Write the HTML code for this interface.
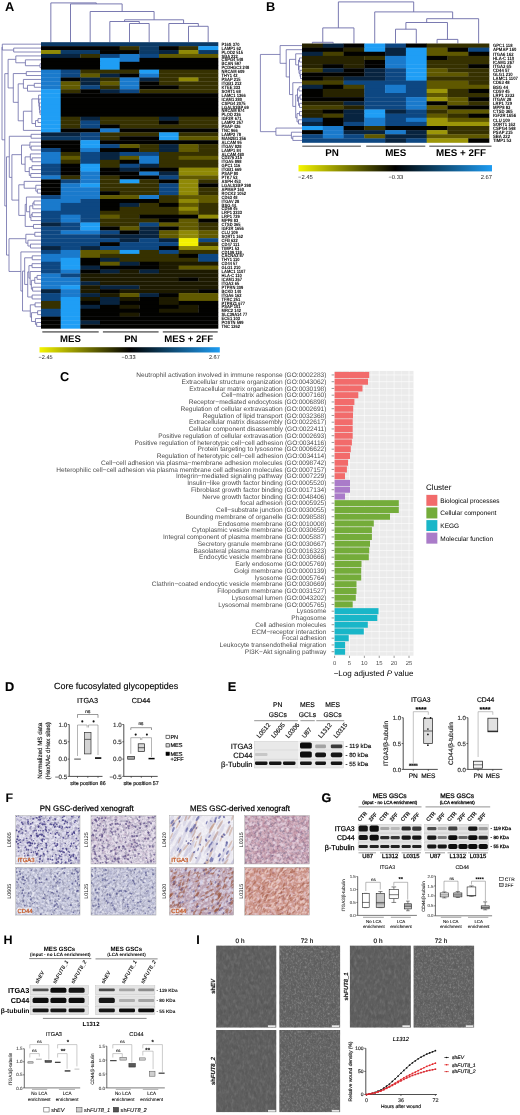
<!DOCTYPE html>
<html><head><meta charset="utf-8"><title>Figure</title>
<style>html,body{margin:0;padding:0;background:#fff;} svg{display:block;} text{font-family:"Liberation Sans",Arial,sans-serif;text-rendering:geometricPrecision;} .sb text{stroke:#1a1a1a;stroke-width:0.28px;paint-order:stroke;} .sb2 text{stroke:#1a1a1a;stroke-width:0.16px;paint-order:stroke;} .sb3 text{stroke:#333;stroke-width:0.08px;paint-order:stroke;}</style>
</head><body>
<svg width="520" height="1115" viewBox="0 0 520 1115">
<defs><linearGradient id="cbar" x1="0" x2="1" y1="0" y2="0">
<stop offset="0" stop-color="#f5f500"/><stop offset="0.5" stop-color="#000"/><stop offset="1" stop-color="#1e9cf2"/></linearGradient><filter id="nzL" x="0" y="0" width="100%" height="100%" color-interpolation-filters="sRGB"><feTurbulence type="fractalNoise" baseFrequency="0.4" numOctaves="2" seed="4"/><feColorMatrix type="matrix" values="0 0 0 0 1.000 0 0 0 0 1.000 0 0 0 0 1.000 1.4 0 0 0 -0.55"/><feComposite in2="SourceGraphic" operator="in"/></filter><filter id="nzD" x="0" y="0" width="100%" height="100%" color-interpolation-filters="sRGB"><feTurbulence type="fractalNoise" baseFrequency="0.4" numOctaves="2" seed="9"/><feColorMatrix type="matrix" values="0 0 0 0 0.235 0 0 0 0 0.235 0 0 0 0 0.392 1.0 0 0 0 -0.42"/><feComposite in2="SourceGraphic" operator="in"/></filter><filter id="nzB" x="0" y="0" width="100%" height="100%" color-interpolation-filters="sRGB"><feTurbulence type="fractalNoise" baseFrequency="0.3" numOctaves="2" seed="12"/><feColorMatrix type="matrix" values="0 0 0 0 0.588 0 0 0 0 0.275 0 0 0 0 0.235 1.6 0 0 0 -0.65"/><feComposite in2="SourceGraphic" operator="in"/></filter><filter id="nzP" x="0" y="0" width="100%" height="100%" color-interpolation-filters="sRGB"><feTurbulence type="fractalNoise" baseFrequency="0.3" numOctaves="2" seed="21"/><feColorMatrix type="matrix" values="0 0 0 0 0.941 0 0 0 0 0.882 0 0 0 0 0.941 1.6 0 0 0 -0.6"/><feComposite in2="SourceGraphic" operator="in"/></filter><filter id="gL" x="0" y="0" width="100%" height="100%" color-interpolation-filters="sRGB"><feTurbulence type="fractalNoise" baseFrequency="0.35 0.2" numOctaves="2" seed="5"/><feColorMatrix type="matrix" values="0 0 0 0 0.529 0 0 0 0 0.529 0 0 0 0 0.529 1.0 0 0 0 -0.42"/><feComposite in2="SourceGraphic" operator="in"/></filter><filter id="gD" x="0" y="0" width="100%" height="100%" color-interpolation-filters="sRGB"><feTurbulence type="fractalNoise" baseFrequency="0.35 0.2" numOctaves="2" seed="7"/><feColorMatrix type="matrix" values="0 0 0 0 0.294 0 0 0 0 0.294 0 0 0 0 0.294 1.0 0 0 0 -0.42"/><feComposite in2="SourceGraphic" operator="in"/></filter><filter id="gL2" x="0" y="0" width="100%" height="100%" color-interpolation-filters="sRGB"><feTurbulence type="fractalNoise" baseFrequency="0.6 0.45" numOctaves="2" seed="15"/><feColorMatrix type="matrix" values="0 0 0 0 0.588 0 0 0 0 0.588 0 0 0 0 0.588 1.6 0 0 0 -0.72"/><feComposite in2="SourceGraphic" operator="in"/></filter><filter id="b1" x="-20%" y="-60%" width="140%" height="220%"><feGaussianBlur stdDeviation="0.55"/></filter><filter id="b2" x="-20%" y="-20%" width="140%" height="140%"><feGaussianBlur stdDeviation="0.35"/></filter></defs>
<rect width="520" height="1115" fill="#fff"/>
<text x="5" y="10.8" font-size="12.8" font-weight="bold">A</text>
<path d="M129.50 42.20V23.50H149.17V42.20M109.83 42.20V21.50H139.34V23.50M188.50 42.20V26.30H208.17V42.20M168.84 42.20V23.50H198.34V26.30M124.58 21.50V19.80H183.59V23.50M90.17 42.20V11.50H154.09V19.80M70.50 42.20V3.90H122.13V11.50M50.83 42.20V2.90H96.31V3.90" fill="none" stroke="#6b6ba8" stroke-width="0.9"/>
<rect x="41.00" y="42.20" width="177.30" height="4.22" fill="#0b3a66"/>
<rect x="41.00" y="46.12" width="78.97" height="4.22" fill="#020200"/>
<rect x="119.67" y="46.12" width="19.97" height="4.22" fill="#363100"/>
<rect x="139.34" y="46.12" width="19.97" height="4.22" fill="#0b3a66"/>
<rect x="159.00" y="46.12" width="19.97" height="4.22" fill="#020200"/>
<rect x="178.67" y="46.12" width="19.97" height="4.22" fill="#363100"/>
<rect x="198.34" y="46.12" width="19.97" height="4.22" fill="#1f9ef5"/>
<rect x="41.00" y="50.04" width="19.97" height="4.22" fill="#8f8906"/>
<rect x="60.67" y="50.04" width="39.63" height="4.22" fill="#0b3a66"/>
<rect x="100.00" y="50.04" width="39.63" height="4.22" fill="#020200"/>
<rect x="139.34" y="50.04" width="19.97" height="4.22" fill="#0b3a66"/>
<rect x="159.00" y="50.04" width="19.97" height="4.22" fill="#082440"/>
<rect x="178.67" y="50.04" width="19.97" height="4.22" fill="#8f8906"/>
<rect x="198.34" y="50.04" width="19.97" height="4.22" fill="#0b3a66"/>
<rect x="41.00" y="53.96" width="39.63" height="4.22" fill="#082440"/>
<rect x="80.33" y="53.96" width="19.97" height="4.22" fill="#363100"/>
<rect x="100.00" y="53.96" width="19.97" height="4.22" fill="#0d4782"/>
<rect x="119.67" y="53.96" width="19.97" height="4.22" fill="#1a7acc"/>
<rect x="139.34" y="53.96" width="19.97" height="4.22" fill="#0d4782"/>
<rect x="159.00" y="53.96" width="59.30" height="4.22" fill="#615a00"/>
<rect x="41.00" y="57.88" width="59.30" height="4.22" fill="#020200"/>
<rect x="100.00" y="57.88" width="19.97" height="4.22" fill="#1f9ef5"/>
<rect x="119.67" y="57.88" width="19.97" height="4.22" fill="#1a7acc"/>
<rect x="139.34" y="57.88" width="78.97" height="4.22" fill="#020200"/>
<rect x="41.00" y="61.80" width="59.30" height="4.22" fill="#020200"/>
<rect x="100.00" y="61.80" width="19.97" height="4.22" fill="#1f9ef5"/>
<rect x="119.67" y="61.80" width="98.64" height="4.22" fill="#020200"/>
<rect x="41.00" y="65.72" width="59.30" height="4.22" fill="#020200"/>
<rect x="100.00" y="65.72" width="19.97" height="4.22" fill="#1f9ef5"/>
<rect x="119.67" y="65.72" width="98.64" height="4.22" fill="#020200"/>
<rect x="41.00" y="69.64" width="19.97" height="4.22" fill="#1a7acc"/>
<rect x="60.67" y="69.64" width="19.97" height="4.22" fill="#0d4782"/>
<rect x="80.33" y="69.64" width="59.30" height="4.22" fill="#363100"/>
<rect x="139.34" y="69.64" width="19.97" height="4.22" fill="#1f9ef5"/>
<rect x="159.00" y="69.64" width="59.30" height="4.22" fill="#363100"/>
<rect x="41.00" y="73.56" width="19.97" height="4.22" fill="#1a7acc"/>
<rect x="60.67" y="73.56" width="19.97" height="4.22" fill="#0d4782"/>
<rect x="80.33" y="73.56" width="19.97" height="4.22" fill="#615a00"/>
<rect x="100.00" y="73.56" width="19.97" height="4.22" fill="#082440"/>
<rect x="119.67" y="73.56" width="19.97" height="4.22" fill="#020200"/>
<rect x="139.34" y="73.56" width="19.97" height="4.22" fill="#1a7acc"/>
<rect x="159.00" y="73.56" width="59.30" height="4.22" fill="#363100"/>
<rect x="41.00" y="77.48" width="19.97" height="4.22" fill="#1a7acc"/>
<rect x="60.67" y="77.48" width="19.97" height="4.22" fill="#020200"/>
<rect x="80.33" y="77.48" width="19.97" height="4.22" fill="#082440"/>
<rect x="100.00" y="77.48" width="19.97" height="4.22" fill="#363100"/>
<rect x="119.67" y="77.48" width="19.97" height="4.22" fill="#1a7acc"/>
<rect x="139.34" y="77.48" width="19.97" height="4.22" fill="#082440"/>
<rect x="159.00" y="77.48" width="19.97" height="4.22" fill="#363100"/>
<rect x="178.67" y="77.48" width="19.97" height="4.22" fill="#8f8906"/>
<rect x="198.34" y="77.48" width="19.97" height="4.22" fill="#363100"/>
<rect x="41.00" y="81.40" width="19.97" height="4.22" fill="#1a7acc"/>
<rect x="60.67" y="81.40" width="19.97" height="4.22" fill="#615a00"/>
<rect x="80.33" y="81.40" width="19.97" height="4.22" fill="#082440"/>
<rect x="100.00" y="81.40" width="19.97" height="4.22" fill="#615a00"/>
<rect x="119.67" y="81.40" width="19.97" height="4.22" fill="#1a7acc"/>
<rect x="139.34" y="81.40" width="19.97" height="4.22" fill="#020200"/>
<rect x="159.00" y="81.40" width="59.30" height="4.22" fill="#363100"/>
<rect x="41.00" y="85.32" width="19.97" height="4.22" fill="#1a7acc"/>
<rect x="60.67" y="85.32" width="19.97" height="4.22" fill="#615a00"/>
<rect x="80.33" y="85.32" width="19.97" height="4.22" fill="#0d4782"/>
<rect x="100.00" y="85.32" width="19.97" height="4.22" fill="#363100"/>
<rect x="119.67" y="85.32" width="19.97" height="4.22" fill="#1a7acc"/>
<rect x="139.34" y="85.32" width="39.63" height="4.22" fill="#020200"/>
<rect x="178.67" y="85.32" width="39.63" height="4.22" fill="#363100"/>
<rect x="41.00" y="89.24" width="19.97" height="4.22" fill="#1f9ef5"/>
<rect x="60.67" y="89.24" width="19.97" height="4.22" fill="#363100"/>
<rect x="80.33" y="89.24" width="19.97" height="4.22" fill="#020200"/>
<rect x="100.00" y="89.24" width="19.97" height="4.22" fill="#082440"/>
<rect x="119.67" y="89.24" width="19.97" height="4.22" fill="#0d4782"/>
<rect x="139.34" y="89.24" width="78.97" height="4.22" fill="#363100"/>
<rect x="41.00" y="93.16" width="19.97" height="4.22" fill="#1f9ef5"/>
<rect x="60.67" y="93.16" width="157.64" height="4.22" fill="#020200"/>
<rect x="41.00" y="97.08" width="19.97" height="4.22" fill="#1f9ef5"/>
<rect x="60.67" y="97.08" width="157.64" height="4.22" fill="#020200"/>
<rect x="41.00" y="101.00" width="19.97" height="4.22" fill="#1f9ef5"/>
<rect x="60.67" y="101.00" width="157.64" height="4.22" fill="#020200"/>
<rect x="41.00" y="104.92" width="19.97" height="4.22" fill="#1f9ef5"/>
<rect x="60.67" y="104.92" width="157.64" height="4.22" fill="#020200"/>
<rect x="41.00" y="108.84" width="19.97" height="4.22" fill="#1f9ef5"/>
<rect x="60.67" y="108.84" width="157.64" height="4.22" fill="#020200"/>
<rect x="41.00" y="112.76" width="19.97" height="4.22" fill="#1f9ef5"/>
<rect x="60.67" y="112.76" width="157.64" height="4.22" fill="#020200"/>
<rect x="41.00" y="116.68" width="19.97" height="4.22" fill="#1f9ef5"/>
<rect x="60.67" y="116.68" width="19.97" height="4.22" fill="#363100"/>
<rect x="80.33" y="116.68" width="19.97" height="4.22" fill="#082440"/>
<rect x="100.00" y="116.68" width="59.30" height="4.22" fill="#363100"/>
<rect x="159.00" y="116.68" width="19.97" height="4.22" fill="#082440"/>
<rect x="178.67" y="116.68" width="39.63" height="4.22" fill="#363100"/>
<rect x="41.00" y="120.60" width="19.97" height="4.22" fill="#1f9ef5"/>
<rect x="60.67" y="120.60" width="19.97" height="4.22" fill="#363100"/>
<rect x="80.33" y="120.60" width="19.97" height="4.22" fill="#0d4782"/>
<rect x="100.00" y="120.60" width="59.30" height="4.22" fill="#363100"/>
<rect x="159.00" y="120.60" width="19.97" height="4.22" fill="#020200"/>
<rect x="178.67" y="120.60" width="39.63" height="4.22" fill="#363100"/>
<rect x="41.00" y="124.52" width="19.97" height="4.22" fill="#1f9ef5"/>
<rect x="60.67" y="124.52" width="19.97" height="4.22" fill="#363100"/>
<rect x="80.33" y="124.52" width="19.97" height="4.22" fill="#0d4782"/>
<rect x="100.00" y="124.52" width="19.97" height="4.22" fill="#020200"/>
<rect x="119.67" y="124.52" width="98.64" height="4.22" fill="#363100"/>
<rect x="41.00" y="128.44" width="19.97" height="4.22" fill="#1f9ef5"/>
<rect x="60.67" y="128.44" width="39.63" height="4.22" fill="#020200"/>
<rect x="100.00" y="128.44" width="19.97" height="4.22" fill="#1a7acc"/>
<rect x="119.67" y="128.44" width="98.64" height="4.22" fill="#020200"/>
<rect x="41.00" y="132.36" width="39.63" height="4.22" fill="#082440"/>
<rect x="80.33" y="132.36" width="19.97" height="4.22" fill="#0d4782"/>
<rect x="100.00" y="132.36" width="59.30" height="4.22" fill="#363100"/>
<rect x="159.00" y="132.36" width="19.97" height="4.22" fill="#1f9ef5"/>
<rect x="178.67" y="132.36" width="39.63" height="4.22" fill="#363100"/>
<rect x="41.00" y="136.28" width="39.63" height="4.22" fill="#0b3a66"/>
<rect x="80.33" y="136.28" width="19.97" height="4.22" fill="#0d4782"/>
<rect x="100.00" y="136.28" width="19.97" height="4.22" fill="#363100"/>
<rect x="119.67" y="136.28" width="39.63" height="4.22" fill="#020200"/>
<rect x="159.00" y="136.28" width="19.97" height="4.22" fill="#1f9ef5"/>
<rect x="178.67" y="136.28" width="39.63" height="4.22" fill="#615a00"/>
<rect x="41.00" y="140.20" width="39.63" height="4.22" fill="#020200"/>
<rect x="80.33" y="140.20" width="19.97" height="4.22" fill="#1f9ef5"/>
<rect x="100.00" y="140.20" width="118.30" height="4.22" fill="#020200"/>
<rect x="41.00" y="144.12" width="39.63" height="4.22" fill="#020200"/>
<rect x="80.33" y="144.12" width="19.97" height="4.22" fill="#1f9ef5"/>
<rect x="100.00" y="144.12" width="19.97" height="4.22" fill="#0d4782"/>
<rect x="119.67" y="144.12" width="19.97" height="4.22" fill="#615a00"/>
<rect x="139.34" y="144.12" width="19.97" height="4.22" fill="#363100"/>
<rect x="159.00" y="144.12" width="19.97" height="4.22" fill="#082440"/>
<rect x="178.67" y="144.12" width="19.97" height="4.22" fill="#615a00"/>
<rect x="198.34" y="144.12" width="19.97" height="4.22" fill="#363100"/>
<rect x="41.00" y="148.04" width="19.97" height="4.22" fill="#0d4782"/>
<rect x="60.67" y="148.04" width="19.97" height="4.22" fill="#020200"/>
<rect x="80.33" y="148.04" width="19.97" height="4.22" fill="#1a7acc"/>
<rect x="100.00" y="148.04" width="39.63" height="4.22" fill="#020200"/>
<rect x="139.34" y="148.04" width="19.97" height="4.22" fill="#363100"/>
<rect x="159.00" y="148.04" width="19.97" height="4.22" fill="#082440"/>
<rect x="178.67" y="148.04" width="19.97" height="4.22" fill="#615a00"/>
<rect x="198.34" y="148.04" width="19.97" height="4.22" fill="#363100"/>
<rect x="41.00" y="151.96" width="19.97" height="4.22" fill="#1a7acc"/>
<rect x="60.67" y="151.96" width="19.97" height="4.22" fill="#363100"/>
<rect x="80.33" y="151.96" width="19.97" height="4.22" fill="#0d4782"/>
<rect x="100.00" y="151.96" width="19.97" height="4.22" fill="#082440"/>
<rect x="119.67" y="151.96" width="39.63" height="4.22" fill="#0d4782"/>
<rect x="159.00" y="151.96" width="59.30" height="4.22" fill="#363100"/>
<rect x="41.00" y="155.88" width="19.97" height="4.22" fill="#1a7acc"/>
<rect x="60.67" y="155.88" width="19.97" height="4.22" fill="#615a00"/>
<rect x="80.33" y="155.88" width="19.97" height="4.22" fill="#0d4782"/>
<rect x="100.00" y="155.88" width="19.97" height="4.22" fill="#082440"/>
<rect x="119.67" y="155.88" width="19.97" height="4.22" fill="#615a00"/>
<rect x="139.34" y="155.88" width="19.97" height="4.22" fill="#1a7acc"/>
<rect x="159.00" y="155.88" width="19.97" height="4.22" fill="#363100"/>
<rect x="178.67" y="155.88" width="39.63" height="4.22" fill="#615a00"/>
<rect x="41.00" y="159.80" width="19.97" height="4.22" fill="#1a7acc"/>
<rect x="60.67" y="159.80" width="19.97" height="4.22" fill="#363100"/>
<rect x="80.33" y="159.80" width="19.97" height="4.22" fill="#0d4782"/>
<rect x="100.00" y="159.80" width="19.97" height="4.22" fill="#363100"/>
<rect x="119.67" y="159.80" width="19.97" height="4.22" fill="#020200"/>
<rect x="139.34" y="159.80" width="19.97" height="4.22" fill="#1a7acc"/>
<rect x="159.00" y="159.80" width="59.30" height="4.22" fill="#363100"/>
<rect x="41.00" y="163.72" width="19.97" height="4.22" fill="#0d4782"/>
<rect x="60.67" y="163.72" width="19.97" height="4.22" fill="#020200"/>
<rect x="80.33" y="163.72" width="19.97" height="4.22" fill="#1f9ef5"/>
<rect x="100.00" y="163.72" width="19.97" height="4.22" fill="#363100"/>
<rect x="119.67" y="163.72" width="19.97" height="4.22" fill="#0d4782"/>
<rect x="139.34" y="163.72" width="19.97" height="4.22" fill="#082440"/>
<rect x="159.00" y="163.72" width="59.30" height="4.22" fill="#363100"/>
<rect x="41.00" y="167.64" width="19.97" height="4.22" fill="#0d4782"/>
<rect x="60.67" y="167.64" width="19.97" height="4.22" fill="#020200"/>
<rect x="80.33" y="167.64" width="19.97" height="4.22" fill="#1f9ef5"/>
<rect x="100.00" y="167.64" width="19.97" height="4.22" fill="#020200"/>
<rect x="119.67" y="167.64" width="19.97" height="4.22" fill="#082440"/>
<rect x="139.34" y="167.64" width="39.63" height="4.22" fill="#020200"/>
<rect x="178.67" y="167.64" width="39.63" height="4.22" fill="#8f8906"/>
<rect x="41.00" y="171.56" width="19.97" height="4.22" fill="#0d4782"/>
<rect x="60.67" y="171.56" width="19.97" height="4.22" fill="#020200"/>
<rect x="80.33" y="171.56" width="19.97" height="4.22" fill="#1a7acc"/>
<rect x="100.00" y="171.56" width="39.63" height="4.22" fill="#020200"/>
<rect x="139.34" y="171.56" width="19.97" height="4.22" fill="#1a7acc"/>
<rect x="159.00" y="171.56" width="19.97" height="4.22" fill="#082440"/>
<rect x="178.67" y="171.56" width="39.63" height="4.22" fill="#8f8906"/>
<rect x="41.00" y="175.48" width="19.97" height="4.22" fill="#1a7acc"/>
<rect x="60.67" y="175.48" width="19.97" height="4.22" fill="#363100"/>
<rect x="80.33" y="175.48" width="19.97" height="4.22" fill="#1a7acc"/>
<rect x="100.00" y="175.48" width="19.97" height="4.22" fill="#363100"/>
<rect x="119.67" y="175.48" width="39.63" height="4.22" fill="#020200"/>
<rect x="159.00" y="175.48" width="19.97" height="4.22" fill="#0d4782"/>
<rect x="178.67" y="175.48" width="39.63" height="4.22" fill="#615a00"/>
<rect x="41.00" y="179.40" width="19.97" height="4.22" fill="#020200"/>
<rect x="60.67" y="179.40" width="19.97" height="4.22" fill="#0d4782"/>
<rect x="80.33" y="179.40" width="19.97" height="4.22" fill="#1a7acc"/>
<rect x="100.00" y="179.40" width="19.97" height="4.22" fill="#363100"/>
<rect x="119.67" y="179.40" width="19.97" height="4.22" fill="#1f9ef5"/>
<rect x="139.34" y="179.40" width="19.97" height="4.22" fill="#363100"/>
<rect x="159.00" y="179.40" width="19.97" height="4.22" fill="#020200"/>
<rect x="178.67" y="179.40" width="19.97" height="4.22" fill="#8f8906"/>
<rect x="198.34" y="179.40" width="19.97" height="4.22" fill="#363100"/>
<rect x="41.00" y="183.32" width="19.97" height="4.22" fill="#020200"/>
<rect x="60.67" y="183.32" width="19.97" height="4.22" fill="#1a7acc"/>
<rect x="80.33" y="183.32" width="19.97" height="4.22" fill="#1f9ef5"/>
<rect x="100.00" y="183.32" width="59.30" height="4.22" fill="#363100"/>
<rect x="159.00" y="183.32" width="19.97" height="4.22" fill="#0d4782"/>
<rect x="178.67" y="183.32" width="19.97" height="4.22" fill="#8f8906"/>
<rect x="198.34" y="183.32" width="19.97" height="4.22" fill="#020200"/>
<rect x="41.00" y="187.24" width="19.97" height="4.22" fill="#020200"/>
<rect x="60.67" y="187.24" width="39.63" height="4.22" fill="#1a7acc"/>
<rect x="100.00" y="187.24" width="59.30" height="4.22" fill="#363100"/>
<rect x="159.00" y="187.24" width="19.97" height="4.22" fill="#0d4782"/>
<rect x="178.67" y="187.24" width="19.97" height="4.22" fill="#8f8906"/>
<rect x="198.34" y="187.24" width="19.97" height="4.22" fill="#363100"/>
<rect x="41.00" y="191.16" width="19.97" height="4.22" fill="#020200"/>
<rect x="60.67" y="191.16" width="39.63" height="4.22" fill="#1a7acc"/>
<rect x="100.00" y="191.16" width="19.97" height="4.22" fill="#020200"/>
<rect x="119.67" y="191.16" width="39.63" height="4.22" fill="#363100"/>
<rect x="159.00" y="191.16" width="19.97" height="4.22" fill="#0d4782"/>
<rect x="178.67" y="191.16" width="19.97" height="4.22" fill="#8f8906"/>
<rect x="198.34" y="191.16" width="19.97" height="4.22" fill="#363100"/>
<rect x="41.00" y="195.08" width="19.97" height="4.22" fill="#0d4782"/>
<rect x="60.67" y="195.08" width="39.63" height="4.22" fill="#1a7acc"/>
<rect x="100.00" y="195.08" width="39.63" height="4.22" fill="#615a00"/>
<rect x="139.34" y="195.08" width="19.97" height="4.22" fill="#1a7acc"/>
<rect x="159.00" y="195.08" width="19.97" height="4.22" fill="#363100"/>
<rect x="178.67" y="195.08" width="39.63" height="4.22" fill="#615a00"/>
<rect x="41.00" y="199.00" width="39.63" height="4.22" fill="#1a7acc"/>
<rect x="80.33" y="199.00" width="19.97" height="4.22" fill="#0d4782"/>
<rect x="100.00" y="199.00" width="59.30" height="4.22" fill="#020200"/>
<rect x="159.00" y="199.00" width="19.97" height="4.22" fill="#363100"/>
<rect x="178.67" y="199.00" width="19.97" height="4.22" fill="#8f8906"/>
<rect x="198.34" y="199.00" width="19.97" height="4.22" fill="#615a00"/>
<rect x="41.00" y="202.92" width="19.97" height="4.22" fill="#1a7acc"/>
<rect x="60.67" y="202.92" width="39.63" height="4.22" fill="#0d4782"/>
<rect x="100.00" y="202.92" width="19.97" height="4.22" fill="#020200"/>
<rect x="119.67" y="202.92" width="19.97" height="4.22" fill="#082440"/>
<rect x="139.34" y="202.92" width="19.97" height="4.22" fill="#363100"/>
<rect x="159.00" y="202.92" width="19.97" height="4.22" fill="#020200"/>
<rect x="178.67" y="202.92" width="19.97" height="4.22" fill="#615a00"/>
<rect x="198.34" y="202.92" width="19.97" height="4.22" fill="#363100"/>
<rect x="41.00" y="206.84" width="19.97" height="4.22" fill="#1a7acc"/>
<rect x="60.67" y="206.84" width="39.63" height="4.22" fill="#0d4782"/>
<rect x="100.00" y="206.84" width="19.97" height="4.22" fill="#020200"/>
<rect x="119.67" y="206.84" width="59.30" height="4.22" fill="#363100"/>
<rect x="178.67" y="206.84" width="19.97" height="4.22" fill="#8f8906"/>
<rect x="198.34" y="206.84" width="19.97" height="4.22" fill="#363100"/>
<rect x="41.00" y="210.76" width="59.30" height="4.22" fill="#0d4782"/>
<rect x="100.00" y="210.76" width="78.97" height="4.22" fill="#363100"/>
<rect x="178.67" y="210.76" width="19.97" height="4.22" fill="#615a00"/>
<rect x="198.34" y="210.76" width="19.97" height="4.22" fill="#363100"/>
<rect x="41.00" y="214.68" width="19.97" height="4.22" fill="#0d4782"/>
<rect x="60.67" y="214.68" width="19.97" height="4.22" fill="#1a7acc"/>
<rect x="80.33" y="214.68" width="19.97" height="4.22" fill="#0d4782"/>
<rect x="100.00" y="214.68" width="19.97" height="4.22" fill="#615a00"/>
<rect x="119.67" y="214.68" width="19.97" height="4.22" fill="#363100"/>
<rect x="139.34" y="214.68" width="59.30" height="4.22" fill="#020200"/>
<rect x="198.34" y="214.68" width="19.97" height="4.22" fill="#8f8906"/>
<rect x="41.00" y="218.60" width="19.97" height="4.22" fill="#0d4782"/>
<rect x="60.67" y="218.60" width="19.97" height="4.22" fill="#1a7acc"/>
<rect x="80.33" y="218.60" width="19.97" height="4.22" fill="#0d4782"/>
<rect x="100.00" y="218.60" width="59.30" height="4.22" fill="#363100"/>
<rect x="159.00" y="218.60" width="19.97" height="4.22" fill="#020200"/>
<rect x="178.67" y="218.60" width="19.97" height="4.22" fill="#615a00"/>
<rect x="198.34" y="218.60" width="19.97" height="4.22" fill="#020200"/>
<rect x="41.00" y="222.52" width="19.97" height="4.22" fill="#082440"/>
<rect x="60.67" y="222.52" width="19.97" height="4.22" fill="#0d4782"/>
<rect x="80.33" y="222.52" width="19.97" height="4.22" fill="#1f9ef5"/>
<rect x="100.00" y="222.52" width="39.63" height="4.22" fill="#363100"/>
<rect x="139.34" y="222.52" width="19.97" height="4.22" fill="#0d4782"/>
<rect x="159.00" y="222.52" width="39.63" height="4.22" fill="#615a00"/>
<rect x="198.34" y="222.52" width="19.97" height="4.22" fill="#363100"/>
<rect x="41.00" y="226.44" width="39.63" height="4.22" fill="#0d4782"/>
<rect x="80.33" y="226.44" width="19.97" height="4.22" fill="#1f9ef5"/>
<rect x="100.00" y="226.44" width="19.97" height="4.22" fill="#020200"/>
<rect x="119.67" y="226.44" width="19.97" height="4.22" fill="#615a00"/>
<rect x="139.34" y="226.44" width="19.97" height="4.22" fill="#082440"/>
<rect x="159.00" y="226.44" width="19.97" height="4.22" fill="#020200"/>
<rect x="178.67" y="226.44" width="19.97" height="4.22" fill="#615a00"/>
<rect x="198.34" y="226.44" width="19.97" height="4.22" fill="#363100"/>
<rect x="41.00" y="230.36" width="19.97" height="4.22" fill="#0d4782"/>
<rect x="60.67" y="230.36" width="39.63" height="4.22" fill="#1a7acc"/>
<rect x="100.00" y="230.36" width="19.97" height="4.22" fill="#0d4782"/>
<rect x="119.67" y="230.36" width="19.97" height="4.22" fill="#020200"/>
<rect x="139.34" y="230.36" width="19.97" height="4.22" fill="#082440"/>
<rect x="159.00" y="230.36" width="19.97" height="4.22" fill="#615a00"/>
<rect x="178.67" y="230.36" width="19.97" height="4.22" fill="#8f8906"/>
<rect x="198.34" y="230.36" width="19.97" height="4.22" fill="#615a00"/>
<rect x="41.00" y="234.28" width="59.30" height="4.22" fill="#0d4782"/>
<rect x="100.00" y="234.28" width="59.30" height="4.22" fill="#082440"/>
<rect x="159.00" y="234.28" width="19.97" height="4.22" fill="#615a00"/>
<rect x="178.67" y="234.28" width="19.97" height="4.22" fill="#8f8906"/>
<rect x="198.34" y="234.28" width="19.97" height="4.22" fill="#615a00"/>
<rect x="41.00" y="238.20" width="78.97" height="4.22" fill="#0d4782"/>
<rect x="119.67" y="238.20" width="19.97" height="4.22" fill="#082440"/>
<rect x="139.34" y="238.20" width="19.97" height="4.22" fill="#0d4782"/>
<rect x="159.00" y="238.20" width="19.97" height="4.22" fill="#082440"/>
<rect x="178.67" y="238.20" width="19.97" height="4.22" fill="#f2f000"/>
<rect x="198.34" y="238.20" width="19.97" height="4.22" fill="#0d4782"/>
<rect x="41.00" y="242.12" width="59.30" height="4.22" fill="#0d4782"/>
<rect x="100.00" y="242.12" width="19.97" height="4.22" fill="#020200"/>
<rect x="119.67" y="242.12" width="59.30" height="4.22" fill="#0d4782"/>
<rect x="178.67" y="242.12" width="19.97" height="4.22" fill="#f2f000"/>
<rect x="198.34" y="242.12" width="19.97" height="4.22" fill="#363100"/>
<rect x="41.00" y="246.04" width="19.97" height="4.22" fill="#082440"/>
<rect x="60.67" y="246.04" width="19.97" height="4.22" fill="#0d4782"/>
<rect x="80.33" y="246.04" width="19.97" height="4.22" fill="#082440"/>
<rect x="100.00" y="246.04" width="59.30" height="4.22" fill="#0d4782"/>
<rect x="159.00" y="246.04" width="19.97" height="4.22" fill="#020200"/>
<rect x="178.67" y="246.04" width="39.63" height="4.22" fill="#8f8906"/>
<rect x="41.00" y="249.96" width="19.97" height="4.22" fill="#0d4782"/>
<rect x="60.67" y="249.96" width="19.97" height="4.22" fill="#1a7acc"/>
<rect x="80.33" y="249.96" width="39.63" height="4.22" fill="#615a00"/>
<rect x="119.67" y="249.96" width="19.97" height="4.22" fill="#1f9ef5"/>
<rect x="139.34" y="249.96" width="19.97" height="4.22" fill="#363100"/>
<rect x="159.00" y="249.96" width="19.97" height="4.22" fill="#0d4782"/>
<rect x="178.67" y="249.96" width="39.63" height="4.22" fill="#363100"/>
<rect x="41.00" y="253.88" width="39.63" height="4.22" fill="#1a7acc"/>
<rect x="80.33" y="253.88" width="19.97" height="4.22" fill="#615a00"/>
<rect x="100.00" y="253.88" width="78.97" height="4.22" fill="#363100"/>
<rect x="178.67" y="253.88" width="19.97" height="4.22" fill="#020200"/>
<rect x="198.34" y="253.88" width="19.97" height="4.22" fill="#0d4782"/>
<rect x="41.00" y="257.80" width="19.97" height="4.22" fill="#1a7acc"/>
<rect x="60.67" y="257.80" width="19.97" height="4.22" fill="#1f9ef5"/>
<rect x="80.33" y="257.80" width="19.97" height="4.22" fill="#020200"/>
<rect x="100.00" y="257.80" width="19.97" height="4.22" fill="#082440"/>
<rect x="119.67" y="257.80" width="78.97" height="4.22" fill="#363100"/>
<rect x="198.34" y="257.80" width="19.97" height="4.22" fill="#0d4782"/>
<rect x="41.00" y="261.72" width="19.97" height="4.22" fill="#0d4782"/>
<rect x="60.67" y="261.72" width="19.97" height="4.22" fill="#1f9ef5"/>
<rect x="80.33" y="261.72" width="19.97" height="4.22" fill="#020200"/>
<rect x="100.00" y="261.72" width="19.97" height="4.22" fill="#615a00"/>
<rect x="119.67" y="261.72" width="19.97" height="4.22" fill="#082440"/>
<rect x="139.34" y="261.72" width="19.97" height="4.22" fill="#020200"/>
<rect x="159.00" y="261.72" width="59.30" height="4.22" fill="#1d1a00"/>
<rect x="41.00" y="265.64" width="19.97" height="4.22" fill="#0d4782"/>
<rect x="60.67" y="265.64" width="19.97" height="4.22" fill="#1f9ef5"/>
<rect x="80.33" y="265.64" width="19.97" height="4.22" fill="#082440"/>
<rect x="100.00" y="265.64" width="59.30" height="4.22" fill="#020200"/>
<rect x="159.00" y="265.64" width="19.97" height="4.22" fill="#1d1a00"/>
<rect x="178.67" y="265.64" width="39.63" height="4.22" fill="#615a00"/>
<rect x="41.00" y="269.56" width="19.97" height="4.22" fill="#0d4782"/>
<rect x="60.67" y="269.56" width="19.97" height="4.22" fill="#1a7acc"/>
<rect x="80.33" y="269.56" width="19.97" height="4.22" fill="#020200"/>
<rect x="100.00" y="269.56" width="19.97" height="4.22" fill="#082440"/>
<rect x="119.67" y="269.56" width="19.97" height="4.22" fill="#1d1a00"/>
<rect x="139.34" y="269.56" width="19.97" height="4.22" fill="#082440"/>
<rect x="159.00" y="269.56" width="59.30" height="4.22" fill="#1d1a00"/>
<rect x="41.00" y="273.48" width="19.97" height="4.22" fill="#1a7acc"/>
<rect x="60.67" y="273.48" width="19.97" height="4.22" fill="#0d4782"/>
<rect x="80.33" y="273.48" width="137.97" height="4.22" fill="#1d1a00"/>
<rect x="41.00" y="277.40" width="39.63" height="4.22" fill="#1a7acc"/>
<rect x="80.33" y="277.40" width="98.64" height="4.22" fill="#1d1a00"/>
<rect x="178.67" y="277.40" width="19.97" height="4.22" fill="#020200"/>
<rect x="198.34" y="277.40" width="19.97" height="4.22" fill="#1d1a00"/>
<rect x="41.00" y="281.32" width="39.63" height="4.22" fill="#1a7acc"/>
<rect x="80.33" y="281.32" width="19.97" height="4.22" fill="#082440"/>
<rect x="100.00" y="281.32" width="118.30" height="4.22" fill="#1d1a00"/>
<rect x="41.00" y="285.24" width="19.97" height="4.22" fill="#1a7acc"/>
<rect x="60.67" y="285.24" width="19.97" height="4.22" fill="#1f9ef5"/>
<rect x="80.33" y="285.24" width="19.97" height="4.22" fill="#1d1a00"/>
<rect x="100.00" y="285.24" width="39.63" height="4.22" fill="#082440"/>
<rect x="139.34" y="285.24" width="78.97" height="4.22" fill="#1d1a00"/>
<rect x="41.00" y="289.16" width="19.97" height="4.22" fill="#082440"/>
<rect x="60.67" y="289.16" width="19.97" height="4.22" fill="#1a7acc"/>
<rect x="80.33" y="289.16" width="19.97" height="4.22" fill="#1d1a00"/>
<rect x="100.00" y="289.16" width="19.97" height="4.22" fill="#020200"/>
<rect x="119.67" y="289.16" width="78.97" height="4.22" fill="#1d1a00"/>
<rect x="198.34" y="289.16" width="19.97" height="4.22" fill="#020200"/>
<rect x="41.00" y="293.08" width="19.97" height="4.22" fill="#0d4782"/>
<rect x="60.67" y="293.08" width="19.97" height="4.22" fill="#1a7acc"/>
<rect x="80.33" y="293.08" width="19.97" height="4.22" fill="#082440"/>
<rect x="100.00" y="293.08" width="19.97" height="4.22" fill="#1d1a00"/>
<rect x="119.67" y="293.08" width="19.97" height="4.22" fill="#615a00"/>
<rect x="139.34" y="293.08" width="19.97" height="4.22" fill="#082440"/>
<rect x="159.00" y="293.08" width="19.97" height="4.22" fill="#020200"/>
<rect x="178.67" y="293.08" width="39.63" height="4.22" fill="#615a00"/>
<rect x="41.00" y="297.00" width="19.97" height="4.22" fill="#0d4782"/>
<rect x="60.67" y="297.00" width="19.97" height="4.22" fill="#1f9ef5"/>
<rect x="80.33" y="297.00" width="19.97" height="4.22" fill="#1d1a00"/>
<rect x="100.00" y="297.00" width="19.97" height="4.22" fill="#082440"/>
<rect x="119.67" y="297.00" width="19.97" height="4.22" fill="#1d1a00"/>
<rect x="139.34" y="297.00" width="19.97" height="4.22" fill="#020200"/>
<rect x="159.00" y="297.00" width="19.97" height="4.22" fill="#1d1a00"/>
<rect x="178.67" y="297.00" width="39.63" height="4.22" fill="#615a00"/>
<rect x="41.00" y="300.92" width="19.97" height="4.22" fill="#363100"/>
<rect x="60.67" y="300.92" width="19.97" height="4.22" fill="#1f9ef5"/>
<rect x="80.33" y="300.92" width="19.97" height="4.22" fill="#020200"/>
<rect x="100.00" y="300.92" width="19.97" height="4.22" fill="#082440"/>
<rect x="119.67" y="300.92" width="39.63" height="4.22" fill="#020200"/>
<rect x="159.00" y="300.92" width="19.97" height="4.22" fill="#1d1a00"/>
<rect x="178.67" y="300.92" width="39.63" height="4.22" fill="#020200"/>
<rect x="41.00" y="304.84" width="19.97" height="4.22" fill="#363100"/>
<rect x="60.67" y="304.84" width="19.97" height="4.22" fill="#1f9ef5"/>
<rect x="80.33" y="304.84" width="19.97" height="4.22" fill="#082440"/>
<rect x="100.00" y="304.84" width="19.97" height="4.22" fill="#020200"/>
<rect x="119.67" y="304.84" width="19.97" height="4.22" fill="#1d1a00"/>
<rect x="139.34" y="304.84" width="39.63" height="4.22" fill="#020200"/>
<rect x="178.67" y="304.84" width="19.97" height="4.22" fill="#1d1a00"/>
<rect x="198.34" y="304.84" width="19.97" height="4.22" fill="#020200"/>
<rect x="41.00" y="308.76" width="19.97" height="4.22" fill="#0d4782"/>
<rect x="60.67" y="308.76" width="19.97" height="4.22" fill="#1f9ef5"/>
<rect x="80.33" y="308.76" width="78.97" height="4.22" fill="#020200"/>
<rect x="159.00" y="308.76" width="39.63" height="4.22" fill="#1d1a00"/>
<rect x="198.34" y="308.76" width="19.97" height="4.22" fill="#020200"/>
<rect x="41.00" y="312.68" width="19.97" height="4.22" fill="#0d4782"/>
<rect x="60.67" y="312.68" width="19.97" height="4.22" fill="#1f9ef5"/>
<rect x="80.33" y="312.68" width="39.63" height="4.22" fill="#020200"/>
<rect x="119.67" y="312.68" width="19.97" height="4.22" fill="#1d1a00"/>
<rect x="139.34" y="312.68" width="78.97" height="4.22" fill="#020200"/>
<rect x="41.00" y="316.60" width="19.97" height="4.22" fill="#020200"/>
<rect x="60.67" y="316.60" width="19.97" height="4.22" fill="#1f9ef5"/>
<rect x="80.33" y="316.60" width="137.97" height="4.22" fill="#020200"/>
<rect x="41.00" y="320.52" width="19.97" height="4.22" fill="#020200"/>
<rect x="60.67" y="320.52" width="19.97" height="4.22" fill="#1f9ef5"/>
<rect x="80.33" y="320.52" width="19.97" height="4.22" fill="#082440"/>
<rect x="100.00" y="320.52" width="118.30" height="4.22" fill="#020200"/>
<rect x="41.00" y="324.44" width="19.97" height="4.22" fill="#020200"/>
<rect x="60.67" y="324.44" width="19.97" height="4.22" fill="#1f9ef5"/>
<rect x="80.33" y="324.44" width="137.97" height="4.22" fill="#020200"/>
<path d="M41.00 48.08H13.70V52.00H41.00M41.00 44.16H2.30V50.04H13.70M41.00 63.76H40.00V67.68H41.00M41.00 59.84H25.40V65.72H40.00M41.00 55.92H15.80V62.78H25.40M41.00 71.60H26.30V75.52H41.00M41.00 83.36H34.30V87.28H41.00M34.30 85.32H27.50V91.20H41.00M41.00 79.44H23.40V88.26H27.50M41.00 110.80H40.12V114.72H41.00M41.00 106.88H39.74V112.76H40.12M41.00 102.96H39.36V109.82H39.74M41.00 99.04H38.98V106.39H39.36M41.00 95.12H38.60V102.72H38.98M41.00 118.64H38.00V122.56H41.00M38.00 120.60H35.50V126.48H41.00M38.60 98.92H31.90V123.54H35.50M31.90 111.23H23.40V130.40H41.00M23.40 83.85H18.20V120.81H23.40M26.30 73.56H13.30V102.33H18.20M15.80 59.35H8.10V87.95H13.30M41.00 134.32H31.10V138.24H41.00M41.00 146.08H31.11V150.00H41.00M41.00 142.16H29.91V148.04H31.11M41.00 157.84H32.05V161.76H41.00M41.00 153.92H30.33V159.80H32.05M41.00 165.68H31.93V169.60H41.00M41.00 173.52H30.76V177.44H41.00M31.93 167.64H29.29V175.48H30.76M30.33 156.86H25.10V171.56H29.29M29.91 145.10H21.51V164.21H25.10M41.00 189.20H37.37V193.12H41.00M41.00 185.28H35.82V191.16H37.37M41.00 181.36H24.16V188.22H35.82M41.00 200.96H34.00V204.88H41.00M34.00 202.92H32.80V208.80H41.00M41.00 212.72H32.14V216.64H41.00M32.14 214.68H30.93V220.56H41.00M32.80 205.86H29.73V217.62H30.93M41.00 197.04H26.42V211.74H29.73M41.00 224.48H33.49V228.40H41.00M26.42 204.39H25.21V226.44H33.49M24.16 184.79H18.79V215.42H25.21M21.51 154.66H11.90V200.10H18.79M31.10 136.28H9.30V177.38H11.90M41.00 232.32H34.81V236.24H41.00M41.00 244.08H30.44V248.00H41.00M41.00 240.16H27.91V246.04H30.44M34.81 234.28H25.87V243.10H27.91M41.00 255.84H32.23V259.76H41.00M41.00 263.68H32.05V267.60H41.00M41.00 275.44H37.07V279.36H41.00M37.07 277.40H34.78V283.28H41.00M41.00 287.20H32.60V291.12H41.00M34.78 280.34H31.38V289.16H32.60M41.00 271.52H30.16V284.75H31.38M32.05 265.64H28.94V278.13H30.16M41.00 295.04H32.11V298.96H41.00M28.94 271.89H27.72V297.00H32.11M32.23 257.80H24.67V284.44H27.72M41.00 302.88H35.09V306.80H41.00M41.00 310.72H37.61V314.64H41.00M41.00 322.48H36.67V326.40H41.00M41.00 318.56H35.45V324.44H36.67M37.61 312.68H31.53V321.50H35.45M35.09 304.84H30.31V317.09H31.53M24.67 271.12H22.52V310.97H30.31M41.00 251.92H20.88V291.04H22.52M25.87 238.69H9.00V271.48H20.88M9.30 156.83H6.50V255.09H9.00M8.10 73.65H4.80V205.96H6.50M2.30 47.10H2.00V139.80H4.80" fill="none" stroke="#6b6ba8" stroke-width="0.8"/>
<text transform="translate(221.6 45.78) scale(0.088 0.1)" font-size="46" font-weight="bold">P16S 370</text>
<text transform="translate(221.6 49.70) scale(0.088 0.1)" font-size="46" font-weight="bold">LAMP1 62</text>
<text transform="translate(221.6 53.62) scale(0.088 0.1)" font-size="46" font-weight="bold">PLOD2 515</text>
<text transform="translate(221.6 57.54) scale(0.088 0.1)" font-size="46" font-weight="bold">SBA 222</text>
<text transform="translate(221.6 61.46) scale(0.088 0.1)" font-size="46" font-weight="bold">CSPG4 548</text>
<text transform="translate(221.6 65.38) scale(0.088 0.1)" font-size="46" font-weight="bold">BCAN 597</text>
<text transform="translate(221.6 69.30) scale(0.088 0.1)" font-size="46" font-weight="bold">PCDHGC3 248</text>
<text transform="translate(221.6 73.22) scale(0.088 0.1)" font-size="46" font-weight="bold">NRCAM 609</text>
<text transform="translate(221.6 77.14) scale(0.088 0.1)" font-size="46" font-weight="bold">THY1 42</text>
<text transform="translate(221.6 81.06) scale(0.088 0.1)" font-size="46" font-weight="bold">PSAP 215</text>
<text transform="translate(221.6 84.98) scale(0.088 0.1)" font-size="46" font-weight="bold">ITGB1 212</text>
<text transform="translate(221.6 88.90) scale(0.088 0.1)" font-size="46" font-weight="bold">KTEE 333</text>
<text transform="translate(221.6 92.82) scale(0.088 0.1)" font-size="46" font-weight="bold">SORT1 68</text>
<text transform="translate(221.6 96.74) scale(0.088 0.1)" font-size="46" font-weight="bold">LAMC1 1366</text>
<text transform="translate(221.6 100.66) scale(0.088 0.1)" font-size="46" font-weight="bold">ICAM1 280</text>
<text transform="translate(221.6 104.58) scale(0.088 0.1)" font-size="46" font-weight="bold">CSPG4 2075</text>
<text transform="translate(221.6 108.50) scale(0.088 0.1)" font-size="46" font-weight="bold">LGALS3BP 69</text>
<text transform="translate(221.6 112.42) scale(0.088 0.1)" font-size="46" font-weight="bold">NRCAM 974</text>
<text transform="translate(221.6 116.34) scale(0.088 0.1)" font-size="46" font-weight="bold">PLOD 236</text>
<text transform="translate(221.6 120.26) scale(0.088 0.1)" font-size="46" font-weight="bold">IGF2R 671</text>
<text transform="translate(221.6 124.18) scale(0.088 0.1)" font-size="46" font-weight="bold">LAMP2 257</text>
<text transform="translate(221.6 128.10) scale(0.088 0.1)" font-size="46" font-weight="bold">PSAP 426</text>
<text transform="translate(221.6 132.02) scale(0.088 0.1)" font-size="46" font-weight="bold">TNC 966</text>
<text transform="translate(221.6 135.94) scale(0.088 0.1)" font-size="46" font-weight="bold">LAMP2 78</text>
<text transform="translate(221.6 139.86) scale(0.088 0.1)" font-size="46" font-weight="bold">MAN2B1 356</text>
<text transform="translate(221.6 143.78) scale(0.088 0.1)" font-size="46" font-weight="bold">ALCAM 95</text>
<text transform="translate(221.6 147.70) scale(0.088 0.1)" font-size="46" font-weight="bold">ITGAV 828</text>
<text transform="translate(221.6 151.62) scale(0.088 0.1)" font-size="46" font-weight="bold">LAMP1 84</text>
<text transform="translate(221.6 155.54) scale(0.088 0.1)" font-size="46" font-weight="bold">ALCAM 480</text>
<text transform="translate(221.6 159.46) scale(0.088 0.1)" font-size="46" font-weight="bold">CD276 215</text>
<text transform="translate(221.6 163.38) scale(0.088 0.1)" font-size="46" font-weight="bold">ITGA5 898</text>
<text transform="translate(221.6 167.30) scale(0.088 0.1)" font-size="46" font-weight="bold">GPC1 116</text>
<text transform="translate(221.6 171.22) scale(0.088 0.1)" font-size="46" font-weight="bold">ITGB1 669</text>
<text transform="translate(221.6 175.14) scale(0.088 0.1)" font-size="46" font-weight="bold">PSAP 80</text>
<text transform="translate(221.6 179.06) scale(0.088 0.1)" font-size="46" font-weight="bold">PTK7 53</text>
<text transform="translate(221.6 182.98) scale(0.088 0.1)" font-size="46" font-weight="bold">ASPH 453</text>
<text transform="translate(221.6 186.90) scale(0.088 0.1)" font-size="46" font-weight="bold">LGALS3BP 398</text>
<text transform="translate(221.6 190.82) scale(0.088 0.1)" font-size="46" font-weight="bold">APMAP 160</text>
<text transform="translate(221.6 194.74) scale(0.088 0.1)" font-size="46" font-weight="bold">ROCK2 1052</text>
<text transform="translate(221.6 198.66) scale(0.088 0.1)" font-size="46" font-weight="bold">CD63 48</text>
<text transform="translate(221.6 202.58) scale(0.088 0.1)" font-size="46" font-weight="bold">ITGAV 28</text>
<text transform="translate(221.6 206.50) scale(0.088 0.1)" font-size="46" font-weight="bold">BSG 44</text>
<text transform="translate(221.6 210.42) scale(0.088 0.1)" font-size="46" font-weight="bold">CD59 45</text>
<text transform="translate(221.6 214.34) scale(0.088 0.1)" font-size="46" font-weight="bold">LRP1 3333</text>
<text transform="translate(221.6 218.26) scale(0.088 0.1)" font-size="46" font-weight="bold">LRP1 729</text>
<text transform="translate(221.6 222.18) scale(0.088 0.1)" font-size="46" font-weight="bold">MPP8 83</text>
<text transform="translate(221.6 226.10) scale(0.088 0.1)" font-size="46" font-weight="bold">CTSD 365</text>
<text transform="translate(221.6 230.02) scale(0.088 0.1)" font-size="46" font-weight="bold">IGF2R 1656</text>
<text transform="translate(221.6 233.94) scale(0.088 0.1)" font-size="46" font-weight="bold">CLU 109</text>
<text transform="translate(221.6 237.86) scale(0.088 0.1)" font-size="46" font-weight="bold">SORT1 162</text>
<text transform="translate(221.6 241.78) scale(0.088 0.1)" font-size="46" font-weight="bold">CFB 622</text>
<text transform="translate(221.6 245.70) scale(0.088 0.1)" font-size="46" font-weight="bold">CD47 111</text>
<text transform="translate(221.6 249.62) scale(0.088 0.1)" font-size="46" font-weight="bold">TIMP1 53</text>
<text transform="translate(221.6 253.54) scale(0.088 0.1)" font-size="46" font-weight="bold">CD109 118</text>
<text transform="translate(221.6 257.46) scale(0.088 0.1)" font-size="46" font-weight="bold">CACNA2 87</text>
<text transform="translate(221.6 261.38) scale(0.088 0.1)" font-size="46" font-weight="bold">THY1 110</text>
<text transform="translate(221.6 265.30) scale(0.088 0.1)" font-size="46" font-weight="bold">CD44 57</text>
<text transform="translate(221.6 269.22) scale(0.088 0.1)" font-size="46" font-weight="bold">GLG1 210</text>
<text transform="translate(221.6 273.14) scale(0.088 0.1)" font-size="46" font-weight="bold">LAMC1 1107</text>
<text transform="translate(221.6 277.06) scale(0.088 0.1)" font-size="46" font-weight="bold">HLA-C 110</text>
<text transform="translate(221.6 280.98) scale(0.088 0.1)" font-size="46" font-weight="bold">ICAM1 267</text>
<text transform="translate(221.6 284.90) scale(0.088 0.1)" font-size="46" font-weight="bold">ITGA3 65</text>
<text transform="translate(221.6 288.82) scale(0.088 0.1)" font-size="46" font-weight="bold">PTPRN 309</text>
<text transform="translate(221.6 292.74) scale(0.088 0.1)" font-size="46" font-weight="bold">BCKD 140</text>
<text transform="translate(221.6 296.66) scale(0.088 0.1)" font-size="46" font-weight="bold">ITGA6 162</text>
<text transform="translate(221.6 300.58) scale(0.088 0.1)" font-size="46" font-weight="bold">TFRC 251</text>
<text transform="translate(221.6 304.50) scale(0.088 0.1)" font-size="46" font-weight="bold">PTPRZ1 677</text>
<text transform="translate(221.6 308.42) scale(0.088 0.1)" font-size="46" font-weight="bold">PSAP 101</text>
<text transform="translate(221.6 312.34) scale(0.088 0.1)" font-size="46" font-weight="bold">MRC2 142</text>
<text transform="translate(221.6 316.26) scale(0.088 0.1)" font-size="46" font-weight="bold">SLC39A14 77</text>
<text transform="translate(221.6 320.18) scale(0.088 0.1)" font-size="46" font-weight="bold">ECE1 103</text>
<text transform="translate(221.6 324.10) scale(0.088 0.1)" font-size="46" font-weight="bold">POSTN 599</text>
<text transform="translate(221.6 328.02) scale(0.088 0.1)" font-size="46" font-weight="bold">TNC 1262</text>
<line x1="42.3" y1="331.9" x2="98.7" y2="331.9" stroke="#7d7d7d" stroke-width="1.6"/>
<line x1="102.9" y1="331.9" x2="158.6" y2="331.9" stroke="#7d7d7d" stroke-width="1.6"/>
<line x1="162.8" y1="331.9" x2="217.7" y2="331.9" stroke="#7d7d7d" stroke-width="1.6"/>
<text x="70.5" y="342" font-size="9.6" font-weight="bold" text-anchor="middle">MES</text>
<text x="130.8" y="342" font-size="9.6" font-weight="bold" text-anchor="middle">PN</text>
<text x="188.7" y="342" font-size="9.6" font-weight="bold" text-anchor="middle">MES + 2FF</text>
<rect x="39.5" y="347.2" width="180.3" height="5.3" fill="url(#cbar)"/>
<text x="38.5" y="359.2" font-size="5.6" fill="#222">−2.45</text>
<text x="128.5" y="359.2" font-size="5.6" fill="#222" text-anchor="middle">−0.33</text>
<text x="219.8" y="359.2" font-size="5.6" fill="#222" text-anchor="end">2.67</text>
<text x="266" y="10.8" font-size="12.8" font-weight="bold">B</text>
<path d="M312.39 43.50V42.30H333.17V43.50M322.78 42.30V27.90H353.95V43.50M395.51 43.50V29.20H416.29V43.50M437.07 43.50V39.40H457.85V43.50M405.90 29.20V22.50H447.46V39.40M426.68 22.50V18.70H478.63V43.50M374.73 43.50V11.90H452.65V18.70M338.37 27.90V1.90H413.69V11.90" fill="none" stroke="#6b6ba8" stroke-width="0.9"/>
<rect x="302.00" y="43.50" width="21.08" height="4.42" fill="#272300"/>
<rect x="322.78" y="43.50" width="21.08" height="4.42" fill="#082440"/>
<rect x="343.56" y="43.50" width="21.08" height="4.42" fill="#020200"/>
<rect x="364.34" y="43.50" width="21.08" height="4.42" fill="#1f9ef5"/>
<rect x="385.12" y="43.50" width="21.08" height="4.42" fill="#0d4782"/>
<rect x="405.90" y="43.50" width="21.08" height="4.42" fill="#020200"/>
<rect x="426.68" y="43.50" width="62.64" height="4.42" fill="#363100"/>
<rect x="302.00" y="47.62" width="41.86" height="4.42" fill="#020200"/>
<rect x="343.56" y="47.62" width="21.08" height="4.42" fill="#272300"/>
<rect x="364.34" y="47.62" width="21.08" height="4.42" fill="#1f9ef5"/>
<rect x="385.12" y="47.62" width="21.08" height="4.42" fill="#082440"/>
<rect x="405.90" y="47.62" width="21.08" height="4.42" fill="#1f9ef5"/>
<rect x="426.68" y="47.62" width="21.08" height="4.42" fill="#5f5800"/>
<rect x="447.46" y="47.62" width="21.08" height="4.42" fill="#020200"/>
<rect x="468.24" y="47.62" width="21.08" height="4.42" fill="#0d4782"/>
<rect x="302.00" y="51.75" width="21.08" height="4.42" fill="#082440"/>
<rect x="322.78" y="51.75" width="21.08" height="4.42" fill="#464000"/>
<rect x="343.56" y="51.75" width="41.86" height="4.42" fill="#020200"/>
<rect x="385.12" y="51.75" width="21.08" height="4.42" fill="#082440"/>
<rect x="405.90" y="51.75" width="21.08" height="4.42" fill="#1f9ef5"/>
<rect x="426.68" y="51.75" width="41.86" height="4.42" fill="#5f5800"/>
<rect x="468.24" y="51.75" width="21.08" height="4.42" fill="#020200"/>
<rect x="302.00" y="55.88" width="62.64" height="4.42" fill="#272300"/>
<rect x="364.34" y="55.88" width="21.08" height="4.42" fill="#363100"/>
<rect x="385.12" y="55.88" width="21.08" height="4.42" fill="#1a7acc"/>
<rect x="405.90" y="55.88" width="21.08" height="4.42" fill="#1f9ef5"/>
<rect x="426.68" y="55.88" width="21.08" height="4.42" fill="#020200"/>
<rect x="447.46" y="55.88" width="41.86" height="4.42" fill="#363100"/>
<rect x="302.00" y="60.00" width="62.64" height="4.42" fill="#272300"/>
<rect x="364.34" y="60.00" width="21.08" height="4.42" fill="#020200"/>
<rect x="385.12" y="60.00" width="21.08" height="4.42" fill="#1a7acc"/>
<rect x="405.90" y="60.00" width="21.08" height="4.42" fill="#1f9ef5"/>
<rect x="426.68" y="60.00" width="62.64" height="4.42" fill="#363100"/>
<rect x="302.00" y="64.12" width="21.08" height="4.42" fill="#272300"/>
<rect x="322.78" y="64.12" width="21.08" height="4.42" fill="#020200"/>
<rect x="343.56" y="64.12" width="21.08" height="4.42" fill="#272300"/>
<rect x="364.34" y="64.12" width="21.08" height="4.42" fill="#020200"/>
<rect x="385.12" y="64.12" width="21.08" height="4.42" fill="#1a7acc"/>
<rect x="405.90" y="64.12" width="21.08" height="4.42" fill="#1f9ef5"/>
<rect x="426.68" y="64.12" width="41.86" height="4.42" fill="#363100"/>
<rect x="468.24" y="64.12" width="21.08" height="4.42" fill="#020200"/>
<rect x="302.00" y="68.25" width="21.08" height="4.42" fill="#464000"/>
<rect x="322.78" y="68.25" width="21.08" height="4.42" fill="#082440"/>
<rect x="343.56" y="68.25" width="21.08" height="4.42" fill="#020200"/>
<rect x="364.34" y="68.25" width="21.08" height="4.42" fill="#082440"/>
<rect x="385.12" y="68.25" width="21.08" height="4.42" fill="#0d4782"/>
<rect x="405.90" y="68.25" width="21.08" height="4.42" fill="#1f9ef5"/>
<rect x="426.68" y="68.25" width="21.08" height="4.42" fill="#5f5800"/>
<rect x="447.46" y="68.25" width="41.86" height="4.42" fill="#363100"/>
<rect x="302.00" y="72.38" width="62.64" height="4.42" fill="#020200"/>
<rect x="364.34" y="72.38" width="21.08" height="4.42" fill="#082440"/>
<rect x="385.12" y="72.38" width="21.08" height="4.42" fill="#0d4782"/>
<rect x="405.90" y="72.38" width="21.08" height="4.42" fill="#1f9ef5"/>
<rect x="426.68" y="72.38" width="41.86" height="4.42" fill="#5f5800"/>
<rect x="468.24" y="72.38" width="21.08" height="4.42" fill="#363100"/>
<rect x="302.00" y="76.50" width="21.08" height="4.42" fill="#020200"/>
<rect x="322.78" y="76.50" width="21.08" height="4.42" fill="#272300"/>
<rect x="343.56" y="76.50" width="41.86" height="4.42" fill="#082440"/>
<rect x="385.12" y="76.50" width="21.08" height="4.42" fill="#0d4782"/>
<rect x="405.90" y="76.50" width="21.08" height="4.42" fill="#1f9ef5"/>
<rect x="426.68" y="76.50" width="62.64" height="4.42" fill="#363100"/>
<rect x="302.00" y="80.62" width="41.86" height="4.42" fill="#464000"/>
<rect x="343.56" y="80.62" width="83.42" height="4.42" fill="#0d4782"/>
<rect x="426.68" y="80.62" width="41.86" height="4.42" fill="#5f5800"/>
<rect x="468.24" y="80.62" width="21.08" height="4.42" fill="#363100"/>
<rect x="302.00" y="84.75" width="21.08" height="4.42" fill="#082440"/>
<rect x="322.78" y="84.75" width="21.08" height="4.42" fill="#020200"/>
<rect x="343.56" y="84.75" width="21.08" height="4.42" fill="#464000"/>
<rect x="364.34" y="84.75" width="21.08" height="4.42" fill="#0d4782"/>
<rect x="385.12" y="84.75" width="21.08" height="4.42" fill="#1a7acc"/>
<rect x="405.90" y="84.75" width="21.08" height="4.42" fill="#0d4782"/>
<rect x="426.68" y="84.75" width="62.64" height="4.42" fill="#5f5800"/>
<rect x="302.00" y="88.88" width="21.08" height="4.42" fill="#020200"/>
<rect x="322.78" y="88.88" width="41.86" height="4.42" fill="#272300"/>
<rect x="364.34" y="88.88" width="21.08" height="4.42" fill="#0d4782"/>
<rect x="385.12" y="88.88" width="21.08" height="4.42" fill="#1a7acc"/>
<rect x="405.90" y="88.88" width="21.08" height="4.42" fill="#0d4782"/>
<rect x="426.68" y="88.88" width="21.08" height="4.42" fill="#9c9608"/>
<rect x="447.46" y="88.88" width="21.08" height="4.42" fill="#363100"/>
<rect x="468.24" y="88.88" width="21.08" height="4.42" fill="#020200"/>
<rect x="302.00" y="93.00" width="21.08" height="4.42" fill="#020200"/>
<rect x="322.78" y="93.00" width="41.86" height="4.42" fill="#272300"/>
<rect x="364.34" y="93.00" width="62.64" height="4.42" fill="#0d4782"/>
<rect x="426.68" y="93.00" width="21.08" height="4.42" fill="#5f5800"/>
<rect x="447.46" y="93.00" width="41.86" height="4.42" fill="#363100"/>
<rect x="302.00" y="97.12" width="62.64" height="4.42" fill="#020200"/>
<rect x="364.34" y="97.12" width="41.86" height="4.42" fill="#0d4782"/>
<rect x="405.90" y="97.12" width="21.08" height="4.42" fill="#1a7acc"/>
<rect x="426.68" y="97.12" width="21.08" height="4.42" fill="#9c9608"/>
<rect x="447.46" y="97.12" width="21.08" height="4.42" fill="#5f5800"/>
<rect x="468.24" y="97.12" width="21.08" height="4.42" fill="#020200"/>
<rect x="302.00" y="101.25" width="41.86" height="4.42" fill="#272300"/>
<rect x="343.56" y="101.25" width="21.08" height="4.42" fill="#082440"/>
<rect x="364.34" y="101.25" width="41.86" height="4.42" fill="#0d4782"/>
<rect x="405.90" y="101.25" width="21.08" height="4.42" fill="#1a7acc"/>
<rect x="426.68" y="101.25" width="21.08" height="4.42" fill="#020200"/>
<rect x="447.46" y="101.25" width="21.08" height="4.42" fill="#5f5800"/>
<rect x="468.24" y="101.25" width="21.08" height="4.42" fill="#363100"/>
<rect x="302.00" y="105.38" width="41.86" height="4.42" fill="#464000"/>
<rect x="343.56" y="105.38" width="21.08" height="4.42" fill="#272300"/>
<rect x="364.34" y="105.38" width="41.86" height="4.42" fill="#0d4782"/>
<rect x="405.90" y="105.38" width="21.08" height="4.42" fill="#1a7acc"/>
<rect x="426.68" y="105.38" width="21.08" height="4.42" fill="#5f5800"/>
<rect x="447.46" y="105.38" width="41.86" height="4.42" fill="#020200"/>
<rect x="302.00" y="109.50" width="21.08" height="4.42" fill="#272300"/>
<rect x="322.78" y="109.50" width="21.08" height="4.42" fill="#020200"/>
<rect x="343.56" y="109.50" width="21.08" height="4.42" fill="#082440"/>
<rect x="364.34" y="109.50" width="21.08" height="4.42" fill="#1f9ef5"/>
<rect x="385.12" y="109.50" width="21.08" height="4.42" fill="#082440"/>
<rect x="405.90" y="109.50" width="21.08" height="4.42" fill="#0d4782"/>
<rect x="426.68" y="109.50" width="21.08" height="4.42" fill="#363100"/>
<rect x="447.46" y="109.50" width="41.86" height="4.42" fill="#5f5800"/>
<rect x="302.00" y="113.62" width="21.08" height="4.42" fill="#272300"/>
<rect x="322.78" y="113.62" width="21.08" height="4.42" fill="#464000"/>
<rect x="343.56" y="113.62" width="21.08" height="4.42" fill="#082440"/>
<rect x="364.34" y="113.62" width="21.08" height="4.42" fill="#1f9ef5"/>
<rect x="385.12" y="113.62" width="41.86" height="4.42" fill="#0d4782"/>
<rect x="426.68" y="113.62" width="21.08" height="4.42" fill="#5f5800"/>
<rect x="447.46" y="113.62" width="21.08" height="4.42" fill="#363100"/>
<rect x="468.24" y="113.62" width="21.08" height="4.42" fill="#020200"/>
<rect x="302.00" y="117.75" width="21.08" height="4.42" fill="#0d4782"/>
<rect x="322.78" y="117.75" width="21.08" height="4.42" fill="#020200"/>
<rect x="343.56" y="117.75" width="21.08" height="4.42" fill="#082440"/>
<rect x="364.34" y="117.75" width="21.08" height="4.42" fill="#1a7acc"/>
<rect x="385.12" y="117.75" width="21.08" height="4.42" fill="#0d4782"/>
<rect x="405.90" y="117.75" width="21.08" height="4.42" fill="#1a7acc"/>
<rect x="426.68" y="117.75" width="21.08" height="4.42" fill="#9c9608"/>
<rect x="447.46" y="117.75" width="41.86" height="4.42" fill="#5f5800"/>
<rect x="302.00" y="121.88" width="21.08" height="4.42" fill="#082440"/>
<rect x="322.78" y="121.88" width="21.08" height="4.42" fill="#020200"/>
<rect x="343.56" y="121.88" width="21.08" height="4.42" fill="#0d4782"/>
<rect x="364.34" y="121.88" width="21.08" height="4.42" fill="#1a7acc"/>
<rect x="385.12" y="121.88" width="41.86" height="4.42" fill="#0d4782"/>
<rect x="426.68" y="121.88" width="62.64" height="4.42" fill="#9c9608"/>
<rect x="302.00" y="126.00" width="21.08" height="4.42" fill="#1f9ef5"/>
<rect x="322.78" y="126.00" width="21.08" height="4.42" fill="#1a7acc"/>
<rect x="343.56" y="126.00" width="21.08" height="4.42" fill="#020200"/>
<rect x="364.34" y="126.00" width="21.08" height="4.42" fill="#363100"/>
<rect x="385.12" y="126.00" width="62.64" height="4.42" fill="#020200"/>
<rect x="447.46" y="126.00" width="41.86" height="4.42" fill="#363100"/>
<rect x="302.00" y="130.12" width="21.08" height="4.42" fill="#020200"/>
<rect x="322.78" y="130.12" width="21.08" height="4.42" fill="#1a7acc"/>
<rect x="343.56" y="130.12" width="41.86" height="4.42" fill="#082440"/>
<rect x="385.12" y="130.12" width="21.08" height="4.42" fill="#1a7acc"/>
<rect x="405.90" y="130.12" width="21.08" height="4.42" fill="#082440"/>
<rect x="426.68" y="130.12" width="21.08" height="4.42" fill="#9c9608"/>
<rect x="447.46" y="130.12" width="41.86" height="4.42" fill="#363100"/>
<rect x="302.00" y="134.25" width="21.08" height="4.42" fill="#0d4782"/>
<rect x="322.78" y="134.25" width="21.08" height="4.42" fill="#1a7acc"/>
<rect x="343.56" y="134.25" width="21.08" height="4.42" fill="#0d4782"/>
<rect x="364.34" y="134.25" width="21.08" height="4.42" fill="#5f5800"/>
<rect x="385.12" y="134.25" width="41.86" height="4.42" fill="#082440"/>
<rect x="426.68" y="134.25" width="62.64" height="4.42" fill="#5f5800"/>
<rect x="302.00" y="138.38" width="83.42" height="4.42" fill="#0d4782"/>
<rect x="385.12" y="138.38" width="21.08" height="4.42" fill="#082440"/>
<rect x="405.90" y="138.38" width="21.08" height="4.42" fill="#0d4782"/>
<rect x="426.68" y="138.38" width="41.86" height="4.42" fill="#9c9608"/>
<rect x="468.24" y="138.38" width="21.08" height="4.42" fill="#020200"/>
<path d="M302.00 57.94H299.50V62.06H302.00M302.00 74.44H300.50V78.56H302.00M302.00 70.31H300.00V76.50H300.50M302.00 66.19H299.00V73.41H300.00M299.50 60.00H298.50V69.80H299.00M302.00 53.81H295.70V64.90H298.50M302.00 86.81H299.00V90.94H302.00M302.00 95.06H300.00V99.19H302.00M302.00 103.31H299.50V107.44H302.00M300.00 97.12H298.50V105.38H299.50M299.00 88.88H297.50V101.25H298.50M302.00 111.56H299.50V115.69H302.00M302.00 119.81H298.50V123.94H302.00M299.50 113.62H297.00V121.88H298.50M297.50 95.06H295.70V117.75H297.00M302.00 82.69H292.80V106.41H295.70M295.70 59.36H289.50V94.55H292.80M302.00 49.69H286.20V76.95H289.50M302.00 45.56H280.10V63.32H286.20M302.00 136.31H292.80V140.44H302.00M302.00 132.19H291.40V138.38H292.80M302.00 128.06H275.90V135.28H291.40M280.10 54.44H260.40V131.67H275.90" fill="none" stroke="#6b6ba8" stroke-width="0.8"/>
<text transform="translate(493 47.26) scale(0.088 0.1)" font-size="48" font-weight="bold">GPC1 118</text>
<text transform="translate(493 51.39) scale(0.088 0.1)" font-size="48" font-weight="bold">APMAP 160</text>
<text transform="translate(493 55.51) scale(0.088 0.1)" font-size="48" font-weight="bold">ITGA6 162</text>
<text transform="translate(493 59.64) scale(0.088 0.1)" font-size="48" font-weight="bold">HLA-C 110</text>
<text transform="translate(493 63.76) scale(0.088 0.1)" font-size="48" font-weight="bold">ICAM1 267</text>
<text transform="translate(493 67.89) scale(0.088 0.1)" font-size="48" font-weight="bold">ITGA3 65</text>
<text transform="translate(493 72.01) scale(0.088 0.1)" font-size="48" font-weight="bold">CD44 57</text>
<text transform="translate(493 76.14) scale(0.088 0.1)" font-size="48" font-weight="bold">GLG1 210</text>
<text transform="translate(493 80.26) scale(0.088 0.1)" font-size="48" font-weight="bold">LAMC1 1107</text>
<text transform="translate(493 84.39) scale(0.088 0.1)" font-size="48" font-weight="bold">CD63 48</text>
<text transform="translate(493 88.51) scale(0.088 0.1)" font-size="48" font-weight="bold">BSG 44</text>
<text transform="translate(493 92.64) scale(0.088 0.1)" font-size="48" font-weight="bold">CD59 45</text>
<text transform="translate(493 96.76) scale(0.088 0.1)" font-size="48" font-weight="bold">LRP1 3333</text>
<text transform="translate(493 100.89) scale(0.088 0.1)" font-size="48" font-weight="bold">ITGAV 28</text>
<text transform="translate(493 105.01) scale(0.088 0.1)" font-size="48" font-weight="bold">LRP1 729</text>
<text transform="translate(493 109.14) scale(0.088 0.1)" font-size="48" font-weight="bold">MPP8 83</text>
<text transform="translate(493 113.26) scale(0.088 0.1)" font-size="48" font-weight="bold">CTSD 365</text>
<text transform="translate(493 117.39) scale(0.088 0.1)" font-size="48" font-weight="bold">IGF2R 1656</text>
<text transform="translate(493 121.51) scale(0.088 0.1)" font-size="48" font-weight="bold">CLU 109</text>
<text transform="translate(493 125.64) scale(0.088 0.1)" font-size="48" font-weight="bold">SORT1 162</text>
<text transform="translate(493 129.76) scale(0.088 0.1)" font-size="48" font-weight="bold">CSPG4 548</text>
<text transform="translate(493 133.89) scale(0.088 0.1)" font-size="48" font-weight="bold">PSAP 215</text>
<text transform="translate(493 138.01) scale(0.088 0.1)" font-size="48" font-weight="bold">SBA 222</text>
<text transform="translate(493 142.14) scale(0.088 0.1)" font-size="48" font-weight="bold">TIMP1 53</text>
<line x1="302.3" y1="146.3" x2="360.9" y2="146.3" stroke="#7d7d7d" stroke-width="1.6"/>
<line x1="366.2" y1="146.3" x2="425.3" y2="146.3" stroke="#7d7d7d" stroke-width="1.6"/>
<line x1="429.3" y1="146.3" x2="491.5" y2="146.3" stroke="#7d7d7d" stroke-width="1.6"/>
<text x="332" y="156.2" font-size="9.8" font-weight="bold" text-anchor="middle">PN</text>
<text x="395.8" y="156.2" font-size="9.8" font-weight="bold" text-anchor="middle">MES</text>
<text x="461" y="156.2" font-size="9.8" font-weight="bold" text-anchor="middle">MES + 2FF</text>
<rect x="298.5" y="165.1" width="193.5" height="6.3" fill="url(#cbar)"/>
<text x="298" y="178.6" font-size="5.8" fill="#222">−2.45</text>
<text x="395.8" y="178.6" font-size="5.8" fill="#222" text-anchor="middle">−0.33</text>
<text x="492" y="178.6" font-size="5.8" fill="#222" text-anchor="end">2.67</text>
<text x="60" y="380.9" font-size="12.8" font-weight="bold">C</text>
<rect x="334.2" y="370.90" width="79.30" height="284.85" fill="#EBEBEB"/>
<line x1="342.04" y1="370.90" x2="342.04" y2="655.75" stroke="#fff" stroke-width="0.3"/>
<line x1="356.92" y1="370.90" x2="356.92" y2="655.75" stroke="#fff" stroke-width="0.3"/>
<line x1="371.80" y1="370.90" x2="371.80" y2="655.75" stroke="#fff" stroke-width="0.3"/>
<line x1="386.68" y1="370.90" x2="386.68" y2="655.75" stroke="#fff" stroke-width="0.3"/>
<line x1="401.56" y1="370.90" x2="401.56" y2="655.75" stroke="#fff" stroke-width="0.3"/>
<line x1="334.60" y1="370.90" x2="334.60" y2="655.75" stroke="#fff" stroke-width="0.6"/>
<line x1="349.48" y1="370.90" x2="349.48" y2="655.75" stroke="#fff" stroke-width="0.6"/>
<line x1="364.36" y1="370.90" x2="364.36" y2="655.75" stroke="#fff" stroke-width="0.6"/>
<line x1="379.24" y1="370.90" x2="379.24" y2="655.75" stroke="#fff" stroke-width="0.6"/>
<line x1="394.12" y1="370.90" x2="394.12" y2="655.75" stroke="#fff" stroke-width="0.6"/>
<line x1="409.00" y1="370.90" x2="409.00" y2="655.75" stroke="#fff" stroke-width="0.6"/>
<line x1="334.2" y1="374.95" x2="413.5" y2="374.95" stroke="#fff" stroke-width="0.6"/>
<line x1="334.2" y1="381.70" x2="413.5" y2="381.70" stroke="#fff" stroke-width="0.6"/>
<line x1="334.2" y1="388.45" x2="413.5" y2="388.45" stroke="#fff" stroke-width="0.6"/>
<line x1="334.2" y1="395.20" x2="413.5" y2="395.20" stroke="#fff" stroke-width="0.6"/>
<line x1="334.2" y1="401.95" x2="413.5" y2="401.95" stroke="#fff" stroke-width="0.6"/>
<line x1="334.2" y1="408.70" x2="413.5" y2="408.70" stroke="#fff" stroke-width="0.6"/>
<line x1="334.2" y1="415.45" x2="413.5" y2="415.45" stroke="#fff" stroke-width="0.6"/>
<line x1="334.2" y1="422.20" x2="413.5" y2="422.20" stroke="#fff" stroke-width="0.6"/>
<line x1="334.2" y1="428.95" x2="413.5" y2="428.95" stroke="#fff" stroke-width="0.6"/>
<line x1="334.2" y1="435.70" x2="413.5" y2="435.70" stroke="#fff" stroke-width="0.6"/>
<line x1="334.2" y1="442.45" x2="413.5" y2="442.45" stroke="#fff" stroke-width="0.6"/>
<line x1="334.2" y1="449.20" x2="413.5" y2="449.20" stroke="#fff" stroke-width="0.6"/>
<line x1="334.2" y1="455.95" x2="413.5" y2="455.95" stroke="#fff" stroke-width="0.6"/>
<line x1="334.2" y1="462.70" x2="413.5" y2="462.70" stroke="#fff" stroke-width="0.6"/>
<line x1="334.2" y1="469.45" x2="413.5" y2="469.45" stroke="#fff" stroke-width="0.6"/>
<line x1="334.2" y1="476.20" x2="413.5" y2="476.20" stroke="#fff" stroke-width="0.6"/>
<line x1="334.2" y1="482.95" x2="413.5" y2="482.95" stroke="#fff" stroke-width="0.6"/>
<line x1="334.2" y1="489.70" x2="413.5" y2="489.70" stroke="#fff" stroke-width="0.6"/>
<line x1="334.2" y1="496.45" x2="413.5" y2="496.45" stroke="#fff" stroke-width="0.6"/>
<line x1="334.2" y1="503.20" x2="413.5" y2="503.20" stroke="#fff" stroke-width="0.6"/>
<line x1="334.2" y1="509.95" x2="413.5" y2="509.95" stroke="#fff" stroke-width="0.6"/>
<line x1="334.2" y1="516.70" x2="413.5" y2="516.70" stroke="#fff" stroke-width="0.6"/>
<line x1="334.2" y1="523.45" x2="413.5" y2="523.45" stroke="#fff" stroke-width="0.6"/>
<line x1="334.2" y1="530.20" x2="413.5" y2="530.20" stroke="#fff" stroke-width="0.6"/>
<line x1="334.2" y1="536.95" x2="413.5" y2="536.95" stroke="#fff" stroke-width="0.6"/>
<line x1="334.2" y1="543.70" x2="413.5" y2="543.70" stroke="#fff" stroke-width="0.6"/>
<line x1="334.2" y1="550.45" x2="413.5" y2="550.45" stroke="#fff" stroke-width="0.6"/>
<line x1="334.2" y1="557.20" x2="413.5" y2="557.20" stroke="#fff" stroke-width="0.6"/>
<line x1="334.2" y1="563.95" x2="413.5" y2="563.95" stroke="#fff" stroke-width="0.6"/>
<line x1="334.2" y1="570.70" x2="413.5" y2="570.70" stroke="#fff" stroke-width="0.6"/>
<line x1="334.2" y1="577.45" x2="413.5" y2="577.45" stroke="#fff" stroke-width="0.6"/>
<line x1="334.2" y1="584.20" x2="413.5" y2="584.20" stroke="#fff" stroke-width="0.6"/>
<line x1="334.2" y1="590.95" x2="413.5" y2="590.95" stroke="#fff" stroke-width="0.6"/>
<line x1="334.2" y1="597.70" x2="413.5" y2="597.70" stroke="#fff" stroke-width="0.6"/>
<line x1="334.2" y1="604.45" x2="413.5" y2="604.45" stroke="#fff" stroke-width="0.6"/>
<line x1="334.2" y1="611.20" x2="413.5" y2="611.20" stroke="#fff" stroke-width="0.6"/>
<line x1="334.2" y1="617.95" x2="413.5" y2="617.95" stroke="#fff" stroke-width="0.6"/>
<line x1="334.2" y1="624.70" x2="413.5" y2="624.70" stroke="#fff" stroke-width="0.6"/>
<line x1="334.2" y1="631.45" x2="413.5" y2="631.45" stroke="#fff" stroke-width="0.6"/>
<line x1="334.2" y1="638.20" x2="413.5" y2="638.20" stroke="#fff" stroke-width="0.6"/>
<line x1="334.2" y1="644.95" x2="413.5" y2="644.95" stroke="#fff" stroke-width="0.6"/>
<line x1="334.2" y1="651.70" x2="413.5" y2="651.70" stroke="#fff" stroke-width="0.6"/>
<rect x="334.60" y="371.91" width="34.60" height="6.08" fill="#F26B6B"/>
<text x="326.4" y="377.20" font-size="6.57" fill="#4d4d4d" text-anchor="end">Neutrophil activation involved in immune response (GO:0002283)</text>
<line x1="331.6" y1="374.95" x2="334.2" y2="374.95" stroke="#333" stroke-width="0.5"/>
<rect x="334.60" y="378.66" width="33.40" height="6.08" fill="#F26B6B"/>
<text x="326.4" y="383.95" font-size="6.57" fill="#4d4d4d" text-anchor="end">Extracellular structure organization (GO:0043062)</text>
<line x1="331.6" y1="381.70" x2="334.2" y2="381.70" stroke="#333" stroke-width="0.5"/>
<rect x="334.60" y="385.41" width="27.90" height="6.08" fill="#F26B6B"/>
<text x="326.4" y="390.70" font-size="6.57" fill="#4d4d4d" text-anchor="end">Extracellular matrix organization (GO:0030198)</text>
<line x1="331.6" y1="388.45" x2="334.2" y2="388.45" stroke="#333" stroke-width="0.5"/>
<rect x="334.60" y="392.16" width="23.70" height="6.08" fill="#F26B6B"/>
<text x="326.4" y="397.45" font-size="6.57" fill="#4d4d4d" text-anchor="end">Cell−matrix adhesion (GO:0007160)</text>
<line x1="331.6" y1="395.20" x2="334.2" y2="395.20" stroke="#333" stroke-width="0.5"/>
<rect x="334.60" y="398.91" width="19.80" height="6.08" fill="#F26B6B"/>
<text x="326.4" y="404.20" font-size="6.57" fill="#4d4d4d" text-anchor="end">Receptor−mediated endocytosis (GO:0006898)</text>
<line x1="331.6" y1="401.95" x2="334.2" y2="401.95" stroke="#333" stroke-width="0.5"/>
<rect x="334.60" y="405.66" width="18.60" height="6.08" fill="#F26B6B"/>
<text x="326.4" y="410.95" font-size="6.57" fill="#4d4d4d" text-anchor="end">Regulation of cellular extravasation (GO:0002691)</text>
<line x1="331.6" y1="408.70" x2="334.2" y2="408.70" stroke="#333" stroke-width="0.5"/>
<rect x="334.60" y="412.41" width="18.40" height="6.08" fill="#F26B6B"/>
<text x="326.4" y="417.70" font-size="6.57" fill="#4d4d4d" text-anchor="end">Regulation of lipid transport (GO:0032368)</text>
<line x1="331.6" y1="415.45" x2="334.2" y2="415.45" stroke="#333" stroke-width="0.5"/>
<rect x="334.60" y="419.16" width="18.10" height="6.08" fill="#F26B6B"/>
<text x="326.4" y="424.45" font-size="6.57" fill="#4d4d4d" text-anchor="end">Extracellular matrix disassembly (GO:0022617)</text>
<line x1="331.6" y1="422.20" x2="334.2" y2="422.20" stroke="#333" stroke-width="0.5"/>
<rect x="334.60" y="425.91" width="18.10" height="6.08" fill="#F26B6B"/>
<text x="326.4" y="431.20" font-size="6.57" fill="#4d4d4d" text-anchor="end">Cellular component disassembly (GO:0022411)</text>
<line x1="331.6" y1="428.95" x2="334.2" y2="428.95" stroke="#333" stroke-width="0.5"/>
<rect x="334.60" y="432.66" width="18.10" height="6.08" fill="#F26B6B"/>
<text x="326.4" y="437.95" font-size="6.57" fill="#4d4d4d" text-anchor="end">Positive regulation of cellular extravasation (GO:0002693)</text>
<line x1="331.6" y1="435.70" x2="334.2" y2="435.70" stroke="#333" stroke-width="0.5"/>
<rect x="334.60" y="439.41" width="17.30" height="6.08" fill="#F26B6B"/>
<text x="326.4" y="444.70" font-size="6.57" fill="#4d4d4d" text-anchor="end">Positive regulation of heterotypic cell−cell adhesion (GO:0034116)</text>
<line x1="331.6" y1="442.45" x2="334.2" y2="442.45" stroke="#333" stroke-width="0.5"/>
<rect x="334.60" y="446.16" width="16.20" height="6.08" fill="#F26B6B"/>
<text x="326.4" y="451.45" font-size="6.57" fill="#4d4d4d" text-anchor="end">Protein targeting to lysosome (GO:0006622)</text>
<line x1="331.6" y1="449.20" x2="334.2" y2="449.20" stroke="#333" stroke-width="0.5"/>
<rect x="334.60" y="452.91" width="15.40" height="6.08" fill="#F26B6B"/>
<text x="326.4" y="458.20" font-size="6.57" fill="#4d4d4d" text-anchor="end">Regulation of heterotypic cell−cell adhesion (GO:0034114)</text>
<line x1="331.6" y1="455.95" x2="334.2" y2="455.95" stroke="#333" stroke-width="0.5"/>
<rect x="334.60" y="459.66" width="13.40" height="6.08" fill="#F26B6B"/>
<text x="326.4" y="464.95" font-size="6.57" fill="#4d4d4d" text-anchor="end">Cell−cell adhesion via plasma−membrane adhesion molecules (GO:0098742)</text>
<line x1="331.6" y1="462.70" x2="334.2" y2="462.70" stroke="#333" stroke-width="0.5"/>
<rect x="334.60" y="466.41" width="12.30" height="6.08" fill="#F26B6B"/>
<text x="326.4" y="471.70" font-size="6.57" fill="#4d4d4d" text-anchor="end">Heterophilic cell−cell adhesion via plasma membrane cell adhesion molecules (GO:0007157)</text>
<line x1="331.6" y1="469.45" x2="334.2" y2="469.45" stroke="#333" stroke-width="0.5"/>
<rect x="334.60" y="473.16" width="10.40" height="6.08" fill="#F26B6B"/>
<text x="326.4" y="478.45" font-size="6.57" fill="#4d4d4d" text-anchor="end">Integrin−mediated signaling pathway (GO:0007229)</text>
<line x1="331.6" y1="476.20" x2="334.2" y2="476.20" stroke="#333" stroke-width="0.5"/>
<rect x="334.60" y="479.91" width="15.40" height="6.08" fill="#AA7BC9"/>
<text x="326.4" y="485.20" font-size="6.57" fill="#4d4d4d" text-anchor="end">Insulin−like growth factor binding (GO:0005520)</text>
<line x1="331.6" y1="482.95" x2="334.2" y2="482.95" stroke="#333" stroke-width="0.5"/>
<rect x="334.60" y="486.66" width="15.40" height="6.08" fill="#AA7BC9"/>
<text x="326.4" y="491.95" font-size="6.57" fill="#4d4d4d" text-anchor="end">Fibroblast growth factor binding (GO:0017134)</text>
<line x1="331.6" y1="489.70" x2="334.2" y2="489.70" stroke="#333" stroke-width="0.5"/>
<rect x="334.60" y="493.41" width="10.40" height="6.08" fill="#AA7BC9"/>
<text x="326.4" y="498.70" font-size="6.57" fill="#4d4d4d" text-anchor="end">Nerve growth factor binding (GO:0048406)</text>
<line x1="331.6" y1="496.45" x2="334.2" y2="496.45" stroke="#333" stroke-width="0.5"/>
<rect x="334.60" y="500.16" width="64.20" height="6.08" fill="#74AC3A"/>
<text x="326.4" y="505.45" font-size="6.57" fill="#4d4d4d" text-anchor="end">focal adhesion (GO:0005925)</text>
<line x1="331.6" y1="503.20" x2="334.2" y2="503.20" stroke="#333" stroke-width="0.5"/>
<rect x="334.60" y="506.91" width="64.20" height="6.08" fill="#74AC3A"/>
<text x="326.4" y="512.20" font-size="6.57" fill="#4d4d4d" text-anchor="end">Cell−substrate junction (GO:0030055)</text>
<line x1="331.6" y1="509.95" x2="334.2" y2="509.95" stroke="#333" stroke-width="0.5"/>
<rect x="334.60" y="513.66" width="55.40" height="6.08" fill="#74AC3A"/>
<text x="326.4" y="518.95" font-size="6.57" fill="#4d4d4d" text-anchor="end">Bounding membrane of organelle (GO:0098588)</text>
<line x1="331.6" y1="516.70" x2="334.2" y2="516.70" stroke="#333" stroke-width="0.5"/>
<rect x="334.60" y="520.41" width="39.20" height="6.08" fill="#74AC3A"/>
<text x="326.4" y="525.70" font-size="6.57" fill="#4d4d4d" text-anchor="end">Endosome membrane (GO:0010008)</text>
<line x1="331.6" y1="523.45" x2="334.2" y2="523.45" stroke="#333" stroke-width="0.5"/>
<rect x="334.60" y="527.16" width="37.30" height="6.08" fill="#74AC3A"/>
<text x="326.4" y="532.45" font-size="6.57" fill="#4d4d4d" text-anchor="end">Cytoplasmic vesicle membrane (GO:0030659)</text>
<line x1="331.6" y1="530.20" x2="334.2" y2="530.20" stroke="#333" stroke-width="0.5"/>
<rect x="334.60" y="533.91" width="37.30" height="6.08" fill="#74AC3A"/>
<text x="326.4" y="539.20" font-size="6.57" fill="#4d4d4d" text-anchor="end">Integral component of plasma membrane (GO:0005887)</text>
<line x1="331.6" y1="536.95" x2="334.2" y2="536.95" stroke="#333" stroke-width="0.5"/>
<rect x="334.60" y="540.66" width="35.40" height="6.08" fill="#74AC3A"/>
<text x="326.4" y="545.95" font-size="6.57" fill="#4d4d4d" text-anchor="end">Secretory granule membrane (GO:0030667)</text>
<line x1="331.6" y1="543.70" x2="334.2" y2="543.70" stroke="#333" stroke-width="0.5"/>
<rect x="334.60" y="547.41" width="34.60" height="6.08" fill="#74AC3A"/>
<text x="326.4" y="552.70" font-size="6.57" fill="#4d4d4d" text-anchor="end">Basolateral plasma membrane (GO:0016323)</text>
<line x1="331.6" y1="550.45" x2="334.2" y2="550.45" stroke="#333" stroke-width="0.5"/>
<rect x="334.60" y="554.16" width="34.20" height="6.08" fill="#74AC3A"/>
<text x="326.4" y="559.45" font-size="6.57" fill="#4d4d4d" text-anchor="end">Endocytic vesicle membrane (GO:0030666)</text>
<line x1="331.6" y1="557.20" x2="334.2" y2="557.20" stroke="#333" stroke-width="0.5"/>
<rect x="334.60" y="560.91" width="26.90" height="6.08" fill="#74AC3A"/>
<text x="326.4" y="566.20" font-size="6.57" fill="#4d4d4d" text-anchor="end">Early endosome (GO:0005769)</text>
<line x1="331.6" y1="563.95" x2="334.2" y2="563.95" stroke="#333" stroke-width="0.5"/>
<rect x="334.60" y="567.66" width="26.60" height="6.08" fill="#74AC3A"/>
<text x="326.4" y="572.95" font-size="6.57" fill="#4d4d4d" text-anchor="end">Golgi membrane (GO:0000139)</text>
<line x1="331.6" y1="570.70" x2="334.2" y2="570.70" stroke="#333" stroke-width="0.5"/>
<rect x="334.60" y="574.41" width="26.60" height="6.08" fill="#74AC3A"/>
<text x="326.4" y="579.70" font-size="6.57" fill="#4d4d4d" text-anchor="end">lysosome (GO:0005764)</text>
<line x1="331.6" y1="577.45" x2="334.2" y2="577.45" stroke="#333" stroke-width="0.5"/>
<rect x="334.60" y="581.16" width="21.90" height="6.08" fill="#74AC3A"/>
<text x="326.4" y="586.45" font-size="6.57" fill="#4d4d4d" text-anchor="end">Clathrin−coated endocytic vesicle membrane (GO:0030669)</text>
<line x1="331.6" y1="584.20" x2="334.2" y2="584.20" stroke="#333" stroke-width="0.5"/>
<rect x="334.60" y="587.91" width="21.90" height="6.08" fill="#74AC3A"/>
<text x="326.4" y="593.20" font-size="6.57" fill="#4d4d4d" text-anchor="end">Filopodium membrane (GO:0031527)</text>
<line x1="331.6" y1="590.95" x2="334.2" y2="590.95" stroke="#333" stroke-width="0.5"/>
<rect x="334.60" y="594.66" width="21.20" height="6.08" fill="#74AC3A"/>
<text x="326.4" y="599.95" font-size="6.57" fill="#4d4d4d" text-anchor="end">Lysosomal lumen (GO:0043202)</text>
<line x1="331.6" y1="597.70" x2="334.2" y2="597.70" stroke="#333" stroke-width="0.5"/>
<rect x="334.60" y="601.41" width="18.10" height="6.08" fill="#74AC3A"/>
<text x="326.4" y="606.70" font-size="6.57" fill="#4d4d4d" text-anchor="end">Lysosomal membrane (GO:0005765)</text>
<line x1="331.6" y1="604.45" x2="334.2" y2="604.45" stroke="#333" stroke-width="0.5"/>
<rect x="334.60" y="608.16" width="43.90" height="6.08" fill="#19B6C8"/>
<text x="326.4" y="613.45" font-size="6.57" fill="#4d4d4d" text-anchor="end">Lysosome</text>
<line x1="331.6" y1="611.20" x2="334.2" y2="611.20" stroke="#333" stroke-width="0.5"/>
<rect x="334.60" y="614.91" width="42.70" height="6.08" fill="#19B6C8"/>
<text x="326.4" y="620.20" font-size="6.57" fill="#4d4d4d" text-anchor="end">Phagosome</text>
<line x1="331.6" y1="617.95" x2="334.2" y2="617.95" stroke="#333" stroke-width="0.5"/>
<rect x="334.60" y="621.66" width="33.20" height="6.08" fill="#19B6C8"/>
<text x="326.4" y="626.95" font-size="6.57" fill="#4d4d4d" text-anchor="end">Cell adhesion molecules</text>
<line x1="331.6" y1="624.70" x2="334.2" y2="624.70" stroke="#333" stroke-width="0.5"/>
<rect x="334.60" y="628.41" width="29.20" height="6.08" fill="#19B6C8"/>
<text x="326.4" y="633.70" font-size="6.57" fill="#4d4d4d" text-anchor="end">ECM−receptor interaction</text>
<line x1="331.6" y1="631.45" x2="334.2" y2="631.45" stroke="#333" stroke-width="0.5"/>
<rect x="334.60" y="635.16" width="14.10" height="6.08" fill="#19B6C8"/>
<text x="326.4" y="640.45" font-size="6.57" fill="#4d4d4d" text-anchor="end">Focal adhesion</text>
<line x1="331.6" y1="638.20" x2="334.2" y2="638.20" stroke="#333" stroke-width="0.5"/>
<rect x="334.60" y="641.91" width="10.50" height="6.08" fill="#19B6C8"/>
<text x="326.4" y="647.20" font-size="6.57" fill="#4d4d4d" text-anchor="end">Leukocyte transendothelial migration</text>
<line x1="331.6" y1="644.95" x2="334.2" y2="644.95" stroke="#333" stroke-width="0.5"/>
<rect x="334.60" y="648.66" width="10.50" height="6.08" fill="#19B6C8"/>
<text x="326.4" y="653.95" font-size="6.57" fill="#4d4d4d" text-anchor="end">PI3K−Akt signaling pathway</text>
<line x1="331.6" y1="651.70" x2="334.2" y2="651.70" stroke="#333" stroke-width="0.5"/>
<line x1="334.60" y1="655.75" x2="334.60" y2="657.95" stroke="#333" stroke-width="0.5"/>
<text x="334.60" y="665.15" font-size="5.9" fill="#4d4d4d" text-anchor="middle">0</text>
<line x1="349.48" y1="655.75" x2="349.48" y2="657.95" stroke="#333" stroke-width="0.5"/>
<text x="349.48" y="665.15" font-size="5.9" fill="#4d4d4d" text-anchor="middle">5</text>
<line x1="364.36" y1="655.75" x2="364.36" y2="657.95" stroke="#333" stroke-width="0.5"/>
<text x="364.36" y="665.15" font-size="5.9" fill="#4d4d4d" text-anchor="middle">10</text>
<line x1="379.24" y1="655.75" x2="379.24" y2="657.95" stroke="#333" stroke-width="0.5"/>
<text x="379.24" y="665.15" font-size="5.9" fill="#4d4d4d" text-anchor="middle">15</text>
<line x1="394.12" y1="655.75" x2="394.12" y2="657.95" stroke="#333" stroke-width="0.5"/>
<text x="394.12" y="665.15" font-size="5.9" fill="#4d4d4d" text-anchor="middle">20</text>
<line x1="409.00" y1="655.75" x2="409.00" y2="657.95" stroke="#333" stroke-width="0.5"/>
<text x="409.00" y="665.15" font-size="5.9" fill="#4d4d4d" text-anchor="middle">25</text>
<text x="373.6" y="675.6" font-size="8.05" text-anchor="middle">−Log adjusted <tspan font-style="italic">P</tspan> value</text>
<text x="426.1" y="489.5" font-size="8" fill="#000">Cluster</text>
<rect x="426.1" y="494.60" width="11.5" height="11.5" fill="#F2F2F2"/>
<rect x="426.4" y="494.90" width="10.9" height="10.9" fill="#F26B6B"/>
<text x="440.3" y="502.70" font-size="6.5" fill="#000">Biological processes</text>
<rect x="426.1" y="507.20" width="11.5" height="11.5" fill="#F2F2F2"/>
<rect x="426.4" y="507.50" width="10.9" height="10.9" fill="#74AC3A"/>
<text x="440.3" y="515.30" font-size="6.5" fill="#000">Cellular component</text>
<rect x="426.1" y="519.80" width="11.5" height="11.5" fill="#F2F2F2"/>
<rect x="426.4" y="520.10" width="10.9" height="10.9" fill="#19B6C8"/>
<text x="440.3" y="527.90" font-size="6.5" fill="#000">KEGG</text>
<rect x="426.1" y="532.40" width="11.5" height="11.5" fill="#F2F2F2"/>
<rect x="426.4" y="532.70" width="10.9" height="10.9" fill="#AA7BC9"/>
<text x="440.3" y="540.50" font-size="6.5" fill="#000">Molecular function</text>
<g class="sb2">
<text x="5.00" y="690.70" font-size="12.8" font-weight="bold" fill="#000">D</text>
<text x="54.00" y="689.40" font-size="8.95">Core fucosylated glycopeptides</text>
<text x="87.50" y="703.20" font-size="7.3" text-anchor="middle">ITGA3</text>
<text x="141.00" y="703.20" font-size="7.3" text-anchor="middle">CD44</text>
<line x1="69.20" y1="724.50" x2="69.20" y2="776.40" stroke="#222" stroke-width="0.8"/>
<line x1="67.70" y1="724.50" x2="69.20" y2="724.50" stroke="#222" stroke-width="0.7"/>
<text x="67.10" y="726.73" font-size="6.2" text-anchor="end" fill="#333">1.0</text>
<line x1="67.70" y1="741.80" x2="69.20" y2="741.80" stroke="#222" stroke-width="0.7"/>
<text x="67.10" y="744.03" font-size="6.2" text-anchor="end" fill="#333">0.5</text>
<line x1="67.70" y1="759.10" x2="69.20" y2="759.10" stroke="#222" stroke-width="0.7"/>
<text x="67.10" y="761.33" font-size="6.2" text-anchor="end" fill="#333">0.0</text>
<line x1="67.70" y1="776.40" x2="69.20" y2="776.40" stroke="#222" stroke-width="0.7"/>
<text x="67.10" y="778.63" font-size="6.2" text-anchor="end" fill="#333">−0.5</text>
<line x1="123.80" y1="724.50" x2="123.80" y2="776.40" stroke="#222" stroke-width="0.8"/>
<line x1="122.30" y1="724.50" x2="123.80" y2="724.50" stroke="#222" stroke-width="0.7"/>
<text x="121.70" y="726.73" font-size="6.2" text-anchor="end" fill="#333">1.0</text>
<line x1="122.30" y1="741.80" x2="123.80" y2="741.80" stroke="#222" stroke-width="0.7"/>
<text x="121.70" y="744.03" font-size="6.2" text-anchor="end" fill="#333">0.5</text>
<line x1="122.30" y1="759.10" x2="123.80" y2="759.10" stroke="#222" stroke-width="0.7"/>
<text x="121.70" y="761.33" font-size="6.2" text-anchor="end" fill="#333">0.0</text>
<line x1="122.30" y1="776.40" x2="123.80" y2="776.40" stroke="#222" stroke-width="0.7"/>
<text x="121.70" y="778.63" font-size="6.2" text-anchor="end" fill="#333">−0.5</text>
<line x1="69.20" y1="776.40" x2="102.50" y2="776.40" stroke="#222" stroke-width="0.8"/>
<line x1="123.80" y1="776.40" x2="157.70" y2="776.40" stroke="#222" stroke-width="0.8"/>
<line x1="77.50" y1="776.40" x2="77.50" y2="777.90" stroke="#222" stroke-width="0.6"/>
<line x1="87.80" y1="776.40" x2="87.80" y2="777.90" stroke="#222" stroke-width="0.6"/>
<line x1="98.00" y1="776.40" x2="98.00" y2="777.90" stroke="#222" stroke-width="0.6"/>
<line x1="131.20" y1="776.40" x2="131.20" y2="777.90" stroke="#222" stroke-width="0.6"/>
<line x1="141.30" y1="776.40" x2="141.30" y2="777.90" stroke="#222" stroke-width="0.6"/>
<line x1="151.50" y1="776.40" x2="151.50" y2="777.90" stroke="#222" stroke-width="0.6"/>
<line x1="74.20" y1="759.10" x2="80.80" y2="759.10" stroke="#333" stroke-width="0.9"/>
<rect x="84.60" y="732.46" width="6.40" height="21.45" fill="#d4d4d4" stroke="#333" stroke-width="0.7"/>
<line x1="84.60" y1="739.38" x2="91.00" y2="739.38" stroke="#333" stroke-width="0.7"/>
<line x1="95.00" y1="758.06" x2="101.30" y2="758.06" stroke="#000" stroke-width="1.6"/>
<text x="87.80" y="712.60" font-size="4.8" text-anchor="middle">ns</text>
<path d="M77.5 717.8V714.5H98.0V717.8" stroke="#555" stroke-width="0.6" fill="none"/>
<circle cx="82.3" cy="721.4" r="1.05" fill="#111"/>
<circle cx="93.6" cy="721.4" r="1.05" fill="#111"/>
<path d="M77.5 756V725H87.1V727.5" stroke="#777" stroke-width="0.55" fill="none"/>
<path d="M88.5 727.5V725H98.0V755" stroke="#777" stroke-width="0.55" fill="none"/>
<text x="88.00" y="784.80" font-size="5.3" text-anchor="middle">site position 86</text>
<rect x="127.70" y="756.60" width="6.90" height="2.60" fill="#a8a8a8" stroke="#222" stroke-width="0.7"/>
<rect x="138.20" y="743.80" width="6.40" height="7.70" fill="#d8d8d8" stroke="#222" stroke-width="0.7"/>
<line x1="138.20" y1="747.70" x2="144.60" y2="747.70" stroke="#222" stroke-width="0.7"/>
<line x1="148.50" y1="758.60" x2="154.60" y2="758.60" stroke="#000" stroke-width="1.5"/>
<text x="141.00" y="725.20" font-size="4.8" text-anchor="middle">ns</text>
<path d="M130.8 730V727.7H151.5V730" stroke="#555" stroke-width="0.6" fill="none"/>
<circle cx="135.7" cy="734.6" r="1.05" fill="#111"/>
<circle cx="146.9" cy="734.6" r="1.05" fill="#111"/>
<path d="M130.8 753.8V737.7H140.6V740" stroke="#777" stroke-width="0.55" fill="none"/>
<path d="M141.8 740V737.7H151.5V757" stroke="#777" stroke-width="0.55" fill="none"/>
<text x="141.10" y="784.80" font-size="5.3" text-anchor="middle">site position 57</text>
<rect x="166.00" y="735.20" width="3.30" height="3.30" fill="#fff" stroke="#222" stroke-width="0.6"/>
<text x="170.40" y="738.80" font-size="5.6">PN</text>
<rect x="166.00" y="743.70" width="3.30" height="3.30" fill="#d4d4d4" stroke="#222" stroke-width="0.6"/>
<text x="170.40" y="747.30" font-size="5.6">MES</text>
<rect x="166.00" y="752.10" width="3.30" height="3.30" fill="#000" stroke="#000" stroke-width="0.6"/>
<text x="170.40" y="755.70" font-size="5.6">MES</text>
<text x="170.40" y="760.60" font-size="5.6">+2FF</text>
<text transform="translate(42.30,750.80) rotate(-90)" font-size="6.2" text-anchor="middle" fill="#1a1a1a">Normalized MS data</text>
<text transform="translate(49.60,750.80) rotate(-90)" font-size="6.2" text-anchor="middle" fill="#1a1a1a">(HexNAc dHex sites)</text>
<text x="227.80" y="690.90" font-size="12.8" font-weight="bold" fill="#000">E</text>
<text x="277.80" y="707.30" font-size="6.8" text-anchor="middle">PN</text>
<text x="277.80" y="717.00" font-size="6.8" text-anchor="middle">GSCs</text>
<text x="307.40" y="707.30" font-size="6.8" text-anchor="middle">MES</text>
<text x="307.40" y="717.00" font-size="6.8" text-anchor="middle">GCLs</text>
<text x="332.60" y="707.30" font-size="6.8" text-anchor="middle">MES</text>
<text x="332.60" y="717.00" font-size="6.8" text-anchor="middle">GSCs</text>
<line x1="254.20" y1="720.70" x2="298.00" y2="720.70" stroke="#8a8a8a" stroke-width="0.9"/>
<line x1="300.40" y1="720.70" x2="314.80" y2="720.70" stroke="#8a8a8a" stroke-width="0.9"/>
<line x1="316.30" y1="720.70" x2="344.20" y2="720.70" stroke="#8a8a8a" stroke-width="0.9"/>
<text transform="translate(259.60,738.6) rotate(-50)" font-size="6.3" fill="#1a1a1a">L0512</text>
<text transform="translate(274.00,738.6) rotate(-50)" font-size="6.3" fill="#1a1a1a">L0605</text>
<text transform="translate(288.40,738.6) rotate(-50)" font-size="6.3" fill="#1a1a1a">L0306</text>
<text transform="translate(304.70,738.6) rotate(-50)" font-size="6.3" fill="#1a1a1a">U87</text>
<text transform="translate(321.10,738.6) rotate(-50)" font-size="6.3" fill="#1a1a1a">L1312</text>
<text transform="translate(336.50,738.6) rotate(-50)" font-size="6.3" fill="#1a1a1a">L0315</text>
<rect x="254.30" y="741.20" width="89.20" height="8.30" fill="#e9e9e9" stroke="#c9c9c9" stroke-width="0.4"/>
<rect x="254.30" y="750.60" width="89.20" height="8.50" fill="#e9e9e9" stroke="#c9c9c9" stroke-width="0.4"/>
<rect x="254.30" y="759.80" width="89.20" height="8.20" fill="#e9e9e9" stroke="#c9c9c9" stroke-width="0.4"/>
<line x1="299.00" y1="741.00" x2="299.00" y2="768.00" stroke="#ffffff" stroke-width="0.9"/>
<rect x="255.00" y="753.00" width="12.50" height="3.00" rx="1.00" fill="#c7c7c7" filter="url(#b1)"/>
<rect x="255.00" y="761.60" width="12.50" height="3.40" rx="1.13" fill="#151515" filter="url(#b1)"/>
<rect x="269.00" y="761.60" width="12.50" height="3.40" rx="1.13" fill="#151515" filter="url(#b1)"/>
<rect x="283.00" y="761.60" width="12.50" height="3.40" rx="1.13" fill="#151515" filter="url(#b1)"/>
<rect x="300.00" y="742.40" width="11.80" height="6.20" rx="1.60" fill="#0a0a0a" filter="url(#b1)"/>
<rect x="300.00" y="751.40" width="11.80" height="6.20" rx="1.60" fill="#0a0a0a" filter="url(#b1)"/>
<rect x="300.00" y="761.60" width="11.80" height="3.40" rx="1.13" fill="#151515" filter="url(#b1)"/>
<rect x="315.20" y="744.60" width="10.80" height="3.60" rx="1.20" fill="#a3a3a3" filter="url(#b1)"/>
<rect x="315.20" y="752.40" width="10.80" height="4.80" rx="1.60" fill="#151515" filter="url(#b1)"/>
<rect x="315.20" y="761.60" width="10.80" height="3.40" rx="1.13" fill="#151515" filter="url(#b1)"/>
<rect x="330.80" y="744.60" width="11.50" height="3.60" rx="1.20" fill="#3b3b3b" filter="url(#b1)"/>
<rect x="330.80" y="752.40" width="11.50" height="4.80" rx="1.60" fill="#151515" filter="url(#b1)"/>
<rect x="330.80" y="761.60" width="11.50" height="3.40" rx="1.13" fill="#151515" filter="url(#b1)"/>
<text x="252.60" y="748.60" font-size="7.6" text-anchor="end">ITGA3</text>
<text x="252.60" y="757.70" font-size="7.6" text-anchor="end">CD44</text>
<text x="252.60" y="766.70" font-size="7.6" text-anchor="end">β-Tubulin</text>
<text x="345.50" y="747.80" font-size="6.0">- 119 kDa</text>
<text x="345.50" y="757.00" font-size="6.0">- 80 kDa</text>
<text x="345.50" y="765.80" font-size="6.0">- 55 kDa</text>
<text x="420.80" y="701.60" font-size="6.8" text-anchor="middle">ITGA3</text>
<text x="485.60" y="701.60" font-size="6.8" text-anchor="middle">CD44</text>
<line x1="403.20" y1="717.70" x2="403.20" y2="769.40" stroke="#222" stroke-width="0.8"/>
<line x1="401.70" y1="717.70" x2="403.20" y2="717.70" stroke="#222" stroke-width="0.7"/>
<text x="401.10" y="719.86" font-size="6.0" text-anchor="end" fill="#333">1.0</text>
<line x1="401.70" y1="743.55" x2="403.20" y2="743.55" stroke="#222" stroke-width="0.7"/>
<text x="401.10" y="745.71" font-size="6.0" text-anchor="end" fill="#333">0.5</text>
<line x1="401.70" y1="769.40" x2="403.20" y2="769.40" stroke="#222" stroke-width="0.7"/>
<text x="401.10" y="771.56" font-size="6.0" text-anchor="end" fill="#333">0.0</text>
<line x1="403.20" y1="769.40" x2="437.80" y2="769.40" stroke="#222" stroke-width="0.8"/>
<line x1="467.90" y1="717.70" x2="467.90" y2="769.40" stroke="#222" stroke-width="0.8"/>
<line x1="466.40" y1="717.70" x2="467.90" y2="717.70" stroke="#222" stroke-width="0.7"/>
<text x="465.80" y="719.86" font-size="6.0" text-anchor="end" fill="#333">1.0</text>
<line x1="466.40" y1="743.55" x2="467.90" y2="743.55" stroke="#222" stroke-width="0.7"/>
<text x="465.80" y="745.71" font-size="6.0" text-anchor="end" fill="#333">0.5</text>
<line x1="466.40" y1="769.40" x2="467.90" y2="769.40" stroke="#222" stroke-width="0.7"/>
<text x="465.80" y="771.56" font-size="6.0" text-anchor="end" fill="#333">0.0</text>
<line x1="467.90" y1="769.40" x2="502.30" y2="769.40" stroke="#222" stroke-width="0.8"/>
<line x1="413.30" y1="769.40" x2="413.30" y2="771.00" stroke="#222" stroke-width="0.6"/>
<line x1="428.30" y1="769.40" x2="428.30" y2="771.00" stroke="#222" stroke-width="0.6"/>
<line x1="478.10" y1="769.40" x2="478.10" y2="771.00" stroke="#222" stroke-width="0.6"/>
<line x1="492.80" y1="769.40" x2="492.80" y2="771.00" stroke="#222" stroke-width="0.6"/>
<text x="413.30" y="778.00" font-size="6.6" text-anchor="middle">PN</text>
<text x="428.30" y="778.00" font-size="6.6" text-anchor="middle">MES</text>
<text x="478.10" y="778.00" font-size="6.6" text-anchor="middle">PN</text>
<text x="492.80" y="778.00" font-size="6.6" text-anchor="middle">MES</text>
<path d="M413.3 763V711.7H428.3V714.8" stroke="#9a9a9a" stroke-width="0.6" fill="none"/>
<text x="421.00" y="711.60" font-size="7.2" text-anchor="middle" font-weight="bold">****</text>
<rect x="409.20" y="763.97" width="8.20" height="1.80" fill="#bbb" stroke="#333" stroke-width="0.5"/>
<circle cx="410.3" cy="764.75" r="0.75" fill="#111"/>
<circle cx="412.2" cy="764.75" r="0.75" fill="#111"/>
<circle cx="414.2" cy="764.75" r="0.75" fill="#111"/>
<circle cx="416.0" cy="764.75" r="0.75" fill="#111"/>
<rect x="423.70" y="718.22" width="8.80" height="25.33" fill="#dedede" stroke="#222" stroke-width="0.7"/>
<line x1="423.70" y1="731.00" x2="432.50" y2="731.00" stroke="#222" stroke-width="0.7"/>
<circle cx="424.8" cy="717.9" r="0.85" fill="#111"/>
<circle cx="430.6" cy="717.9" r="0.85" fill="#111"/>
<circle cx="427.9" cy="729" r="0.85" fill="#111"/>
<circle cx="427.9" cy="734.4" r="0.85" fill="#111"/>
<circle cx="427.9" cy="745.2" r="0.85" fill="#111"/>
<path d="M478.1 757V711.7H492.8V714.8" stroke="#9a9a9a" stroke-width="0.6" fill="none"/>
<text x="485.00" y="711.60" font-size="7.2" text-anchor="middle" font-weight="bold">****</text>
<rect x="473.60" y="761.20" width="9.00" height="7.00" fill="#f4f4f4" stroke="#222" stroke-width="0.75"/>
<line x1="473.60" y1="764.80" x2="482.60" y2="764.80" stroke="#222" stroke-width="0.6"/>
<rect x="487.90" y="718.20" width="9.80" height="13.60" fill="#e2e2e2" stroke="#222" stroke-width="0.75"/>
<line x1="487.90" y1="731.20" x2="497.70" y2="731.20" stroke="#111" stroke-width="1.0"/>
<text transform="translate(388.20,743.50) rotate(-90)" font-size="6.4" text-anchor="middle" fill="#1a1a1a">ITGA3/β-tubulin</text>
<text transform="translate(452.80,743.50) rotate(-90)" font-size="6.4" text-anchor="middle" fill="#1a1a1a">CD44/β-tubulin</text>
</g>
<text x="5.50" y="802.00" font-size="12.5" font-weight="bold" fill="#000">F</text>
<text x="86.80" y="811.30" font-size="7.9" text-anchor="middle" stroke="#1a1a1a" stroke-width="0.25" paint-order="stroke">PN GSC-derived xenograft</text>
<text x="240.00" y="811.30" font-size="7.9" text-anchor="middle" stroke="#1a1a1a" stroke-width="0.25" paint-order="stroke">MES GSC-derived xenograft</text>
<clipPath id="clipT1"><rect x="15.60" y="815.40" width="64.40" height="48.60"/></clipPath>
<g clip-path="url(#clipT1)">
<rect x="15.60" y="815.40" width="64.40" height="48.60" fill="#dbd8eb"/>
<rect x="15.60" y="815.40" width="64.40" height="48.60" fill="#fff" filter="url(#nzL)"/>
<rect x="15.60" y="815.40" width="64.40" height="48.60" fill="#fff" filter="url(#nzD)"/>
<g filter="url(#b2)"><ellipse cx="30.7" cy="838.0" rx="2.01" ry="1.26" transform="rotate(45 30.7 838.0)" fill="#8f86b8" fill-opacity="0.35"/><ellipse cx="77.5" cy="860.1" rx="1.86" ry="1.16" transform="rotate(21 77.5 860.1)" fill="#8f86b8" fill-opacity="0.35"/><ellipse cx="17.9" cy="827.7" rx="1.75" ry="1.10" transform="rotate(13 17.9 827.7)" fill="#8f86b8" fill-opacity="0.35"/><ellipse cx="71.2" cy="824.5" rx="1.99" ry="1.24" transform="rotate(37 71.2 824.5)" fill="#8f86b8" fill-opacity="0.35"/><ellipse cx="25.3" cy="824.9" rx="1.45" ry="0.91" transform="rotate(-22 25.3 824.9)" fill="#8f86b8" fill-opacity="0.35"/><ellipse cx="68.9" cy="834.8" rx="1.64" ry="1.03" transform="rotate(36 68.9 834.8)" fill="#8f86b8" fill-opacity="0.35"/><ellipse cx="33.1" cy="831.7" rx="1.42" ry="0.89" transform="rotate(31 33.1 831.7)" fill="#8f86b8" fill-opacity="0.35"/><ellipse cx="50.4" cy="818.0" rx="1.92" ry="1.20" transform="rotate(-60 50.4 818.0)" fill="#8f86b8" fill-opacity="0.35"/><ellipse cx="72.5" cy="832.2" rx="1.32" ry="0.83" transform="rotate(32 72.5 832.2)" fill="#8f86b8" fill-opacity="0.35"/><ellipse cx="57.5" cy="858.6" rx="2.04" ry="1.28" transform="rotate(-17 57.5 858.6)" fill="#8f86b8" fill-opacity="0.35"/><ellipse cx="19.9" cy="820.5" rx="1.22" ry="0.76" transform="rotate(-38 19.9 820.5)" fill="#8f86b8" fill-opacity="0.35"/><ellipse cx="73.4" cy="839.6" rx="1.47" ry="0.92" transform="rotate(86 73.4 839.6)" fill="#8f86b8" fill-opacity="0.35"/><ellipse cx="17.9" cy="845.4" rx="2.05" ry="1.28" transform="rotate(-41 17.9 845.4)" fill="#8f86b8" fill-opacity="0.35"/><ellipse cx="55.1" cy="845.1" rx="1.82" ry="1.14" transform="rotate(64 55.1 845.1)" fill="#8f86b8" fill-opacity="0.35"/><ellipse cx="47.7" cy="844.8" rx="1.15" ry="0.72" transform="rotate(75 47.7 844.8)" fill="#8f86b8" fill-opacity="0.35"/><ellipse cx="79.9" cy="850.1" rx="1.25" ry="0.78" transform="rotate(35 79.9 850.1)" fill="#8f86b8" fill-opacity="0.35"/><ellipse cx="79.0" cy="861.2" rx="1.99" ry="1.24" transform="rotate(-59 79.0 861.2)" fill="#8f86b8" fill-opacity="0.35"/><ellipse cx="17.5" cy="819.5" rx="1.83" ry="1.14" transform="rotate(41 17.5 819.5)" fill="#8f86b8" fill-opacity="0.35"/><ellipse cx="29.7" cy="827.6" rx="1.26" ry="0.79" transform="rotate(-47 29.7 827.6)" fill="#8f86b8" fill-opacity="0.35"/><ellipse cx="24.4" cy="821.8" rx="1.89" ry="1.18" transform="rotate(-19 24.4 821.8)" fill="#8f86b8" fill-opacity="0.35"/><ellipse cx="60.6" cy="845.9" rx="1.32" ry="0.83" transform="rotate(59 60.6 845.9)" fill="#8f86b8" fill-opacity="0.35"/><ellipse cx="39.1" cy="826.2" rx="2.06" ry="1.29" transform="rotate(-47 39.1 826.2)" fill="#8f86b8" fill-opacity="0.35"/><ellipse cx="79.4" cy="855.9" rx="1.54" ry="0.96" transform="rotate(117 79.4 855.9)" fill="#8f86b8" fill-opacity="0.35"/><ellipse cx="78.7" cy="853.8" rx="1.31" ry="0.82" transform="rotate(56 78.7 853.8)" fill="#8f86b8" fill-opacity="0.35"/><ellipse cx="40.5" cy="819.1" rx="1.98" ry="1.24" transform="rotate(72 40.5 819.1)" fill="#8f86b8" fill-opacity="0.35"/><ellipse cx="67.4" cy="863.6" rx="1.16" ry="0.73" transform="rotate(74 67.4 863.6)" fill="#8f86b8" fill-opacity="0.35"/><ellipse cx="75.3" cy="859.8" rx="1.85" ry="1.15" transform="rotate(106 75.3 859.8)" fill="#8f86b8" fill-opacity="0.35"/><ellipse cx="24.8" cy="848.2" rx="1.16" ry="0.73" transform="rotate(59 24.8 848.2)" fill="#8f86b8" fill-opacity="0.35"/><ellipse cx="75.9" cy="858.4" rx="1.21" ry="0.76" transform="rotate(83 75.9 858.4)" fill="#8f86b8" fill-opacity="0.35"/><ellipse cx="23.8" cy="838.5" rx="1.33" ry="0.83" transform="rotate(21 23.8 838.5)" fill="#8f86b8" fill-opacity="0.35"/><ellipse cx="56.4" cy="832.6" rx="1.18" ry="0.74" transform="rotate(-32 56.4 832.6)" fill="#8f86b8" fill-opacity="0.35"/><ellipse cx="62.1" cy="844.4" rx="1.54" ry="0.96" transform="rotate(90 62.1 844.4)" fill="#8f86b8" fill-opacity="0.35"/><ellipse cx="23.6" cy="818.5" rx="1.34" ry="0.84" transform="rotate(17 23.6 818.5)" fill="#8f86b8" fill-opacity="0.35"/><ellipse cx="22.1" cy="842.9" rx="1.82" ry="1.13" transform="rotate(28 22.1 842.9)" fill="#8f86b8" fill-opacity="0.35"/><ellipse cx="75.4" cy="817.7" rx="1.19" ry="0.75" transform="rotate(10 75.4 817.7)" fill="#8f86b8" fill-opacity="0.35"/><ellipse cx="66.5" cy="862.5" rx="2.03" ry="1.27" transform="rotate(68 66.5 862.5)" fill="#8f86b8" fill-opacity="0.35"/><ellipse cx="22.0" cy="832.2" rx="1.65" ry="1.03" transform="rotate(56 22.0 832.2)" fill="#8f86b8" fill-opacity="0.35"/><ellipse cx="17.2" cy="826.8" rx="1.51" ry="0.94" transform="rotate(53 17.2 826.8)" fill="#8f86b8" fill-opacity="0.35"/><ellipse cx="42.6" cy="815.7" rx="1.59" ry="0.99" transform="rotate(-49 42.6 815.7)" fill="#8f86b8" fill-opacity="0.35"/><ellipse cx="56.8" cy="861.0" rx="1.70" ry="1.06" transform="rotate(84 56.8 861.0)" fill="#8f86b8" fill-opacity="0.35"/><ellipse cx="70.4" cy="819.6" rx="2.01" ry="1.26" transform="rotate(-10 70.4 819.6)" fill="#8f86b8" fill-opacity="0.35"/><ellipse cx="33.8" cy="863.5" rx="1.67" ry="1.04" transform="rotate(11 33.8 863.5)" fill="#8f86b8" fill-opacity="0.35"/><ellipse cx="67.1" cy="838.2" rx="1.77" ry="1.10" transform="rotate(-36 67.1 838.2)" fill="#8f86b8" fill-opacity="0.35"/><ellipse cx="52.7" cy="832.2" rx="1.18" ry="0.74" transform="rotate(-38 52.7 832.2)" fill="#8f86b8" fill-opacity="0.35"/><ellipse cx="27.7" cy="832.7" rx="1.72" ry="1.07" transform="rotate(29 27.7 832.7)" fill="#8f86b8" fill-opacity="0.35"/><ellipse cx="31.1" cy="849.9" rx="1.84" ry="1.15" transform="rotate(106 31.1 849.9)" fill="#8f86b8" fill-opacity="0.35"/><ellipse cx="33.0" cy="817.7" rx="1.92" ry="1.20" transform="rotate(-50 33.0 817.7)" fill="#8f86b8" fill-opacity="0.35"/><ellipse cx="42.7" cy="823.3" rx="1.97" ry="1.23" transform="rotate(26 42.7 823.3)" fill="#8f86b8" fill-opacity="0.35"/><ellipse cx="20.7" cy="828.6" rx="1.40" ry="0.87" transform="rotate(5 20.7 828.6)" fill="#8f86b8" fill-opacity="0.35"/><ellipse cx="75.9" cy="829.1" rx="1.88" ry="1.17" transform="rotate(26 75.9 829.1)" fill="#8f86b8" fill-opacity="0.35"/><ellipse cx="65.6" cy="816.3" rx="1.27" ry="0.80" transform="rotate(16 65.6 816.3)" fill="#8f86b8" fill-opacity="0.35"/><ellipse cx="56.1" cy="829.8" rx="1.17" ry="0.73" transform="rotate(86 56.1 829.8)" fill="#8f86b8" fill-opacity="0.35"/><ellipse cx="78.8" cy="833.6" rx="1.38" ry="0.86" transform="rotate(-59 78.8 833.6)" fill="#8f86b8" fill-opacity="0.35"/><ellipse cx="71.9" cy="837.4" rx="1.76" ry="1.10" transform="rotate(80 71.9 837.4)" fill="#8f86b8" fill-opacity="0.35"/><ellipse cx="66.0" cy="854.4" rx="2.07" ry="1.30" transform="rotate(-18 66.0 854.4)" fill="#8f86b8" fill-opacity="0.35"/><ellipse cx="39.6" cy="859.4" rx="1.27" ry="0.79" transform="rotate(113 39.6 859.4)" fill="#8f86b8" fill-opacity="0.35"/><ellipse cx="27.0" cy="841.7" rx="1.75" ry="1.10" transform="rotate(35 27.0 841.7)" fill="#8f86b8" fill-opacity="0.35"/><ellipse cx="47.8" cy="821.4" rx="1.71" ry="1.07" transform="rotate(88 47.8 821.4)" fill="#8f86b8" fill-opacity="0.35"/><ellipse cx="36.2" cy="834.6" rx="1.47" ry="0.92" transform="rotate(70 36.2 834.6)" fill="#8f86b8" fill-opacity="0.35"/><ellipse cx="43.3" cy="819.7" rx="1.38" ry="0.86" transform="rotate(-56 43.3 819.7)" fill="#8f86b8" fill-opacity="0.35"/><ellipse cx="38.7" cy="830.7" rx="0.75" ry="0.59" transform="rotate(-60 38.7 830.7)" fill="#463f88" fill-opacity="0.85"/><ellipse cx="55.2" cy="819.1" rx="1.16" ry="0.92" transform="rotate(27 55.2 819.1)" fill="#463f88" fill-opacity="0.85"/><ellipse cx="40.0" cy="834.5" rx="1.04" ry="0.82" transform="rotate(-38 40.0 834.5)" fill="#463f88" fill-opacity="0.85"/><ellipse cx="76.8" cy="848.3" rx="0.88" ry="0.69" transform="rotate(19 76.8 848.3)" fill="#463f88" fill-opacity="0.85"/><ellipse cx="69.8" cy="827.2" rx="1.00" ry="0.79" transform="rotate(-59 69.8 827.2)" fill="#463f88" fill-opacity="0.85"/><ellipse cx="28.5" cy="849.7" rx="0.95" ry="0.75" transform="rotate(-82 28.5 849.7)" fill="#463f88" fill-opacity="0.85"/><ellipse cx="37.1" cy="847.6" rx="1.11" ry="0.88" transform="rotate(-84 37.1 847.6)" fill="#463f88" fill-opacity="0.85"/><ellipse cx="69.5" cy="852.2" rx="0.76" ry="0.60" transform="rotate(-33 69.5 852.2)" fill="#463f88" fill-opacity="0.85"/><ellipse cx="57.9" cy="826.2" rx="0.77" ry="0.61" transform="rotate(-83 57.9 826.2)" fill="#463f88" fill-opacity="0.85"/><ellipse cx="42.3" cy="841.0" rx="1.07" ry="0.85" transform="rotate(71 42.3 841.0)" fill="#463f88" fill-opacity="0.85"/><ellipse cx="52.4" cy="859.9" rx="1.05" ry="0.83" transform="rotate(4 52.4 859.9)" fill="#463f88" fill-opacity="0.85"/><ellipse cx="28.2" cy="823.9" rx="0.99" ry="0.78" transform="rotate(-28 28.2 823.9)" fill="#463f88" fill-opacity="0.85"/><ellipse cx="41.9" cy="848.9" rx="1.18" ry="0.93" transform="rotate(13 41.9 848.9)" fill="#463f88" fill-opacity="0.85"/><ellipse cx="38.8" cy="844.2" rx="0.80" ry="0.63" transform="rotate(4 38.8 844.2)" fill="#463f88" fill-opacity="0.85"/><ellipse cx="76.2" cy="858.2" rx="1.16" ry="0.91" transform="rotate(-78 76.2 858.2)" fill="#463f88" fill-opacity="0.85"/><ellipse cx="63.8" cy="852.0" rx="0.86" ry="0.68" transform="rotate(-17 63.8 852.0)" fill="#463f88" fill-opacity="0.85"/><ellipse cx="25.9" cy="831.0" rx="0.90" ry="0.71" transform="rotate(53 25.9 831.0)" fill="#463f88" fill-opacity="0.85"/><ellipse cx="73.4" cy="854.5" rx="1.09" ry="0.86" transform="rotate(-10 73.4 854.5)" fill="#463f88" fill-opacity="0.85"/><ellipse cx="68.4" cy="851.3" rx="0.76" ry="0.60" transform="rotate(-20 68.4 851.3)" fill="#463f88" fill-opacity="0.85"/><ellipse cx="78.6" cy="817.6" rx="0.77" ry="0.61" transform="rotate(-46 78.6 817.6)" fill="#463f88" fill-opacity="0.85"/><ellipse cx="30.5" cy="843.1" rx="1.13" ry="0.89" transform="rotate(35 30.5 843.1)" fill="#463f88" fill-opacity="0.85"/><ellipse cx="18.8" cy="847.7" rx="0.95" ry="0.75" transform="rotate(48 18.8 847.7)" fill="#463f88" fill-opacity="0.85"/><ellipse cx="59.7" cy="826.1" rx="0.87" ry="0.69" transform="rotate(36 59.7 826.1)" fill="#463f88" fill-opacity="0.85"/><ellipse cx="65.4" cy="821.2" rx="1.06" ry="0.84" transform="rotate(34 65.4 821.2)" fill="#463f88" fill-opacity="0.85"/><ellipse cx="48.4" cy="820.3" rx="1.03" ry="0.81" transform="rotate(6 48.4 820.3)" fill="#463f88" fill-opacity="0.85"/><ellipse cx="68.2" cy="832.5" rx="0.74" ry="0.59" transform="rotate(-42 68.2 832.5)" fill="#463f88" fill-opacity="0.85"/><ellipse cx="59.5" cy="850.9" rx="0.73" ry="0.58" transform="rotate(-24 59.5 850.9)" fill="#463f88" fill-opacity="0.85"/><ellipse cx="47.9" cy="832.4" rx="0.76" ry="0.60" transform="rotate(54 47.9 832.4)" fill="#463f88" fill-opacity="0.85"/><ellipse cx="63.4" cy="837.7" rx="1.18" ry="0.93" transform="rotate(52 63.4 837.7)" fill="#463f88" fill-opacity="0.85"/><ellipse cx="42.2" cy="834.7" rx="1.11" ry="0.88" transform="rotate(-50 42.2 834.7)" fill="#463f88" fill-opacity="0.85"/><ellipse cx="36.4" cy="833.6" rx="0.85" ry="0.67" transform="rotate(-58 36.4 833.6)" fill="#463f88" fill-opacity="0.85"/><ellipse cx="44.2" cy="821.7" rx="0.92" ry="0.72" transform="rotate(70 44.2 821.7)" fill="#463f88" fill-opacity="0.85"/><ellipse cx="30.6" cy="823.9" rx="1.15" ry="0.91" transform="rotate(-12 30.6 823.9)" fill="#463f88" fill-opacity="0.85"/><ellipse cx="37.0" cy="854.6" rx="0.80" ry="0.63" transform="rotate(-68 37.0 854.6)" fill="#463f88" fill-opacity="0.85"/><ellipse cx="40.2" cy="856.5" rx="1.10" ry="0.87" transform="rotate(-53 40.2 856.5)" fill="#463f88" fill-opacity="0.85"/><ellipse cx="36.0" cy="853.2" rx="0.72" ry="0.57" transform="rotate(-0 36.0 853.2)" fill="#463f88" fill-opacity="0.85"/><ellipse cx="48.9" cy="830.0" rx="0.87" ry="0.68" transform="rotate(10 48.9 830.0)" fill="#463f88" fill-opacity="0.85"/><ellipse cx="54.8" cy="826.8" rx="1.17" ry="0.92" transform="rotate(-41 54.8 826.8)" fill="#463f88" fill-opacity="0.85"/><ellipse cx="31.3" cy="852.5" rx="0.88" ry="0.70" transform="rotate(-12 31.3 852.5)" fill="#463f88" fill-opacity="0.85"/><ellipse cx="69.5" cy="855.1" rx="1.17" ry="0.92" transform="rotate(39 69.5 855.1)" fill="#463f88" fill-opacity="0.85"/><ellipse cx="61.9" cy="862.2" rx="0.86" ry="0.68" transform="rotate(-64 61.9 862.2)" fill="#463f88" fill-opacity="0.85"/><ellipse cx="67.2" cy="832.4" rx="1.01" ry="0.80" transform="rotate(15 67.2 832.4)" fill="#463f88" fill-opacity="0.85"/><ellipse cx="71.8" cy="855.9" rx="0.85" ry="0.67" transform="rotate(20 71.8 855.9)" fill="#463f88" fill-opacity="0.85"/><ellipse cx="29.7" cy="860.1" rx="1.14" ry="0.90" transform="rotate(75 29.7 860.1)" fill="#463f88" fill-opacity="0.85"/><ellipse cx="39.4" cy="861.9" rx="0.81" ry="0.64" transform="rotate(76 39.4 861.9)" fill="#463f88" fill-opacity="0.85"/><ellipse cx="43.6" cy="853.7" rx="0.90" ry="0.71" transform="rotate(56 43.6 853.7)" fill="#463f88" fill-opacity="0.85"/><ellipse cx="38.4" cy="850.4" rx="0.75" ry="0.60" transform="rotate(-17 38.4 850.4)" fill="#463f88" fill-opacity="0.85"/><ellipse cx="64.2" cy="852.6" rx="0.86" ry="0.68" transform="rotate(-27 64.2 852.6)" fill="#463f88" fill-opacity="0.85"/><ellipse cx="31.8" cy="839.9" rx="0.72" ry="0.57" transform="rotate(14 31.8 839.9)" fill="#463f88" fill-opacity="0.85"/><ellipse cx="50.2" cy="859.2" rx="0.89" ry="0.70" transform="rotate(57 50.2 859.2)" fill="#463f88" fill-opacity="0.85"/><ellipse cx="30.2" cy="845.4" rx="1.15" ry="0.90" transform="rotate(-25 30.2 845.4)" fill="#463f88" fill-opacity="0.85"/><ellipse cx="55.9" cy="854.7" rx="0.99" ry="0.78" transform="rotate(45 55.9 854.7)" fill="#463f88" fill-opacity="0.85"/><ellipse cx="72.2" cy="834.1" rx="1.13" ry="0.89" transform="rotate(-85 72.2 834.1)" fill="#463f88" fill-opacity="0.85"/><ellipse cx="62.9" cy="848.6" rx="1.03" ry="0.81" transform="rotate(-49 62.9 848.6)" fill="#463f88" fill-opacity="0.85"/><ellipse cx="40.2" cy="815.9" rx="1.04" ry="0.82" transform="rotate(-36 40.2 815.9)" fill="#463f88" fill-opacity="0.85"/><ellipse cx="16.5" cy="830.3" rx="1.07" ry="0.84" transform="rotate(-8 16.5 830.3)" fill="#463f88" fill-opacity="0.85"/><ellipse cx="79.2" cy="816.6" rx="0.95" ry="0.75" transform="rotate(-79 79.2 816.6)" fill="#463f88" fill-opacity="0.85"/><ellipse cx="36.6" cy="854.1" rx="1.05" ry="0.83" transform="rotate(24 36.6 854.1)" fill="#463f88" fill-opacity="0.85"/><ellipse cx="73.5" cy="856.1" rx="1.05" ry="0.83" transform="rotate(70 73.5 856.1)" fill="#463f88" fill-opacity="0.85"/><ellipse cx="41.2" cy="834.2" rx="0.76" ry="0.60" transform="rotate(-84 41.2 834.2)" fill="#463f88" fill-opacity="0.85"/><ellipse cx="27.9" cy="855.4" rx="1.17" ry="0.93" transform="rotate(54 27.9 855.4)" fill="#463f88" fill-opacity="0.85"/><ellipse cx="68.9" cy="859.4" rx="0.72" ry="0.57" transform="rotate(12 68.9 859.4)" fill="#463f88" fill-opacity="0.85"/><ellipse cx="56.8" cy="824.4" rx="1.00" ry="0.79" transform="rotate(-44 56.8 824.4)" fill="#463f88" fill-opacity="0.85"/><ellipse cx="33.6" cy="840.7" rx="0.71" ry="0.56" transform="rotate(52 33.6 840.7)" fill="#463f88" fill-opacity="0.85"/><ellipse cx="68.3" cy="835.9" rx="0.92" ry="0.73" transform="rotate(-77 68.3 835.9)" fill="#463f88" fill-opacity="0.85"/><ellipse cx="70.7" cy="860.5" rx="0.97" ry="0.77" transform="rotate(48 70.7 860.5)" fill="#463f88" fill-opacity="0.85"/><ellipse cx="37.4" cy="836.4" rx="1.19" ry="0.94" transform="rotate(-15 37.4 836.4)" fill="#463f88" fill-opacity="0.85"/><ellipse cx="70.6" cy="846.2" rx="1.14" ry="0.90" transform="rotate(-58 70.6 846.2)" fill="#463f88" fill-opacity="0.85"/><ellipse cx="42.4" cy="861.1" rx="0.85" ry="0.67" transform="rotate(79 42.4 861.1)" fill="#463f88" fill-opacity="0.85"/><ellipse cx="49.6" cy="818.2" rx="0.72" ry="0.57" transform="rotate(-36 49.6 818.2)" fill="#463f88" fill-opacity="0.85"/><ellipse cx="24.2" cy="853.3" rx="0.79" ry="0.62" transform="rotate(46 24.2 853.3)" fill="#463f88" fill-opacity="0.85"/><ellipse cx="20.3" cy="859.8" rx="0.96" ry="0.76" transform="rotate(31 20.3 859.8)" fill="#463f88" fill-opacity="0.85"/><ellipse cx="24.8" cy="856.0" rx="0.85" ry="0.67" transform="rotate(79 24.8 856.0)" fill="#463f88" fill-opacity="0.85"/><ellipse cx="50.3" cy="824.2" rx="0.93" ry="0.74" transform="rotate(-38 50.3 824.2)" fill="#463f88" fill-opacity="0.85"/><ellipse cx="66.4" cy="848.8" rx="1.14" ry="0.90" transform="rotate(51 66.4 848.8)" fill="#463f88" fill-opacity="0.85"/><ellipse cx="28.2" cy="858.5" rx="1.17" ry="0.92" transform="rotate(13 28.2 858.5)" fill="#463f88" fill-opacity="0.85"/><ellipse cx="71.4" cy="843.6" rx="1.04" ry="0.82" transform="rotate(82 71.4 843.6)" fill="#463f88" fill-opacity="0.85"/><ellipse cx="64.0" cy="816.0" rx="1.15" ry="0.91" transform="rotate(76 64.0 816.0)" fill="#463f88" fill-opacity="0.85"/><ellipse cx="23.6" cy="840.0" rx="1.00" ry="0.79" transform="rotate(-13 23.6 840.0)" fill="#463f88" fill-opacity="0.85"/><ellipse cx="44.3" cy="839.6" rx="0.78" ry="0.62" transform="rotate(42 44.3 839.6)" fill="#463f88" fill-opacity="0.85"/><ellipse cx="73.6" cy="815.9" rx="0.78" ry="0.62" transform="rotate(10 73.6 815.9)" fill="#463f88" fill-opacity="0.85"/><ellipse cx="30.9" cy="826.9" rx="0.74" ry="0.59" transform="rotate(-48 30.9 826.9)" fill="#463f88" fill-opacity="0.85"/><ellipse cx="28.0" cy="821.9" rx="1.17" ry="0.93" transform="rotate(-37 28.0 821.9)" fill="#463f88" fill-opacity="0.85"/><ellipse cx="50.7" cy="833.4" rx="0.80" ry="0.63" transform="rotate(26 50.7 833.4)" fill="#463f88" fill-opacity="0.85"/><ellipse cx="29.4" cy="842.2" rx="1.02" ry="0.81" transform="rotate(-56 29.4 842.2)" fill="#463f88" fill-opacity="0.85"/><ellipse cx="61.9" cy="828.8" rx="0.88" ry="0.69" transform="rotate(51 61.9 828.8)" fill="#463f88" fill-opacity="0.85"/><ellipse cx="61.8" cy="851.1" rx="0.97" ry="0.76" transform="rotate(-30 61.8 851.1)" fill="#463f88" fill-opacity="0.85"/><ellipse cx="61.1" cy="856.6" rx="0.77" ry="0.60" transform="rotate(74 61.1 856.6)" fill="#463f88" fill-opacity="0.85"/><ellipse cx="43.1" cy="824.3" rx="1.15" ry="0.91" transform="rotate(-89 43.1 824.3)" fill="#463f88" fill-opacity="0.85"/><ellipse cx="32.3" cy="843.5" rx="0.96" ry="0.76" transform="rotate(-56 32.3 843.5)" fill="#463f88" fill-opacity="0.85"/><ellipse cx="20.7" cy="861.9" rx="0.97" ry="0.77" transform="rotate(74 20.7 861.9)" fill="#463f88" fill-opacity="0.85"/><ellipse cx="18.7" cy="851.3" rx="0.77" ry="0.60" transform="rotate(-60 18.7 851.3)" fill="#463f88" fill-opacity="0.85"/><ellipse cx="71.0" cy="863.3" rx="1.08" ry="0.85" transform="rotate(-41 71.0 863.3)" fill="#463f88" fill-opacity="0.85"/><ellipse cx="36.0" cy="830.5" rx="1.05" ry="0.83" transform="rotate(70 36.0 830.5)" fill="#463f88" fill-opacity="0.85"/><ellipse cx="39.3" cy="817.1" rx="1.10" ry="0.87" transform="rotate(50 39.3 817.1)" fill="#463f88" fill-opacity="0.85"/><ellipse cx="56.3" cy="863.1" rx="1.16" ry="0.92" transform="rotate(20 56.3 863.1)" fill="#463f88" fill-opacity="0.85"/><ellipse cx="27.3" cy="843.0" rx="0.96" ry="0.76" transform="rotate(21 27.3 843.0)" fill="#463f88" fill-opacity="0.85"/><ellipse cx="40.0" cy="858.9" rx="1.15" ry="0.91" transform="rotate(-22 40.0 858.9)" fill="#463f88" fill-opacity="0.85"/><ellipse cx="58.1" cy="861.8" rx="1.00" ry="0.79" transform="rotate(31 58.1 861.8)" fill="#463f88" fill-opacity="0.85"/><ellipse cx="43.2" cy="830.8" rx="0.92" ry="0.73" transform="rotate(-17 43.2 830.8)" fill="#463f88" fill-opacity="0.85"/><ellipse cx="40.9" cy="855.3" rx="0.88" ry="0.69" transform="rotate(85 40.9 855.3)" fill="#463f88" fill-opacity="0.85"/><ellipse cx="21.3" cy="858.7" rx="0.88" ry="0.69" transform="rotate(81 21.3 858.7)" fill="#463f88" fill-opacity="0.85"/><ellipse cx="41.4" cy="835.1" rx="0.78" ry="0.61" transform="rotate(40 41.4 835.1)" fill="#463f88" fill-opacity="0.85"/><ellipse cx="42.6" cy="839.3" rx="1.07" ry="0.84" transform="rotate(-62 42.6 839.3)" fill="#463f88" fill-opacity="0.85"/><ellipse cx="40.9" cy="843.6" rx="0.72" ry="0.57" transform="rotate(5 40.9 843.6)" fill="#463f88" fill-opacity="0.85"/><ellipse cx="21.0" cy="833.8" rx="0.73" ry="0.57" transform="rotate(-63 21.0 833.8)" fill="#463f88" fill-opacity="0.85"/><ellipse cx="65.7" cy="862.5" rx="1.12" ry="0.88" transform="rotate(60 65.7 862.5)" fill="#463f88" fill-opacity="0.85"/><ellipse cx="67.3" cy="822.2" rx="1.02" ry="0.80" transform="rotate(55 67.3 822.2)" fill="#463f88" fill-opacity="0.85"/><ellipse cx="45.9" cy="827.1" rx="1.07" ry="0.84" transform="rotate(47 45.9 827.1)" fill="#463f88" fill-opacity="0.85"/><ellipse cx="20.2" cy="839.8" rx="0.77" ry="0.61" transform="rotate(-26 20.2 839.8)" fill="#463f88" fill-opacity="0.85"/><ellipse cx="56.5" cy="859.7" rx="0.97" ry="0.77" transform="rotate(-44 56.5 859.7)" fill="#463f88" fill-opacity="0.85"/><ellipse cx="55.3" cy="834.0" rx="1.05" ry="0.83" transform="rotate(-80 55.3 834.0)" fill="#463f88" fill-opacity="0.85"/><ellipse cx="76.4" cy="838.5" rx="1.01" ry="0.80" transform="rotate(-36 76.4 838.5)" fill="#463f88" fill-opacity="0.85"/><ellipse cx="46.5" cy="845.6" rx="1.15" ry="0.91" transform="rotate(75 46.5 845.6)" fill="#463f88" fill-opacity="0.85"/><ellipse cx="57.2" cy="843.7" rx="0.78" ry="0.61" transform="rotate(-7 57.2 843.7)" fill="#463f88" fill-opacity="0.85"/><ellipse cx="66.8" cy="834.0" rx="0.89" ry="0.71" transform="rotate(19 66.8 834.0)" fill="#463f88" fill-opacity="0.85"/><ellipse cx="16.5" cy="816.2" rx="0.72" ry="0.57" transform="rotate(-39 16.5 816.2)" fill="#463f88" fill-opacity="0.85"/><ellipse cx="41.5" cy="816.4" rx="0.76" ry="0.60" transform="rotate(-43 41.5 816.4)" fill="#463f88" fill-opacity="0.85"/><ellipse cx="61.1" cy="863.8" rx="0.96" ry="0.76" transform="rotate(-16 61.1 863.8)" fill="#463f88" fill-opacity="0.85"/><ellipse cx="46.1" cy="843.7" rx="1.15" ry="0.91" transform="rotate(68 46.1 843.7)" fill="#463f88" fill-opacity="0.85"/><ellipse cx="57.4" cy="844.9" rx="1.16" ry="0.91" transform="rotate(-79 57.4 844.9)" fill="#463f88" fill-opacity="0.85"/><ellipse cx="66.7" cy="849.8" rx="0.95" ry="0.75" transform="rotate(83 66.7 849.8)" fill="#463f88" fill-opacity="0.85"/><ellipse cx="57.0" cy="832.6" rx="0.99" ry="0.78" transform="rotate(-36 57.0 832.6)" fill="#463f88" fill-opacity="0.85"/><ellipse cx="74.2" cy="833.2" rx="0.94" ry="0.74" transform="rotate(41 74.2 833.2)" fill="#463f88" fill-opacity="0.85"/><ellipse cx="76.0" cy="846.5" rx="0.97" ry="0.76" transform="rotate(60 76.0 846.5)" fill="#463f88" fill-opacity="0.85"/><ellipse cx="59.7" cy="855.9" rx="1.10" ry="0.87" transform="rotate(65 59.7 855.9)" fill="#463f88" fill-opacity="0.85"/><ellipse cx="35.1" cy="847.9" rx="0.80" ry="0.63" transform="rotate(-12 35.1 847.9)" fill="#463f88" fill-opacity="0.85"/><ellipse cx="41.4" cy="840.0" rx="1.01" ry="0.80" transform="rotate(20 41.4 840.0)" fill="#463f88" fill-opacity="0.85"/><ellipse cx="32.2" cy="843.3" rx="0.73" ry="0.57" transform="rotate(38 32.2 843.3)" fill="#463f88" fill-opacity="0.85"/><ellipse cx="60.2" cy="851.5" rx="0.97" ry="0.77" transform="rotate(32 60.2 851.5)" fill="#463f88" fill-opacity="0.85"/><ellipse cx="15.8" cy="841.3" rx="1.01" ry="0.80" transform="rotate(33 15.8 841.3)" fill="#463f88" fill-opacity="0.85"/><ellipse cx="44.1" cy="854.9" rx="0.90" ry="0.71" transform="rotate(74 44.1 854.9)" fill="#463f88" fill-opacity="0.85"/><ellipse cx="78.6" cy="828.6" rx="0.84" ry="0.66" transform="rotate(7 78.6 828.6)" fill="#463f88" fill-opacity="0.85"/><ellipse cx="38.0" cy="836.0" rx="1.14" ry="0.90" transform="rotate(-83 38.0 836.0)" fill="#463f88" fill-opacity="0.85"/><ellipse cx="71.9" cy="816.5" rx="1.12" ry="0.89" transform="rotate(45 71.9 816.5)" fill="#463f88" fill-opacity="0.85"/><ellipse cx="63.3" cy="820.3" rx="0.74" ry="0.58" transform="rotate(71 63.3 820.3)" fill="#463f88" fill-opacity="0.85"/><ellipse cx="21.1" cy="817.4" rx="0.72" ry="0.57" transform="rotate(73 21.1 817.4)" fill="#463f88" fill-opacity="0.85"/><ellipse cx="18.5" cy="815.6" rx="0.95" ry="0.75" transform="rotate(-89 18.5 815.6)" fill="#463f88" fill-opacity="0.85"/><ellipse cx="17.2" cy="839.3" rx="1.12" ry="0.88" transform="rotate(37 17.2 839.3)" fill="#463f88" fill-opacity="0.85"/><ellipse cx="73.7" cy="832.0" rx="0.85" ry="0.67" transform="rotate(-69 73.7 832.0)" fill="#463f88" fill-opacity="0.85"/><ellipse cx="29.0" cy="857.6" rx="0.83" ry="0.65" transform="rotate(39 29.0 857.6)" fill="#463f88" fill-opacity="0.85"/><ellipse cx="55.6" cy="837.5" rx="0.85" ry="0.67" transform="rotate(47 55.6 837.5)" fill="#463f88" fill-opacity="0.85"/><ellipse cx="40.0" cy="823.3" rx="0.98" ry="0.77" transform="rotate(-35 40.0 823.3)" fill="#463f88" fill-opacity="0.85"/><ellipse cx="62.9" cy="851.9" rx="0.80" ry="0.63" transform="rotate(-74 62.9 851.9)" fill="#463f88" fill-opacity="0.85"/><ellipse cx="62.3" cy="827.0" rx="1.06" ry="0.83" transform="rotate(86 62.3 827.0)" fill="#463f88" fill-opacity="0.85"/><ellipse cx="19.0" cy="840.3" rx="0.93" ry="0.74" transform="rotate(-31 19.0 840.3)" fill="#463f88" fill-opacity="0.85"/><ellipse cx="62.6" cy="817.3" rx="0.86" ry="0.68" transform="rotate(-45 62.6 817.3)" fill="#463f88" fill-opacity="0.85"/><ellipse cx="20.4" cy="842.2" rx="1.01" ry="0.80" transform="rotate(4 20.4 842.2)" fill="#463f88" fill-opacity="0.85"/><ellipse cx="31.0" cy="835.6" rx="0.94" ry="0.74" transform="rotate(25 31.0 835.6)" fill="#463f88" fill-opacity="0.85"/><ellipse cx="40.4" cy="819.7" rx="0.78" ry="0.61" transform="rotate(55 40.4 819.7)" fill="#463f88" fill-opacity="0.85"/><ellipse cx="79.2" cy="830.8" rx="1.11" ry="0.87" transform="rotate(-36 79.2 830.8)" fill="#463f88" fill-opacity="0.85"/><ellipse cx="36.6" cy="817.8" rx="1.03" ry="0.82" transform="rotate(20 36.6 817.8)" fill="#463f88" fill-opacity="0.85"/><ellipse cx="21.9" cy="829.5" rx="0.85" ry="0.67" transform="rotate(4 21.9 829.5)" fill="#463f88" fill-opacity="0.85"/><ellipse cx="34.3" cy="830.6" rx="1.13" ry="0.89" transform="rotate(-30 34.3 830.6)" fill="#463f88" fill-opacity="0.85"/><ellipse cx="55.0" cy="823.1" rx="1.09" ry="0.86" transform="rotate(-89 55.0 823.1)" fill="#463f88" fill-opacity="0.85"/><ellipse cx="66.3" cy="827.2" rx="1.00" ry="0.79" transform="rotate(35 66.3 827.2)" fill="#463f88" fill-opacity="0.85"/><ellipse cx="17.9" cy="836.5" rx="1.11" ry="0.88" transform="rotate(-48 17.9 836.5)" fill="#463f88" fill-opacity="0.85"/><ellipse cx="74.1" cy="832.1" rx="1.02" ry="0.80" transform="rotate(-26 74.1 832.1)" fill="#463f88" fill-opacity="0.85"/><ellipse cx="29.0" cy="845.7" rx="0.80" ry="0.63" transform="rotate(-25 29.0 845.7)" fill="#463f88" fill-opacity="0.85"/><ellipse cx="38.6" cy="826.6" rx="1.11" ry="0.88" transform="rotate(83 38.6 826.6)" fill="#463f88" fill-opacity="0.85"/><ellipse cx="36.8" cy="835.3" rx="1.06" ry="0.83" transform="rotate(-17 36.8 835.3)" fill="#463f88" fill-opacity="0.85"/><ellipse cx="38.4" cy="826.7" rx="1.09" ry="0.86" transform="rotate(-75 38.4 826.7)" fill="#463f88" fill-opacity="0.85"/><ellipse cx="28.4" cy="842.4" rx="1.03" ry="0.81" transform="rotate(26 28.4 842.4)" fill="#463f88" fill-opacity="0.85"/><ellipse cx="19.1" cy="831.4" rx="0.90" ry="0.71" transform="rotate(-65 19.1 831.4)" fill="#463f88" fill-opacity="0.85"/><ellipse cx="18.7" cy="831.9" rx="0.94" ry="0.74" transform="rotate(45 18.7 831.9)" fill="#463f88" fill-opacity="0.85"/><ellipse cx="61.4" cy="859.5" rx="1.00" ry="0.79" transform="rotate(-23 61.4 859.5)" fill="#463f88" fill-opacity="0.85"/><ellipse cx="25.4" cy="847.1" rx="0.87" ry="0.69" transform="rotate(-43 25.4 847.1)" fill="#463f88" fill-opacity="0.85"/><ellipse cx="45.6" cy="829.3" rx="1.15" ry="0.91" transform="rotate(86 45.6 829.3)" fill="#463f88" fill-opacity="0.85"/><ellipse cx="33.3" cy="818.8" rx="1.08" ry="0.86" transform="rotate(-10 33.3 818.8)" fill="#463f88" fill-opacity="0.85"/><ellipse cx="65.3" cy="843.4" rx="0.79" ry="0.62" transform="rotate(34 65.3 843.4)" fill="#463f88" fill-opacity="0.85"/><ellipse cx="18.9" cy="860.0" rx="0.90" ry="0.71" transform="rotate(-84 18.9 860.0)" fill="#463f88" fill-opacity="0.85"/><ellipse cx="42.1" cy="824.2" rx="1.03" ry="0.81" transform="rotate(75 42.1 824.2)" fill="#463f88" fill-opacity="0.85"/><ellipse cx="70.7" cy="857.1" rx="1.05" ry="0.83" transform="rotate(-79 70.7 857.1)" fill="#463f88" fill-opacity="0.85"/><ellipse cx="68.9" cy="861.0" rx="1.02" ry="0.80" transform="rotate(74 68.9 861.0)" fill="#463f88" fill-opacity="0.85"/><ellipse cx="21.1" cy="828.4" rx="0.80" ry="0.63" transform="rotate(-50 21.1 828.4)" fill="#463f88" fill-opacity="0.85"/><ellipse cx="44.0" cy="836.4" rx="1.01" ry="0.80" transform="rotate(46 44.0 836.4)" fill="#463f88" fill-opacity="0.85"/><ellipse cx="56.1" cy="845.9" rx="1.11" ry="0.88" transform="rotate(53 56.1 845.9)" fill="#463f88" fill-opacity="0.85"/><ellipse cx="22.8" cy="824.1" rx="1.01" ry="0.80" transform="rotate(67 22.8 824.1)" fill="#463f88" fill-opacity="0.85"/><ellipse cx="46.2" cy="847.7" rx="0.90" ry="0.71" transform="rotate(45 46.2 847.7)" fill="#463f88" fill-opacity="0.85"/><ellipse cx="52.6" cy="856.3" rx="0.82" ry="0.65" transform="rotate(15 52.6 856.3)" fill="#463f88" fill-opacity="0.85"/><ellipse cx="32.3" cy="822.8" rx="0.87" ry="0.69" transform="rotate(-57 32.3 822.8)" fill="#463f88" fill-opacity="0.85"/><ellipse cx="33.5" cy="852.0" rx="0.72" ry="0.56" transform="rotate(-68 33.5 852.0)" fill="#463f88" fill-opacity="0.85"/><ellipse cx="44.8" cy="824.4" rx="0.96" ry="0.76" transform="rotate(9 44.8 824.4)" fill="#463f88" fill-opacity="0.85"/><ellipse cx="43.8" cy="854.0" rx="0.77" ry="0.61" transform="rotate(5 43.8 854.0)" fill="#463f88" fill-opacity="0.85"/><ellipse cx="59.0" cy="835.0" rx="1.00" ry="0.79" transform="rotate(50 59.0 835.0)" fill="#463f88" fill-opacity="0.85"/><ellipse cx="47.3" cy="851.5" rx="0.88" ry="0.69" transform="rotate(89 47.3 851.5)" fill="#463f88" fill-opacity="0.85"/><ellipse cx="73.8" cy="843.2" rx="1.04" ry="0.82" transform="rotate(-57 73.8 843.2)" fill="#463f88" fill-opacity="0.85"/><ellipse cx="18.1" cy="843.6" rx="1.10" ry="0.87" transform="rotate(-20 18.1 843.6)" fill="#463f88" fill-opacity="0.85"/><ellipse cx="46.3" cy="830.8" rx="0.98" ry="0.78" transform="rotate(-82 46.3 830.8)" fill="#463f88" fill-opacity="0.85"/><ellipse cx="52.5" cy="849.4" rx="0.97" ry="0.77" transform="rotate(65 52.5 849.4)" fill="#463f88" fill-opacity="0.85"/><ellipse cx="21.8" cy="822.5" rx="1.04" ry="0.82" transform="rotate(37 21.8 822.5)" fill="#463f88" fill-opacity="0.85"/><ellipse cx="67.7" cy="827.7" rx="0.83" ry="0.66" transform="rotate(71 67.7 827.7)" fill="#463f88" fill-opacity="0.85"/><ellipse cx="35.3" cy="851.9" rx="0.87" ry="0.69" transform="rotate(-32 35.3 851.9)" fill="#463f88" fill-opacity="0.85"/><ellipse cx="74.4" cy="833.1" rx="0.92" ry="0.73" transform="rotate(-23 74.4 833.1)" fill="#463f88" fill-opacity="0.85"/><ellipse cx="75.7" cy="820.8" rx="0.96" ry="0.76" transform="rotate(47 75.7 820.8)" fill="#463f88" fill-opacity="0.85"/><ellipse cx="16.4" cy="841.9" rx="1.06" ry="0.84" transform="rotate(-13 16.4 841.9)" fill="#463f88" fill-opacity="0.85"/><ellipse cx="39.0" cy="819.8" rx="1.04" ry="0.82" transform="rotate(40 39.0 819.8)" fill="#463f88" fill-opacity="0.85"/><ellipse cx="62.7" cy="820.1" rx="1.03" ry="0.81" transform="rotate(-44 62.7 820.1)" fill="#463f88" fill-opacity="0.85"/><ellipse cx="26.6" cy="849.5" rx="1.15" ry="0.91" transform="rotate(-87 26.6 849.5)" fill="#463f88" fill-opacity="0.85"/><ellipse cx="30.7" cy="843.1" rx="0.74" ry="0.59" transform="rotate(-2 30.7 843.1)" fill="#463f88" fill-opacity="0.85"/><ellipse cx="40.7" cy="830.6" rx="0.74" ry="0.58" transform="rotate(56 40.7 830.6)" fill="#463f88" fill-opacity="0.85"/><ellipse cx="31.3" cy="835.7" rx="0.87" ry="0.68" transform="rotate(72 31.3 835.7)" fill="#463f88" fill-opacity="0.85"/><ellipse cx="36.9" cy="853.5" rx="1.04" ry="0.82" transform="rotate(-20 36.9 853.5)" fill="#463f88" fill-opacity="0.85"/><ellipse cx="53.8" cy="824.8" rx="1.15" ry="0.91" transform="rotate(-86 53.8 824.8)" fill="#463f88" fill-opacity="0.85"/><ellipse cx="36.6" cy="855.1" rx="0.86" ry="0.68" transform="rotate(15 36.6 855.1)" fill="#463f88" fill-opacity="0.85"/><ellipse cx="58.8" cy="858.0" rx="0.89" ry="0.70" transform="rotate(14 58.8 858.0)" fill="#463f88" fill-opacity="0.85"/><ellipse cx="54.5" cy="843.2" rx="0.97" ry="0.76" transform="rotate(-6 54.5 843.2)" fill="#463f88" fill-opacity="0.85"/><ellipse cx="78.2" cy="840.6" rx="0.78" ry="0.61" transform="rotate(83 78.2 840.6)" fill="#463f88" fill-opacity="0.85"/><ellipse cx="27.9" cy="819.9" rx="0.95" ry="0.75" transform="rotate(9 27.9 819.9)" fill="#463f88" fill-opacity="0.85"/><ellipse cx="22.3" cy="833.0" rx="0.83" ry="0.65" transform="rotate(-70 22.3 833.0)" fill="#463f88" fill-opacity="0.85"/><ellipse cx="74.7" cy="822.3" rx="0.89" ry="0.70" transform="rotate(53 74.7 822.3)" fill="#463f88" fill-opacity="0.85"/><ellipse cx="59.5" cy="827.1" rx="1.13" ry="0.89" transform="rotate(-18 59.5 827.1)" fill="#463f88" fill-opacity="0.85"/><ellipse cx="48.1" cy="859.1" rx="1.04" ry="0.82" transform="rotate(-25 48.1 859.1)" fill="#463f88" fill-opacity="0.85"/><ellipse cx="43.4" cy="836.0" rx="0.84" ry="0.67" transform="rotate(85 43.4 836.0)" fill="#463f88" fill-opacity="0.85"/><ellipse cx="37.5" cy="845.5" rx="0.74" ry="0.58" transform="rotate(-25 37.5 845.5)" fill="#463f88" fill-opacity="0.85"/><ellipse cx="26.6" cy="838.4" rx="1.00" ry="0.79" transform="rotate(-22 26.6 838.4)" fill="#463f88" fill-opacity="0.85"/><ellipse cx="34.9" cy="843.6" rx="1.00" ry="0.79" transform="rotate(-75 34.9 843.6)" fill="#463f88" fill-opacity="0.85"/><ellipse cx="61.8" cy="854.4" rx="0.76" ry="0.60" transform="rotate(-69 61.8 854.4)" fill="#463f88" fill-opacity="0.85"/><ellipse cx="64.4" cy="823.6" rx="0.92" ry="0.73" transform="rotate(-80 64.4 823.6)" fill="#463f88" fill-opacity="0.85"/><ellipse cx="51.5" cy="824.5" rx="0.96" ry="0.76" transform="rotate(15 51.5 824.5)" fill="#463f88" fill-opacity="0.85"/></g>
</g>
<rect x="15.60" y="815.40" width="64.40" height="48.60" fill="none" stroke="#9a9a9a" stroke-width="0.4"/>
<rect x="16.40" y="856.60" width="18.74" height="6.40" fill="#ffffff" fill-opacity="0.55"/>
<text x="17.40" y="861.60" font-size="5.9" fill="#c4531d" stroke="#c4531d" stroke-width="0.2" paint-order="stroke">ITGA3</text>
<clipPath id="clipT2"><rect x="91.00" y="815.40" width="65.00" height="48.60"/></clipPath>
<g clip-path="url(#clipT2)">
<rect x="91.00" y="815.40" width="65.00" height="48.60" fill="#ddd3e3"/>
<rect x="91.00" y="815.40" width="65.00" height="48.60" fill="#fff" filter="url(#nzL)"/>
<rect x="91.00" y="815.40" width="65.00" height="48.60" fill="#fff" filter="url(#nzD)"/>
<g filter="url(#b2)"><ellipse cx="117.1" cy="818.2" rx="1.49" ry="0.83" transform="rotate(126 117.1 818.2)" fill="#b59ab8" fill-opacity="0.35"/><ellipse cx="101.1" cy="840.2" rx="1.67" ry="0.93" transform="rotate(82 101.1 840.2)" fill="#b59ab8" fill-opacity="0.35"/><ellipse cx="145.7" cy="838.9" rx="1.28" ry="0.71" transform="rotate(99 145.7 838.9)" fill="#b59ab8" fill-opacity="0.35"/><ellipse cx="126.5" cy="856.0" rx="1.42" ry="0.79" transform="rotate(-3 126.5 856.0)" fill="#b59ab8" fill-opacity="0.35"/><ellipse cx="128.9" cy="854.6" rx="1.40" ry="0.78" transform="rotate(-38 128.9 854.6)" fill="#b59ab8" fill-opacity="0.35"/><ellipse cx="91.5" cy="821.2" rx="2.26" ry="1.26" transform="rotate(-41 91.5 821.2)" fill="#b59ab8" fill-opacity="0.35"/><ellipse cx="91.5" cy="842.3" rx="1.90" ry="1.06" transform="rotate(21 91.5 842.3)" fill="#b59ab8" fill-opacity="0.35"/><ellipse cx="106.9" cy="840.3" rx="2.21" ry="1.23" transform="rotate(38 106.9 840.3)" fill="#b59ab8" fill-opacity="0.35"/><ellipse cx="148.1" cy="821.4" rx="1.70" ry="0.94" transform="rotate(63 148.1 821.4)" fill="#b59ab8" fill-opacity="0.35"/><ellipse cx="102.3" cy="821.7" rx="2.10" ry="1.16" transform="rotate(-33 102.3 821.7)" fill="#b59ab8" fill-opacity="0.35"/><ellipse cx="146.5" cy="860.5" rx="1.45" ry="0.81" transform="rotate(0 146.5 860.5)" fill="#b59ab8" fill-opacity="0.35"/><ellipse cx="139.0" cy="823.1" rx="1.77" ry="0.98" transform="rotate(-0 139.0 823.1)" fill="#b59ab8" fill-opacity="0.35"/><ellipse cx="143.4" cy="858.0" rx="1.51" ry="0.84" transform="rotate(53 143.4 858.0)" fill="#b59ab8" fill-opacity="0.35"/><ellipse cx="134.3" cy="843.7" rx="1.74" ry="0.96" transform="rotate(52 134.3 843.7)" fill="#b59ab8" fill-opacity="0.35"/><ellipse cx="116.3" cy="828.1" rx="1.30" ry="0.72" transform="rotate(64 116.3 828.1)" fill="#b59ab8" fill-opacity="0.35"/><ellipse cx="148.9" cy="817.5" rx="1.54" ry="0.86" transform="rotate(-19 148.9 817.5)" fill="#b59ab8" fill-opacity="0.35"/><ellipse cx="112.0" cy="816.3" rx="1.74" ry="0.97" transform="rotate(128 112.0 816.3)" fill="#b59ab8" fill-opacity="0.35"/><ellipse cx="119.3" cy="837.7" rx="1.28" ry="0.71" transform="rotate(127 119.3 837.7)" fill="#b59ab8" fill-opacity="0.35"/><ellipse cx="102.3" cy="849.7" rx="1.41" ry="0.78" transform="rotate(59 102.3 849.7)" fill="#b59ab8" fill-opacity="0.35"/><ellipse cx="135.0" cy="849.0" rx="1.62" ry="0.90" transform="rotate(49 135.0 849.0)" fill="#b59ab8" fill-opacity="0.35"/><ellipse cx="114.7" cy="855.5" rx="2.03" ry="1.13" transform="rotate(91 114.7 855.5)" fill="#b59ab8" fill-opacity="0.35"/><ellipse cx="93.0" cy="854.0" rx="1.96" ry="1.09" transform="rotate(25 93.0 854.0)" fill="#b59ab8" fill-opacity="0.35"/><ellipse cx="121.6" cy="861.4" rx="1.93" ry="1.07" transform="rotate(61 121.6 861.4)" fill="#b59ab8" fill-opacity="0.35"/><ellipse cx="129.0" cy="824.6" rx="2.17" ry="1.21" transform="rotate(68 129.0 824.6)" fill="#b59ab8" fill-opacity="0.35"/><ellipse cx="93.3" cy="862.0" rx="1.36" ry="0.76" transform="rotate(0 93.3 862.0)" fill="#b59ab8" fill-opacity="0.35"/><ellipse cx="130.9" cy="845.9" rx="1.79" ry="1.00" transform="rotate(-3 130.9 845.9)" fill="#b59ab8" fill-opacity="0.35"/><ellipse cx="133.8" cy="840.2" rx="2.14" ry="1.19" transform="rotate(58 133.8 840.2)" fill="#b59ab8" fill-opacity="0.35"/><ellipse cx="95.8" cy="839.5" rx="1.98" ry="1.10" transform="rotate(26 95.8 839.5)" fill="#b59ab8" fill-opacity="0.35"/><ellipse cx="134.1" cy="849.3" rx="1.97" ry="1.10" transform="rotate(-22 134.1 849.3)" fill="#b59ab8" fill-opacity="0.35"/><ellipse cx="131.1" cy="850.7" rx="1.52" ry="0.84" transform="rotate(-7 131.1 850.7)" fill="#b59ab8" fill-opacity="0.35"/><ellipse cx="109.5" cy="838.2" rx="1.40" ry="0.78" transform="rotate(52 109.5 838.2)" fill="#b59ab8" fill-opacity="0.35"/><ellipse cx="155.1" cy="838.4" rx="1.40" ry="0.78" transform="rotate(14 155.1 838.4)" fill="#b59ab8" fill-opacity="0.35"/><ellipse cx="116.1" cy="818.0" rx="2.17" ry="1.21" transform="rotate(119 116.1 818.0)" fill="#b59ab8" fill-opacity="0.35"/><ellipse cx="109.6" cy="818.4" rx="1.69" ry="0.94" transform="rotate(39 109.6 818.4)" fill="#b59ab8" fill-opacity="0.35"/><ellipse cx="144.7" cy="839.3" rx="1.87" ry="1.04" transform="rotate(-34 144.7 839.3)" fill="#b59ab8" fill-opacity="0.35"/><ellipse cx="100.4" cy="815.8" rx="2.23" ry="1.24" transform="rotate(52 100.4 815.8)" fill="#b59ab8" fill-opacity="0.35"/><ellipse cx="148.0" cy="837.3" rx="1.45" ry="0.80" transform="rotate(103 148.0 837.3)" fill="#b59ab8" fill-opacity="0.35"/><ellipse cx="99.5" cy="844.2" rx="1.69" ry="0.94" transform="rotate(42 99.5 844.2)" fill="#b59ab8" fill-opacity="0.35"/><ellipse cx="95.4" cy="827.1" rx="1.68" ry="0.93" transform="rotate(-5 95.4 827.1)" fill="#b59ab8" fill-opacity="0.35"/><ellipse cx="107.2" cy="835.8" rx="1.91" ry="1.06" transform="rotate(6 107.2 835.8)" fill="#b59ab8" fill-opacity="0.35"/><ellipse cx="133.1" cy="845.4" rx="1.44" ry="0.80" transform="rotate(20 133.1 845.4)" fill="#b59ab8" fill-opacity="0.35"/><ellipse cx="112.4" cy="843.9" rx="1.35" ry="0.75" transform="rotate(126 112.4 843.9)" fill="#b59ab8" fill-opacity="0.35"/><ellipse cx="103.4" cy="852.4" rx="1.36" ry="0.76" transform="rotate(74 103.4 852.4)" fill="#b59ab8" fill-opacity="0.35"/><ellipse cx="114.2" cy="847.6" rx="1.77" ry="0.99" transform="rotate(100 114.2 847.6)" fill="#b59ab8" fill-opacity="0.35"/><ellipse cx="151.7" cy="859.9" rx="2.27" ry="1.26" transform="rotate(10 151.7 859.9)" fill="#b59ab8" fill-opacity="0.35"/><ellipse cx="145.7" cy="835.7" rx="1.27" ry="0.70" transform="rotate(1 145.7 835.7)" fill="#b59ab8" fill-opacity="0.35"/><ellipse cx="104.8" cy="829.2" rx="1.65" ry="0.92" transform="rotate(49 104.8 829.2)" fill="#b59ab8" fill-opacity="0.35"/><ellipse cx="99.6" cy="818.5" rx="1.42" ry="0.79" transform="rotate(-9 99.6 818.5)" fill="#b59ab8" fill-opacity="0.35"/><ellipse cx="103.4" cy="847.1" rx="1.53" ry="0.85" transform="rotate(68 103.4 847.1)" fill="#b59ab8" fill-opacity="0.35"/><ellipse cx="121.3" cy="817.5" rx="1.88" ry="1.05" transform="rotate(1 121.3 817.5)" fill="#b59ab8" fill-opacity="0.35"/><ellipse cx="104.6" cy="852.4" rx="1.43" ry="0.80" transform="rotate(67 104.6 852.4)" fill="#b59ab8" fill-opacity="0.35"/><ellipse cx="124.8" cy="834.0" rx="2.16" ry="1.20" transform="rotate(-27 124.8 834.0)" fill="#b59ab8" fill-opacity="0.35"/><ellipse cx="151.4" cy="816.9" rx="1.37" ry="0.76" transform="rotate(-25 151.4 816.9)" fill="#b59ab8" fill-opacity="0.35"/><ellipse cx="140.9" cy="823.2" rx="1.37" ry="0.76" transform="rotate(80 140.9 823.2)" fill="#b59ab8" fill-opacity="0.35"/><ellipse cx="96.4" cy="845.7" rx="2.21" ry="1.23" transform="rotate(114 96.4 845.7)" fill="#b59ab8" fill-opacity="0.35"/><ellipse cx="131.8" cy="827.0" rx="1.95" ry="1.08" transform="rotate(4 131.8 827.0)" fill="#b59ab8" fill-opacity="0.35"/><ellipse cx="129.3" cy="845.2" rx="2.29" ry="1.27" transform="rotate(-39 129.3 845.2)" fill="#b59ab8" fill-opacity="0.35"/><ellipse cx="132.2" cy="820.2" rx="2.08" ry="1.16" transform="rotate(37 132.2 820.2)" fill="#b59ab8" fill-opacity="0.35"/><ellipse cx="105.7" cy="817.6" rx="2.19" ry="1.22" transform="rotate(-49 105.7 817.6)" fill="#b59ab8" fill-opacity="0.35"/><ellipse cx="105.6" cy="817.7" rx="2.16" ry="1.20" transform="rotate(-14 105.6 817.7)" fill="#b59ab8" fill-opacity="0.35"/><ellipse cx="153.2" cy="848.1" rx="1.29" ry="0.72" transform="rotate(60 153.2 848.1)" fill="#b59ab8" fill-opacity="0.35"/><ellipse cx="99.6" cy="829.4" rx="1.79" ry="0.99" transform="rotate(80 99.6 829.4)" fill="#b59ab8" fill-opacity="0.35"/><ellipse cx="143.8" cy="853.4" rx="1.68" ry="0.93" transform="rotate(38 143.8 853.4)" fill="#b59ab8" fill-opacity="0.35"/><ellipse cx="120.7" cy="841.2" rx="2.29" ry="1.27" transform="rotate(39 120.7 841.2)" fill="#b59ab8" fill-opacity="0.35"/><ellipse cx="109.6" cy="843.3" rx="1.57" ry="0.87" transform="rotate(-26 109.6 843.3)" fill="#b59ab8" fill-opacity="0.35"/><ellipse cx="110.8" cy="838.7" rx="1.71" ry="0.95" transform="rotate(103 110.8 838.7)" fill="#b59ab8" fill-opacity="0.35"/><ellipse cx="108.0" cy="836.4" rx="1.67" ry="0.93" transform="rotate(104 108.0 836.4)" fill="#b59ab8" fill-opacity="0.35"/><ellipse cx="130.1" cy="823.4" rx="1.69" ry="0.94" transform="rotate(9 130.1 823.4)" fill="#b59ab8" fill-opacity="0.35"/><ellipse cx="111.1" cy="858.7" rx="2.10" ry="1.16" transform="rotate(44 111.1 858.7)" fill="#b59ab8" fill-opacity="0.35"/><ellipse cx="125.6" cy="856.4" rx="1.96" ry="1.09" transform="rotate(118 125.6 856.4)" fill="#b59ab8" fill-opacity="0.35"/><ellipse cx="146.4" cy="851.8" rx="1.70" ry="0.95" transform="rotate(34 146.4 851.8)" fill="#b59ab8" fill-opacity="0.35"/><ellipse cx="127.4" cy="835.5" rx="1.33" ry="0.74" transform="rotate(98 127.4 835.5)" fill="#b59ab8" fill-opacity="0.35"/><ellipse cx="124.5" cy="826.4" rx="1.99" ry="1.11" transform="rotate(62 124.5 826.4)" fill="#b59ab8" fill-opacity="0.35"/><ellipse cx="135.3" cy="838.4" rx="1.38" ry="0.77" transform="rotate(116 135.3 838.4)" fill="#b59ab8" fill-opacity="0.35"/><ellipse cx="93.4" cy="839.0" rx="2.23" ry="1.24" transform="rotate(129 93.4 839.0)" fill="#b59ab8" fill-opacity="0.35"/><ellipse cx="95.3" cy="840.1" rx="1.74" ry="0.97" transform="rotate(2 95.3 840.1)" fill="#b59ab8" fill-opacity="0.35"/><ellipse cx="114.8" cy="849.7" rx="2.16" ry="1.20" transform="rotate(-14 114.8 849.7)" fill="#b59ab8" fill-opacity="0.35"/><ellipse cx="128.0" cy="846.5" rx="1.45" ry="0.81" transform="rotate(29 128.0 846.5)" fill="#b59ab8" fill-opacity="0.35"/><ellipse cx="92.2" cy="836.8" rx="1.77" ry="0.98" transform="rotate(32 92.2 836.8)" fill="#b59ab8" fill-opacity="0.35"/><ellipse cx="115.9" cy="850.7" rx="2.21" ry="1.23" transform="rotate(77 115.9 850.7)" fill="#b59ab8" fill-opacity="0.35"/><ellipse cx="106.6" cy="840.1" rx="0.90" ry="0.72" transform="rotate(31 106.6 840.1)" fill="#5e4f86" fill-opacity="0.7"/><ellipse cx="92.9" cy="834.5" rx="1.14" ry="0.91" transform="rotate(-55 92.9 834.5)" fill="#5e4f86" fill-opacity="0.7"/><ellipse cx="126.9" cy="821.5" rx="1.13" ry="0.90" transform="rotate(42 126.9 821.5)" fill="#5e4f86" fill-opacity="0.7"/><ellipse cx="123.4" cy="856.6" rx="1.16" ry="0.93" transform="rotate(-49 123.4 856.6)" fill="#5e4f86" fill-opacity="0.7"/><ellipse cx="153.1" cy="839.2" rx="0.81" ry="0.65" transform="rotate(-16 153.1 839.2)" fill="#5e4f86" fill-opacity="0.7"/><ellipse cx="123.8" cy="846.8" rx="1.24" ry="0.99" transform="rotate(37 123.8 846.8)" fill="#5e4f86" fill-opacity="0.7"/><ellipse cx="117.6" cy="859.1" rx="1.14" ry="0.91" transform="rotate(19 117.6 859.1)" fill="#5e4f86" fill-opacity="0.7"/><ellipse cx="131.8" cy="844.2" rx="1.21" ry="0.97" transform="rotate(32 131.8 844.2)" fill="#5e4f86" fill-opacity="0.7"/><ellipse cx="140.0" cy="827.9" rx="1.14" ry="0.91" transform="rotate(-19 140.0 827.9)" fill="#5e4f86" fill-opacity="0.7"/><ellipse cx="118.7" cy="862.0" rx="1.08" ry="0.86" transform="rotate(67 118.7 862.0)" fill="#5e4f86" fill-opacity="0.7"/><ellipse cx="106.9" cy="863.0" rx="0.84" ry="0.67" transform="rotate(-26 106.9 863.0)" fill="#5e4f86" fill-opacity="0.7"/><ellipse cx="138.7" cy="853.7" rx="1.21" ry="0.97" transform="rotate(8 138.7 853.7)" fill="#5e4f86" fill-opacity="0.7"/><ellipse cx="123.8" cy="830.1" rx="0.87" ry="0.70" transform="rotate(-62 123.8 830.1)" fill="#5e4f86" fill-opacity="0.7"/><ellipse cx="116.9" cy="842.4" rx="0.99" ry="0.79" transform="rotate(-63 116.9 842.4)" fill="#5e4f86" fill-opacity="0.7"/><ellipse cx="125.6" cy="815.7" rx="0.86" ry="0.69" transform="rotate(89 125.6 815.7)" fill="#5e4f86" fill-opacity="0.7"/><ellipse cx="135.8" cy="826.9" rx="1.09" ry="0.87" transform="rotate(-65 135.8 826.9)" fill="#5e4f86" fill-opacity="0.7"/><ellipse cx="154.4" cy="828.1" rx="1.11" ry="0.88" transform="rotate(-52 154.4 828.1)" fill="#5e4f86" fill-opacity="0.7"/><ellipse cx="148.8" cy="833.0" rx="0.79" ry="0.63" transform="rotate(-60 148.8 833.0)" fill="#5e4f86" fill-opacity="0.7"/><ellipse cx="96.5" cy="838.0" rx="1.05" ry="0.84" transform="rotate(-17 96.5 838.0)" fill="#5e4f86" fill-opacity="0.7"/><ellipse cx="126.3" cy="827.8" rx="0.94" ry="0.76" transform="rotate(-41 126.3 827.8)" fill="#5e4f86" fill-opacity="0.7"/><ellipse cx="125.0" cy="856.2" rx="0.88" ry="0.70" transform="rotate(50 125.0 856.2)" fill="#5e4f86" fill-opacity="0.7"/><ellipse cx="154.3" cy="854.5" rx="1.13" ry="0.90" transform="rotate(33 154.3 854.5)" fill="#5e4f86" fill-opacity="0.7"/><ellipse cx="154.9" cy="815.9" rx="0.79" ry="0.63" transform="rotate(-87 154.9 815.9)" fill="#5e4f86" fill-opacity="0.7"/><ellipse cx="112.3" cy="861.2" rx="1.00" ry="0.80" transform="rotate(47 112.3 861.2)" fill="#5e4f86" fill-opacity="0.7"/><ellipse cx="135.0" cy="856.3" rx="0.86" ry="0.69" transform="rotate(6 135.0 856.3)" fill="#5e4f86" fill-opacity="0.7"/><ellipse cx="126.0" cy="823.8" rx="1.20" ry="0.96" transform="rotate(29 126.0 823.8)" fill="#5e4f86" fill-opacity="0.7"/><ellipse cx="112.2" cy="823.9" rx="1.14" ry="0.91" transform="rotate(10 112.2 823.9)" fill="#5e4f86" fill-opacity="0.7"/><ellipse cx="111.2" cy="856.7" rx="0.79" ry="0.63" transform="rotate(35 111.2 856.7)" fill="#5e4f86" fill-opacity="0.7"/><ellipse cx="136.9" cy="843.3" rx="1.09" ry="0.88" transform="rotate(-4 136.9 843.3)" fill="#5e4f86" fill-opacity="0.7"/><ellipse cx="121.3" cy="850.6" rx="0.82" ry="0.65" transform="rotate(53 121.3 850.6)" fill="#5e4f86" fill-opacity="0.7"/><ellipse cx="134.3" cy="832.5" rx="0.90" ry="0.72" transform="rotate(-88 134.3 832.5)" fill="#5e4f86" fill-opacity="0.7"/><ellipse cx="148.3" cy="832.7" rx="1.18" ry="0.94" transform="rotate(82 148.3 832.7)" fill="#5e4f86" fill-opacity="0.7"/><ellipse cx="119.3" cy="836.1" rx="0.77" ry="0.61" transform="rotate(-57 119.3 836.1)" fill="#5e4f86" fill-opacity="0.7"/><ellipse cx="139.4" cy="817.1" rx="1.18" ry="0.95" transform="rotate(88 139.4 817.1)" fill="#5e4f86" fill-opacity="0.7"/><ellipse cx="96.6" cy="820.6" rx="0.86" ry="0.69" transform="rotate(76 96.6 820.6)" fill="#5e4f86" fill-opacity="0.7"/><ellipse cx="116.1" cy="847.8" rx="1.12" ry="0.90" transform="rotate(-44 116.1 847.8)" fill="#5e4f86" fill-opacity="0.7"/><ellipse cx="96.7" cy="821.8" rx="0.79" ry="0.64" transform="rotate(-21 96.7 821.8)" fill="#5e4f86" fill-opacity="0.7"/><ellipse cx="137.7" cy="829.2" rx="0.88" ry="0.71" transform="rotate(-25 137.7 829.2)" fill="#5e4f86" fill-opacity="0.7"/><ellipse cx="133.8" cy="825.9" rx="0.75" ry="0.60" transform="rotate(-46 133.8 825.9)" fill="#5e4f86" fill-opacity="0.7"/><ellipse cx="147.8" cy="862.1" rx="0.94" ry="0.75" transform="rotate(38 147.8 862.1)" fill="#5e4f86" fill-opacity="0.7"/><ellipse cx="125.7" cy="842.2" rx="0.88" ry="0.70" transform="rotate(44 125.7 842.2)" fill="#5e4f86" fill-opacity="0.7"/><ellipse cx="149.8" cy="846.5" rx="1.18" ry="0.95" transform="rotate(-75 149.8 846.5)" fill="#5e4f86" fill-opacity="0.7"/><ellipse cx="127.3" cy="859.0" rx="1.02" ry="0.81" transform="rotate(23 127.3 859.0)" fill="#5e4f86" fill-opacity="0.7"/><ellipse cx="134.3" cy="836.3" rx="1.18" ry="0.94" transform="rotate(-24 134.3 836.3)" fill="#5e4f86" fill-opacity="0.7"/><ellipse cx="115.5" cy="859.7" rx="1.18" ry="0.95" transform="rotate(-59 115.5 859.7)" fill="#5e4f86" fill-opacity="0.7"/><ellipse cx="117.2" cy="823.6" rx="0.93" ry="0.74" transform="rotate(-12 117.2 823.6)" fill="#5e4f86" fill-opacity="0.7"/><ellipse cx="94.3" cy="830.4" rx="1.04" ry="0.83" transform="rotate(76 94.3 830.4)" fill="#5e4f86" fill-opacity="0.7"/><ellipse cx="151.8" cy="830.1" rx="0.77" ry="0.62" transform="rotate(71 151.8 830.1)" fill="#5e4f86" fill-opacity="0.7"/><ellipse cx="99.6" cy="848.7" rx="0.80" ry="0.64" transform="rotate(19 99.6 848.7)" fill="#5e4f86" fill-opacity="0.7"/><ellipse cx="146.9" cy="826.1" rx="1.21" ry="0.97" transform="rotate(-90 146.9 826.1)" fill="#5e4f86" fill-opacity="0.7"/><ellipse cx="91.4" cy="835.6" rx="1.19" ry="0.95" transform="rotate(-1 91.4 835.6)" fill="#5e4f86" fill-opacity="0.7"/><ellipse cx="133.6" cy="847.1" rx="1.21" ry="0.97" transform="rotate(21 133.6 847.1)" fill="#5e4f86" fill-opacity="0.7"/><ellipse cx="112.8" cy="834.3" rx="0.81" ry="0.65" transform="rotate(26 112.8 834.3)" fill="#5e4f86" fill-opacity="0.7"/><ellipse cx="148.1" cy="822.0" rx="0.85" ry="0.68" transform="rotate(-78 148.1 822.0)" fill="#5e4f86" fill-opacity="0.7"/><ellipse cx="129.5" cy="822.1" rx="1.05" ry="0.84" transform="rotate(32 129.5 822.1)" fill="#5e4f86" fill-opacity="0.7"/><ellipse cx="98.3" cy="840.0" rx="0.77" ry="0.62" transform="rotate(-71 98.3 840.0)" fill="#5e4f86" fill-opacity="0.7"/><ellipse cx="95.4" cy="820.6" rx="1.14" ry="0.92" transform="rotate(39 95.4 820.6)" fill="#5e4f86" fill-opacity="0.7"/><ellipse cx="94.2" cy="847.3" rx="0.93" ry="0.74" transform="rotate(-72 94.2 847.3)" fill="#5e4f86" fill-opacity="0.7"/><ellipse cx="108.2" cy="859.2" rx="0.94" ry="0.75" transform="rotate(-37 108.2 859.2)" fill="#5e4f86" fill-opacity="0.7"/><ellipse cx="115.4" cy="831.5" rx="1.23" ry="0.98" transform="rotate(-56 115.4 831.5)" fill="#5e4f86" fill-opacity="0.7"/><ellipse cx="104.2" cy="820.5" rx="1.11" ry="0.89" transform="rotate(17 104.2 820.5)" fill="#5e4f86" fill-opacity="0.7"/><ellipse cx="128.6" cy="828.2" rx="0.96" ry="0.77" transform="rotate(81 128.6 828.2)" fill="#5e4f86" fill-opacity="0.7"/><ellipse cx="91.5" cy="840.5" rx="0.97" ry="0.78" transform="rotate(-60 91.5 840.5)" fill="#5e4f86" fill-opacity="0.7"/><ellipse cx="124.5" cy="858.5" rx="1.00" ry="0.80" transform="rotate(-45 124.5 858.5)" fill="#5e4f86" fill-opacity="0.7"/><ellipse cx="115.6" cy="819.7" rx="1.22" ry="0.97" transform="rotate(-8 115.6 819.7)" fill="#5e4f86" fill-opacity="0.7"/><ellipse cx="115.7" cy="824.0" rx="1.20" ry="0.96" transform="rotate(9 115.7 824.0)" fill="#5e4f86" fill-opacity="0.7"/><ellipse cx="95.1" cy="853.6" rx="1.19" ry="0.96" transform="rotate(-64 95.1 853.6)" fill="#5e4f86" fill-opacity="0.7"/><ellipse cx="114.0" cy="861.6" rx="0.85" ry="0.68" transform="rotate(-48 114.0 861.6)" fill="#5e4f86" fill-opacity="0.7"/><ellipse cx="106.6" cy="858.5" rx="0.90" ry="0.72" transform="rotate(83 106.6 858.5)" fill="#5e4f86" fill-opacity="0.7"/><ellipse cx="100.3" cy="863.0" rx="0.81" ry="0.65" transform="rotate(-48 100.3 863.0)" fill="#5e4f86" fill-opacity="0.7"/><ellipse cx="101.4" cy="818.4" rx="0.76" ry="0.61" transform="rotate(49 101.4 818.4)" fill="#5e4f86" fill-opacity="0.7"/><ellipse cx="129.5" cy="850.9" rx="1.22" ry="0.98" transform="rotate(-70 129.5 850.9)" fill="#5e4f86" fill-opacity="0.7"/><ellipse cx="125.2" cy="837.7" rx="0.83" ry="0.67" transform="rotate(-87 125.2 837.7)" fill="#5e4f86" fill-opacity="0.7"/><ellipse cx="93.2" cy="835.9" rx="0.83" ry="0.66" transform="rotate(54 93.2 835.9)" fill="#5e4f86" fill-opacity="0.7"/><ellipse cx="131.2" cy="846.3" rx="0.93" ry="0.74" transform="rotate(67 131.2 846.3)" fill="#5e4f86" fill-opacity="0.7"/><ellipse cx="120.1" cy="824.4" rx="0.96" ry="0.77" transform="rotate(-49 120.1 824.4)" fill="#5e4f86" fill-opacity="0.7"/><ellipse cx="109.0" cy="844.7" rx="0.86" ry="0.69" transform="rotate(22 109.0 844.7)" fill="#5e4f86" fill-opacity="0.7"/><ellipse cx="140.5" cy="824.1" rx="1.20" ry="0.96" transform="rotate(74 140.5 824.1)" fill="#5e4f86" fill-opacity="0.7"/><ellipse cx="99.0" cy="818.5" rx="1.06" ry="0.85" transform="rotate(-47 99.0 818.5)" fill="#5e4f86" fill-opacity="0.7"/><ellipse cx="148.2" cy="838.7" rx="1.19" ry="0.95" transform="rotate(-43 148.2 838.7)" fill="#5e4f86" fill-opacity="0.7"/><ellipse cx="105.4" cy="817.9" rx="1.04" ry="0.83" transform="rotate(79 105.4 817.9)" fill="#5e4f86" fill-opacity="0.7"/><ellipse cx="155.0" cy="816.6" rx="0.83" ry="0.67" transform="rotate(17 155.0 816.6)" fill="#5e4f86" fill-opacity="0.7"/><ellipse cx="106.2" cy="862.4" rx="1.23" ry="0.98" transform="rotate(59 106.2 862.4)" fill="#5e4f86" fill-opacity="0.7"/><ellipse cx="139.2" cy="820.9" rx="1.15" ry="0.92" transform="rotate(-17 139.2 820.9)" fill="#5e4f86" fill-opacity="0.7"/><ellipse cx="139.9" cy="844.6" rx="0.89" ry="0.71" transform="rotate(76 139.9 844.6)" fill="#5e4f86" fill-opacity="0.7"/><ellipse cx="111.1" cy="850.9" rx="1.18" ry="0.94" transform="rotate(-50 111.1 850.9)" fill="#5e4f86" fill-opacity="0.7"/><ellipse cx="134.4" cy="839.9" rx="1.05" ry="0.84" transform="rotate(-10 134.4 839.9)" fill="#5e4f86" fill-opacity="0.7"/><ellipse cx="151.0" cy="860.9" rx="1.24" ry="0.99" transform="rotate(67 151.0 860.9)" fill="#5e4f86" fill-opacity="0.7"/><ellipse cx="102.0" cy="836.6" rx="1.25" ry="1.00" transform="rotate(-70 102.0 836.6)" fill="#5e4f86" fill-opacity="0.7"/><ellipse cx="93.6" cy="849.4" rx="1.16" ry="0.93" transform="rotate(41 93.6 849.4)" fill="#5e4f86" fill-opacity="0.7"/><ellipse cx="119.3" cy="858.5" rx="1.19" ry="0.95" transform="rotate(30 119.3 858.5)" fill="#5e4f86" fill-opacity="0.7"/><ellipse cx="103.4" cy="841.4" rx="0.77" ry="0.62" transform="rotate(-80 103.4 841.4)" fill="#5e4f86" fill-opacity="0.7"/><ellipse cx="107.8" cy="846.4" rx="1.20" ry="0.96" transform="rotate(-59 107.8 846.4)" fill="#5e4f86" fill-opacity="0.7"/><ellipse cx="153.0" cy="817.4" rx="1.22" ry="0.98" transform="rotate(26 153.0 817.4)" fill="#5e4f86" fill-opacity="0.7"/><ellipse cx="117.5" cy="829.3" rx="1.07" ry="0.86" transform="rotate(-40 117.5 829.3)" fill="#5e4f86" fill-opacity="0.7"/><ellipse cx="115.6" cy="853.2" rx="0.90" ry="0.72" transform="rotate(32 115.6 853.2)" fill="#5e4f86" fill-opacity="0.7"/><ellipse cx="106.2" cy="860.0" rx="0.89" ry="0.71" transform="rotate(27 106.2 860.0)" fill="#5e4f86" fill-opacity="0.7"/><ellipse cx="149.6" cy="835.2" rx="1.11" ry="0.89" transform="rotate(20 149.6 835.2)" fill="#5e4f86" fill-opacity="0.7"/><ellipse cx="132.2" cy="835.8" rx="1.13" ry="0.90" transform="rotate(64 132.2 835.8)" fill="#5e4f86" fill-opacity="0.7"/><ellipse cx="154.9" cy="837.5" rx="0.85" ry="0.68" transform="rotate(-19 154.9 837.5)" fill="#5e4f86" fill-opacity="0.7"/><ellipse cx="104.5" cy="832.1" rx="0.95" ry="0.76" transform="rotate(64 104.5 832.1)" fill="#5e4f86" fill-opacity="0.7"/><ellipse cx="99.3" cy="825.4" rx="0.95" ry="0.76" transform="rotate(2 99.3 825.4)" fill="#5e4f86" fill-opacity="0.7"/><ellipse cx="115.0" cy="858.3" rx="1.23" ry="0.98" transform="rotate(-10 115.0 858.3)" fill="#5e4f86" fill-opacity="0.7"/><ellipse cx="152.8" cy="846.4" rx="1.14" ry="0.91" transform="rotate(72 152.8 846.4)" fill="#5e4f86" fill-opacity="0.7"/><ellipse cx="100.6" cy="840.0" rx="1.07" ry="0.85" transform="rotate(29 100.6 840.0)" fill="#5e4f86" fill-opacity="0.7"/><ellipse cx="139.1" cy="840.9" rx="0.79" ry="0.63" transform="rotate(-16 139.1 840.9)" fill="#5e4f86" fill-opacity="0.7"/><ellipse cx="146.3" cy="858.1" rx="1.04" ry="0.83" transform="rotate(35 146.3 858.1)" fill="#5e4f86" fill-opacity="0.7"/><ellipse cx="137.2" cy="836.1" rx="0.84" ry="0.67" transform="rotate(43 137.2 836.1)" fill="#5e4f86" fill-opacity="0.7"/><ellipse cx="140.3" cy="832.0" rx="0.80" ry="0.64" transform="rotate(13 140.3 832.0)" fill="#5e4f86" fill-opacity="0.7"/><ellipse cx="128.5" cy="859.2" rx="0.78" ry="0.62" transform="rotate(75 128.5 859.2)" fill="#5e4f86" fill-opacity="0.7"/><ellipse cx="130.2" cy="840.6" rx="0.83" ry="0.67" transform="rotate(62 130.2 840.6)" fill="#5e4f86" fill-opacity="0.7"/><ellipse cx="105.0" cy="855.9" rx="1.13" ry="0.90" transform="rotate(-80 105.0 855.9)" fill="#5e4f86" fill-opacity="0.7"/><ellipse cx="149.5" cy="822.1" rx="0.95" ry="0.76" transform="rotate(3 149.5 822.1)" fill="#5e4f86" fill-opacity="0.7"/><ellipse cx="153.6" cy="859.1" rx="0.85" ry="0.68" transform="rotate(83 153.6 859.1)" fill="#5e4f86" fill-opacity="0.7"/><ellipse cx="99.8" cy="835.2" rx="1.02" ry="0.82" transform="rotate(-13 99.8 835.2)" fill="#5e4f86" fill-opacity="0.7"/><ellipse cx="128.1" cy="854.8" rx="1.20" ry="0.96" transform="rotate(-64 128.1 854.8)" fill="#5e4f86" fill-opacity="0.7"/><ellipse cx="129.3" cy="825.9" rx="0.84" ry="0.67" transform="rotate(63 129.3 825.9)" fill="#5e4f86" fill-opacity="0.7"/><ellipse cx="118.1" cy="824.0" rx="0.98" ry="0.78" transform="rotate(30 118.1 824.0)" fill="#5e4f86" fill-opacity="0.7"/><ellipse cx="135.0" cy="842.3" rx="1.21" ry="0.97" transform="rotate(38 135.0 842.3)" fill="#5e4f86" fill-opacity="0.7"/><ellipse cx="132.3" cy="825.1" rx="0.94" ry="0.75" transform="rotate(-4 132.3 825.1)" fill="#5e4f86" fill-opacity="0.7"/><ellipse cx="144.6" cy="823.3" rx="0.98" ry="0.79" transform="rotate(45 144.6 823.3)" fill="#5e4f86" fill-opacity="0.7"/><ellipse cx="97.7" cy="825.0" rx="1.10" ry="0.88" transform="rotate(49 97.7 825.0)" fill="#5e4f86" fill-opacity="0.7"/><ellipse cx="125.3" cy="855.8" rx="0.93" ry="0.75" transform="rotate(-48 125.3 855.8)" fill="#5e4f86" fill-opacity="0.7"/><ellipse cx="140.0" cy="828.6" rx="0.76" ry="0.61" transform="rotate(-82 140.0 828.6)" fill="#5e4f86" fill-opacity="0.7"/><ellipse cx="102.2" cy="818.1" rx="1.18" ry="0.94" transform="rotate(36 102.2 818.1)" fill="#5e4f86" fill-opacity="0.7"/><ellipse cx="95.2" cy="819.9" rx="1.10" ry="0.88" transform="rotate(79 95.2 819.9)" fill="#5e4f86" fill-opacity="0.7"/><ellipse cx="143.6" cy="823.5" rx="1.07" ry="0.85" transform="rotate(-19 143.6 823.5)" fill="#5e4f86" fill-opacity="0.7"/><ellipse cx="117.8" cy="858.2" rx="0.77" ry="0.61" transform="rotate(-3 117.8 858.2)" fill="#5e4f86" fill-opacity="0.7"/><ellipse cx="103.3" cy="825.8" rx="0.86" ry="0.69" transform="rotate(27 103.3 825.8)" fill="#5e4f86" fill-opacity="0.7"/><ellipse cx="138.0" cy="845.5" rx="1.15" ry="0.92" transform="rotate(-75 138.0 845.5)" fill="#5e4f86" fill-opacity="0.7"/><ellipse cx="102.8" cy="862.4" rx="0.89" ry="0.71" transform="rotate(14 102.8 862.4)" fill="#5e4f86" fill-opacity="0.7"/><ellipse cx="114.6" cy="858.8" rx="1.05" ry="0.84" transform="rotate(-16 114.6 858.8)" fill="#5e4f86" fill-opacity="0.7"/><ellipse cx="95.9" cy="830.8" rx="0.81" ry="0.65" transform="rotate(11 95.9 830.8)" fill="#5e4f86" fill-opacity="0.7"/><ellipse cx="134.9" cy="826.7" rx="0.90" ry="0.72" transform="rotate(22 134.9 826.7)" fill="#5e4f86" fill-opacity="0.7"/><ellipse cx="94.7" cy="846.2" rx="1.22" ry="0.97" transform="rotate(41 94.7 846.2)" fill="#5e4f86" fill-opacity="0.7"/><ellipse cx="146.1" cy="825.9" rx="1.00" ry="0.80" transform="rotate(-21 146.1 825.9)" fill="#5e4f86" fill-opacity="0.7"/><ellipse cx="110.6" cy="825.0" rx="0.99" ry="0.80" transform="rotate(48 110.6 825.0)" fill="#5e4f86" fill-opacity="0.7"/><ellipse cx="122.9" cy="846.3" rx="1.20" ry="0.96" transform="rotate(-3 122.9 846.3)" fill="#5e4f86" fill-opacity="0.7"/><ellipse cx="136.3" cy="846.7" rx="0.85" ry="0.68" transform="rotate(24 136.3 846.7)" fill="#5e4f86" fill-opacity="0.7"/><ellipse cx="103.8" cy="829.6" rx="1.24" ry="0.99" transform="rotate(-86 103.8 829.6)" fill="#5e4f86" fill-opacity="0.7"/><ellipse cx="94.6" cy="858.3" rx="1.08" ry="0.86" transform="rotate(18 94.6 858.3)" fill="#5e4f86" fill-opacity="0.7"/><ellipse cx="97.4" cy="860.8" rx="1.13" ry="0.91" transform="rotate(7 97.4 860.8)" fill="#5e4f86" fill-opacity="0.7"/><ellipse cx="112.0" cy="832.6" rx="1.20" ry="0.96" transform="rotate(65 112.0 832.6)" fill="#5e4f86" fill-opacity="0.7"/><ellipse cx="137.7" cy="819.4" rx="0.84" ry="0.67" transform="rotate(46 137.7 819.4)" fill="#5e4f86" fill-opacity="0.7"/><ellipse cx="119.5" cy="846.8" rx="1.08" ry="0.86" transform="rotate(-56 119.5 846.8)" fill="#5e4f86" fill-opacity="0.7"/><ellipse cx="104.0" cy="847.5" rx="0.82" ry="0.65" transform="rotate(4 104.0 847.5)" fill="#5e4f86" fill-opacity="0.7"/><ellipse cx="98.8" cy="819.9" rx="0.85" ry="0.68" transform="rotate(-41 98.8 819.9)" fill="#5e4f86" fill-opacity="0.7"/><ellipse cx="130.4" cy="857.8" rx="0.78" ry="0.63" transform="rotate(-74 130.4 857.8)" fill="#5e4f86" fill-opacity="0.7"/><ellipse cx="102.3" cy="835.6" rx="1.12" ry="0.89" transform="rotate(59 102.3 835.6)" fill="#5e4f86" fill-opacity="0.7"/><ellipse cx="148.3" cy="832.4" rx="0.96" ry="0.77" transform="rotate(-19 148.3 832.4)" fill="#5e4f86" fill-opacity="0.7"/><ellipse cx="114.9" cy="849.5" rx="0.99" ry="0.79" transform="rotate(19 114.9 849.5)" fill="#5e4f86" fill-opacity="0.7"/><ellipse cx="96.4" cy="859.0" rx="1.22" ry="0.97" transform="rotate(-34 96.4 859.0)" fill="#5e4f86" fill-opacity="0.7"/><ellipse cx="110.6" cy="831.1" rx="1.14" ry="0.91" transform="rotate(1 110.6 831.1)" fill="#5e4f86" fill-opacity="0.7"/><ellipse cx="151.0" cy="823.3" rx="1.09" ry="0.87" transform="rotate(-42 151.0 823.3)" fill="#5e4f86" fill-opacity="0.7"/><ellipse cx="113.1" cy="831.5" rx="0.76" ry="0.61" transform="rotate(66 113.1 831.5)" fill="#5e4f86" fill-opacity="0.7"/><ellipse cx="95.2" cy="863.7" rx="0.86" ry="0.69" transform="rotate(-51 95.2 863.7)" fill="#5e4f86" fill-opacity="0.7"/><ellipse cx="105.7" cy="829.3" rx="1.08" ry="0.86" transform="rotate(36 105.7 829.3)" fill="#5e4f86" fill-opacity="0.7"/><ellipse cx="119.0" cy="847.5" rx="1.23" ry="0.98" transform="rotate(-81 119.0 847.5)" fill="#5e4f86" fill-opacity="0.7"/><ellipse cx="132.1" cy="836.8" rx="0.95" ry="0.76" transform="rotate(-86 132.1 836.8)" fill="#5e4f86" fill-opacity="0.7"/><ellipse cx="93.3" cy="835.3" rx="1.07" ry="0.86" transform="rotate(68 93.3 835.3)" fill="#5e4f86" fill-opacity="0.7"/><ellipse cx="91.9" cy="859.1" rx="0.89" ry="0.71" transform="rotate(74 91.9 859.1)" fill="#5e4f86" fill-opacity="0.7"/><ellipse cx="111.4" cy="829.0" rx="1.08" ry="0.86" transform="rotate(71 111.4 829.0)" fill="#5e4f86" fill-opacity="0.7"/><ellipse cx="135.1" cy="854.9" rx="0.87" ry="0.70" transform="rotate(8 135.1 854.9)" fill="#5e4f86" fill-opacity="0.7"/><ellipse cx="102.2" cy="845.8" rx="1.00" ry="0.80" transform="rotate(57 102.2 845.8)" fill="#5e4f86" fill-opacity="0.7"/><ellipse cx="99.7" cy="856.4" rx="0.91" ry="0.73" transform="rotate(-36 99.7 856.4)" fill="#5e4f86" fill-opacity="0.7"/><ellipse cx="94.7" cy="851.8" rx="1.13" ry="0.90" transform="rotate(73 94.7 851.8)" fill="#5e4f86" fill-opacity="0.7"/><ellipse cx="96.3" cy="830.8" rx="1.02" ry="0.82" transform="rotate(-87 96.3 830.8)" fill="#5e4f86" fill-opacity="0.7"/><ellipse cx="148.7" cy="817.5" rx="0.89" ry="0.71" transform="rotate(-26 148.7 817.5)" fill="#5e4f86" fill-opacity="0.7"/><ellipse cx="153.8" cy="861.8" rx="0.75" ry="0.60" transform="rotate(76 153.8 861.8)" fill="#5e4f86" fill-opacity="0.7"/><ellipse cx="95.0" cy="845.6" rx="0.96" ry="0.77" transform="rotate(66 95.0 845.6)" fill="#5e4f86" fill-opacity="0.7"/><ellipse cx="141.2" cy="848.2" rx="0.80" ry="0.64" transform="rotate(47 141.2 848.2)" fill="#5e4f86" fill-opacity="0.7"/><ellipse cx="135.0" cy="850.2" rx="1.24" ry="0.99" transform="rotate(29 135.0 850.2)" fill="#5e4f86" fill-opacity="0.7"/><ellipse cx="128.2" cy="826.1" rx="1.13" ry="0.90" transform="rotate(42 128.2 826.1)" fill="#5e4f86" fill-opacity="0.7"/><ellipse cx="102.6" cy="850.6" rx="1.04" ry="0.83" transform="rotate(-16 102.6 850.6)" fill="#5e4f86" fill-opacity="0.7"/><ellipse cx="92.5" cy="822.7" rx="0.79" ry="0.63" transform="rotate(50 92.5 822.7)" fill="#5e4f86" fill-opacity="0.7"/><ellipse cx="92.5" cy="823.5" rx="0.98" ry="0.78" transform="rotate(-19 92.5 823.5)" fill="#5e4f86" fill-opacity="0.7"/><ellipse cx="145.2" cy="838.7" rx="1.13" ry="0.91" transform="rotate(-3 145.2 838.7)" fill="#5e4f86" fill-opacity="0.7"/><ellipse cx="95.6" cy="819.7" rx="1.08" ry="0.86" transform="rotate(51 95.6 819.7)" fill="#5e4f86" fill-opacity="0.7"/><ellipse cx="136.6" cy="835.8" rx="1.09" ry="0.87" transform="rotate(75 136.6 835.8)" fill="#5e4f86" fill-opacity="0.7"/><ellipse cx="118.5" cy="834.3" rx="0.86" ry="0.69" transform="rotate(-44 118.5 834.3)" fill="#5e4f86" fill-opacity="0.7"/><ellipse cx="100.1" cy="823.6" rx="0.78" ry="0.62" transform="rotate(-15 100.1 823.6)" fill="#5e4f86" fill-opacity="0.7"/><ellipse cx="110.0" cy="824.3" rx="0.84" ry="0.68" transform="rotate(86 110.0 824.3)" fill="#5e4f86" fill-opacity="0.7"/><ellipse cx="115.9" cy="854.4" rx="0.89" ry="0.71" transform="rotate(6 115.9 854.4)" fill="#5e4f86" fill-opacity="0.7"/><ellipse cx="105.9" cy="856.9" rx="0.91" ry="0.72" transform="rotate(-46 105.9 856.9)" fill="#5e4f86" fill-opacity="0.7"/><ellipse cx="131.5" cy="862.5" rx="0.95" ry="0.76" transform="rotate(25 131.5 862.5)" fill="#5e4f86" fill-opacity="0.7"/><ellipse cx="97.4" cy="817.3" rx="0.86" ry="0.69" transform="rotate(39 97.4 817.3)" fill="#5e4f86" fill-opacity="0.7"/><ellipse cx="99.0" cy="856.3" rx="0.98" ry="0.79" transform="rotate(-3 99.0 856.3)" fill="#5e4f86" fill-opacity="0.7"/><ellipse cx="102.1" cy="834.7" rx="1.16" ry="0.93" transform="rotate(53 102.1 834.7)" fill="#5e4f86" fill-opacity="0.7"/><ellipse cx="125.1" cy="849.2" rx="0.94" ry="0.75" transform="rotate(89 125.1 849.2)" fill="#5e4f86" fill-opacity="0.7"/><ellipse cx="95.6" cy="854.4" rx="0.80" ry="0.64" transform="rotate(-25 95.6 854.4)" fill="#5e4f86" fill-opacity="0.7"/></g>
</g>
<rect x="91.00" y="815.40" width="65.00" height="48.60" fill="none" stroke="#9a9a9a" stroke-width="0.4"/>
<clipPath id="clipT3"><rect x="15.60" y="867.30" width="64.40" height="47.80"/></clipPath>
<g clip-path="url(#clipT3)">
<rect x="15.60" y="867.30" width="64.40" height="47.80" fill="#c9cbe0"/>
<rect x="15.60" y="867.30" width="64.40" height="47.80" fill="#fff" filter="url(#nzL)"/>
<rect x="15.60" y="867.30" width="64.40" height="47.80" fill="#fff" filter="url(#nzD)"/>
<g filter="url(#b2)"><ellipse cx="45.0" cy="908.4" rx="2.14" ry="1.28" transform="rotate(67 45.0 908.4)" fill="#a9abcf" fill-opacity="0.35"/><ellipse cx="52.7" cy="887.4" rx="1.93" ry="1.16" transform="rotate(-58 52.7 887.4)" fill="#a9abcf" fill-opacity="0.35"/><ellipse cx="65.1" cy="904.6" rx="1.45" ry="0.87" transform="rotate(102 65.1 904.6)" fill="#a9abcf" fill-opacity="0.35"/><ellipse cx="41.0" cy="870.8" rx="1.48" ry="0.89" transform="rotate(-27 41.0 870.8)" fill="#a9abcf" fill-opacity="0.35"/><ellipse cx="49.3" cy="899.1" rx="1.48" ry="0.89" transform="rotate(-48 49.3 899.1)" fill="#a9abcf" fill-opacity="0.35"/><ellipse cx="16.0" cy="870.5" rx="1.52" ry="0.91" transform="rotate(61 16.0 870.5)" fill="#a9abcf" fill-opacity="0.35"/><ellipse cx="78.5" cy="906.8" rx="1.83" ry="1.10" transform="rotate(-59 78.5 906.8)" fill="#a9abcf" fill-opacity="0.35"/><ellipse cx="58.2" cy="906.0" rx="1.87" ry="1.12" transform="rotate(61 58.2 906.0)" fill="#a9abcf" fill-opacity="0.35"/><ellipse cx="69.3" cy="913.3" rx="2.04" ry="1.22" transform="rotate(76 69.3 913.3)" fill="#a9abcf" fill-opacity="0.35"/><ellipse cx="59.3" cy="884.3" rx="2.42" ry="1.45" transform="rotate(40 59.3 884.3)" fill="#a9abcf" fill-opacity="0.35"/><ellipse cx="70.7" cy="900.6" rx="1.57" ry="0.94" transform="rotate(-20 70.7 900.6)" fill="#a9abcf" fill-opacity="0.35"/><ellipse cx="72.8" cy="888.0" rx="1.41" ry="0.85" transform="rotate(43 72.8 888.0)" fill="#a9abcf" fill-opacity="0.35"/><ellipse cx="39.1" cy="903.1" rx="1.49" ry="0.90" transform="rotate(78 39.1 903.1)" fill="#a9abcf" fill-opacity="0.35"/><ellipse cx="15.7" cy="892.9" rx="1.41" ry="0.85" transform="rotate(54 15.7 892.9)" fill="#a9abcf" fill-opacity="0.35"/><ellipse cx="42.5" cy="873.8" rx="1.82" ry="1.09" transform="rotate(-11 42.5 873.8)" fill="#a9abcf" fill-opacity="0.35"/><ellipse cx="21.8" cy="897.8" rx="1.63" ry="0.98" transform="rotate(85 21.8 897.8)" fill="#a9abcf" fill-opacity="0.35"/><ellipse cx="19.4" cy="904.8" rx="1.74" ry="1.04" transform="rotate(-25 19.4 904.8)" fill="#a9abcf" fill-opacity="0.35"/><ellipse cx="17.9" cy="905.9" rx="1.78" ry="1.07" transform="rotate(10 17.9 905.9)" fill="#a9abcf" fill-opacity="0.35"/><ellipse cx="73.4" cy="912.6" rx="1.79" ry="1.07" transform="rotate(19 73.4 912.6)" fill="#a9abcf" fill-opacity="0.35"/><ellipse cx="75.3" cy="912.6" rx="2.09" ry="1.26" transform="rotate(-4 75.3 912.6)" fill="#a9abcf" fill-opacity="0.35"/><ellipse cx="66.6" cy="895.5" rx="1.40" ry="0.84" transform="rotate(105 66.6 895.5)" fill="#a9abcf" fill-opacity="0.35"/><ellipse cx="67.8" cy="883.7" rx="1.92" ry="1.15" transform="rotate(115 67.8 883.7)" fill="#a9abcf" fill-opacity="0.35"/><ellipse cx="55.8" cy="903.5" rx="2.44" ry="1.46" transform="rotate(57 55.8 903.5)" fill="#a9abcf" fill-opacity="0.35"/><ellipse cx="52.9" cy="910.4" rx="2.21" ry="1.33" transform="rotate(66 52.9 910.4)" fill="#a9abcf" fill-opacity="0.35"/><ellipse cx="41.6" cy="889.4" rx="2.51" ry="1.51" transform="rotate(-56 41.6 889.4)" fill="#a9abcf" fill-opacity="0.35"/><ellipse cx="66.4" cy="899.1" rx="2.36" ry="1.42" transform="rotate(60 66.4 899.1)" fill="#a9abcf" fill-opacity="0.35"/><ellipse cx="27.7" cy="895.1" rx="2.57" ry="1.54" transform="rotate(106 27.7 895.1)" fill="#a9abcf" fill-opacity="0.35"/><ellipse cx="42.7" cy="901.9" rx="1.95" ry="1.17" transform="rotate(-42 42.7 901.9)" fill="#a9abcf" fill-opacity="0.35"/><ellipse cx="44.4" cy="875.6" rx="2.56" ry="1.54" transform="rotate(101 44.4 875.6)" fill="#a9abcf" fill-opacity="0.35"/><ellipse cx="24.8" cy="901.3" rx="1.68" ry="1.01" transform="rotate(-39 24.8 901.3)" fill="#a9abcf" fill-opacity="0.35"/><ellipse cx="19.1" cy="867.8" rx="1.88" ry="1.13" transform="rotate(4 19.1 867.8)" fill="#a9abcf" fill-opacity="0.35"/><ellipse cx="52.5" cy="904.8" rx="1.89" ry="1.13" transform="rotate(-53 52.5 904.8)" fill="#a9abcf" fill-opacity="0.35"/><ellipse cx="70.7" cy="873.6" rx="2.30" ry="1.38" transform="rotate(109 70.7 873.6)" fill="#a9abcf" fill-opacity="0.35"/><ellipse cx="19.3" cy="868.1" rx="2.35" ry="1.41" transform="rotate(54 19.3 868.1)" fill="#a9abcf" fill-opacity="0.35"/><ellipse cx="35.4" cy="871.5" rx="1.52" ry="0.91" transform="rotate(62 35.4 871.5)" fill="#a9abcf" fill-opacity="0.35"/><ellipse cx="72.3" cy="882.1" rx="2.57" ry="1.54" transform="rotate(32 72.3 882.1)" fill="#a9abcf" fill-opacity="0.35"/><ellipse cx="29.7" cy="882.3" rx="1.65" ry="0.99" transform="rotate(33 29.7 882.3)" fill="#a9abcf" fill-opacity="0.35"/><ellipse cx="24.6" cy="910.2" rx="2.37" ry="1.42" transform="rotate(92 24.6 910.2)" fill="#a9abcf" fill-opacity="0.35"/><ellipse cx="32.8" cy="910.5" rx="1.44" ry="0.86" transform="rotate(-54 32.8 910.5)" fill="#a9abcf" fill-opacity="0.35"/><ellipse cx="48.6" cy="893.5" rx="2.37" ry="1.42" transform="rotate(68 48.6 893.5)" fill="#a9abcf" fill-opacity="0.35"/><ellipse cx="78.9" cy="869.1" rx="1.85" ry="1.11" transform="rotate(65 78.9 869.1)" fill="#a9abcf" fill-opacity="0.35"/><ellipse cx="36.5" cy="893.9" rx="2.05" ry="1.23" transform="rotate(89 36.5 893.9)" fill="#a9abcf" fill-opacity="0.35"/><ellipse cx="77.5" cy="897.4" rx="2.01" ry="1.21" transform="rotate(104 77.5 897.4)" fill="#a9abcf" fill-opacity="0.35"/><ellipse cx="16.7" cy="884.8" rx="2.27" ry="1.36" transform="rotate(11 16.7 884.8)" fill="#a9abcf" fill-opacity="0.35"/><ellipse cx="71.5" cy="889.5" rx="2.14" ry="1.28" transform="rotate(22 71.5 889.5)" fill="#a9abcf" fill-opacity="0.35"/><ellipse cx="63.2" cy="901.0" rx="1.58" ry="0.95" transform="rotate(-34 63.2 901.0)" fill="#a9abcf" fill-opacity="0.35"/><ellipse cx="59.8" cy="879.6" rx="2.59" ry="1.56" transform="rotate(12 59.8 879.6)" fill="#a9abcf" fill-opacity="0.35"/><ellipse cx="19.1" cy="873.4" rx="1.58" ry="0.95" transform="rotate(-15 19.1 873.4)" fill="#a9abcf" fill-opacity="0.35"/><ellipse cx="66.6" cy="910.1" rx="2.20" ry="1.32" transform="rotate(85 66.6 910.1)" fill="#a9abcf" fill-opacity="0.35"/><ellipse cx="21.7" cy="867.4" rx="2.21" ry="1.32" transform="rotate(44 21.7 867.4)" fill="#a9abcf" fill-opacity="0.35"/><ellipse cx="55.1" cy="905.0" rx="0.97" ry="0.77" transform="rotate(-1 55.1 905.0)" fill="#55568f" fill-opacity="0.75"/><ellipse cx="74.4" cy="873.7" rx="0.80" ry="0.63" transform="rotate(-80 74.4 873.7)" fill="#55568f" fill-opacity="0.75"/><ellipse cx="55.8" cy="908.7" rx="0.82" ry="0.65" transform="rotate(-66 55.8 908.7)" fill="#55568f" fill-opacity="0.75"/><ellipse cx="24.8" cy="905.5" rx="1.03" ry="0.81" transform="rotate(-30 24.8 905.5)" fill="#55568f" fill-opacity="0.75"/><ellipse cx="36.0" cy="882.1" rx="0.85" ry="0.67" transform="rotate(-25 36.0 882.1)" fill="#55568f" fill-opacity="0.75"/><ellipse cx="24.0" cy="883.8" rx="0.99" ry="0.78" transform="rotate(33 24.0 883.8)" fill="#55568f" fill-opacity="0.75"/><ellipse cx="77.9" cy="901.1" rx="0.88" ry="0.69" transform="rotate(34 77.9 901.1)" fill="#55568f" fill-opacity="0.75"/><ellipse cx="56.3" cy="882.7" rx="1.07" ry="0.84" transform="rotate(-20 56.3 882.7)" fill="#55568f" fill-opacity="0.75"/><ellipse cx="78.4" cy="879.4" rx="0.97" ry="0.76" transform="rotate(-18 78.4 879.4)" fill="#55568f" fill-opacity="0.75"/><ellipse cx="44.2" cy="898.4" rx="1.15" ry="0.91" transform="rotate(10 44.2 898.4)" fill="#55568f" fill-opacity="0.75"/><ellipse cx="76.8" cy="871.1" rx="1.13" ry="0.89" transform="rotate(8 76.8 871.1)" fill="#55568f" fill-opacity="0.75"/><ellipse cx="77.9" cy="872.5" rx="1.17" ry="0.92" transform="rotate(-44 77.9 872.5)" fill="#55568f" fill-opacity="0.75"/><ellipse cx="20.3" cy="874.1" rx="1.10" ry="0.87" transform="rotate(87 20.3 874.1)" fill="#55568f" fill-opacity="0.75"/><ellipse cx="28.7" cy="893.3" rx="1.02" ry="0.80" transform="rotate(-87 28.7 893.3)" fill="#55568f" fill-opacity="0.75"/><ellipse cx="62.0" cy="909.3" rx="0.80" ry="0.63" transform="rotate(-59 62.0 909.3)" fill="#55568f" fill-opacity="0.75"/><ellipse cx="69.0" cy="897.6" rx="0.85" ry="0.67" transform="rotate(-48 69.0 897.6)" fill="#55568f" fill-opacity="0.75"/><ellipse cx="58.9" cy="899.1" rx="0.77" ry="0.61" transform="rotate(80 58.9 899.1)" fill="#55568f" fill-opacity="0.75"/><ellipse cx="20.6" cy="887.5" rx="0.87" ry="0.69" transform="rotate(67 20.6 887.5)" fill="#55568f" fill-opacity="0.75"/><ellipse cx="26.5" cy="878.3" rx="0.81" ry="0.64" transform="rotate(46 26.5 878.3)" fill="#55568f" fill-opacity="0.75"/><ellipse cx="59.9" cy="879.5" rx="0.86" ry="0.68" transform="rotate(-21 59.9 879.5)" fill="#55568f" fill-opacity="0.75"/><ellipse cx="30.4" cy="896.4" rx="0.76" ry="0.60" transform="rotate(-66 30.4 896.4)" fill="#55568f" fill-opacity="0.75"/><ellipse cx="22.7" cy="890.3" rx="1.10" ry="0.87" transform="rotate(-4 22.7 890.3)" fill="#55568f" fill-opacity="0.75"/><ellipse cx="23.3" cy="901.2" rx="0.84" ry="0.66" transform="rotate(81 23.3 901.2)" fill="#55568f" fill-opacity="0.75"/><ellipse cx="44.6" cy="894.6" rx="0.72" ry="0.57" transform="rotate(50 44.6 894.6)" fill="#55568f" fill-opacity="0.75"/><ellipse cx="72.0" cy="873.8" rx="0.87" ry="0.69" transform="rotate(-89 72.0 873.8)" fill="#55568f" fill-opacity="0.75"/><ellipse cx="64.2" cy="898.3" rx="0.87" ry="0.69" transform="rotate(20 64.2 898.3)" fill="#55568f" fill-opacity="0.75"/><ellipse cx="54.4" cy="906.2" rx="0.89" ry="0.71" transform="rotate(44 54.4 906.2)" fill="#55568f" fill-opacity="0.75"/><ellipse cx="53.6" cy="893.7" rx="0.87" ry="0.69" transform="rotate(-39 53.6 893.7)" fill="#55568f" fill-opacity="0.75"/><ellipse cx="31.0" cy="899.4" rx="1.16" ry="0.92" transform="rotate(-76 31.0 899.4)" fill="#55568f" fill-opacity="0.75"/><ellipse cx="27.7" cy="911.3" rx="0.74" ry="0.59" transform="rotate(38 27.7 911.3)" fill="#55568f" fill-opacity="0.75"/><ellipse cx="16.6" cy="872.1" rx="1.03" ry="0.81" transform="rotate(-9 16.6 872.1)" fill="#55568f" fill-opacity="0.75"/><ellipse cx="57.8" cy="867.6" rx="0.81" ry="0.64" transform="rotate(-13 57.8 867.6)" fill="#55568f" fill-opacity="0.75"/><ellipse cx="35.4" cy="880.6" rx="0.91" ry="0.72" transform="rotate(65 35.4 880.6)" fill="#55568f" fill-opacity="0.75"/><ellipse cx="75.4" cy="869.5" rx="1.11" ry="0.88" transform="rotate(81 75.4 869.5)" fill="#55568f" fill-opacity="0.75"/><ellipse cx="41.5" cy="868.9" rx="0.87" ry="0.68" transform="rotate(50 41.5 868.9)" fill="#55568f" fill-opacity="0.75"/><ellipse cx="77.5" cy="890.6" rx="1.08" ry="0.85" transform="rotate(-42 77.5 890.6)" fill="#55568f" fill-opacity="0.75"/><ellipse cx="57.5" cy="881.2" rx="0.88" ry="0.70" transform="rotate(-36 57.5 881.2)" fill="#55568f" fill-opacity="0.75"/><ellipse cx="78.3" cy="906.0" rx="0.71" ry="0.56" transform="rotate(77 78.3 906.0)" fill="#55568f" fill-opacity="0.75"/><ellipse cx="53.1" cy="887.0" rx="0.86" ry="0.68" transform="rotate(-35 53.1 887.0)" fill="#55568f" fill-opacity="0.75"/><ellipse cx="55.1" cy="901.5" rx="0.84" ry="0.66" transform="rotate(75 55.1 901.5)" fill="#55568f" fill-opacity="0.75"/><ellipse cx="40.8" cy="914.3" rx="1.07" ry="0.84" transform="rotate(-77 40.8 914.3)" fill="#55568f" fill-opacity="0.75"/><ellipse cx="75.0" cy="867.4" rx="0.77" ry="0.61" transform="rotate(27 75.0 867.4)" fill="#55568f" fill-opacity="0.75"/><ellipse cx="64.8" cy="867.4" rx="1.11" ry="0.87" transform="rotate(29 64.8 867.4)" fill="#55568f" fill-opacity="0.75"/><ellipse cx="64.5" cy="873.0" rx="0.82" ry="0.65" transform="rotate(21 64.5 873.0)" fill="#55568f" fill-opacity="0.75"/><ellipse cx="56.8" cy="903.9" rx="1.12" ry="0.88" transform="rotate(41 56.8 903.9)" fill="#55568f" fill-opacity="0.75"/><ellipse cx="22.2" cy="893.2" rx="1.14" ry="0.90" transform="rotate(-88 22.2 893.2)" fill="#55568f" fill-opacity="0.75"/><ellipse cx="78.1" cy="890.9" rx="0.81" ry="0.64" transform="rotate(-56 78.1 890.9)" fill="#55568f" fill-opacity="0.75"/><ellipse cx="62.3" cy="868.8" rx="0.84" ry="0.66" transform="rotate(42 62.3 868.8)" fill="#55568f" fill-opacity="0.75"/><ellipse cx="68.0" cy="898.6" rx="1.06" ry="0.84" transform="rotate(-46 68.0 898.6)" fill="#55568f" fill-opacity="0.75"/><ellipse cx="57.4" cy="873.7" rx="0.86" ry="0.68" transform="rotate(32 57.4 873.7)" fill="#55568f" fill-opacity="0.75"/><ellipse cx="72.0" cy="873.2" rx="0.79" ry="0.62" transform="rotate(36 72.0 873.2)" fill="#55568f" fill-opacity="0.75"/><ellipse cx="23.0" cy="876.9" rx="1.12" ry="0.89" transform="rotate(5 23.0 876.9)" fill="#55568f" fill-opacity="0.75"/><ellipse cx="69.2" cy="889.4" rx="0.77" ry="0.61" transform="rotate(41 69.2 889.4)" fill="#55568f" fill-opacity="0.75"/><ellipse cx="64.3" cy="872.8" rx="0.85" ry="0.67" transform="rotate(-89 64.3 872.8)" fill="#55568f" fill-opacity="0.75"/><ellipse cx="58.6" cy="895.8" rx="1.15" ry="0.90" transform="rotate(-85 58.6 895.8)" fill="#55568f" fill-opacity="0.75"/><ellipse cx="54.5" cy="910.3" rx="0.80" ry="0.63" transform="rotate(42 54.5 910.3)" fill="#55568f" fill-opacity="0.75"/><ellipse cx="39.3" cy="878.0" rx="0.99" ry="0.78" transform="rotate(30 39.3 878.0)" fill="#55568f" fill-opacity="0.75"/><ellipse cx="77.0" cy="891.1" rx="1.18" ry="0.93" transform="rotate(-40 77.0 891.1)" fill="#55568f" fill-opacity="0.75"/><ellipse cx="39.9" cy="882.4" rx="0.94" ry="0.74" transform="rotate(-1 39.9 882.4)" fill="#55568f" fill-opacity="0.75"/><ellipse cx="50.1" cy="900.6" rx="0.81" ry="0.64" transform="rotate(-29 50.1 900.6)" fill="#55568f" fill-opacity="0.75"/><ellipse cx="41.6" cy="882.3" rx="0.87" ry="0.68" transform="rotate(29 41.6 882.3)" fill="#55568f" fill-opacity="0.75"/><ellipse cx="46.8" cy="879.4" rx="1.14" ry="0.90" transform="rotate(82 46.8 879.4)" fill="#55568f" fill-opacity="0.75"/><ellipse cx="30.0" cy="906.2" rx="0.84" ry="0.67" transform="rotate(-66 30.0 906.2)" fill="#55568f" fill-opacity="0.75"/><ellipse cx="51.6" cy="914.5" rx="0.72" ry="0.57" transform="rotate(-54 51.6 914.5)" fill="#55568f" fill-opacity="0.75"/><ellipse cx="34.4" cy="902.6" rx="0.72" ry="0.57" transform="rotate(7 34.4 902.6)" fill="#55568f" fill-opacity="0.75"/><ellipse cx="78.0" cy="876.9" rx="0.98" ry="0.77" transform="rotate(-67 78.0 876.9)" fill="#55568f" fill-opacity="0.75"/><ellipse cx="23.5" cy="877.1" rx="0.94" ry="0.74" transform="rotate(-29 23.5 877.1)" fill="#55568f" fill-opacity="0.75"/><ellipse cx="79.7" cy="912.9" rx="0.85" ry="0.67" transform="rotate(-85 79.7 912.9)" fill="#55568f" fill-opacity="0.75"/><ellipse cx="18.3" cy="879.6" rx="0.81" ry="0.64" transform="rotate(-86 18.3 879.6)" fill="#55568f" fill-opacity="0.75"/><ellipse cx="54.1" cy="879.7" rx="0.83" ry="0.65" transform="rotate(-72 54.1 879.7)" fill="#55568f" fill-opacity="0.75"/><ellipse cx="57.0" cy="891.6" rx="1.09" ry="0.86" transform="rotate(34 57.0 891.6)" fill="#55568f" fill-opacity="0.75"/><ellipse cx="46.6" cy="879.3" rx="0.84" ry="0.66" transform="rotate(-45 46.6 879.3)" fill="#55568f" fill-opacity="0.75"/><ellipse cx="79.8" cy="884.7" rx="1.11" ry="0.88" transform="rotate(-22 79.8 884.7)" fill="#55568f" fill-opacity="0.75"/><ellipse cx="36.0" cy="879.4" rx="0.87" ry="0.69" transform="rotate(-39 36.0 879.4)" fill="#55568f" fill-opacity="0.75"/><ellipse cx="59.9" cy="882.6" rx="0.86" ry="0.68" transform="rotate(-60 59.9 882.6)" fill="#55568f" fill-opacity="0.75"/><ellipse cx="24.9" cy="880.4" rx="1.13" ry="0.89" transform="rotate(5 24.9 880.4)" fill="#55568f" fill-opacity="0.75"/><ellipse cx="37.2" cy="907.7" rx="0.72" ry="0.57" transform="rotate(61 37.2 907.7)" fill="#55568f" fill-opacity="0.75"/><ellipse cx="75.6" cy="881.0" rx="1.18" ry="0.93" transform="rotate(71 75.6 881.0)" fill="#55568f" fill-opacity="0.75"/><ellipse cx="77.3" cy="883.4" rx="1.04" ry="0.82" transform="rotate(-88 77.3 883.4)" fill="#55568f" fill-opacity="0.75"/><ellipse cx="72.3" cy="883.7" rx="0.97" ry="0.77" transform="rotate(83 72.3 883.7)" fill="#55568f" fill-opacity="0.75"/><ellipse cx="58.1" cy="907.1" rx="0.93" ry="0.73" transform="rotate(-44 58.1 907.1)" fill="#55568f" fill-opacity="0.75"/><ellipse cx="48.4" cy="891.1" rx="0.90" ry="0.71" transform="rotate(2 48.4 891.1)" fill="#55568f" fill-opacity="0.75"/><ellipse cx="19.5" cy="871.7" rx="0.79" ry="0.62" transform="rotate(55 19.5 871.7)" fill="#55568f" fill-opacity="0.75"/><ellipse cx="73.3" cy="912.3" rx="0.89" ry="0.70" transform="rotate(44 73.3 912.3)" fill="#55568f" fill-opacity="0.75"/><ellipse cx="32.8" cy="903.7" rx="0.89" ry="0.70" transform="rotate(-83 32.8 903.7)" fill="#55568f" fill-opacity="0.75"/><ellipse cx="16.2" cy="888.1" rx="0.72" ry="0.56" transform="rotate(29 16.2 888.1)" fill="#55568f" fill-opacity="0.75"/><ellipse cx="39.3" cy="879.0" rx="0.81" ry="0.64" transform="rotate(88 39.3 879.0)" fill="#55568f" fill-opacity="0.75"/><ellipse cx="49.9" cy="896.9" rx="0.73" ry="0.58" transform="rotate(79 49.9 896.9)" fill="#55568f" fill-opacity="0.75"/><ellipse cx="18.3" cy="913.0" rx="1.07" ry="0.85" transform="rotate(-66 18.3 913.0)" fill="#55568f" fill-opacity="0.75"/><ellipse cx="55.3" cy="876.5" rx="1.18" ry="0.93" transform="rotate(19 55.3 876.5)" fill="#55568f" fill-opacity="0.75"/><ellipse cx="22.6" cy="879.5" rx="1.17" ry="0.92" transform="rotate(3 22.6 879.5)" fill="#55568f" fill-opacity="0.75"/><ellipse cx="79.9" cy="905.4" rx="0.97" ry="0.77" transform="rotate(-35 79.9 905.4)" fill="#55568f" fill-opacity="0.75"/><ellipse cx="52.0" cy="892.5" rx="1.05" ry="0.83" transform="rotate(-6 52.0 892.5)" fill="#55568f" fill-opacity="0.75"/><ellipse cx="79.4" cy="885.2" rx="1.07" ry="0.85" transform="rotate(-69 79.4 885.2)" fill="#55568f" fill-opacity="0.75"/><ellipse cx="23.7" cy="895.6" rx="1.12" ry="0.88" transform="rotate(68 23.7 895.6)" fill="#55568f" fill-opacity="0.75"/><ellipse cx="31.3" cy="870.2" rx="0.95" ry="0.75" transform="rotate(-68 31.3 870.2)" fill="#55568f" fill-opacity="0.75"/><ellipse cx="43.3" cy="898.0" rx="0.81" ry="0.64" transform="rotate(-10 43.3 898.0)" fill="#55568f" fill-opacity="0.75"/><ellipse cx="17.0" cy="882.0" rx="1.03" ry="0.81" transform="rotate(44 17.0 882.0)" fill="#55568f" fill-opacity="0.75"/><ellipse cx="70.9" cy="905.2" rx="1.08" ry="0.86" transform="rotate(-89 70.9 905.2)" fill="#55568f" fill-opacity="0.75"/><ellipse cx="35.9" cy="883.2" rx="0.84" ry="0.67" transform="rotate(34 35.9 883.2)" fill="#55568f" fill-opacity="0.75"/></g>
</g>
<rect x="15.60" y="867.30" width="64.40" height="47.80" fill="none" stroke="#9a9a9a" stroke-width="0.4"/>
<rect x="16.40" y="907.70" width="15.39" height="6.40" fill="#ffffff" fill-opacity="0.55"/>
<text x="17.40" y="912.70" font-size="5.9" fill="#c4531d" stroke="#c4531d" stroke-width="0.2" paint-order="stroke">CD44</text>
<clipPath id="clipT4"><rect x="91.00" y="867.30" width="65.00" height="47.80"/></clipPath>
<g clip-path="url(#clipT4)">
<rect x="91.00" y="867.30" width="65.00" height="47.80" fill="#c8c9de"/>
<rect x="91.00" y="867.30" width="65.00" height="47.80" fill="#fff" filter="url(#nzL)"/>
<rect x="91.00" y="867.30" width="65.00" height="47.80" fill="#fff" filter="url(#nzD)"/>
<g filter="url(#b2)"><ellipse cx="124.2" cy="891.8" rx="2.36" ry="1.42" transform="rotate(64 124.2 891.8)" fill="#a9abcf" fill-opacity="0.3"/><ellipse cx="150.6" cy="914.8" rx="2.15" ry="1.29" transform="rotate(62 150.6 914.8)" fill="#a9abcf" fill-opacity="0.3"/><ellipse cx="146.1" cy="879.3" rx="2.25" ry="1.35" transform="rotate(21 146.1 879.3)" fill="#a9abcf" fill-opacity="0.3"/><ellipse cx="108.4" cy="882.8" rx="2.43" ry="1.46" transform="rotate(-50 108.4 882.8)" fill="#a9abcf" fill-opacity="0.3"/><ellipse cx="129.8" cy="881.8" rx="2.52" ry="1.51" transform="rotate(50 129.8 881.8)" fill="#a9abcf" fill-opacity="0.3"/><ellipse cx="92.8" cy="899.2" rx="1.94" ry="1.16" transform="rotate(-55 92.8 899.2)" fill="#a9abcf" fill-opacity="0.3"/><ellipse cx="109.3" cy="897.9" rx="1.56" ry="0.93" transform="rotate(34 109.3 897.9)" fill="#a9abcf" fill-opacity="0.3"/><ellipse cx="149.4" cy="893.8" rx="1.75" ry="1.05" transform="rotate(57 149.4 893.8)" fill="#a9abcf" fill-opacity="0.3"/><ellipse cx="139.5" cy="907.7" rx="1.45" ry="0.87" transform="rotate(35 139.5 907.7)" fill="#a9abcf" fill-opacity="0.3"/><ellipse cx="99.5" cy="912.1" rx="1.71" ry="1.03" transform="rotate(109 99.5 912.1)" fill="#a9abcf" fill-opacity="0.3"/><ellipse cx="115.4" cy="897.8" rx="1.68" ry="1.01" transform="rotate(-3 115.4 897.8)" fill="#a9abcf" fill-opacity="0.3"/><ellipse cx="110.8" cy="910.2" rx="1.76" ry="1.06" transform="rotate(29 110.8 910.2)" fill="#a9abcf" fill-opacity="0.3"/><ellipse cx="108.8" cy="900.7" rx="2.10" ry="1.26" transform="rotate(20 108.8 900.7)" fill="#a9abcf" fill-opacity="0.3"/><ellipse cx="133.3" cy="901.6" rx="1.46" ry="0.87" transform="rotate(-59 133.3 901.6)" fill="#a9abcf" fill-opacity="0.3"/><ellipse cx="125.9" cy="904.3" rx="2.46" ry="1.48" transform="rotate(103 125.9 904.3)" fill="#a9abcf" fill-opacity="0.3"/><ellipse cx="133.0" cy="905.0" rx="1.65" ry="0.99" transform="rotate(47 133.0 905.0)" fill="#a9abcf" fill-opacity="0.3"/><ellipse cx="149.2" cy="892.2" rx="1.79" ry="1.07" transform="rotate(21 149.2 892.2)" fill="#a9abcf" fill-opacity="0.3"/><ellipse cx="96.8" cy="892.7" rx="2.43" ry="1.46" transform="rotate(12 96.8 892.7)" fill="#a9abcf" fill-opacity="0.3"/><ellipse cx="144.1" cy="871.8" rx="1.87" ry="1.12" transform="rotate(69 144.1 871.8)" fill="#a9abcf" fill-opacity="0.3"/><ellipse cx="153.1" cy="910.9" rx="2.02" ry="1.21" transform="rotate(44 153.1 910.9)" fill="#a9abcf" fill-opacity="0.3"/><ellipse cx="109.9" cy="887.8" rx="1.47" ry="0.88" transform="rotate(43 109.9 887.8)" fill="#a9abcf" fill-opacity="0.3"/><ellipse cx="138.9" cy="875.5" rx="1.47" ry="0.88" transform="rotate(-8 138.9 875.5)" fill="#a9abcf" fill-opacity="0.3"/><ellipse cx="147.8" cy="881.2" rx="1.78" ry="1.07" transform="rotate(-47 147.8 881.2)" fill="#a9abcf" fill-opacity="0.3"/><ellipse cx="147.1" cy="894.9" rx="2.45" ry="1.47" transform="rotate(27 147.1 894.9)" fill="#a9abcf" fill-opacity="0.3"/><ellipse cx="119.8" cy="900.6" rx="1.46" ry="0.88" transform="rotate(86 119.8 900.6)" fill="#a9abcf" fill-opacity="0.3"/><ellipse cx="110.8" cy="872.2" rx="2.12" ry="1.27" transform="rotate(14 110.8 872.2)" fill="#a9abcf" fill-opacity="0.3"/><ellipse cx="95.8" cy="898.7" rx="2.37" ry="1.42" transform="rotate(-58 95.8 898.7)" fill="#a9abcf" fill-opacity="0.3"/><ellipse cx="111.5" cy="882.3" rx="2.46" ry="1.47" transform="rotate(29 111.5 882.3)" fill="#a9abcf" fill-opacity="0.3"/><ellipse cx="116.0" cy="877.1" rx="2.37" ry="1.42" transform="rotate(95 116.0 877.1)" fill="#a9abcf" fill-opacity="0.3"/><ellipse cx="94.4" cy="881.3" rx="2.26" ry="1.36" transform="rotate(-54 94.4 881.3)" fill="#a9abcf" fill-opacity="0.3"/><ellipse cx="129.3" cy="879.6" rx="1.97" ry="1.18" transform="rotate(22 129.3 879.6)" fill="#a9abcf" fill-opacity="0.3"/><ellipse cx="133.7" cy="906.5" rx="1.68" ry="1.01" transform="rotate(-15 133.7 906.5)" fill="#a9abcf" fill-opacity="0.3"/><ellipse cx="95.8" cy="914.1" rx="2.03" ry="1.22" transform="rotate(67 95.8 914.1)" fill="#a9abcf" fill-opacity="0.3"/><ellipse cx="113.5" cy="891.5" rx="2.21" ry="1.33" transform="rotate(6 113.5 891.5)" fill="#a9abcf" fill-opacity="0.3"/><ellipse cx="106.5" cy="910.5" rx="2.21" ry="1.32" transform="rotate(52 106.5 910.5)" fill="#a9abcf" fill-opacity="0.3"/><ellipse cx="91.8" cy="892.2" rx="1.42" ry="0.85" transform="rotate(-14 91.8 892.2)" fill="#a9abcf" fill-opacity="0.3"/><ellipse cx="153.1" cy="902.9" rx="1.56" ry="0.94" transform="rotate(56 153.1 902.9)" fill="#a9abcf" fill-opacity="0.3"/><ellipse cx="125.3" cy="883.8" rx="1.60" ry="0.96" transform="rotate(45 125.3 883.8)" fill="#a9abcf" fill-opacity="0.3"/><ellipse cx="139.9" cy="909.9" rx="1.63" ry="0.98" transform="rotate(-3 139.9 909.9)" fill="#a9abcf" fill-opacity="0.3"/><ellipse cx="131.4" cy="869.7" rx="2.03" ry="1.22" transform="rotate(-4 131.4 869.7)" fill="#a9abcf" fill-opacity="0.3"/><ellipse cx="113.1" cy="901.0" rx="2.53" ry="1.52" transform="rotate(-22 113.1 901.0)" fill="#a9abcf" fill-opacity="0.3"/><ellipse cx="110.7" cy="876.2" rx="2.56" ry="1.53" transform="rotate(3 110.7 876.2)" fill="#a9abcf" fill-opacity="0.3"/><ellipse cx="140.5" cy="900.9" rx="2.11" ry="1.27" transform="rotate(-18 140.5 900.9)" fill="#a9abcf" fill-opacity="0.3"/><ellipse cx="133.9" cy="889.7" rx="2.23" ry="1.34" transform="rotate(-10 133.9 889.7)" fill="#a9abcf" fill-opacity="0.3"/><ellipse cx="134.1" cy="885.7" rx="2.35" ry="1.41" transform="rotate(-23 134.1 885.7)" fill="#a9abcf" fill-opacity="0.3"/><ellipse cx="99.3" cy="887.8" rx="1.40" ry="0.84" transform="rotate(-5 99.3 887.8)" fill="#a9abcf" fill-opacity="0.3"/><ellipse cx="113.3" cy="910.6" rx="1.87" ry="1.12" transform="rotate(-58 113.3 910.6)" fill="#a9abcf" fill-opacity="0.3"/><ellipse cx="138.0" cy="905.7" rx="1.72" ry="1.03" transform="rotate(83 138.0 905.7)" fill="#a9abcf" fill-opacity="0.3"/><ellipse cx="146.0" cy="871.1" rx="2.35" ry="1.41" transform="rotate(-58 146.0 871.1)" fill="#a9abcf" fill-opacity="0.3"/><ellipse cx="150.6" cy="909.4" rx="1.52" ry="0.91" transform="rotate(-56 150.6 909.4)" fill="#a9abcf" fill-opacity="0.3"/><ellipse cx="152.2" cy="887.3" rx="1.07" ry="0.85" transform="rotate(70 152.2 887.3)" fill="#56578f" fill-opacity="0.7"/><ellipse cx="130.2" cy="893.1" rx="0.84" ry="0.66" transform="rotate(49 130.2 893.1)" fill="#56578f" fill-opacity="0.7"/><ellipse cx="107.0" cy="880.6" rx="0.74" ry="0.59" transform="rotate(64 107.0 880.6)" fill="#56578f" fill-opacity="0.7"/><ellipse cx="125.2" cy="906.2" rx="0.87" ry="0.68" transform="rotate(-21 125.2 906.2)" fill="#56578f" fill-opacity="0.7"/><ellipse cx="102.5" cy="875.2" rx="0.90" ry="0.71" transform="rotate(15 102.5 875.2)" fill="#56578f" fill-opacity="0.7"/><ellipse cx="132.0" cy="910.0" rx="0.77" ry="0.61" transform="rotate(83 132.0 910.0)" fill="#56578f" fill-opacity="0.7"/><ellipse cx="130.4" cy="910.8" rx="0.79" ry="0.62" transform="rotate(-87 130.4 910.8)" fill="#56578f" fill-opacity="0.7"/><ellipse cx="119.8" cy="890.9" rx="1.18" ry="0.94" transform="rotate(-49 119.8 890.9)" fill="#56578f" fill-opacity="0.7"/><ellipse cx="136.9" cy="876.7" rx="0.82" ry="0.65" transform="rotate(-89 136.9 876.7)" fill="#56578f" fill-opacity="0.7"/><ellipse cx="133.7" cy="881.7" rx="0.94" ry="0.74" transform="rotate(-35 133.7 881.7)" fill="#56578f" fill-opacity="0.7"/><ellipse cx="111.5" cy="902.9" rx="0.97" ry="0.77" transform="rotate(-14 111.5 902.9)" fill="#56578f" fill-opacity="0.7"/><ellipse cx="139.1" cy="872.0" rx="0.91" ry="0.72" transform="rotate(-45 139.1 872.0)" fill="#56578f" fill-opacity="0.7"/><ellipse cx="134.9" cy="905.1" rx="0.75" ry="0.59" transform="rotate(-25 134.9 905.1)" fill="#56578f" fill-opacity="0.7"/><ellipse cx="127.8" cy="906.5" rx="0.93" ry="0.74" transform="rotate(52 127.8 906.5)" fill="#56578f" fill-opacity="0.7"/><ellipse cx="127.6" cy="911.0" rx="0.72" ry="0.57" transform="rotate(-40 127.6 911.0)" fill="#56578f" fill-opacity="0.7"/><ellipse cx="97.1" cy="892.6" rx="1.03" ry="0.81" transform="rotate(-28 97.1 892.6)" fill="#56578f" fill-opacity="0.7"/><ellipse cx="123.8" cy="899.7" rx="0.84" ry="0.67" transform="rotate(55 123.8 899.7)" fill="#56578f" fill-opacity="0.7"/><ellipse cx="133.1" cy="900.5" rx="0.83" ry="0.65" transform="rotate(2 133.1 900.5)" fill="#56578f" fill-opacity="0.7"/><ellipse cx="128.1" cy="869.9" rx="0.86" ry="0.68" transform="rotate(43 128.1 869.9)" fill="#56578f" fill-opacity="0.7"/><ellipse cx="91.3" cy="874.7" rx="1.14" ry="0.90" transform="rotate(52 91.3 874.7)" fill="#56578f" fill-opacity="0.7"/><ellipse cx="126.6" cy="891.1" rx="0.72" ry="0.57" transform="rotate(11 126.6 891.1)" fill="#56578f" fill-opacity="0.7"/><ellipse cx="113.8" cy="889.6" rx="0.99" ry="0.78" transform="rotate(-30 113.8 889.6)" fill="#56578f" fill-opacity="0.7"/><ellipse cx="134.5" cy="883.7" rx="1.09" ry="0.86" transform="rotate(-88 134.5 883.7)" fill="#56578f" fill-opacity="0.7"/><ellipse cx="105.9" cy="870.1" rx="1.17" ry="0.92" transform="rotate(60 105.9 870.1)" fill="#56578f" fill-opacity="0.7"/><ellipse cx="140.5" cy="901.7" rx="1.17" ry="0.92" transform="rotate(-17 140.5 901.7)" fill="#56578f" fill-opacity="0.7"/><ellipse cx="127.3" cy="886.0" rx="0.73" ry="0.58" transform="rotate(-27 127.3 886.0)" fill="#56578f" fill-opacity="0.7"/><ellipse cx="91.6" cy="882.9" rx="1.15" ry="0.91" transform="rotate(-27 91.6 882.9)" fill="#56578f" fill-opacity="0.7"/><ellipse cx="103.1" cy="879.1" rx="1.10" ry="0.87" transform="rotate(74 103.1 879.1)" fill="#56578f" fill-opacity="0.7"/><ellipse cx="105.1" cy="879.6" rx="1.07" ry="0.85" transform="rotate(54 105.1 879.6)" fill="#56578f" fill-opacity="0.7"/><ellipse cx="130.0" cy="870.1" rx="0.75" ry="0.59" transform="rotate(64 130.0 870.1)" fill="#56578f" fill-opacity="0.7"/><ellipse cx="95.5" cy="890.1" rx="1.14" ry="0.90" transform="rotate(-66 95.5 890.1)" fill="#56578f" fill-opacity="0.7"/><ellipse cx="127.8" cy="867.9" rx="1.06" ry="0.84" transform="rotate(-19 127.8 867.9)" fill="#56578f" fill-opacity="0.7"/><ellipse cx="105.4" cy="887.1" rx="1.13" ry="0.89" transform="rotate(61 105.4 887.1)" fill="#56578f" fill-opacity="0.7"/><ellipse cx="121.3" cy="891.0" rx="0.99" ry="0.78" transform="rotate(35 121.3 891.0)" fill="#56578f" fill-opacity="0.7"/><ellipse cx="114.9" cy="868.5" rx="0.74" ry="0.59" transform="rotate(-35 114.9 868.5)" fill="#56578f" fill-opacity="0.7"/><ellipse cx="95.4" cy="871.2" rx="0.78" ry="0.61" transform="rotate(20 95.4 871.2)" fill="#56578f" fill-opacity="0.7"/><ellipse cx="98.6" cy="904.1" rx="1.16" ry="0.92" transform="rotate(75 98.6 904.1)" fill="#56578f" fill-opacity="0.7"/><ellipse cx="143.4" cy="882.3" rx="0.88" ry="0.69" transform="rotate(-14 143.4 882.3)" fill="#56578f" fill-opacity="0.7"/><ellipse cx="98.6" cy="899.8" rx="1.15" ry="0.91" transform="rotate(51 98.6 899.8)" fill="#56578f" fill-opacity="0.7"/><ellipse cx="149.0" cy="907.9" rx="0.77" ry="0.61" transform="rotate(-12 149.0 907.9)" fill="#56578f" fill-opacity="0.7"/><ellipse cx="125.2" cy="891.0" rx="1.02" ry="0.81" transform="rotate(73 125.2 891.0)" fill="#56578f" fill-opacity="0.7"/><ellipse cx="95.1" cy="867.8" rx="0.97" ry="0.76" transform="rotate(-27 95.1 867.8)" fill="#56578f" fill-opacity="0.7"/><ellipse cx="92.3" cy="875.9" rx="1.17" ry="0.93" transform="rotate(56 92.3 875.9)" fill="#56578f" fill-opacity="0.7"/><ellipse cx="127.7" cy="904.3" rx="1.02" ry="0.81" transform="rotate(-31 127.7 904.3)" fill="#56578f" fill-opacity="0.7"/><ellipse cx="108.9" cy="883.3" rx="0.80" ry="0.63" transform="rotate(13 108.9 883.3)" fill="#56578f" fill-opacity="0.7"/><ellipse cx="116.9" cy="893.3" rx="1.06" ry="0.84" transform="rotate(-15 116.9 893.3)" fill="#56578f" fill-opacity="0.7"/><ellipse cx="118.9" cy="875.0" rx="0.85" ry="0.67" transform="rotate(42 118.9 875.0)" fill="#56578f" fill-opacity="0.7"/><ellipse cx="133.1" cy="880.3" rx="1.07" ry="0.84" transform="rotate(-19 133.1 880.3)" fill="#56578f" fill-opacity="0.7"/><ellipse cx="112.8" cy="905.3" rx="1.10" ry="0.87" transform="rotate(-37 112.8 905.3)" fill="#56578f" fill-opacity="0.7"/><ellipse cx="105.3" cy="874.0" rx="0.84" ry="0.66" transform="rotate(75 105.3 874.0)" fill="#56578f" fill-opacity="0.7"/><ellipse cx="116.8" cy="894.3" rx="1.12" ry="0.89" transform="rotate(-70 116.8 894.3)" fill="#56578f" fill-opacity="0.7"/><ellipse cx="93.1" cy="905.9" rx="1.08" ry="0.85" transform="rotate(40 93.1 905.9)" fill="#56578f" fill-opacity="0.7"/><ellipse cx="152.9" cy="870.0" rx="1.02" ry="0.80" transform="rotate(13 152.9 870.0)" fill="#56578f" fill-opacity="0.7"/><ellipse cx="148.9" cy="907.4" rx="0.88" ry="0.69" transform="rotate(3 148.9 907.4)" fill="#56578f" fill-opacity="0.7"/><ellipse cx="107.7" cy="902.6" rx="1.10" ry="0.87" transform="rotate(-42 107.7 902.6)" fill="#56578f" fill-opacity="0.7"/><ellipse cx="149.0" cy="901.4" rx="1.17" ry="0.93" transform="rotate(49 149.0 901.4)" fill="#56578f" fill-opacity="0.7"/><ellipse cx="114.5" cy="909.1" rx="1.19" ry="0.94" transform="rotate(27 114.5 909.1)" fill="#56578f" fill-opacity="0.7"/><ellipse cx="109.9" cy="895.2" rx="1.18" ry="0.93" transform="rotate(68 109.9 895.2)" fill="#56578f" fill-opacity="0.7"/><ellipse cx="125.9" cy="891.7" rx="0.82" ry="0.64" transform="rotate(73 125.9 891.7)" fill="#56578f" fill-opacity="0.7"/><ellipse cx="110.7" cy="897.1" rx="0.80" ry="0.64" transform="rotate(23 110.7 897.1)" fill="#56578f" fill-opacity="0.7"/><ellipse cx="134.3" cy="872.8" rx="0.76" ry="0.60" transform="rotate(87 134.3 872.8)" fill="#56578f" fill-opacity="0.7"/><ellipse cx="138.0" cy="902.6" rx="1.09" ry="0.86" transform="rotate(-13 138.0 902.6)" fill="#56578f" fill-opacity="0.7"/><ellipse cx="134.9" cy="869.2" rx="1.09" ry="0.86" transform="rotate(-51 134.9 869.2)" fill="#56578f" fill-opacity="0.7"/><ellipse cx="145.4" cy="913.2" rx="0.98" ry="0.77" transform="rotate(-7 145.4 913.2)" fill="#56578f" fill-opacity="0.7"/><ellipse cx="104.0" cy="870.2" rx="0.94" ry="0.74" transform="rotate(81 104.0 870.2)" fill="#56578f" fill-opacity="0.7"/><ellipse cx="107.2" cy="894.4" rx="1.17" ry="0.92" transform="rotate(-74 107.2 894.4)" fill="#56578f" fill-opacity="0.7"/><ellipse cx="146.5" cy="891.2" rx="0.75" ry="0.59" transform="rotate(32 146.5 891.2)" fill="#56578f" fill-opacity="0.7"/><ellipse cx="125.7" cy="897.8" rx="0.72" ry="0.57" transform="rotate(12 125.7 897.8)" fill="#56578f" fill-opacity="0.7"/><ellipse cx="131.7" cy="893.7" rx="0.88" ry="0.69" transform="rotate(55 131.7 893.7)" fill="#56578f" fill-opacity="0.7"/><ellipse cx="95.1" cy="898.7" rx="1.09" ry="0.86" transform="rotate(-17 95.1 898.7)" fill="#56578f" fill-opacity="0.7"/><ellipse cx="114.0" cy="880.3" rx="1.06" ry="0.84" transform="rotate(12 114.0 880.3)" fill="#56578f" fill-opacity="0.7"/><ellipse cx="130.9" cy="896.9" rx="0.73" ry="0.58" transform="rotate(-23 130.9 896.9)" fill="#56578f" fill-opacity="0.7"/><ellipse cx="145.8" cy="872.7" rx="1.18" ry="0.93" transform="rotate(-87 145.8 872.7)" fill="#56578f" fill-opacity="0.7"/><ellipse cx="114.0" cy="907.0" rx="0.85" ry="0.67" transform="rotate(-84 114.0 907.0)" fill="#56578f" fill-opacity="0.7"/><ellipse cx="137.2" cy="908.8" rx="0.85" ry="0.67" transform="rotate(-6 137.2 908.8)" fill="#56578f" fill-opacity="0.7"/><ellipse cx="153.3" cy="874.3" rx="1.16" ry="0.91" transform="rotate(-17 153.3 874.3)" fill="#56578f" fill-opacity="0.7"/><ellipse cx="141.0" cy="879.8" rx="0.90" ry="0.71" transform="rotate(-5 141.0 879.8)" fill="#56578f" fill-opacity="0.7"/><ellipse cx="98.8" cy="906.5" rx="1.14" ry="0.90" transform="rotate(-18 98.8 906.5)" fill="#56578f" fill-opacity="0.7"/><ellipse cx="146.2" cy="875.3" rx="1.01" ry="0.80" transform="rotate(-43 146.2 875.3)" fill="#56578f" fill-opacity="0.7"/><ellipse cx="117.5" cy="876.9" rx="0.75" ry="0.59" transform="rotate(-1 117.5 876.9)" fill="#56578f" fill-opacity="0.7"/><ellipse cx="98.5" cy="876.3" rx="1.10" ry="0.87" transform="rotate(-50 98.5 876.3)" fill="#56578f" fill-opacity="0.7"/><ellipse cx="126.8" cy="875.2" rx="0.85" ry="0.67" transform="rotate(-9 126.8 875.2)" fill="#56578f" fill-opacity="0.7"/><ellipse cx="96.1" cy="905.3" rx="0.79" ry="0.62" transform="rotate(-56 96.1 905.3)" fill="#56578f" fill-opacity="0.7"/><ellipse cx="92.2" cy="869.6" rx="0.75" ry="0.59" transform="rotate(-37 92.2 869.6)" fill="#56578f" fill-opacity="0.7"/><ellipse cx="106.6" cy="900.9" rx="0.98" ry="0.77" transform="rotate(-81 106.6 900.9)" fill="#56578f" fill-opacity="0.7"/><ellipse cx="102.6" cy="880.4" rx="1.00" ry="0.79" transform="rotate(19 102.6 880.4)" fill="#56578f" fill-opacity="0.7"/><ellipse cx="104.4" cy="898.6" rx="0.99" ry="0.78" transform="rotate(62 104.4 898.6)" fill="#56578f" fill-opacity="0.7"/><ellipse cx="155.3" cy="907.2" rx="0.74" ry="0.59" transform="rotate(88 155.3 907.2)" fill="#56578f" fill-opacity="0.7"/><ellipse cx="98.8" cy="889.3" rx="1.06" ry="0.83" transform="rotate(49 98.8 889.3)" fill="#56578f" fill-opacity="0.7"/><ellipse cx="148.0" cy="890.9" rx="0.87" ry="0.68" transform="rotate(87 148.0 890.9)" fill="#56578f" fill-opacity="0.7"/></g>
</g>
<rect x="91.00" y="867.30" width="65.00" height="47.80" fill="none" stroke="#9a9a9a" stroke-width="0.4"/>
<clipPath id="clipT5"><rect x="169.40" y="815.40" width="64.40" height="48.60"/></clipPath>
<g clip-path="url(#clipT5)">
<rect x="169.40" y="815.40" width="64.40" height="48.60" fill="#ebe9f1"/>
<rect x="169.40" y="815.40" width="64.40" height="48.60" fill="#fff" filter="url(#nzL)"/>
<g filter="url(#b2)"><ellipse cx="170.9" cy="819.6" rx="6.39" ry="1.51" transform="rotate(-59 170.9 819.6)" fill="#c3c1da" fill-opacity="0.45"/><ellipse cx="228.5" cy="855.1" rx="5.55" ry="1.31" transform="rotate(-69 228.5 855.1)" fill="#c3c1da" fill-opacity="0.45"/><ellipse cx="228.3" cy="829.2" rx="5.53" ry="1.31" transform="rotate(-71 228.3 829.2)" fill="#c3c1da" fill-opacity="0.45"/><ellipse cx="198.7" cy="858.6" rx="4.65" ry="1.10" transform="rotate(-62 198.7 858.6)" fill="#c3c1da" fill-opacity="0.45"/><ellipse cx="220.6" cy="860.3" rx="6.76" ry="1.60" transform="rotate(-62 220.6 860.3)" fill="#c3c1da" fill-opacity="0.45"/><ellipse cx="193.9" cy="853.5" rx="4.37" ry="1.03" transform="rotate(-60 193.9 853.5)" fill="#c3c1da" fill-opacity="0.45"/><ellipse cx="190.7" cy="832.4" rx="6.57" ry="1.55" transform="rotate(-68 190.7 832.4)" fill="#c3c1da" fill-opacity="0.45"/><ellipse cx="208.2" cy="834.5" rx="5.90" ry="1.39" transform="rotate(-59 208.2 834.5)" fill="#c3c1da" fill-opacity="0.45"/><ellipse cx="174.9" cy="833.2" rx="4.70" ry="1.11" transform="rotate(-58 174.9 833.2)" fill="#c3c1da" fill-opacity="0.45"/><ellipse cx="176.1" cy="858.1" rx="5.19" ry="1.23" transform="rotate(-62 176.1 858.1)" fill="#c3c1da" fill-opacity="0.45"/><ellipse cx="233.2" cy="844.8" rx="3.89" ry="0.92" transform="rotate(-71 233.2 844.8)" fill="#c3c1da" fill-opacity="0.45"/><ellipse cx="173.4" cy="849.4" rx="5.98" ry="1.41" transform="rotate(-59 173.4 849.4)" fill="#c3c1da" fill-opacity="0.45"/><ellipse cx="198.9" cy="836.2" rx="4.40" ry="1.04" transform="rotate(-63 198.9 836.2)" fill="#c3c1da" fill-opacity="0.45"/><ellipse cx="198.0" cy="859.0" rx="6.76" ry="1.60" transform="rotate(-66 198.0 859.0)" fill="#c3c1da" fill-opacity="0.45"/><ellipse cx="191.8" cy="828.7" rx="5.71" ry="1.35" transform="rotate(-69 191.8 828.7)" fill="#c3c1da" fill-opacity="0.45"/><ellipse cx="189.2" cy="857.8" rx="6.77" ry="1.60" transform="rotate(-61 189.2 857.8)" fill="#c3c1da" fill-opacity="0.45"/><ellipse cx="188.3" cy="826.9" rx="6.94" ry="1.64" transform="rotate(-70 188.3 826.9)" fill="#c3c1da" fill-opacity="0.45"/><ellipse cx="200.3" cy="842.1" rx="4.46" ry="1.05" transform="rotate(-65 200.3 842.1)" fill="#c3c1da" fill-opacity="0.45"/><ellipse cx="200.4" cy="815.9" rx="6.32" ry="1.49" transform="rotate(-52 200.4 815.9)" fill="#c3c1da" fill-opacity="0.45"/><ellipse cx="182.6" cy="818.1" rx="5.51" ry="1.30" transform="rotate(-56 182.6 818.1)" fill="#c3c1da" fill-opacity="0.45"/><ellipse cx="224.5" cy="851.8" rx="6.94" ry="1.64" transform="rotate(-62 224.5 851.8)" fill="#c3c1da" fill-opacity="0.45"/><ellipse cx="220.0" cy="825.3" rx="4.15" ry="0.98" transform="rotate(-54 220.0 825.3)" fill="#c3c1da" fill-opacity="0.45"/><ellipse cx="215.6" cy="818.2" rx="6.47" ry="1.53" transform="rotate(-58 215.6 818.2)" fill="#c3c1da" fill-opacity="0.45"/><ellipse cx="188.1" cy="826.2" rx="6.13" ry="1.45" transform="rotate(-54 188.1 826.2)" fill="#c3c1da" fill-opacity="0.45"/><ellipse cx="208.0" cy="856.8" rx="5.92" ry="1.40" transform="rotate(-67 208.0 856.8)" fill="#c3c1da" fill-opacity="0.45"/><ellipse cx="210.2" cy="844.9" rx="6.41" ry="1.51" transform="rotate(-60 210.2 844.9)" fill="#c3c1da" fill-opacity="0.45"/><ellipse cx="193.2" cy="827.9" rx="5.38" ry="1.27" transform="rotate(-55 193.2 827.9)" fill="#c3c1da" fill-opacity="0.45"/><ellipse cx="215.2" cy="848.0" rx="4.39" ry="1.04" transform="rotate(-71 215.2 848.0)" fill="#c3c1da" fill-opacity="0.45"/><ellipse cx="184.9" cy="833.3" rx="6.39" ry="1.51" transform="rotate(-71 184.9 833.3)" fill="#c3c1da" fill-opacity="0.45"/><ellipse cx="171.7" cy="841.6" rx="4.40" ry="1.04" transform="rotate(-56 171.7 841.6)" fill="#c3c1da" fill-opacity="0.45"/><ellipse cx="215.8" cy="835.8" rx="5.08" ry="1.20" transform="rotate(-59 215.8 835.8)" fill="#c3c1da" fill-opacity="0.45"/><ellipse cx="217.0" cy="841.6" rx="4.71" ry="1.11" transform="rotate(-72 217.0 841.6)" fill="#c3c1da" fill-opacity="0.45"/><ellipse cx="176.3" cy="862.1" rx="4.26" ry="1.01" transform="rotate(-66 176.3 862.1)" fill="#c3c1da" fill-opacity="0.45"/><ellipse cx="195.1" cy="815.6" rx="5.66" ry="1.34" transform="rotate(-63 195.1 815.6)" fill="#c3c1da" fill-opacity="0.45"/><ellipse cx="212.2" cy="836.5" rx="6.39" ry="1.51" transform="rotate(-66 212.2 836.5)" fill="#c3c1da" fill-opacity="0.45"/><ellipse cx="221.3" cy="830.1" rx="6.97" ry="1.65" transform="rotate(-64 221.3 830.1)" fill="#c3c1da" fill-opacity="0.45"/><ellipse cx="189.7" cy="816.1" rx="4.79" ry="1.13" transform="rotate(-55 189.7 816.1)" fill="#c3c1da" fill-opacity="0.45"/><ellipse cx="209.8" cy="822.8" rx="6.68" ry="1.58" transform="rotate(-64 209.8 822.8)" fill="#c3c1da" fill-opacity="0.45"/><ellipse cx="233.5" cy="861.0" rx="4.16" ry="0.98" transform="rotate(-54 233.5 861.0)" fill="#c3c1da" fill-opacity="0.45"/><ellipse cx="187.4" cy="852.5" rx="6.57" ry="1.55" transform="rotate(-53 187.4 852.5)" fill="#c3c1da" fill-opacity="0.45"/><ellipse cx="182.3" cy="849.2" rx="6.01" ry="1.42" transform="rotate(-57 182.3 849.2)" fill="#c3c1da" fill-opacity="0.45"/><ellipse cx="176.2" cy="850.1" rx="4.18" ry="0.99" transform="rotate(-70 176.2 850.1)" fill="#c3c1da" fill-opacity="0.45"/><ellipse cx="173.2" cy="825.6" rx="5.69" ry="1.34" transform="rotate(-55 173.2 825.6)" fill="#c3c1da" fill-opacity="0.45"/><ellipse cx="212.7" cy="858.1" rx="6.49" ry="1.54" transform="rotate(-66 212.7 858.1)" fill="#c3c1da" fill-opacity="0.45"/><ellipse cx="212.7" cy="846.8" rx="4.52" ry="1.07" transform="rotate(-69 212.7 846.8)" fill="#c3c1da" fill-opacity="0.45"/><ellipse cx="211.4" cy="845.3" rx="6.41" ry="1.51" transform="rotate(-64 211.4 845.3)" fill="#c3c1da" fill-opacity="0.45"/><ellipse cx="207.4" cy="849.8" rx="5.67" ry="1.34" transform="rotate(-52 207.4 849.8)" fill="#c3c1da" fill-opacity="0.45"/><ellipse cx="190.3" cy="846.2" rx="7.01" ry="1.66" transform="rotate(-52 190.3 846.2)" fill="#c3c1da" fill-opacity="0.45"/><ellipse cx="170.5" cy="858.5" rx="5.86" ry="1.38" transform="rotate(-71 170.5 858.5)" fill="#c3c1da" fill-opacity="0.45"/><ellipse cx="233.6" cy="861.4" rx="5.62" ry="1.33" transform="rotate(-53 233.6 861.4)" fill="#c3c1da" fill-opacity="0.45"/><ellipse cx="185.5" cy="820.5" rx="6.46" ry="1.53" transform="rotate(-70 185.5 820.5)" fill="#c3c1da" fill-opacity="0.45"/><ellipse cx="185.7" cy="853.8" rx="6.35" ry="1.50" transform="rotate(-71 185.7 853.8)" fill="#c3c1da" fill-opacity="0.45"/><ellipse cx="201.5" cy="851.4" rx="3.88" ry="0.92" transform="rotate(-54 201.5 851.4)" fill="#c3c1da" fill-opacity="0.45"/><ellipse cx="213.9" cy="840.2" rx="5.79" ry="1.37" transform="rotate(-69 213.9 840.2)" fill="#c3c1da" fill-opacity="0.45"/><ellipse cx="192.9" cy="834.1" rx="5.48" ry="1.29" transform="rotate(-69 192.9 834.1)" fill="#c3c1da" fill-opacity="0.45"/><ellipse cx="224.9" cy="861.4" rx="6.79" ry="1.60" transform="rotate(-59 224.9 861.4)" fill="#c3c1da" fill-opacity="0.45"/><ellipse cx="207.0" cy="842.1" rx="4.03" ry="0.95" transform="rotate(-62 207.0 842.1)" fill="#c3c1da" fill-opacity="0.45"/><ellipse cx="193.8" cy="830.8" rx="5.40" ry="1.28" transform="rotate(-60 193.8 830.8)" fill="#c3c1da" fill-opacity="0.45"/><ellipse cx="233.3" cy="861.4" rx="4.91" ry="1.16" transform="rotate(-63 233.3 861.4)" fill="#c3c1da" fill-opacity="0.45"/><ellipse cx="180.4" cy="843.3" rx="6.36" ry="1.50" transform="rotate(-55 180.4 843.3)" fill="#c3c1da" fill-opacity="0.45"/><ellipse cx="191.6" cy="847.3" rx="6.43" ry="1.52" transform="rotate(-66 191.6 847.3)" fill="#c3c1da" fill-opacity="0.45"/><ellipse cx="179.1" cy="827.6" rx="4.29" ry="1.01" transform="rotate(-65 179.1 827.6)" fill="#c3c1da" fill-opacity="0.45"/><ellipse cx="181.2" cy="863.4" rx="7.03" ry="1.66" transform="rotate(-56 181.2 863.4)" fill="#c3c1da" fill-opacity="0.45"/><ellipse cx="174.3" cy="836.3" rx="6.23" ry="1.47" transform="rotate(-54 174.3 836.3)" fill="#c3c1da" fill-opacity="0.45"/><ellipse cx="218.4" cy="822.3" rx="4.12" ry="0.97" transform="rotate(-56 218.4 822.3)" fill="#c3c1da" fill-opacity="0.45"/><ellipse cx="210.9" cy="825.2" rx="5.00" ry="1.18" transform="rotate(-67 210.9 825.2)" fill="#c3c1da" fill-opacity="0.45"/><ellipse cx="214.8" cy="846.0" rx="4.57" ry="1.08" transform="rotate(-67 214.8 846.0)" fill="#c3c1da" fill-opacity="0.45"/><ellipse cx="178.9" cy="840.0" rx="5.83" ry="1.38" transform="rotate(-56 178.9 840.0)" fill="#c3c1da" fill-opacity="0.45"/><ellipse cx="180.7" cy="845.2" rx="4.89" ry="1.16" transform="rotate(-64 180.7 845.2)" fill="#c3c1da" fill-opacity="0.45"/><ellipse cx="178.6" cy="839.9" rx="3.90" ry="0.92" transform="rotate(-65 178.6 839.9)" fill="#c3c1da" fill-opacity="0.45"/><ellipse cx="177.9" cy="824.9" rx="4.37" ry="0.87" transform="rotate(-62 177.9 824.9)" fill="#b88a70" fill-opacity="0.45"/><ellipse cx="193.6" cy="839.3" rx="3.29" ry="0.66" transform="rotate(-65 193.6 839.3)" fill="#b88a70" fill-opacity="0.45"/><ellipse cx="227.9" cy="856.2" rx="3.31" ry="0.66" transform="rotate(-57 227.9 856.2)" fill="#b88a70" fill-opacity="0.45"/><ellipse cx="198.5" cy="836.1" rx="4.59" ry="0.92" transform="rotate(-54 198.5 836.1)" fill="#b88a70" fill-opacity="0.45"/><ellipse cx="172.0" cy="823.7" rx="4.51" ry="0.90" transform="rotate(-59 172.0 823.7)" fill="#b88a70" fill-opacity="0.45"/><ellipse cx="232.9" cy="816.2" rx="4.65" ry="0.93" transform="rotate(-73 232.9 816.2)" fill="#b88a70" fill-opacity="0.45"/><ellipse cx="228.5" cy="829.4" rx="4.93" ry="0.99" transform="rotate(-62 228.5 829.4)" fill="#b88a70" fill-opacity="0.45"/><ellipse cx="211.5" cy="828.3" rx="5.72" ry="1.14" transform="rotate(-64 211.5 828.3)" fill="#b88a70" fill-opacity="0.45"/><ellipse cx="171.3" cy="836.1" rx="3.68" ry="0.74" transform="rotate(-65 171.3 836.1)" fill="#b88a70" fill-opacity="0.45"/><ellipse cx="221.5" cy="837.8" rx="4.24" ry="0.85" transform="rotate(-66 221.5 837.8)" fill="#b88a70" fill-opacity="0.45"/><ellipse cx="207.3" cy="861.6" rx="3.55" ry="0.71" transform="rotate(-65 207.3 861.6)" fill="#b88a70" fill-opacity="0.45"/><ellipse cx="215.5" cy="836.1" rx="5.65" ry="1.13" transform="rotate(-61 215.5 836.1)" fill="#b88a70" fill-opacity="0.45"/><ellipse cx="220.0" cy="824.9" rx="5.35" ry="1.07" transform="rotate(-58 220.0 824.9)" fill="#b88a70" fill-opacity="0.45"/><ellipse cx="185.8" cy="847.1" rx="4.45" ry="0.89" transform="rotate(-52 185.8 847.1)" fill="#b88a70" fill-opacity="0.45"/><ellipse cx="178.5" cy="817.4" rx="4.50" ry="0.90" transform="rotate(-51 178.5 817.4)" fill="#b88a70" fill-opacity="0.45"/><ellipse cx="193.8" cy="834.3" rx="3.85" ry="0.77" transform="rotate(-61 193.8 834.3)" fill="#b88a70" fill-opacity="0.45"/><ellipse cx="204.9" cy="863.8" rx="3.51" ry="0.70" transform="rotate(-64 204.9 863.8)" fill="#b88a70" fill-opacity="0.45"/><ellipse cx="172.8" cy="860.3" rx="4.98" ry="1.00" transform="rotate(-65 172.8 860.3)" fill="#b88a70" fill-opacity="0.45"/><ellipse cx="179.0" cy="859.2" rx="3.20" ry="0.64" transform="rotate(-65 179.0 859.2)" fill="#b88a70" fill-opacity="0.45"/><ellipse cx="232.8" cy="848.2" rx="3.38" ry="0.68" transform="rotate(-60 232.8 848.2)" fill="#b88a70" fill-opacity="0.45"/><ellipse cx="196.0" cy="829.2" rx="3.51" ry="0.70" transform="rotate(-53 196.0 829.2)" fill="#b88a70" fill-opacity="0.45"/><ellipse cx="179.5" cy="853.8" rx="4.71" ry="0.94" transform="rotate(-61 179.5 853.8)" fill="#b88a70" fill-opacity="0.45"/><ellipse cx="211.1" cy="852.3" rx="5.42" ry="1.08" transform="rotate(-72 211.1 852.3)" fill="#b88a70" fill-opacity="0.45"/><ellipse cx="191.7" cy="856.9" rx="5.28" ry="1.06" transform="rotate(-71 191.7 856.9)" fill="#b88a70" fill-opacity="0.45"/><ellipse cx="200.4" cy="840.2" rx="4.64" ry="0.93" transform="rotate(-74 200.4 840.2)" fill="#b88a70" fill-opacity="0.45"/><ellipse cx="230.3" cy="844.1" rx="4.37" ry="0.87" transform="rotate(-63 230.3 844.1)" fill="#b88a70" fill-opacity="0.45"/><ellipse cx="192.4" cy="830.5" rx="3.59" ry="0.72" transform="rotate(-66 192.4 830.5)" fill="#b88a70" fill-opacity="0.45"/><ellipse cx="189.8" cy="816.1" rx="3.78" ry="0.76" transform="rotate(-64 189.8 816.1)" fill="#b88a70" fill-opacity="0.45"/><ellipse cx="195.8" cy="824.1" rx="4.88" ry="0.98" transform="rotate(-72 195.8 824.1)" fill="#b88a70" fill-opacity="0.45"/><ellipse cx="186.0" cy="817.2" rx="4.32" ry="0.86" transform="rotate(-73 186.0 817.2)" fill="#b88a70" fill-opacity="0.45"/><ellipse cx="230.8" cy="831.3" rx="4.86" ry="0.97" transform="rotate(-69 230.8 831.3)" fill="#b88a70" fill-opacity="0.45"/><ellipse cx="174.3" cy="822.6" rx="3.17" ry="0.63" transform="rotate(-61 174.3 822.6)" fill="#b88a70" fill-opacity="0.45"/><ellipse cx="206.9" cy="863.9" rx="4.92" ry="0.98" transform="rotate(-54 206.9 863.9)" fill="#b88a70" fill-opacity="0.45"/><ellipse cx="195.5" cy="844.4" rx="3.58" ry="0.72" transform="rotate(-72 195.5 844.4)" fill="#b88a70" fill-opacity="0.45"/><ellipse cx="225.2" cy="863.2" rx="5.13" ry="1.03" transform="rotate(-53 225.2 863.2)" fill="#b88a70" fill-opacity="0.45"/><ellipse cx="179.5" cy="840.3" rx="3.44" ry="0.69" transform="rotate(-69 179.5 840.3)" fill="#b88a70" fill-opacity="0.45"/><ellipse cx="202.3" cy="849.1" rx="3.60" ry="0.72" transform="rotate(-66 202.3 849.1)" fill="#b88a70" fill-opacity="0.45"/><ellipse cx="212.5" cy="826.3" rx="5.04" ry="1.01" transform="rotate(-53 212.5 826.3)" fill="#b88a70" fill-opacity="0.45"/><ellipse cx="171.4" cy="861.4" rx="4.58" ry="0.92" transform="rotate(-68 171.4 861.4)" fill="#b88a70" fill-opacity="0.45"/><ellipse cx="207.4" cy="843.5" rx="4.37" ry="0.87" transform="rotate(-56 207.4 843.5)" fill="#b88a70" fill-opacity="0.45"/><ellipse cx="196.0" cy="857.8" rx="0.97" ry="0.73" transform="rotate(37 196.0 857.8)" fill="#4d4a90" fill-opacity="0.7"/><ellipse cx="226.6" cy="842.5" rx="1.18" ry="0.89" transform="rotate(-78 226.6 842.5)" fill="#4d4a90" fill-opacity="0.7"/><ellipse cx="197.5" cy="837.1" rx="1.26" ry="0.94" transform="rotate(-50 197.5 837.1)" fill="#4d4a90" fill-opacity="0.7"/><ellipse cx="188.4" cy="843.3" rx="1.39" ry="1.04" transform="rotate(-35 188.4 843.3)" fill="#4d4a90" fill-opacity="0.7"/><ellipse cx="223.9" cy="816.9" rx="1.35" ry="1.01" transform="rotate(65 223.9 816.9)" fill="#4d4a90" fill-opacity="0.7"/><ellipse cx="179.5" cy="821.3" rx="1.14" ry="0.86" transform="rotate(-78 179.5 821.3)" fill="#4d4a90" fill-opacity="0.7"/><ellipse cx="200.2" cy="844.8" rx="1.01" ry="0.76" transform="rotate(88 200.2 844.8)" fill="#4d4a90" fill-opacity="0.7"/><ellipse cx="190.6" cy="843.9" rx="0.92" ry="0.69" transform="rotate(68 190.6 843.9)" fill="#4d4a90" fill-opacity="0.7"/><ellipse cx="229.0" cy="822.3" rx="1.42" ry="1.07" transform="rotate(-55 229.0 822.3)" fill="#4d4a90" fill-opacity="0.7"/><ellipse cx="187.5" cy="862.4" rx="1.12" ry="0.84" transform="rotate(-35 187.5 862.4)" fill="#4d4a90" fill-opacity="0.7"/><ellipse cx="204.8" cy="863.3" rx="1.22" ry="0.91" transform="rotate(1 204.8 863.3)" fill="#4d4a90" fill-opacity="0.7"/><ellipse cx="196.3" cy="828.0" rx="0.97" ry="0.72" transform="rotate(-56 196.3 828.0)" fill="#4d4a90" fill-opacity="0.7"/><ellipse cx="215.1" cy="821.4" rx="1.38" ry="1.04" transform="rotate(-74 215.1 821.4)" fill="#4d4a90" fill-opacity="0.7"/><ellipse cx="210.9" cy="821.1" rx="0.98" ry="0.73" transform="rotate(23 210.9 821.1)" fill="#4d4a90" fill-opacity="0.7"/><ellipse cx="217.0" cy="843.9" rx="1.07" ry="0.81" transform="rotate(-52 217.0 843.9)" fill="#4d4a90" fill-opacity="0.7"/><ellipse cx="222.2" cy="836.7" rx="1.42" ry="1.07" transform="rotate(9 222.2 836.7)" fill="#4d4a90" fill-opacity="0.7"/><ellipse cx="185.9" cy="859.1" rx="1.07" ry="0.81" transform="rotate(33 185.9 859.1)" fill="#4d4a90" fill-opacity="0.7"/><ellipse cx="206.1" cy="840.2" rx="1.47" ry="1.10" transform="rotate(59 206.1 840.2)" fill="#4d4a90" fill-opacity="0.7"/><ellipse cx="186.3" cy="841.1" rx="0.89" ry="0.67" transform="rotate(-89 186.3 841.1)" fill="#4d4a90" fill-opacity="0.7"/><ellipse cx="194.0" cy="852.2" rx="1.24" ry="0.93" transform="rotate(-30 194.0 852.2)" fill="#4d4a90" fill-opacity="0.7"/><ellipse cx="207.1" cy="860.2" rx="1.03" ry="0.77" transform="rotate(31 207.1 860.2)" fill="#4d4a90" fill-opacity="0.7"/><ellipse cx="183.9" cy="859.9" rx="1.07" ry="0.80" transform="rotate(-67 183.9 859.9)" fill="#4d4a90" fill-opacity="0.7"/><ellipse cx="207.5" cy="854.0" rx="0.91" ry="0.68" transform="rotate(-44 207.5 854.0)" fill="#4d4a90" fill-opacity="0.7"/><ellipse cx="190.9" cy="840.6" rx="0.99" ry="0.74" transform="rotate(-31 190.9 840.6)" fill="#4d4a90" fill-opacity="0.7"/><ellipse cx="224.2" cy="834.6" rx="1.53" ry="1.15" transform="rotate(38 224.2 834.6)" fill="#4d4a90" fill-opacity="0.7"/><ellipse cx="178.0" cy="849.3" rx="1.88" ry="0.71" transform="rotate(-62 178.0 849.3)" fill="#6365a6" fill-opacity="0.75"/><ellipse cx="173.3" cy="829.5" rx="2.80" ry="1.05" transform="rotate(-67 173.3 829.5)" fill="#6365a6" fill-opacity="0.75"/><ellipse cx="227.4" cy="852.5" rx="2.57" ry="0.96" transform="rotate(-61 227.4 852.5)" fill="#6365a6" fill-opacity="0.75"/><ellipse cx="219.7" cy="859.5" rx="2.00" ry="0.75" transform="rotate(-68 219.7 859.5)" fill="#6365a6" fill-opacity="0.75"/><ellipse cx="209.4" cy="846.0" rx="1.94" ry="0.73" transform="rotate(-73 209.4 846.0)" fill="#6365a6" fill-opacity="0.75"/><ellipse cx="179.3" cy="817.7" rx="2.24" ry="0.84" transform="rotate(-51 179.3 817.7)" fill="#6365a6" fill-opacity="0.75"/><ellipse cx="215.7" cy="818.9" rx="2.23" ry="0.84" transform="rotate(-69 215.7 818.9)" fill="#6365a6" fill-opacity="0.75"/><ellipse cx="223.7" cy="849.9" rx="2.01" ry="0.75" transform="rotate(-71 223.7 849.9)" fill="#6365a6" fill-opacity="0.75"/><ellipse cx="219.8" cy="816.9" rx="2.52" ry="0.94" transform="rotate(-56 219.8 816.9)" fill="#6365a6" fill-opacity="0.75"/><ellipse cx="190.8" cy="829.9" rx="2.48" ry="0.93" transform="rotate(-58 190.8 829.9)" fill="#6365a6" fill-opacity="0.75"/><ellipse cx="210.9" cy="859.5" rx="2.95" ry="1.10" transform="rotate(-72 210.9 859.5)" fill="#6365a6" fill-opacity="0.75"/><ellipse cx="173.3" cy="824.5" rx="2.31" ry="0.87" transform="rotate(-54 173.3 824.5)" fill="#6365a6" fill-opacity="0.75"/><ellipse cx="197.6" cy="818.4" rx="2.99" ry="1.12" transform="rotate(-57 197.6 818.4)" fill="#6365a6" fill-opacity="0.75"/><ellipse cx="219.1" cy="855.1" rx="2.44" ry="0.91" transform="rotate(-61 219.1 855.1)" fill="#6365a6" fill-opacity="0.75"/><ellipse cx="219.6" cy="855.5" rx="1.89" ry="0.71" transform="rotate(-51 219.6 855.5)" fill="#6365a6" fill-opacity="0.75"/><ellipse cx="211.5" cy="850.1" rx="2.32" ry="0.87" transform="rotate(-58 211.5 850.1)" fill="#6365a6" fill-opacity="0.75"/><ellipse cx="191.7" cy="830.6" rx="2.22" ry="0.83" transform="rotate(-52 191.7 830.6)" fill="#6365a6" fill-opacity="0.75"/><ellipse cx="186.8" cy="829.7" rx="2.64" ry="0.99" transform="rotate(-67 186.8 829.7)" fill="#6365a6" fill-opacity="0.75"/><ellipse cx="212.4" cy="860.0" rx="2.39" ry="0.90" transform="rotate(-73 212.4 860.0)" fill="#6365a6" fill-opacity="0.75"/><ellipse cx="206.7" cy="822.6" rx="1.89" ry="0.71" transform="rotate(-70 206.7 822.6)" fill="#6365a6" fill-opacity="0.75"/><ellipse cx="223.1" cy="859.8" rx="1.94" ry="0.73" transform="rotate(-70 223.1 859.8)" fill="#6365a6" fill-opacity="0.75"/><ellipse cx="211.3" cy="843.4" rx="2.30" ry="0.86" transform="rotate(-58 211.3 843.4)" fill="#6365a6" fill-opacity="0.75"/><ellipse cx="198.1" cy="849.3" rx="1.93" ry="0.72" transform="rotate(-72 198.1 849.3)" fill="#6365a6" fill-opacity="0.75"/><ellipse cx="172.2" cy="821.8" rx="2.76" ry="1.04" transform="rotate(-55 172.2 821.8)" fill="#6365a6" fill-opacity="0.75"/><ellipse cx="226.6" cy="844.1" rx="2.73" ry="1.02" transform="rotate(-69 226.6 844.1)" fill="#6365a6" fill-opacity="0.75"/><ellipse cx="209.6" cy="836.3" rx="1.99" ry="0.75" transform="rotate(-54 209.6 836.3)" fill="#6365a6" fill-opacity="0.75"/><ellipse cx="179.9" cy="850.8" rx="2.26" ry="0.85" transform="rotate(-62 179.9 850.8)" fill="#6365a6" fill-opacity="0.75"/><ellipse cx="194.2" cy="826.5" rx="2.95" ry="1.11" transform="rotate(-59 194.2 826.5)" fill="#6365a6" fill-opacity="0.75"/></g>
</g>
<rect x="169.40" y="815.40" width="64.40" height="48.60" fill="none" stroke="#9a9a9a" stroke-width="0.4"/>
<rect x="170.20" y="856.60" width="18.74" height="6.40" fill="#ffffff" fill-opacity="0.55"/>
<text x="171.20" y="861.60" font-size="5.9" fill="#c4531d" stroke="#c4531d" stroke-width="0.2" paint-order="stroke">ITGA3</text>
<clipPath id="clipT6"><rect x="244.60" y="815.40" width="64.90" height="48.60"/></clipPath>
<g clip-path="url(#clipT6)">
<rect x="244.60" y="815.40" width="64.90" height="48.60" fill="#c9a2b0"/>
<rect x="244.60" y="815.40" width="64.90" height="48.60" fill="#fff" filter="url(#nzP)"/>
<rect x="244.60" y="815.40" width="64.90" height="48.60" fill="#fff" filter="url(#nzD)"/>
<g filter="url(#b2)"><ellipse cx="297.8" cy="826.2" rx="1.85" ry="1.39" transform="rotate(45 297.8 826.2)" fill="#ecdce8" fill-opacity="0.55"/><ellipse cx="302.5" cy="829.5" rx="1.41" ry="1.06" transform="rotate(86 302.5 829.5)" fill="#ecdce8" fill-opacity="0.55"/><ellipse cx="268.5" cy="830.9" rx="1.34" ry="1.01" transform="rotate(-77 268.5 830.9)" fill="#ecdce8" fill-opacity="0.55"/><ellipse cx="281.6" cy="861.0" rx="2.07" ry="1.55" transform="rotate(-56 281.6 861.0)" fill="#ecdce8" fill-opacity="0.55"/><ellipse cx="291.1" cy="840.4" rx="1.86" ry="1.39" transform="rotate(-63 291.1 840.4)" fill="#ecdce8" fill-opacity="0.55"/><ellipse cx="269.3" cy="823.0" rx="1.85" ry="1.38" transform="rotate(-52 269.3 823.0)" fill="#ecdce8" fill-opacity="0.55"/><ellipse cx="248.8" cy="816.7" rx="1.87" ry="1.41" transform="rotate(-89 248.8 816.7)" fill="#ecdce8" fill-opacity="0.55"/><ellipse cx="274.8" cy="829.9" rx="1.31" ry="0.98" transform="rotate(-57 274.8 829.9)" fill="#ecdce8" fill-opacity="0.55"/><ellipse cx="283.6" cy="845.0" rx="1.74" ry="1.30" transform="rotate(-84 283.6 845.0)" fill="#ecdce8" fill-opacity="0.55"/><ellipse cx="294.2" cy="840.1" rx="1.14" ry="0.85" transform="rotate(80 294.2 840.1)" fill="#ecdce8" fill-opacity="0.55"/><ellipse cx="255.2" cy="859.5" rx="1.31" ry="0.98" transform="rotate(-77 255.2 859.5)" fill="#ecdce8" fill-opacity="0.55"/><ellipse cx="289.6" cy="854.9" rx="1.36" ry="1.02" transform="rotate(16 289.6 854.9)" fill="#ecdce8" fill-opacity="0.55"/><ellipse cx="308.9" cy="849.5" rx="1.67" ry="1.26" transform="rotate(-83 308.9 849.5)" fill="#ecdce8" fill-opacity="0.55"/><ellipse cx="288.4" cy="851.6" rx="1.86" ry="1.39" transform="rotate(-57 288.4 851.6)" fill="#ecdce8" fill-opacity="0.55"/><ellipse cx="277.8" cy="855.4" rx="1.84" ry="1.38" transform="rotate(18 277.8 855.4)" fill="#ecdce8" fill-opacity="0.55"/><ellipse cx="250.2" cy="846.3" rx="1.20" ry="0.90" transform="rotate(64 250.2 846.3)" fill="#ecdce8" fill-opacity="0.55"/><ellipse cx="265.8" cy="819.6" rx="1.71" ry="1.28" transform="rotate(-6 265.8 819.6)" fill="#ecdce8" fill-opacity="0.55"/><ellipse cx="263.9" cy="837.3" rx="1.86" ry="1.40" transform="rotate(0 263.9 837.3)" fill="#ecdce8" fill-opacity="0.55"/><ellipse cx="252.6" cy="847.1" rx="1.14" ry="0.86" transform="rotate(40 252.6 847.1)" fill="#ecdce8" fill-opacity="0.55"/><ellipse cx="283.3" cy="824.0" rx="2.00" ry="1.50" transform="rotate(-17 283.3 824.0)" fill="#ecdce8" fill-opacity="0.55"/><ellipse cx="297.5" cy="860.8" rx="2.06" ry="1.54" transform="rotate(-1 297.5 860.8)" fill="#ecdce8" fill-opacity="0.55"/><ellipse cx="247.9" cy="822.0" rx="1.49" ry="1.11" transform="rotate(-20 247.9 822.0)" fill="#ecdce8" fill-opacity="0.55"/><ellipse cx="248.9" cy="841.7" rx="1.85" ry="1.39" transform="rotate(64 248.9 841.7)" fill="#ecdce8" fill-opacity="0.55"/><ellipse cx="275.0" cy="843.0" rx="1.81" ry="1.36" transform="rotate(-8 275.0 843.0)" fill="#ecdce8" fill-opacity="0.55"/><ellipse cx="261.4" cy="845.4" rx="1.94" ry="1.45" transform="rotate(-33 261.4 845.4)" fill="#ecdce8" fill-opacity="0.55"/><ellipse cx="286.2" cy="820.3" rx="1.54" ry="1.16" transform="rotate(26 286.2 820.3)" fill="#ecdce8" fill-opacity="0.55"/><ellipse cx="256.8" cy="834.3" rx="1.68" ry="1.26" transform="rotate(77 256.8 834.3)" fill="#ecdce8" fill-opacity="0.55"/><ellipse cx="256.1" cy="847.1" rx="1.66" ry="1.25" transform="rotate(47 256.1 847.1)" fill="#ecdce8" fill-opacity="0.55"/><ellipse cx="274.5" cy="860.3" rx="1.32" ry="0.99" transform="rotate(46 274.5 860.3)" fill="#ecdce8" fill-opacity="0.55"/><ellipse cx="260.5" cy="824.1" rx="1.33" ry="1.00" transform="rotate(-30 260.5 824.1)" fill="#ecdce8" fill-opacity="0.55"/><ellipse cx="303.4" cy="850.5" rx="1.74" ry="1.30" transform="rotate(-20 303.4 850.5)" fill="#ecdce8" fill-opacity="0.55"/><ellipse cx="279.9" cy="816.0" rx="2.07" ry="1.55" transform="rotate(-18 279.9 816.0)" fill="#ecdce8" fill-opacity="0.55"/><ellipse cx="273.1" cy="863.6" rx="1.34" ry="1.01" transform="rotate(10 273.1 863.6)" fill="#ecdce8" fill-opacity="0.55"/><ellipse cx="268.9" cy="824.4" rx="1.30" ry="0.97" transform="rotate(-47 268.9 824.4)" fill="#ecdce8" fill-opacity="0.55"/><ellipse cx="287.0" cy="856.7" rx="1.16" ry="0.87" transform="rotate(-39 287.0 856.7)" fill="#ecdce8" fill-opacity="0.55"/><ellipse cx="268.8" cy="816.9" rx="1.43" ry="1.07" transform="rotate(62 268.8 816.9)" fill="#ecdce8" fill-opacity="0.55"/><ellipse cx="261.3" cy="824.5" rx="1.80" ry="1.35" transform="rotate(73 261.3 824.5)" fill="#ecdce8" fill-opacity="0.55"/><ellipse cx="293.0" cy="847.2" rx="1.19" ry="0.89" transform="rotate(50 293.0 847.2)" fill="#ecdce8" fill-opacity="0.55"/><ellipse cx="247.2" cy="832.2" rx="1.87" ry="1.41" transform="rotate(-75 247.2 832.2)" fill="#ecdce8" fill-opacity="0.55"/><ellipse cx="250.5" cy="824.4" rx="1.97" ry="1.48" transform="rotate(-54 250.5 824.4)" fill="#ecdce8" fill-opacity="0.55"/><ellipse cx="281.6" cy="845.1" rx="1.82" ry="1.37" transform="rotate(15 281.6 845.1)" fill="#ecdce8" fill-opacity="0.55"/><ellipse cx="247.9" cy="824.3" rx="1.20" ry="0.90" transform="rotate(85 247.9 824.3)" fill="#ecdce8" fill-opacity="0.55"/><ellipse cx="281.5" cy="822.7" rx="1.22" ry="0.91" transform="rotate(-77 281.5 822.7)" fill="#ecdce8" fill-opacity="0.55"/><ellipse cx="275.8" cy="845.1" rx="1.54" ry="1.16" transform="rotate(-20 275.8 845.1)" fill="#ecdce8" fill-opacity="0.55"/><ellipse cx="293.9" cy="826.3" rx="1.20" ry="0.90" transform="rotate(36 293.9 826.3)" fill="#ecdce8" fill-opacity="0.55"/><ellipse cx="286.0" cy="825.1" rx="1.54" ry="1.16" transform="rotate(82 286.0 825.1)" fill="#ecdce8" fill-opacity="0.55"/><ellipse cx="300.0" cy="862.3" rx="1.56" ry="1.17" transform="rotate(37 300.0 862.3)" fill="#ecdce8" fill-opacity="0.55"/><ellipse cx="261.1" cy="822.9" rx="1.99" ry="1.49" transform="rotate(-45 261.1 822.9)" fill="#ecdce8" fill-opacity="0.55"/><ellipse cx="278.5" cy="820.0" rx="1.89" ry="1.42" transform="rotate(67 278.5 820.0)" fill="#ecdce8" fill-opacity="0.55"/><ellipse cx="302.0" cy="844.3" rx="1.84" ry="1.38" transform="rotate(-78 302.0 844.3)" fill="#ecdce8" fill-opacity="0.55"/><ellipse cx="247.1" cy="857.3" rx="1.29" ry="0.97" transform="rotate(78 247.1 857.3)" fill="#ecdce8" fill-opacity="0.55"/><ellipse cx="259.7" cy="816.3" rx="1.55" ry="1.17" transform="rotate(-56 259.7 816.3)" fill="#ecdce8" fill-opacity="0.55"/><ellipse cx="275.7" cy="860.2" rx="1.98" ry="1.49" transform="rotate(-84 275.7 860.2)" fill="#ecdce8" fill-opacity="0.55"/><ellipse cx="301.8" cy="851.1" rx="1.73" ry="1.30" transform="rotate(26 301.8 851.1)" fill="#ecdce8" fill-opacity="0.55"/><ellipse cx="249.7" cy="839.7" rx="1.90" ry="1.42" transform="rotate(34 249.7 839.7)" fill="#ecdce8" fill-opacity="0.55"/><ellipse cx="292.3" cy="838.8" rx="1.76" ry="1.32" transform="rotate(-44 292.3 838.8)" fill="#ecdce8" fill-opacity="0.55"/><ellipse cx="290.1" cy="862.2" rx="1.44" ry="1.08" transform="rotate(1 290.1 862.2)" fill="#ecdce8" fill-opacity="0.55"/><ellipse cx="245.8" cy="825.6" rx="1.57" ry="1.18" transform="rotate(-7 245.8 825.6)" fill="#ecdce8" fill-opacity="0.55"/><ellipse cx="293.6" cy="842.3" rx="1.75" ry="1.31" transform="rotate(89 293.6 842.3)" fill="#ecdce8" fill-opacity="0.55"/><ellipse cx="294.7" cy="859.4" rx="1.30" ry="0.98" transform="rotate(86 294.7 859.4)" fill="#ecdce8" fill-opacity="0.55"/><ellipse cx="261.9" cy="829.5" rx="2.03" ry="1.52" transform="rotate(13 261.9 829.5)" fill="#ecdce8" fill-opacity="0.55"/><ellipse cx="305.8" cy="829.0" rx="1.94" ry="1.46" transform="rotate(-87 305.8 829.0)" fill="#ecdce8" fill-opacity="0.55"/><ellipse cx="259.6" cy="856.1" rx="1.33" ry="0.99" transform="rotate(15 259.6 856.1)" fill="#ecdce8" fill-opacity="0.55"/><ellipse cx="260.0" cy="855.0" rx="1.79" ry="1.35" transform="rotate(-18 260.0 855.0)" fill="#ecdce8" fill-opacity="0.55"/><ellipse cx="297.8" cy="840.8" rx="1.57" ry="1.18" transform="rotate(72 297.8 840.8)" fill="#ecdce8" fill-opacity="0.55"/><ellipse cx="268.8" cy="818.2" rx="1.22" ry="0.92" transform="rotate(38 268.8 818.2)" fill="#ecdce8" fill-opacity="0.55"/><ellipse cx="280.2" cy="857.3" rx="1.91" ry="1.44" transform="rotate(84 280.2 857.3)" fill="#ecdce8" fill-opacity="0.55"/><ellipse cx="263.2" cy="861.1" rx="1.68" ry="1.26" transform="rotate(-79 263.2 861.1)" fill="#ecdce8" fill-opacity="0.55"/><ellipse cx="265.0" cy="845.4" rx="1.21" ry="0.91" transform="rotate(1 265.0 845.4)" fill="#ecdce8" fill-opacity="0.55"/><ellipse cx="254.7" cy="850.3" rx="1.35" ry="1.01" transform="rotate(-18 254.7 850.3)" fill="#ecdce8" fill-opacity="0.55"/><ellipse cx="275.7" cy="837.8" rx="1.72" ry="1.29" transform="rotate(-18 275.7 837.8)" fill="#ecdce8" fill-opacity="0.55"/><ellipse cx="253.7" cy="861.5" rx="1.97" ry="1.47" transform="rotate(-6 253.7 861.5)" fill="#ecdce8" fill-opacity="0.55"/><ellipse cx="285.7" cy="850.1" rx="1.27" ry="0.95" transform="rotate(35 285.7 850.1)" fill="#ecdce8" fill-opacity="0.55"/><ellipse cx="250.0" cy="841.4" rx="2.02" ry="1.52" transform="rotate(-87 250.0 841.4)" fill="#ecdce8" fill-opacity="0.55"/><ellipse cx="290.9" cy="819.2" rx="1.94" ry="1.46" transform="rotate(48 290.9 819.2)" fill="#ecdce8" fill-opacity="0.55"/><ellipse cx="245.7" cy="858.5" rx="1.85" ry="1.39" transform="rotate(-75 245.7 858.5)" fill="#ecdce8" fill-opacity="0.55"/><ellipse cx="276.7" cy="852.8" rx="1.28" ry="0.96" transform="rotate(24 276.7 852.8)" fill="#ecdce8" fill-opacity="0.55"/><ellipse cx="279.0" cy="823.1" rx="1.93" ry="1.45" transform="rotate(-23 279.0 823.1)" fill="#ecdce8" fill-opacity="0.55"/><ellipse cx="304.0" cy="827.9" rx="2.07" ry="1.55" transform="rotate(-37 304.0 827.9)" fill="#ecdce8" fill-opacity="0.55"/><ellipse cx="274.7" cy="854.6" rx="1.55" ry="1.16" transform="rotate(-2 274.7 854.6)" fill="#ecdce8" fill-opacity="0.55"/><ellipse cx="300.0" cy="845.2" rx="1.41" ry="1.06" transform="rotate(-0 300.0 845.2)" fill="#ecdce8" fill-opacity="0.55"/><ellipse cx="267.2" cy="855.1" rx="1.56" ry="1.17" transform="rotate(63 267.2 855.1)" fill="#ecdce8" fill-opacity="0.55"/><ellipse cx="292.9" cy="847.2" rx="2.00" ry="1.50" transform="rotate(48 292.9 847.2)" fill="#ecdce8" fill-opacity="0.55"/><ellipse cx="273.9" cy="843.1" rx="1.73" ry="1.30" transform="rotate(76 273.9 843.1)" fill="#ecdce8" fill-opacity="0.55"/><ellipse cx="296.6" cy="859.3" rx="1.71" ry="1.29" transform="rotate(-7 296.6 859.3)" fill="#ecdce8" fill-opacity="0.55"/><ellipse cx="283.6" cy="837.0" rx="1.45" ry="1.09" transform="rotate(-10 283.6 837.0)" fill="#ecdce8" fill-opacity="0.55"/><ellipse cx="250.6" cy="847.4" rx="1.56" ry="1.17" transform="rotate(22 250.6 847.4)" fill="#ecdce8" fill-opacity="0.55"/><ellipse cx="252.3" cy="818.8" rx="1.69" ry="1.27" transform="rotate(81 252.3 818.8)" fill="#ecdce8" fill-opacity="0.55"/><ellipse cx="282.3" cy="829.4" rx="1.40" ry="1.05" transform="rotate(11 282.3 829.4)" fill="#ecdce8" fill-opacity="0.55"/><ellipse cx="279.5" cy="820.4" rx="1.79" ry="1.34" transform="rotate(-19 279.5 820.4)" fill="#ecdce8" fill-opacity="0.55"/><ellipse cx="279.4" cy="815.9" rx="1.63" ry="1.22" transform="rotate(-86 279.4 815.9)" fill="#ecdce8" fill-opacity="0.55"/><ellipse cx="254.9" cy="838.5" rx="1.29" ry="0.97" transform="rotate(-35 254.9 838.5)" fill="#ecdce8" fill-opacity="0.55"/><ellipse cx="299.6" cy="856.1" rx="1.55" ry="1.16" transform="rotate(5 299.6 856.1)" fill="#ecdce8" fill-opacity="0.55"/><ellipse cx="300.2" cy="863.8" rx="1.22" ry="0.91" transform="rotate(-61 300.2 863.8)" fill="#ecdce8" fill-opacity="0.55"/><ellipse cx="256.2" cy="849.7" rx="1.64" ry="1.23" transform="rotate(26 256.2 849.7)" fill="#ecdce8" fill-opacity="0.55"/><ellipse cx="275.6" cy="824.9" rx="1.34" ry="1.01" transform="rotate(73 275.6 824.9)" fill="#ecdce8" fill-opacity="0.55"/><ellipse cx="282.9" cy="835.7" rx="1.65" ry="1.24" transform="rotate(-25 282.9 835.7)" fill="#ecdce8" fill-opacity="0.55"/><ellipse cx="277.2" cy="833.8" rx="1.32" ry="0.99" transform="rotate(-74 277.2 833.8)" fill="#ecdce8" fill-opacity="0.55"/><ellipse cx="283.1" cy="827.9" rx="1.84" ry="1.38" transform="rotate(-49 283.1 827.9)" fill="#ecdce8" fill-opacity="0.55"/><ellipse cx="291.1" cy="863.1" rx="1.77" ry="1.33" transform="rotate(-71 291.1 863.1)" fill="#ecdce8" fill-opacity="0.55"/><ellipse cx="306.9" cy="818.7" rx="1.59" ry="1.19" transform="rotate(-14 306.9 818.7)" fill="#ecdce8" fill-opacity="0.55"/><ellipse cx="267.6" cy="860.1" rx="1.15" ry="0.86" transform="rotate(66 267.6 860.1)" fill="#ecdce8" fill-opacity="0.55"/><ellipse cx="278.7" cy="855.0" rx="1.94" ry="1.45" transform="rotate(-22 278.7 855.0)" fill="#ecdce8" fill-opacity="0.55"/><ellipse cx="246.8" cy="832.0" rx="1.51" ry="1.13" transform="rotate(-51 246.8 832.0)" fill="#ecdce8" fill-opacity="0.55"/><ellipse cx="245.8" cy="820.9" rx="1.99" ry="1.49" transform="rotate(-16 245.8 820.9)" fill="#ecdce8" fill-opacity="0.55"/><ellipse cx="308.9" cy="855.0" rx="1.13" ry="0.85" transform="rotate(-25 308.9 855.0)" fill="#ecdce8" fill-opacity="0.55"/><ellipse cx="262.1" cy="850.6" rx="1.32" ry="0.99" transform="rotate(-36 262.1 850.6)" fill="#ecdce8" fill-opacity="0.55"/><ellipse cx="287.4" cy="830.2" rx="2.03" ry="1.52" transform="rotate(50 287.4 830.2)" fill="#ecdce8" fill-opacity="0.55"/><ellipse cx="246.5" cy="827.5" rx="1.43" ry="1.08" transform="rotate(84 246.5 827.5)" fill="#ecdce8" fill-opacity="0.55"/><ellipse cx="279.1" cy="834.9" rx="1.23" ry="0.92" transform="rotate(-16 279.1 834.9)" fill="#ecdce8" fill-opacity="0.55"/><ellipse cx="251.9" cy="838.3" rx="1.63" ry="1.23" transform="rotate(-56 251.9 838.3)" fill="#ecdce8" fill-opacity="0.55"/><ellipse cx="279.1" cy="824.9" rx="2.04" ry="1.53" transform="rotate(-2 279.1 824.9)" fill="#ecdce8" fill-opacity="0.55"/><ellipse cx="286.6" cy="835.1" rx="1.73" ry="1.29" transform="rotate(60 286.6 835.1)" fill="#ecdce8" fill-opacity="0.55"/><ellipse cx="246.6" cy="843.8" rx="1.88" ry="1.41" transform="rotate(54 246.6 843.8)" fill="#ecdce8" fill-opacity="0.55"/><ellipse cx="298.9" cy="835.2" rx="1.83" ry="1.38" transform="rotate(45 298.9 835.2)" fill="#ecdce8" fill-opacity="0.55"/><ellipse cx="259.8" cy="846.9" rx="1.60" ry="1.20" transform="rotate(-57 259.8 846.9)" fill="#ecdce8" fill-opacity="0.55"/><ellipse cx="282.8" cy="839.0" rx="1.97" ry="1.47" transform="rotate(1 282.8 839.0)" fill="#ecdce8" fill-opacity="0.55"/><ellipse cx="255.1" cy="857.9" rx="1.49" ry="1.11" transform="rotate(54 255.1 857.9)" fill="#ecdce8" fill-opacity="0.55"/><ellipse cx="254.4" cy="823.3" rx="1.53" ry="1.15" transform="rotate(-50 254.4 823.3)" fill="#ecdce8" fill-opacity="0.55"/><ellipse cx="305.6" cy="855.3" rx="1.21" ry="0.91" transform="rotate(-26 305.6 855.3)" fill="#ecdce8" fill-opacity="0.55"/><ellipse cx="263.0" cy="823.7" rx="1.78" ry="1.30" transform="rotate(46 263.0 823.7)" fill="#bb8196" fill-opacity="0.4"/><ellipse cx="292.1" cy="858.7" rx="1.40" ry="1.03" transform="rotate(-47 292.1 858.7)" fill="#bb8196" fill-opacity="0.4"/><ellipse cx="268.5" cy="855.9" rx="1.84" ry="1.35" transform="rotate(2 268.5 855.9)" fill="#bb8196" fill-opacity="0.4"/><ellipse cx="279.3" cy="846.7" rx="1.62" ry="1.19" transform="rotate(12 279.3 846.7)" fill="#bb8196" fill-opacity="0.4"/><ellipse cx="283.1" cy="835.8" rx="1.84" ry="1.35" transform="rotate(82 283.1 835.8)" fill="#bb8196" fill-opacity="0.4"/><ellipse cx="265.6" cy="835.5" rx="1.23" ry="0.90" transform="rotate(-42 265.6 835.5)" fill="#bb8196" fill-opacity="0.4"/><ellipse cx="295.1" cy="858.7" rx="1.74" ry="1.28" transform="rotate(-67 295.1 858.7)" fill="#bb8196" fill-opacity="0.4"/><ellipse cx="259.3" cy="845.2" rx="1.75" ry="1.28" transform="rotate(26 259.3 845.2)" fill="#bb8196" fill-opacity="0.4"/><ellipse cx="264.3" cy="825.8" rx="1.13" ry="0.83" transform="rotate(-16 264.3 825.8)" fill="#bb8196" fill-opacity="0.4"/><ellipse cx="276.1" cy="852.5" rx="1.39" ry="1.02" transform="rotate(75 276.1 852.5)" fill="#bb8196" fill-opacity="0.4"/><ellipse cx="296.8" cy="827.9" rx="1.34" ry="0.98" transform="rotate(-54 296.8 827.9)" fill="#bb8196" fill-opacity="0.4"/><ellipse cx="266.4" cy="826.7" rx="1.52" ry="1.12" transform="rotate(34 266.4 826.7)" fill="#bb8196" fill-opacity="0.4"/><ellipse cx="304.7" cy="838.9" rx="1.77" ry="1.30" transform="rotate(38 304.7 838.9)" fill="#bb8196" fill-opacity="0.4"/><ellipse cx="295.2" cy="833.0" rx="1.91" ry="1.40" transform="rotate(-34 295.2 833.0)" fill="#bb8196" fill-opacity="0.4"/><ellipse cx="275.7" cy="847.3" rx="1.48" ry="1.08" transform="rotate(-74 275.7 847.3)" fill="#bb8196" fill-opacity="0.4"/><ellipse cx="289.6" cy="831.1" rx="1.40" ry="1.03" transform="rotate(37 289.6 831.1)" fill="#bb8196" fill-opacity="0.4"/><ellipse cx="268.0" cy="833.3" rx="1.17" ry="0.86" transform="rotate(43 268.0 833.3)" fill="#bb8196" fill-opacity="0.4"/><ellipse cx="263.8" cy="839.9" rx="1.81" ry="1.33" transform="rotate(-24 263.8 839.9)" fill="#bb8196" fill-opacity="0.4"/><ellipse cx="275.7" cy="850.5" rx="1.60" ry="1.17" transform="rotate(1 275.7 850.5)" fill="#bb8196" fill-opacity="0.4"/><ellipse cx="269.0" cy="818.7" rx="1.53" ry="1.12" transform="rotate(-14 269.0 818.7)" fill="#bb8196" fill-opacity="0.4"/><ellipse cx="308.3" cy="857.6" rx="1.32" ry="0.97" transform="rotate(-78 308.3 857.6)" fill="#bb8196" fill-opacity="0.4"/><ellipse cx="263.9" cy="849.6" rx="1.63" ry="1.19" transform="rotate(74 263.9 849.6)" fill="#bb8196" fill-opacity="0.4"/><ellipse cx="302.4" cy="830.7" rx="1.51" ry="1.11" transform="rotate(78 302.4 830.7)" fill="#bb8196" fill-opacity="0.4"/><ellipse cx="292.3" cy="824.6" rx="1.17" ry="0.86" transform="rotate(59 292.3 824.6)" fill="#bb8196" fill-opacity="0.4"/><ellipse cx="262.7" cy="845.8" rx="1.35" ry="0.99" transform="rotate(-13 262.7 845.8)" fill="#bb8196" fill-opacity="0.4"/><ellipse cx="307.3" cy="823.7" rx="1.68" ry="1.23" transform="rotate(-82 307.3 823.7)" fill="#bb8196" fill-opacity="0.4"/><ellipse cx="270.2" cy="831.9" rx="1.08" ry="0.79" transform="rotate(69 270.2 831.9)" fill="#bb8196" fill-opacity="0.4"/><ellipse cx="274.8" cy="817.7" rx="1.37" ry="1.01" transform="rotate(-36 274.8 817.7)" fill="#bb8196" fill-opacity="0.4"/><ellipse cx="255.4" cy="859.1" rx="1.42" ry="1.04" transform="rotate(80 255.4 859.1)" fill="#bb8196" fill-opacity="0.4"/><ellipse cx="276.2" cy="815.6" rx="1.66" ry="1.22" transform="rotate(-14 276.2 815.6)" fill="#bb8196" fill-opacity="0.4"/><ellipse cx="255.2" cy="826.3" rx="1.94" ry="1.42" transform="rotate(-43 255.2 826.3)" fill="#bb8196" fill-opacity="0.4"/><ellipse cx="288.7" cy="824.5" rx="1.10" ry="0.81" transform="rotate(-87 288.7 824.5)" fill="#bb8196" fill-opacity="0.4"/><ellipse cx="295.6" cy="835.3" rx="1.08" ry="0.80" transform="rotate(66 295.6 835.3)" fill="#bb8196" fill-opacity="0.4"/><ellipse cx="302.3" cy="840.3" rx="1.32" ry="0.97" transform="rotate(74 302.3 840.3)" fill="#bb8196" fill-opacity="0.4"/><ellipse cx="263.6" cy="825.8" rx="1.52" ry="1.11" transform="rotate(41 263.6 825.8)" fill="#bb8196" fill-opacity="0.4"/><ellipse cx="249.2" cy="819.1" rx="1.50" ry="1.10" transform="rotate(-66 249.2 819.1)" fill="#bb8196" fill-opacity="0.4"/><ellipse cx="271.7" cy="852.7" rx="1.79" ry="1.31" transform="rotate(16 271.7 852.7)" fill="#bb8196" fill-opacity="0.4"/><ellipse cx="288.6" cy="820.9" rx="1.62" ry="1.19" transform="rotate(17 288.6 820.9)" fill="#bb8196" fill-opacity="0.4"/><ellipse cx="293.3" cy="816.2" rx="1.80" ry="1.32" transform="rotate(-6 293.3 816.2)" fill="#bb8196" fill-opacity="0.4"/><ellipse cx="256.7" cy="861.0" rx="1.36" ry="1.00" transform="rotate(-55 256.7 861.0)" fill="#bb8196" fill-opacity="0.4"/><ellipse cx="291.5" cy="827.7" rx="1.32" ry="0.97" transform="rotate(24 291.5 827.7)" fill="#bb8196" fill-opacity="0.4"/><ellipse cx="248.8" cy="836.4" rx="1.92" ry="1.41" transform="rotate(-19 248.8 836.4)" fill="#bb8196" fill-opacity="0.4"/><ellipse cx="293.9" cy="839.4" rx="1.41" ry="1.04" transform="rotate(-74 293.9 839.4)" fill="#bb8196" fill-opacity="0.4"/><ellipse cx="253.3" cy="837.7" rx="1.23" ry="0.90" transform="rotate(-43 253.3 837.7)" fill="#bb8196" fill-opacity="0.4"/><ellipse cx="264.9" cy="839.0" rx="1.84" ry="1.35" transform="rotate(84 264.9 839.0)" fill="#bb8196" fill-opacity="0.4"/><ellipse cx="278.7" cy="822.1" rx="1.90" ry="1.40" transform="rotate(17 278.7 822.1)" fill="#bb8196" fill-opacity="0.4"/><ellipse cx="271.5" cy="831.5" rx="1.65" ry="1.21" transform="rotate(43 271.5 831.5)" fill="#bb8196" fill-opacity="0.4"/><ellipse cx="291.7" cy="848.9" rx="1.10" ry="0.81" transform="rotate(-82 291.7 848.9)" fill="#bb8196" fill-opacity="0.4"/><ellipse cx="247.4" cy="826.1" rx="1.32" ry="0.97" transform="rotate(-12 247.4 826.1)" fill="#bb8196" fill-opacity="0.4"/><ellipse cx="286.6" cy="826.1" rx="1.53" ry="1.12" transform="rotate(62 286.6 826.1)" fill="#bb8196" fill-opacity="0.4"/><ellipse cx="249.4" cy="841.9" rx="0.69" ry="0.61" transform="rotate(36 249.4 841.9)" fill="#94698e" fill-opacity="0.5"/><ellipse cx="262.0" cy="850.8" rx="0.94" ry="0.83" transform="rotate(-71 262.0 850.8)" fill="#94698e" fill-opacity="0.5"/><ellipse cx="293.9" cy="841.1" rx="1.08" ry="0.96" transform="rotate(-46 293.9 841.1)" fill="#94698e" fill-opacity="0.5"/><ellipse cx="259.6" cy="828.6" rx="1.03" ry="0.92" transform="rotate(-1 259.6 828.6)" fill="#94698e" fill-opacity="0.5"/><ellipse cx="267.5" cy="840.1" rx="0.74" ry="0.66" transform="rotate(-40 267.5 840.1)" fill="#94698e" fill-opacity="0.5"/><ellipse cx="255.0" cy="840.0" rx="0.85" ry="0.76" transform="rotate(79 255.0 840.0)" fill="#94698e" fill-opacity="0.5"/><ellipse cx="255.6" cy="860.1" rx="0.79" ry="0.70" transform="rotate(-68 255.6 860.1)" fill="#94698e" fill-opacity="0.5"/><ellipse cx="253.7" cy="831.7" rx="0.96" ry="0.85" transform="rotate(-34 253.7 831.7)" fill="#94698e" fill-opacity="0.5"/><ellipse cx="270.2" cy="822.2" rx="0.74" ry="0.66" transform="rotate(-10 270.2 822.2)" fill="#94698e" fill-opacity="0.5"/><ellipse cx="274.1" cy="851.3" rx="0.92" ry="0.82" transform="rotate(44 274.1 851.3)" fill="#94698e" fill-opacity="0.5"/><ellipse cx="255.0" cy="825.2" rx="0.96" ry="0.85" transform="rotate(-69 255.0 825.2)" fill="#94698e" fill-opacity="0.5"/><ellipse cx="259.9" cy="824.4" rx="0.89" ry="0.79" transform="rotate(-3 259.9 824.4)" fill="#94698e" fill-opacity="0.5"/><ellipse cx="284.9" cy="848.7" rx="0.89" ry="0.79" transform="rotate(37 284.9 848.7)" fill="#94698e" fill-opacity="0.5"/><ellipse cx="272.8" cy="855.8" rx="1.03" ry="0.91" transform="rotate(33 272.8 855.8)" fill="#94698e" fill-opacity="0.5"/><ellipse cx="254.9" cy="837.0" rx="0.71" ry="0.63" transform="rotate(-12 254.9 837.0)" fill="#94698e" fill-opacity="0.5"/><ellipse cx="277.5" cy="848.0" rx="0.69" ry="0.61" transform="rotate(28 277.5 848.0)" fill="#94698e" fill-opacity="0.5"/><ellipse cx="280.7" cy="819.0" rx="0.74" ry="0.66" transform="rotate(37 280.7 819.0)" fill="#94698e" fill-opacity="0.5"/><ellipse cx="272.8" cy="859.0" rx="0.85" ry="0.76" transform="rotate(60 272.8 859.0)" fill="#94698e" fill-opacity="0.5"/><ellipse cx="257.7" cy="851.8" rx="1.10" ry="0.98" transform="rotate(31 257.7 851.8)" fill="#94698e" fill-opacity="0.5"/><ellipse cx="260.8" cy="843.9" rx="0.75" ry="0.67" transform="rotate(2 260.8 843.9)" fill="#94698e" fill-opacity="0.5"/><ellipse cx="277.7" cy="846.5" rx="0.71" ry="0.63" transform="rotate(74 277.7 846.5)" fill="#94698e" fill-opacity="0.5"/><ellipse cx="308.6" cy="820.7" rx="0.76" ry="0.67" transform="rotate(-85 308.6 820.7)" fill="#94698e" fill-opacity="0.5"/><ellipse cx="256.1" cy="853.3" rx="0.99" ry="0.88" transform="rotate(-47 256.1 853.3)" fill="#94698e" fill-opacity="0.5"/><ellipse cx="308.2" cy="845.2" rx="0.69" ry="0.62" transform="rotate(29 308.2 845.2)" fill="#94698e" fill-opacity="0.5"/><ellipse cx="249.9" cy="860.7" rx="0.99" ry="0.88" transform="rotate(16 249.9 860.7)" fill="#94698e" fill-opacity="0.5"/><ellipse cx="305.2" cy="845.2" rx="1.07" ry="0.95" transform="rotate(11 305.2 845.2)" fill="#94698e" fill-opacity="0.5"/><ellipse cx="279.6" cy="822.6" rx="0.94" ry="0.84" transform="rotate(-64 279.6 822.6)" fill="#94698e" fill-opacity="0.5"/><ellipse cx="263.8" cy="841.7" rx="0.91" ry="0.81" transform="rotate(-40 263.8 841.7)" fill="#94698e" fill-opacity="0.5"/><ellipse cx="272.9" cy="846.6" rx="0.81" ry="0.72" transform="rotate(-77 272.9 846.6)" fill="#94698e" fill-opacity="0.5"/><ellipse cx="304.7" cy="849.2" rx="0.88" ry="0.78" transform="rotate(-61 304.7 849.2)" fill="#94698e" fill-opacity="0.5"/><ellipse cx="279.5" cy="816.8" rx="0.90" ry="0.80" transform="rotate(-28 279.5 816.8)" fill="#94698e" fill-opacity="0.5"/><ellipse cx="306.5" cy="857.2" rx="0.89" ry="0.80" transform="rotate(69 306.5 857.2)" fill="#94698e" fill-opacity="0.5"/><ellipse cx="296.1" cy="838.7" rx="0.98" ry="0.87" transform="rotate(-59 296.1 838.7)" fill="#94698e" fill-opacity="0.5"/><ellipse cx="280.5" cy="859.1" rx="0.73" ry="0.65" transform="rotate(61 280.5 859.1)" fill="#94698e" fill-opacity="0.5"/><ellipse cx="302.6" cy="853.0" rx="0.91" ry="0.81" transform="rotate(55 302.6 853.0)" fill="#94698e" fill-opacity="0.5"/><ellipse cx="285.6" cy="828.6" rx="0.72" ry="0.64" transform="rotate(-42 285.6 828.6)" fill="#94698e" fill-opacity="0.5"/><ellipse cx="288.6" cy="821.9" rx="0.90" ry="0.80" transform="rotate(42 288.6 821.9)" fill="#94698e" fill-opacity="0.5"/><ellipse cx="245.6" cy="851.6" rx="1.06" ry="0.94" transform="rotate(26 245.6 851.6)" fill="#94698e" fill-opacity="0.5"/><ellipse cx="262.0" cy="857.1" rx="0.87" ry="0.77" transform="rotate(72 262.0 857.1)" fill="#94698e" fill-opacity="0.5"/><ellipse cx="245.6" cy="822.5" rx="0.85" ry="0.75" transform="rotate(-12 245.6 822.5)" fill="#94698e" fill-opacity="0.5"/><ellipse cx="273.9" cy="845.0" rx="1.06" ry="0.95" transform="rotate(-59 273.9 845.0)" fill="#94698e" fill-opacity="0.5"/><ellipse cx="278.0" cy="834.0" rx="0.76" ry="0.68" transform="rotate(38 278.0 834.0)" fill="#94698e" fill-opacity="0.5"/><ellipse cx="304.2" cy="850.5" rx="1.06" ry="0.94" transform="rotate(-54 304.2 850.5)" fill="#94698e" fill-opacity="0.5"/><ellipse cx="273.4" cy="838.6" rx="0.76" ry="0.67" transform="rotate(39 273.4 838.6)" fill="#94698e" fill-opacity="0.5"/><ellipse cx="301.7" cy="837.7" rx="0.93" ry="0.82" transform="rotate(78 301.7 837.7)" fill="#94698e" fill-opacity="0.5"/><ellipse cx="304.1" cy="822.9" rx="0.76" ry="0.67" transform="rotate(56 304.1 822.9)" fill="#94698e" fill-opacity="0.5"/><ellipse cx="245.7" cy="859.2" rx="0.98" ry="0.87" transform="rotate(28 245.7 859.2)" fill="#94698e" fill-opacity="0.5"/><ellipse cx="292.9" cy="817.8" rx="1.10" ry="0.98" transform="rotate(-21 292.9 817.8)" fill="#94698e" fill-opacity="0.5"/><ellipse cx="246.9" cy="822.4" rx="0.78" ry="0.69" transform="rotate(-34 246.9 822.4)" fill="#94698e" fill-opacity="0.5"/><ellipse cx="283.3" cy="838.1" rx="1.07" ry="0.95" transform="rotate(71 283.3 838.1)" fill="#94698e" fill-opacity="0.5"/><ellipse cx="249.1" cy="829.8" rx="0.75" ry="0.67" transform="rotate(-40 249.1 829.8)" fill="#94698e" fill-opacity="0.5"/><ellipse cx="294.3" cy="819.9" rx="0.98" ry="0.87" transform="rotate(-19 294.3 819.9)" fill="#94698e" fill-opacity="0.5"/><ellipse cx="247.5" cy="828.9" rx="0.73" ry="0.65" transform="rotate(62 247.5 828.9)" fill="#94698e" fill-opacity="0.5"/><ellipse cx="259.0" cy="846.7" rx="1.10" ry="0.97" transform="rotate(-42 259.0 846.7)" fill="#94698e" fill-opacity="0.5"/><ellipse cx="280.2" cy="825.1" rx="0.73" ry="0.65" transform="rotate(-25 280.2 825.1)" fill="#94698e" fill-opacity="0.5"/><ellipse cx="260.3" cy="854.6" rx="0.96" ry="0.86" transform="rotate(32 260.3 854.6)" fill="#94698e" fill-opacity="0.5"/><ellipse cx="294.3" cy="840.7" rx="1.03" ry="0.92" transform="rotate(54 294.3 840.7)" fill="#94698e" fill-opacity="0.5"/><ellipse cx="286.6" cy="845.2" rx="0.68" ry="0.61" transform="rotate(38 286.6 845.2)" fill="#94698e" fill-opacity="0.5"/><ellipse cx="262.0" cy="844.0" rx="0.97" ry="0.86" transform="rotate(27 262.0 844.0)" fill="#94698e" fill-opacity="0.5"/><ellipse cx="298.6" cy="832.0" rx="0.85" ry="0.76" transform="rotate(13 298.6 832.0)" fill="#94698e" fill-opacity="0.5"/><ellipse cx="296.2" cy="860.0" rx="0.76" ry="0.68" transform="rotate(27 296.2 860.0)" fill="#94698e" fill-opacity="0.5"/><ellipse cx="285.0" cy="863.2" rx="0.85" ry="0.76" transform="rotate(7 285.0 863.2)" fill="#94698e" fill-opacity="0.5"/><ellipse cx="287.4" cy="857.0" rx="0.76" ry="0.67" transform="rotate(-42 287.4 857.0)" fill="#94698e" fill-opacity="0.5"/><ellipse cx="301.0" cy="831.9" rx="1.07" ry="0.95" transform="rotate(-37 301.0 831.9)" fill="#94698e" fill-opacity="0.5"/><ellipse cx="262.3" cy="857.1" rx="0.95" ry="0.84" transform="rotate(-58 262.3 857.1)" fill="#94698e" fill-opacity="0.5"/><ellipse cx="284.4" cy="838.3" rx="0.93" ry="0.82" transform="rotate(-53 284.4 838.3)" fill="#94698e" fill-opacity="0.5"/><ellipse cx="287.4" cy="835.5" rx="0.94" ry="0.83" transform="rotate(-37 287.4 835.5)" fill="#94698e" fill-opacity="0.5"/><ellipse cx="264.5" cy="848.9" rx="0.92" ry="0.82" transform="rotate(35 264.5 848.9)" fill="#94698e" fill-opacity="0.5"/><ellipse cx="278.7" cy="840.1" rx="0.69" ry="0.61" transform="rotate(-29 278.7 840.1)" fill="#94698e" fill-opacity="0.5"/><ellipse cx="278.8" cy="816.4" rx="0.94" ry="0.84" transform="rotate(-15 278.8 816.4)" fill="#94698e" fill-opacity="0.5"/><ellipse cx="267.1" cy="840.2" rx="0.83" ry="0.73" transform="rotate(-39 267.1 840.2)" fill="#94698e" fill-opacity="0.5"/><ellipse cx="287.7" cy="862.7" rx="0.90" ry="0.80" transform="rotate(-17 287.7 862.7)" fill="#94698e" fill-opacity="0.5"/><ellipse cx="276.5" cy="820.8" rx="0.98" ry="0.87" transform="rotate(-19 276.5 820.8)" fill="#94698e" fill-opacity="0.5"/><ellipse cx="292.3" cy="841.3" rx="0.97" ry="0.86" transform="rotate(-17 292.3 841.3)" fill="#94698e" fill-opacity="0.5"/><ellipse cx="300.6" cy="838.7" rx="0.73" ry="0.65" transform="rotate(-30 300.6 838.7)" fill="#94698e" fill-opacity="0.5"/><ellipse cx="256.8" cy="861.9" rx="1.02" ry="0.91" transform="rotate(-25 256.8 861.9)" fill="#94698e" fill-opacity="0.5"/><ellipse cx="281.3" cy="827.1" rx="1.06" ry="0.94" transform="rotate(14 281.3 827.1)" fill="#94698e" fill-opacity="0.5"/><ellipse cx="277.7" cy="816.6" rx="0.97" ry="0.87" transform="rotate(-65 277.7 816.6)" fill="#94698e" fill-opacity="0.5"/><ellipse cx="305.8" cy="847.1" rx="0.87" ry="0.77" transform="rotate(87 305.8 847.1)" fill="#94698e" fill-opacity="0.5"/><ellipse cx="273.6" cy="852.3" rx="1.11" ry="0.99" transform="rotate(-44 273.6 852.3)" fill="#94698e" fill-opacity="0.5"/><ellipse cx="254.3" cy="833.4" rx="0.82" ry="0.73" transform="rotate(-40 254.3 833.4)" fill="#94698e" fill-opacity="0.5"/><ellipse cx="262.6" cy="817.3" rx="0.91" ry="0.81" transform="rotate(-1 262.6 817.3)" fill="#94698e" fill-opacity="0.5"/><ellipse cx="306.5" cy="862.0" rx="0.94" ry="0.83" transform="rotate(34 306.5 862.0)" fill="#94698e" fill-opacity="0.5"/><ellipse cx="305.6" cy="855.2" rx="0.72" ry="0.64" transform="rotate(-41 305.6 855.2)" fill="#94698e" fill-opacity="0.5"/><ellipse cx="266.7" cy="852.7" rx="0.76" ry="0.68" transform="rotate(67 266.7 852.7)" fill="#94698e" fill-opacity="0.5"/><ellipse cx="288.0" cy="817.0" rx="0.91" ry="0.81" transform="rotate(17 288.0 817.0)" fill="#94698e" fill-opacity="0.5"/><ellipse cx="272.3" cy="825.6" rx="0.76" ry="0.67" transform="rotate(-77 272.3 825.6)" fill="#94698e" fill-opacity="0.5"/><ellipse cx="289.3" cy="858.6" rx="1.09" ry="0.97" transform="rotate(39 289.3 858.6)" fill="#94698e" fill-opacity="0.5"/><ellipse cx="296.3" cy="853.4" rx="0.80" ry="0.71" transform="rotate(-60 296.3 853.4)" fill="#94698e" fill-opacity="0.5"/><ellipse cx="253.1" cy="843.0" rx="0.81" ry="0.72" transform="rotate(48 253.1 843.0)" fill="#94698e" fill-opacity="0.5"/></g>
</g>
<rect x="244.60" y="815.40" width="64.90" height="48.60" fill="none" stroke="#9a9a9a" stroke-width="0.4"/>
<clipPath id="clipT7"><rect x="169.40" y="867.30" width="64.40" height="47.80"/></clipPath>
<g clip-path="url(#clipT7)">
<rect x="169.40" y="867.30" width="64.40" height="47.80" fill="#b99fb0"/>
<rect x="169.40" y="867.30" width="64.40" height="47.80" fill="#fff" filter="url(#nzL)"/>
<g filter="url(#b2)"><ellipse cx="207.7" cy="887.2" rx="1.88" ry="0.81" transform="rotate(-34 207.7 887.2)" fill="#9a5843" fill-opacity="0.6"/><ellipse cx="181.9" cy="888.8" rx="2.59" ry="1.11" transform="rotate(-50 181.9 888.8)" fill="#9a5843" fill-opacity="0.6"/><ellipse cx="173.8" cy="878.0" rx="2.19" ry="0.94" transform="rotate(-57 173.8 878.0)" fill="#9a5843" fill-opacity="0.6"/><ellipse cx="175.4" cy="872.7" rx="2.15" ry="0.92" transform="rotate(-27 175.4 872.7)" fill="#9a5843" fill-opacity="0.6"/><ellipse cx="211.5" cy="880.6" rx="2.19" ry="0.94" transform="rotate(-57 211.5 880.6)" fill="#9a5843" fill-opacity="0.6"/><ellipse cx="217.9" cy="893.8" rx="1.98" ry="0.85" transform="rotate(-45 217.9 893.8)" fill="#9a5843" fill-opacity="0.6"/><ellipse cx="188.9" cy="874.2" rx="2.42" ry="1.04" transform="rotate(-65 188.9 874.2)" fill="#9a5843" fill-opacity="0.6"/><ellipse cx="181.9" cy="910.4" rx="2.06" ry="0.88" transform="rotate(-35 181.9 910.4)" fill="#9a5843" fill-opacity="0.6"/><ellipse cx="212.4" cy="889.7" rx="1.62" ry="0.70" transform="rotate(-25 212.4 889.7)" fill="#9a5843" fill-opacity="0.6"/><ellipse cx="199.1" cy="876.8" rx="2.05" ry="0.88" transform="rotate(-68 199.1 876.8)" fill="#9a5843" fill-opacity="0.6"/><ellipse cx="232.4" cy="885.1" rx="2.17" ry="0.93" transform="rotate(-36 232.4 885.1)" fill="#9a5843" fill-opacity="0.6"/><ellipse cx="199.5" cy="914.8" rx="1.66" ry="0.71" transform="rotate(-35 199.5 914.8)" fill="#9a5843" fill-opacity="0.6"/><ellipse cx="224.6" cy="880.8" rx="2.04" ry="0.88" transform="rotate(-69 224.6 880.8)" fill="#9a5843" fill-opacity="0.6"/><ellipse cx="213.7" cy="872.9" rx="1.94" ry="0.83" transform="rotate(-47 213.7 872.9)" fill="#9a5843" fill-opacity="0.6"/><ellipse cx="217.6" cy="909.4" rx="1.65" ry="0.71" transform="rotate(-29 217.6 909.4)" fill="#9a5843" fill-opacity="0.6"/><ellipse cx="175.2" cy="904.5" rx="2.55" ry="1.09" transform="rotate(-43 175.2 904.5)" fill="#9a5843" fill-opacity="0.6"/><ellipse cx="231.1" cy="897.1" rx="2.47" ry="1.06" transform="rotate(-57 231.1 897.1)" fill="#9a5843" fill-opacity="0.6"/><ellipse cx="220.3" cy="894.5" rx="2.43" ry="1.04" transform="rotate(-72 220.3 894.5)" fill="#9a5843" fill-opacity="0.6"/><ellipse cx="213.4" cy="907.3" rx="2.21" ry="0.95" transform="rotate(-56 213.4 907.3)" fill="#9a5843" fill-opacity="0.6"/><ellipse cx="228.7" cy="896.8" rx="2.24" ry="0.96" transform="rotate(-44 228.7 896.8)" fill="#9a5843" fill-opacity="0.6"/><ellipse cx="219.7" cy="881.9" rx="1.54" ry="0.66" transform="rotate(-56 219.7 881.9)" fill="#9a5843" fill-opacity="0.6"/><ellipse cx="227.9" cy="909.7" rx="2.24" ry="0.96" transform="rotate(-51 227.9 909.7)" fill="#9a5843" fill-opacity="0.6"/><ellipse cx="207.5" cy="896.9" rx="1.59" ry="0.68" transform="rotate(-27 207.5 896.9)" fill="#9a5843" fill-opacity="0.6"/><ellipse cx="212.8" cy="869.8" rx="1.57" ry="0.67" transform="rotate(-27 212.8 869.8)" fill="#9a5843" fill-opacity="0.6"/><ellipse cx="208.3" cy="909.0" rx="2.03" ry="0.87" transform="rotate(-69 208.3 909.0)" fill="#9a5843" fill-opacity="0.6"/><ellipse cx="233.2" cy="881.0" rx="2.50" ry="1.07" transform="rotate(-25 233.2 881.0)" fill="#9a5843" fill-opacity="0.6"/><ellipse cx="178.7" cy="875.3" rx="1.49" ry="0.64" transform="rotate(-36 178.7 875.3)" fill="#9a5843" fill-opacity="0.6"/><ellipse cx="231.3" cy="903.7" rx="2.20" ry="0.94" transform="rotate(-37 231.3 903.7)" fill="#9a5843" fill-opacity="0.6"/><ellipse cx="213.6" cy="868.8" rx="1.80" ry="0.77" transform="rotate(-75 213.6 868.8)" fill="#9a5843" fill-opacity="0.6"/><ellipse cx="171.3" cy="894.7" rx="2.60" ry="1.12" transform="rotate(-48 171.3 894.7)" fill="#9a5843" fill-opacity="0.6"/><ellipse cx="195.0" cy="897.1" rx="2.21" ry="0.95" transform="rotate(-62 195.0 897.1)" fill="#9a5843" fill-opacity="0.6"/><ellipse cx="181.5" cy="876.1" rx="1.86" ry="0.80" transform="rotate(-27 181.5 876.1)" fill="#9a5843" fill-opacity="0.6"/><ellipse cx="202.7" cy="896.2" rx="2.29" ry="0.98" transform="rotate(-28 202.7 896.2)" fill="#9a5843" fill-opacity="0.6"/><ellipse cx="206.3" cy="897.9" rx="1.50" ry="0.64" transform="rotate(-52 206.3 897.9)" fill="#9a5843" fill-opacity="0.6"/><ellipse cx="211.8" cy="883.5" rx="2.03" ry="0.87" transform="rotate(-42 211.8 883.5)" fill="#9a5843" fill-opacity="0.6"/><ellipse cx="181.6" cy="913.8" rx="1.59" ry="0.68" transform="rotate(-50 181.6 913.8)" fill="#9a5843" fill-opacity="0.6"/><ellipse cx="223.8" cy="871.7" rx="1.62" ry="0.69" transform="rotate(-39 223.8 871.7)" fill="#9a5843" fill-opacity="0.6"/><ellipse cx="172.2" cy="880.7" rx="1.64" ry="0.70" transform="rotate(-26 172.2 880.7)" fill="#9a5843" fill-opacity="0.6"/><ellipse cx="203.1" cy="899.8" rx="1.53" ry="0.66" transform="rotate(-27 203.1 899.8)" fill="#9a5843" fill-opacity="0.6"/><ellipse cx="178.2" cy="905.7" rx="1.99" ry="0.85" transform="rotate(-66 178.2 905.7)" fill="#9a5843" fill-opacity="0.6"/><ellipse cx="225.7" cy="894.8" rx="1.73" ry="0.74" transform="rotate(-66 225.7 894.8)" fill="#9a5843" fill-opacity="0.6"/><ellipse cx="211.9" cy="873.7" rx="2.45" ry="1.05" transform="rotate(-33 211.9 873.7)" fill="#9a5843" fill-opacity="0.6"/><ellipse cx="219.6" cy="905.8" rx="1.97" ry="0.85" transform="rotate(-48 219.6 905.8)" fill="#9a5843" fill-opacity="0.6"/><ellipse cx="206.7" cy="892.7" rx="2.27" ry="0.97" transform="rotate(-43 206.7 892.7)" fill="#9a5843" fill-opacity="0.6"/><ellipse cx="170.3" cy="895.8" rx="2.61" ry="1.12" transform="rotate(-41 170.3 895.8)" fill="#9a5843" fill-opacity="0.6"/><ellipse cx="173.9" cy="910.7" rx="1.61" ry="0.69" transform="rotate(-28 173.9 910.7)" fill="#9a5843" fill-opacity="0.6"/><ellipse cx="196.9" cy="894.5" rx="2.45" ry="1.05" transform="rotate(-51 196.9 894.5)" fill="#9a5843" fill-opacity="0.6"/><ellipse cx="219.4" cy="893.6" rx="2.51" ry="1.08" transform="rotate(-67 219.4 893.6)" fill="#9a5843" fill-opacity="0.6"/><ellipse cx="219.6" cy="889.1" rx="1.63" ry="0.70" transform="rotate(-42 219.6 889.1)" fill="#9a5843" fill-opacity="0.6"/><ellipse cx="217.5" cy="907.5" rx="1.87" ry="0.80" transform="rotate(-71 217.5 907.5)" fill="#9a5843" fill-opacity="0.6"/><ellipse cx="219.0" cy="876.6" rx="1.49" ry="0.64" transform="rotate(-68 219.0 876.6)" fill="#9a5843" fill-opacity="0.6"/><ellipse cx="182.1" cy="904.7" rx="2.36" ry="1.01" transform="rotate(-28 182.1 904.7)" fill="#9a5843" fill-opacity="0.6"/><ellipse cx="204.8" cy="870.0" rx="2.47" ry="1.06" transform="rotate(-40 204.8 870.0)" fill="#9a5843" fill-opacity="0.6"/><ellipse cx="206.2" cy="870.0" rx="1.64" ry="0.70" transform="rotate(-72 206.2 870.0)" fill="#9a5843" fill-opacity="0.6"/><ellipse cx="218.1" cy="903.5" rx="1.76" ry="0.75" transform="rotate(-45 218.1 903.5)" fill="#9a5843" fill-opacity="0.6"/><ellipse cx="173.8" cy="902.1" rx="2.34" ry="1.00" transform="rotate(-41 173.8 902.1)" fill="#9a5843" fill-opacity="0.6"/><ellipse cx="196.9" cy="905.3" rx="2.53" ry="1.08" transform="rotate(-70 196.9 905.3)" fill="#9a5843" fill-opacity="0.6"/><ellipse cx="216.2" cy="909.6" rx="2.26" ry="0.97" transform="rotate(-46 216.2 909.6)" fill="#9a5843" fill-opacity="0.6"/><ellipse cx="232.0" cy="872.6" rx="1.77" ry="0.76" transform="rotate(-31 232.0 872.6)" fill="#9a5843" fill-opacity="0.6"/><ellipse cx="216.8" cy="892.3" rx="2.57" ry="1.10" transform="rotate(-49 216.8 892.3)" fill="#9a5843" fill-opacity="0.6"/><ellipse cx="219.3" cy="906.1" rx="2.28" ry="0.98" transform="rotate(-31 219.3 906.1)" fill="#9a5843" fill-opacity="0.6"/><ellipse cx="185.9" cy="876.2" rx="1.80" ry="0.77" transform="rotate(-57 185.9 876.2)" fill="#9a5843" fill-opacity="0.6"/><ellipse cx="189.6" cy="871.3" rx="1.83" ry="0.78" transform="rotate(-57 189.6 871.3)" fill="#9a5843" fill-opacity="0.6"/><ellipse cx="171.5" cy="907.4" rx="1.72" ry="0.74" transform="rotate(-37 171.5 907.4)" fill="#9a5843" fill-opacity="0.6"/><ellipse cx="180.6" cy="893.0" rx="2.50" ry="1.07" transform="rotate(-33 180.6 893.0)" fill="#9a5843" fill-opacity="0.6"/><ellipse cx="198.7" cy="884.8" rx="2.38" ry="1.02" transform="rotate(-56 198.7 884.8)" fill="#9a5843" fill-opacity="0.6"/><ellipse cx="216.9" cy="909.8" rx="2.59" ry="1.11" transform="rotate(-30 216.9 909.8)" fill="#9a5843" fill-opacity="0.6"/><ellipse cx="185.1" cy="875.2" rx="1.77" ry="0.76" transform="rotate(-26 185.1 875.2)" fill="#9a5843" fill-opacity="0.6"/><ellipse cx="228.5" cy="873.9" rx="1.73" ry="0.74" transform="rotate(-36 228.5 873.9)" fill="#9a5843" fill-opacity="0.6"/><ellipse cx="210.6" cy="867.6" rx="1.85" ry="0.79" transform="rotate(-43 210.6 867.6)" fill="#9a5843" fill-opacity="0.6"/><ellipse cx="213.9" cy="868.0" rx="2.49" ry="1.07" transform="rotate(-42 213.9 868.0)" fill="#9a5843" fill-opacity="0.6"/><ellipse cx="186.2" cy="868.3" rx="2.39" ry="1.02" transform="rotate(-66 186.2 868.3)" fill="#9a5843" fill-opacity="0.6"/><ellipse cx="232.9" cy="872.7" rx="2.13" ry="0.91" transform="rotate(-68 232.9 872.7)" fill="#9a5843" fill-opacity="0.6"/><ellipse cx="212.6" cy="900.9" rx="2.35" ry="1.01" transform="rotate(-72 212.6 900.9)" fill="#9a5843" fill-opacity="0.6"/><ellipse cx="214.5" cy="912.0" rx="2.50" ry="1.07" transform="rotate(-44 214.5 912.0)" fill="#9a5843" fill-opacity="0.6"/><ellipse cx="187.0" cy="884.3" rx="1.90" ry="0.82" transform="rotate(-65 187.0 884.3)" fill="#9a5843" fill-opacity="0.6"/><ellipse cx="201.0" cy="911.3" rx="1.86" ry="0.80" transform="rotate(-65 201.0 911.3)" fill="#9a5843" fill-opacity="0.6"/><ellipse cx="231.2" cy="883.5" rx="2.08" ry="0.89" transform="rotate(-49 231.2 883.5)" fill="#9a5843" fill-opacity="0.6"/><ellipse cx="178.0" cy="913.5" rx="2.38" ry="1.02" transform="rotate(-35 178.0 913.5)" fill="#9a5843" fill-opacity="0.6"/><ellipse cx="181.0" cy="880.3" rx="1.52" ry="0.65" transform="rotate(-36 181.0 880.3)" fill="#9a5843" fill-opacity="0.6"/><ellipse cx="174.4" cy="883.1" rx="2.55" ry="1.09" transform="rotate(-67 174.4 883.1)" fill="#9a5843" fill-opacity="0.6"/><ellipse cx="190.7" cy="912.2" rx="2.10" ry="0.90" transform="rotate(-33 190.7 912.2)" fill="#9a5843" fill-opacity="0.6"/><ellipse cx="232.6" cy="898.0" rx="2.01" ry="0.86" transform="rotate(-33 232.6 898.0)" fill="#9a5843" fill-opacity="0.6"/><ellipse cx="197.6" cy="875.8" rx="1.70" ry="0.73" transform="rotate(-60 197.6 875.8)" fill="#9a5843" fill-opacity="0.6"/><ellipse cx="195.8" cy="910.7" rx="1.57" ry="0.67" transform="rotate(-72 195.8 910.7)" fill="#9a5843" fill-opacity="0.6"/><ellipse cx="193.6" cy="875.5" rx="1.50" ry="0.64" transform="rotate(-56 193.6 875.5)" fill="#9a5843" fill-opacity="0.6"/><ellipse cx="171.0" cy="911.7" rx="2.61" ry="1.12" transform="rotate(-60 171.0 911.7)" fill="#9a5843" fill-opacity="0.6"/><ellipse cx="223.5" cy="914.3" rx="1.48" ry="0.64" transform="rotate(-45 223.5 914.3)" fill="#9a5843" fill-opacity="0.6"/><ellipse cx="224.1" cy="885.9" rx="2.28" ry="0.98" transform="rotate(-65 224.1 885.9)" fill="#9a5843" fill-opacity="0.6"/><ellipse cx="219.3" cy="897.1" rx="1.90" ry="0.81" transform="rotate(-61 219.3 897.1)" fill="#9a5843" fill-opacity="0.6"/><ellipse cx="223.7" cy="892.3" rx="1.62" ry="0.69" transform="rotate(-46 223.7 892.3)" fill="#9a5843" fill-opacity="0.6"/><ellipse cx="180.9" cy="905.8" rx="2.59" ry="1.11" transform="rotate(-46 180.9 905.8)" fill="#9a5843" fill-opacity="0.6"/><ellipse cx="188.4" cy="909.6" rx="2.14" ry="0.92" transform="rotate(-30 188.4 909.6)" fill="#9a5843" fill-opacity="0.6"/><ellipse cx="170.1" cy="895.6" rx="2.51" ry="1.08" transform="rotate(-64 170.1 895.6)" fill="#9a5843" fill-opacity="0.6"/><ellipse cx="184.0" cy="891.4" rx="2.21" ry="0.95" transform="rotate(-73 184.0 891.4)" fill="#9a5843" fill-opacity="0.6"/><ellipse cx="178.0" cy="909.2" rx="2.45" ry="1.05" transform="rotate(-31 178.0 909.2)" fill="#9a5843" fill-opacity="0.6"/><ellipse cx="218.2" cy="886.0" rx="2.62" ry="1.12" transform="rotate(-26 218.2 886.0)" fill="#9a5843" fill-opacity="0.6"/><ellipse cx="186.3" cy="886.8" rx="1.93" ry="0.83" transform="rotate(-59 186.3 886.8)" fill="#9a5843" fill-opacity="0.6"/><ellipse cx="207.6" cy="872.5" rx="2.40" ry="1.03" transform="rotate(-35 207.6 872.5)" fill="#9a5843" fill-opacity="0.6"/><ellipse cx="197.2" cy="872.9" rx="1.70" ry="0.73" transform="rotate(-26 197.2 872.9)" fill="#9a5843" fill-opacity="0.6"/><ellipse cx="199.1" cy="873.6" rx="1.90" ry="0.81" transform="rotate(-32 199.1 873.6)" fill="#9a5843" fill-opacity="0.6"/><ellipse cx="230.7" cy="869.1" rx="1.63" ry="0.70" transform="rotate(-49 230.7 869.1)" fill="#9a5843" fill-opacity="0.6"/><ellipse cx="180.8" cy="889.3" rx="1.59" ry="0.68" transform="rotate(-31 180.8 889.3)" fill="#9a5843" fill-opacity="0.6"/><ellipse cx="195.9" cy="881.5" rx="1.55" ry="0.66" transform="rotate(-30 195.9 881.5)" fill="#9a5843" fill-opacity="0.6"/><ellipse cx="194.0" cy="913.4" rx="2.52" ry="1.08" transform="rotate(-63 194.0 913.4)" fill="#9a5843" fill-opacity="0.6"/><ellipse cx="220.4" cy="873.0" rx="1.47" ry="0.63" transform="rotate(-69 220.4 873.0)" fill="#9a5843" fill-opacity="0.6"/><ellipse cx="187.9" cy="880.2" rx="2.14" ry="0.92" transform="rotate(-57 187.9 880.2)" fill="#9a5843" fill-opacity="0.6"/><ellipse cx="212.3" cy="882.8" rx="1.98" ry="0.85" transform="rotate(-45 212.3 882.8)" fill="#9a5843" fill-opacity="0.6"/><ellipse cx="217.1" cy="899.3" rx="2.34" ry="1.00" transform="rotate(-32 217.1 899.3)" fill="#9a5843" fill-opacity="0.6"/><ellipse cx="174.2" cy="877.5" rx="2.69" ry="1.15" transform="rotate(-33 174.2 877.5)" fill="#9a5843" fill-opacity="0.6"/><ellipse cx="216.6" cy="910.4" rx="2.56" ry="1.10" transform="rotate(-41 216.6 910.4)" fill="#9a5843" fill-opacity="0.6"/><ellipse cx="225.8" cy="878.3" rx="1.86" ry="0.80" transform="rotate(-56 225.8 878.3)" fill="#9a5843" fill-opacity="0.6"/><ellipse cx="230.5" cy="911.5" rx="1.73" ry="0.74" transform="rotate(-54 230.5 911.5)" fill="#9a5843" fill-opacity="0.6"/><ellipse cx="222.9" cy="888.6" rx="2.34" ry="1.00" transform="rotate(-64 222.9 888.6)" fill="#9a5843" fill-opacity="0.6"/><ellipse cx="222.0" cy="898.0" rx="2.31" ry="0.99" transform="rotate(-43 222.0 898.0)" fill="#9a5843" fill-opacity="0.6"/><ellipse cx="184.6" cy="877.0" rx="1.84" ry="0.79" transform="rotate(-28 184.6 877.0)" fill="#9a5843" fill-opacity="0.6"/><ellipse cx="183.1" cy="883.6" rx="2.47" ry="1.06" transform="rotate(-67 183.1 883.6)" fill="#9a5843" fill-opacity="0.6"/><ellipse cx="232.5" cy="893.2" rx="1.77" ry="0.76" transform="rotate(-66 232.5 893.2)" fill="#9a5843" fill-opacity="0.6"/><ellipse cx="170.2" cy="900.0" rx="2.39" ry="1.03" transform="rotate(-34 170.2 900.0)" fill="#9a5843" fill-opacity="0.6"/><ellipse cx="181.5" cy="914.2" rx="1.63" ry="0.70" transform="rotate(-33 181.5 914.2)" fill="#9a5843" fill-opacity="0.6"/><ellipse cx="210.0" cy="891.6" rx="2.65" ry="1.13" transform="rotate(-54 210.0 891.6)" fill="#9a5843" fill-opacity="0.6"/><ellipse cx="179.2" cy="895.9" rx="2.22" ry="0.95" transform="rotate(-50 179.2 895.9)" fill="#9a5843" fill-opacity="0.6"/><ellipse cx="181.6" cy="896.4" rx="2.05" ry="0.88" transform="rotate(-30 181.6 896.4)" fill="#9a5843" fill-opacity="0.6"/><ellipse cx="197.6" cy="894.1" rx="2.58" ry="1.11" transform="rotate(-58 197.6 894.1)" fill="#9a5843" fill-opacity="0.6"/><ellipse cx="178.1" cy="903.8" rx="2.72" ry="1.16" transform="rotate(-36 178.1 903.8)" fill="#9a5843" fill-opacity="0.6"/><ellipse cx="231.0" cy="877.5" rx="2.55" ry="1.09" transform="rotate(-39 231.0 877.5)" fill="#9a5843" fill-opacity="0.6"/><ellipse cx="225.7" cy="886.2" rx="1.89" ry="0.81" transform="rotate(-73 225.7 886.2)" fill="#9a5843" fill-opacity="0.6"/><ellipse cx="179.4" cy="907.7" rx="1.62" ry="0.70" transform="rotate(-28 179.4 907.7)" fill="#9a5843" fill-opacity="0.6"/><ellipse cx="172.1" cy="909.6" rx="2.12" ry="0.91" transform="rotate(-54 172.1 909.6)" fill="#9a5843" fill-opacity="0.6"/><ellipse cx="216.4" cy="870.4" rx="1.54" ry="0.66" transform="rotate(-66 216.4 870.4)" fill="#9a5843" fill-opacity="0.6"/><ellipse cx="174.0" cy="883.9" rx="1.93" ry="0.83" transform="rotate(-33 174.0 883.9)" fill="#9a5843" fill-opacity="0.6"/><ellipse cx="211.9" cy="894.6" rx="2.43" ry="1.04" transform="rotate(-27 211.9 894.6)" fill="#9a5843" fill-opacity="0.6"/><ellipse cx="179.7" cy="884.4" rx="2.68" ry="1.15" transform="rotate(-62 179.7 884.4)" fill="#9a5843" fill-opacity="0.6"/><ellipse cx="172.2" cy="871.0" rx="1.86" ry="0.80" transform="rotate(-27 172.2 871.0)" fill="#9a5843" fill-opacity="0.6"/><ellipse cx="220.0" cy="900.6" rx="1.56" ry="0.67" transform="rotate(-49 220.0 900.6)" fill="#9a5843" fill-opacity="0.6"/><ellipse cx="219.0" cy="895.2" rx="1.65" ry="0.71" transform="rotate(-65 219.0 895.2)" fill="#9a5843" fill-opacity="0.6"/><ellipse cx="218.3" cy="884.7" rx="2.02" ry="0.87" transform="rotate(-71 218.3 884.7)" fill="#9a5843" fill-opacity="0.6"/><ellipse cx="170.6" cy="905.9" rx="2.17" ry="0.93" transform="rotate(-29 170.6 905.9)" fill="#9a5843" fill-opacity="0.6"/><ellipse cx="231.7" cy="901.9" rx="2.57" ry="1.10" transform="rotate(-35 231.7 901.9)" fill="#9a5843" fill-opacity="0.6"/><ellipse cx="219.2" cy="896.2" rx="2.64" ry="1.13" transform="rotate(-63 219.2 896.2)" fill="#9a5843" fill-opacity="0.6"/><ellipse cx="233.4" cy="887.1" rx="2.29" ry="0.98" transform="rotate(-57 233.4 887.1)" fill="#9a5843" fill-opacity="0.6"/><ellipse cx="230.4" cy="900.0" rx="1.56" ry="0.67" transform="rotate(-35 230.4 900.0)" fill="#9a5843" fill-opacity="0.6"/><ellipse cx="197.5" cy="880.8" rx="1.76" ry="0.76" transform="rotate(-30 197.5 880.8)" fill="#9a5843" fill-opacity="0.6"/><ellipse cx="226.5" cy="913.0" rx="2.73" ry="1.17" transform="rotate(-70 226.5 913.0)" fill="#9a5843" fill-opacity="0.6"/><ellipse cx="203.8" cy="909.3" rx="2.71" ry="1.16" transform="rotate(-25 203.8 909.3)" fill="#9a5843" fill-opacity="0.6"/><ellipse cx="225.8" cy="910.4" rx="1.67" ry="0.72" transform="rotate(-50 225.8 910.4)" fill="#9a5843" fill-opacity="0.6"/><ellipse cx="194.5" cy="873.4" rx="1.66" ry="0.71" transform="rotate(-50 194.5 873.4)" fill="#9a5843" fill-opacity="0.6"/><ellipse cx="200.6" cy="913.2" rx="1.77" ry="0.76" transform="rotate(-33 200.6 913.2)" fill="#9a5843" fill-opacity="0.6"/><ellipse cx="195.6" cy="890.8" rx="1.93" ry="0.83" transform="rotate(-59 195.6 890.8)" fill="#9a5843" fill-opacity="0.6"/><ellipse cx="226.8" cy="876.8" rx="1.58" ry="0.68" transform="rotate(-29 226.8 876.8)" fill="#9a5843" fill-opacity="0.6"/><ellipse cx="173.3" cy="890.4" rx="1.73" ry="1.04" transform="rotate(-26 173.3 890.4)" fill="#d9d7ec" fill-opacity="0.7"/><ellipse cx="182.7" cy="871.5" rx="2.20" ry="1.32" transform="rotate(-35 182.7 871.5)" fill="#d9d7ec" fill-opacity="0.7"/><ellipse cx="213.1" cy="870.8" rx="2.51" ry="1.50" transform="rotate(-40 213.1 870.8)" fill="#d9d7ec" fill-opacity="0.7"/><ellipse cx="212.9" cy="913.4" rx="1.98" ry="1.19" transform="rotate(-38 212.9 913.4)" fill="#d9d7ec" fill-opacity="0.7"/><ellipse cx="202.5" cy="897.6" rx="1.98" ry="1.19" transform="rotate(-30 202.5 897.6)" fill="#d9d7ec" fill-opacity="0.7"/><ellipse cx="229.3" cy="908.5" rx="1.45" ry="0.87" transform="rotate(-63 229.3 908.5)" fill="#d9d7ec" fill-opacity="0.7"/><ellipse cx="178.1" cy="872.9" rx="1.61" ry="0.97" transform="rotate(-74 178.1 872.9)" fill="#d9d7ec" fill-opacity="0.7"/><ellipse cx="215.5" cy="897.3" rx="2.45" ry="1.47" transform="rotate(-46 215.5 897.3)" fill="#d9d7ec" fill-opacity="0.7"/><ellipse cx="233.7" cy="889.1" rx="2.48" ry="1.49" transform="rotate(-27 233.7 889.1)" fill="#d9d7ec" fill-opacity="0.7"/><ellipse cx="230.0" cy="888.7" rx="1.57" ry="0.94" transform="rotate(-36 230.0 888.7)" fill="#d9d7ec" fill-opacity="0.7"/><ellipse cx="229.3" cy="898.2" rx="1.89" ry="1.13" transform="rotate(-59 229.3 898.2)" fill="#d9d7ec" fill-opacity="0.7"/><ellipse cx="208.9" cy="879.7" rx="2.44" ry="1.46" transform="rotate(-35 208.9 879.7)" fill="#d9d7ec" fill-opacity="0.7"/><ellipse cx="219.9" cy="912.7" rx="2.54" ry="1.53" transform="rotate(-39 219.9 912.7)" fill="#d9d7ec" fill-opacity="0.7"/><ellipse cx="217.6" cy="906.9" rx="1.81" ry="1.09" transform="rotate(-62 217.6 906.9)" fill="#d9d7ec" fill-opacity="0.7"/><ellipse cx="177.5" cy="892.4" rx="1.69" ry="1.01" transform="rotate(-75 177.5 892.4)" fill="#d9d7ec" fill-opacity="0.7"/><ellipse cx="177.9" cy="879.6" rx="2.30" ry="1.38" transform="rotate(-43 177.9 879.6)" fill="#d9d7ec" fill-opacity="0.7"/><ellipse cx="187.4" cy="884.4" rx="1.66" ry="1.00" transform="rotate(-40 187.4 884.4)" fill="#d9d7ec" fill-opacity="0.7"/><ellipse cx="182.6" cy="900.8" rx="2.20" ry="1.32" transform="rotate(-48 182.6 900.8)" fill="#d9d7ec" fill-opacity="0.7"/><ellipse cx="175.9" cy="901.6" rx="2.05" ry="1.23" transform="rotate(-48 175.9 901.6)" fill="#d9d7ec" fill-opacity="0.7"/><ellipse cx="187.5" cy="894.0" rx="1.52" ry="0.91" transform="rotate(-32 187.5 894.0)" fill="#d9d7ec" fill-opacity="0.7"/><ellipse cx="189.4" cy="887.0" rx="1.49" ry="0.89" transform="rotate(-38 189.4 887.0)" fill="#d9d7ec" fill-opacity="0.7"/><ellipse cx="198.7" cy="888.3" rx="1.49" ry="0.89" transform="rotate(-63 198.7 888.3)" fill="#d9d7ec" fill-opacity="0.7"/><ellipse cx="205.1" cy="889.6" rx="2.34" ry="1.40" transform="rotate(-54 205.1 889.6)" fill="#d9d7ec" fill-opacity="0.7"/><ellipse cx="225.2" cy="915.0" rx="2.19" ry="1.31" transform="rotate(-48 225.2 915.0)" fill="#d9d7ec" fill-opacity="0.7"/><ellipse cx="199.7" cy="905.9" rx="1.78" ry="1.07" transform="rotate(-49 199.7 905.9)" fill="#d9d7ec" fill-opacity="0.7"/><ellipse cx="215.3" cy="901.9" rx="2.10" ry="1.26" transform="rotate(-52 215.3 901.9)" fill="#d9d7ec" fill-opacity="0.7"/><ellipse cx="189.7" cy="912.6" rx="2.45" ry="1.47" transform="rotate(-56 189.7 912.6)" fill="#d9d7ec" fill-opacity="0.7"/><ellipse cx="207.6" cy="910.2" rx="1.40" ry="0.84" transform="rotate(-51 207.6 910.2)" fill="#d9d7ec" fill-opacity="0.7"/><ellipse cx="207.0" cy="899.7" rx="1.78" ry="1.07" transform="rotate(-67 207.0 899.7)" fill="#d9d7ec" fill-opacity="0.7"/><ellipse cx="227.0" cy="879.7" rx="1.76" ry="1.06" transform="rotate(-38 227.0 879.7)" fill="#d9d7ec" fill-opacity="0.7"/><ellipse cx="189.9" cy="891.0" rx="1.50" ry="0.90" transform="rotate(-59 189.9 891.0)" fill="#d9d7ec" fill-opacity="0.7"/><ellipse cx="222.4" cy="905.1" rx="2.00" ry="1.20" transform="rotate(-66 222.4 905.1)" fill="#d9d7ec" fill-opacity="0.7"/><ellipse cx="229.5" cy="883.6" rx="2.50" ry="1.50" transform="rotate(-68 229.5 883.6)" fill="#d9d7ec" fill-opacity="0.7"/><ellipse cx="190.3" cy="905.6" rx="1.98" ry="1.19" transform="rotate(-58 190.3 905.6)" fill="#d9d7ec" fill-opacity="0.7"/><ellipse cx="191.8" cy="901.7" rx="2.46" ry="1.48" transform="rotate(-26 191.8 901.7)" fill="#d9d7ec" fill-opacity="0.7"/><ellipse cx="227.6" cy="875.5" rx="1.60" ry="0.96" transform="rotate(-48 227.6 875.5)" fill="#d9d7ec" fill-opacity="0.7"/><ellipse cx="227.7" cy="879.9" rx="1.86" ry="1.12" transform="rotate(-53 227.7 879.9)" fill="#d9d7ec" fill-opacity="0.7"/><ellipse cx="174.8" cy="899.6" rx="1.54" ry="0.92" transform="rotate(-33 174.8 899.6)" fill="#d9d7ec" fill-opacity="0.7"/><ellipse cx="221.3" cy="890.8" rx="2.46" ry="1.48" transform="rotate(-46 221.3 890.8)" fill="#d9d7ec" fill-opacity="0.7"/><ellipse cx="192.2" cy="869.1" rx="1.97" ry="1.18" transform="rotate(-37 192.2 869.1)" fill="#d9d7ec" fill-opacity="0.7"/><ellipse cx="196.4" cy="912.8" rx="1.67" ry="1.00" transform="rotate(-60 196.4 912.8)" fill="#d9d7ec" fill-opacity="0.7"/><ellipse cx="174.2" cy="870.0" rx="2.31" ry="1.39" transform="rotate(-62 174.2 870.0)" fill="#d9d7ec" fill-opacity="0.7"/><ellipse cx="233.2" cy="895.8" rx="2.45" ry="1.47" transform="rotate(-72 233.2 895.8)" fill="#d9d7ec" fill-opacity="0.7"/><ellipse cx="200.7" cy="870.9" rx="2.28" ry="1.37" transform="rotate(-48 200.7 870.9)" fill="#d9d7ec" fill-opacity="0.7"/><ellipse cx="229.5" cy="890.8" rx="2.10" ry="1.26" transform="rotate(-47 229.5 890.8)" fill="#d9d7ec" fill-opacity="0.7"/><ellipse cx="201.5" cy="881.5" rx="2.26" ry="1.36" transform="rotate(-66 201.5 881.5)" fill="#d9d7ec" fill-opacity="0.7"/><ellipse cx="175.6" cy="889.3" rx="2.06" ry="1.24" transform="rotate(-39 175.6 889.3)" fill="#d9d7ec" fill-opacity="0.7"/><ellipse cx="184.9" cy="913.1" rx="2.24" ry="1.34" transform="rotate(-45 184.9 913.1)" fill="#d9d7ec" fill-opacity="0.7"/><ellipse cx="209.8" cy="893.5" rx="2.50" ry="1.50" transform="rotate(-50 209.8 893.5)" fill="#d9d7ec" fill-opacity="0.7"/><ellipse cx="176.6" cy="903.1" rx="1.84" ry="1.11" transform="rotate(-26 176.6 903.1)" fill="#d9d7ec" fill-opacity="0.7"/><ellipse cx="223.1" cy="902.6" rx="1.50" ry="0.90" transform="rotate(-67 223.1 902.6)" fill="#d9d7ec" fill-opacity="0.7"/><ellipse cx="195.8" cy="899.4" rx="2.53" ry="1.52" transform="rotate(-25 195.8 899.4)" fill="#d9d7ec" fill-opacity="0.7"/><ellipse cx="215.7" cy="872.0" rx="1.61" ry="0.97" transform="rotate(-41 215.7 872.0)" fill="#d9d7ec" fill-opacity="0.7"/><ellipse cx="193.2" cy="892.6" rx="2.53" ry="1.52" transform="rotate(-73 193.2 892.6)" fill="#d9d7ec" fill-opacity="0.7"/><ellipse cx="189.0" cy="910.0" rx="2.26" ry="1.36" transform="rotate(-54 189.0 910.0)" fill="#d9d7ec" fill-opacity="0.7"/><ellipse cx="206.4" cy="899.8" rx="2.14" ry="1.28" transform="rotate(-48 206.4 899.8)" fill="#d9d7ec" fill-opacity="0.7"/><ellipse cx="214.7" cy="884.9" rx="1.46" ry="0.88" transform="rotate(-65 214.7 884.9)" fill="#d9d7ec" fill-opacity="0.7"/><ellipse cx="216.8" cy="877.1" rx="2.26" ry="1.36" transform="rotate(-43 216.8 877.1)" fill="#d9d7ec" fill-opacity="0.7"/><ellipse cx="181.7" cy="905.0" rx="1.45" ry="0.87" transform="rotate(-54 181.7 905.0)" fill="#d9d7ec" fill-opacity="0.7"/><ellipse cx="182.8" cy="869.2" rx="1.45" ry="0.87" transform="rotate(-42 182.8 869.2)" fill="#d9d7ec" fill-opacity="0.7"/><ellipse cx="171.2" cy="900.1" rx="2.18" ry="1.31" transform="rotate(-56 171.2 900.1)" fill="#d9d7ec" fill-opacity="0.7"/><ellipse cx="231.6" cy="895.9" rx="2.51" ry="1.50" transform="rotate(-36 231.6 895.9)" fill="#d9d7ec" fill-opacity="0.7"/><ellipse cx="212.8" cy="879.6" rx="2.30" ry="1.38" transform="rotate(-44 212.8 879.6)" fill="#d9d7ec" fill-opacity="0.7"/><ellipse cx="205.5" cy="906.3" rx="1.69" ry="1.02" transform="rotate(-37 205.5 906.3)" fill="#d9d7ec" fill-opacity="0.7"/><ellipse cx="194.4" cy="875.9" rx="2.47" ry="1.48" transform="rotate(-60 194.4 875.9)" fill="#d9d7ec" fill-opacity="0.7"/><ellipse cx="223.9" cy="892.2" rx="2.32" ry="1.39" transform="rotate(-35 223.9 892.2)" fill="#d9d7ec" fill-opacity="0.7"/><ellipse cx="199.0" cy="875.0" rx="1.53" ry="0.92" transform="rotate(-73 199.0 875.0)" fill="#d9d7ec" fill-opacity="0.7"/><ellipse cx="229.6" cy="900.4" rx="1.85" ry="1.11" transform="rotate(-55 229.6 900.4)" fill="#d9d7ec" fill-opacity="0.7"/><ellipse cx="178.3" cy="887.8" rx="1.52" ry="0.91" transform="rotate(-54 178.3 887.8)" fill="#d9d7ec" fill-opacity="0.7"/><ellipse cx="176.0" cy="910.9" rx="2.19" ry="1.31" transform="rotate(-41 176.0 910.9)" fill="#d9d7ec" fill-opacity="0.7"/><ellipse cx="222.8" cy="911.3" rx="1.98" ry="1.19" transform="rotate(-31 222.8 911.3)" fill="#d9d7ec" fill-opacity="0.7"/><ellipse cx="217.3" cy="871.3" rx="2.55" ry="1.53" transform="rotate(-52 217.3 871.3)" fill="#d9d7ec" fill-opacity="0.7"/><ellipse cx="173.4" cy="897.6" rx="1.47" ry="0.88" transform="rotate(-68 173.4 897.6)" fill="#d9d7ec" fill-opacity="0.7"/><ellipse cx="210.8" cy="875.9" rx="1.83" ry="1.10" transform="rotate(-72 210.8 875.9)" fill="#d9d7ec" fill-opacity="0.7"/><ellipse cx="190.6" cy="883.9" rx="2.58" ry="1.55" transform="rotate(-43 190.6 883.9)" fill="#d9d7ec" fill-opacity="0.7"/><ellipse cx="198.0" cy="869.8" rx="2.00" ry="1.20" transform="rotate(-48 198.0 869.8)" fill="#d9d7ec" fill-opacity="0.7"/><ellipse cx="195.5" cy="898.4" rx="2.38" ry="1.43" transform="rotate(-48 195.5 898.4)" fill="#d9d7ec" fill-opacity="0.7"/><ellipse cx="188.3" cy="870.3" rx="2.40" ry="1.44" transform="rotate(-44 188.3 870.3)" fill="#d9d7ec" fill-opacity="0.7"/><ellipse cx="213.9" cy="882.3" rx="2.12" ry="1.27" transform="rotate(-30 213.9 882.3)" fill="#d9d7ec" fill-opacity="0.7"/><ellipse cx="193.2" cy="905.1" rx="1.45" ry="0.87" transform="rotate(-60 193.2 905.1)" fill="#d9d7ec" fill-opacity="0.7"/><ellipse cx="222.5" cy="884.4" rx="2.29" ry="1.37" transform="rotate(-74 222.5 884.4)" fill="#d9d7ec" fill-opacity="0.7"/><ellipse cx="176.9" cy="911.5" rx="2.38" ry="1.43" transform="rotate(-43 176.9 911.5)" fill="#d9d7ec" fill-opacity="0.7"/><ellipse cx="225.5" cy="904.4" rx="1.76" ry="1.06" transform="rotate(-69 225.5 904.4)" fill="#d9d7ec" fill-opacity="0.7"/><ellipse cx="191.9" cy="914.2" rx="2.08" ry="1.25" transform="rotate(-73 191.9 914.2)" fill="#d9d7ec" fill-opacity="0.7"/><ellipse cx="185.4" cy="876.4" rx="2.40" ry="1.44" transform="rotate(-69 185.4 876.4)" fill="#d9d7ec" fill-opacity="0.7"/><ellipse cx="174.4" cy="913.7" rx="1.83" ry="1.10" transform="rotate(-42 174.4 913.7)" fill="#d9d7ec" fill-opacity="0.7"/><ellipse cx="170.4" cy="874.1" rx="2.02" ry="1.21" transform="rotate(-37 170.4 874.1)" fill="#d9d7ec" fill-opacity="0.7"/><ellipse cx="201.0" cy="883.4" rx="2.55" ry="1.53" transform="rotate(-62 201.0 883.4)" fill="#d9d7ec" fill-opacity="0.7"/><ellipse cx="180.9" cy="894.4" rx="1.97" ry="1.18" transform="rotate(-42 180.9 894.4)" fill="#d9d7ec" fill-opacity="0.7"/><ellipse cx="220.5" cy="873.0" rx="2.25" ry="1.35" transform="rotate(-39 220.5 873.0)" fill="#d9d7ec" fill-opacity="0.7"/><ellipse cx="179.1" cy="889.2" rx="1.10" ry="0.74" transform="rotate(-73 179.1 889.2)" fill="#5f5690" fill-opacity="0.6"/><ellipse cx="229.7" cy="903.1" rx="1.34" ry="0.89" transform="rotate(-38 229.7 903.1)" fill="#5f5690" fill-opacity="0.6"/><ellipse cx="210.8" cy="870.3" rx="1.28" ry="0.85" transform="rotate(-62 210.8 870.3)" fill="#5f5690" fill-opacity="0.6"/><ellipse cx="179.5" cy="886.9" rx="1.21" ry="0.81" transform="rotate(-68 179.5 886.9)" fill="#5f5690" fill-opacity="0.6"/><ellipse cx="185.7" cy="870.6" rx="1.14" ry="0.76" transform="rotate(-30 185.7 870.6)" fill="#5f5690" fill-opacity="0.6"/><ellipse cx="192.4" cy="910.5" rx="1.34" ry="0.90" transform="rotate(-21 192.4 910.5)" fill="#5f5690" fill-opacity="0.6"/><ellipse cx="182.5" cy="902.2" rx="1.43" ry="0.96" transform="rotate(-46 182.5 902.2)" fill="#5f5690" fill-opacity="0.6"/><ellipse cx="230.7" cy="899.7" rx="1.22" ry="0.81" transform="rotate(-75 230.7 899.7)" fill="#5f5690" fill-opacity="0.6"/><ellipse cx="197.3" cy="906.6" rx="1.47" ry="0.98" transform="rotate(-51 197.3 906.6)" fill="#5f5690" fill-opacity="0.6"/><ellipse cx="215.9" cy="912.6" rx="1.11" ry="0.74" transform="rotate(-37 215.9 912.6)" fill="#5f5690" fill-opacity="0.6"/><ellipse cx="209.0" cy="872.9" rx="1.08" ry="0.72" transform="rotate(-51 209.0 872.9)" fill="#5f5690" fill-opacity="0.6"/><ellipse cx="227.0" cy="901.6" rx="1.14" ry="0.76" transform="rotate(-55 227.0 901.6)" fill="#5f5690" fill-opacity="0.6"/><ellipse cx="219.1" cy="871.1" rx="1.05" ry="0.70" transform="rotate(-57 219.1 871.1)" fill="#5f5690" fill-opacity="0.6"/><ellipse cx="218.0" cy="903.5" rx="1.42" ry="0.94" transform="rotate(-68 218.0 903.5)" fill="#5f5690" fill-opacity="0.6"/><ellipse cx="211.6" cy="905.7" rx="1.09" ry="0.73" transform="rotate(-39 211.6 905.7)" fill="#5f5690" fill-opacity="0.6"/><ellipse cx="177.2" cy="896.3" rx="1.17" ry="0.78" transform="rotate(-50 177.2 896.3)" fill="#5f5690" fill-opacity="0.6"/><ellipse cx="195.1" cy="870.3" rx="1.44" ry="0.96" transform="rotate(-63 195.1 870.3)" fill="#5f5690" fill-opacity="0.6"/><ellipse cx="221.7" cy="908.2" rx="1.49" ry="0.99" transform="rotate(-22 221.7 908.2)" fill="#5f5690" fill-opacity="0.6"/><ellipse cx="187.0" cy="900.7" rx="1.02" ry="0.68" transform="rotate(-58 187.0 900.7)" fill="#5f5690" fill-opacity="0.6"/><ellipse cx="175.7" cy="893.6" rx="1.23" ry="0.82" transform="rotate(-77 175.7 893.6)" fill="#5f5690" fill-opacity="0.6"/><ellipse cx="170.8" cy="898.4" rx="0.96" ry="0.64" transform="rotate(-51 170.8 898.4)" fill="#5f5690" fill-opacity="0.6"/><ellipse cx="194.1" cy="900.6" rx="1.44" ry="0.96" transform="rotate(-20 194.1 900.6)" fill="#5f5690" fill-opacity="0.6"/><ellipse cx="189.7" cy="880.4" rx="1.12" ry="0.75" transform="rotate(-72 189.7 880.4)" fill="#5f5690" fill-opacity="0.6"/><ellipse cx="209.1" cy="913.1" rx="1.22" ry="0.81" transform="rotate(-48 209.1 913.1)" fill="#5f5690" fill-opacity="0.6"/><ellipse cx="203.9" cy="870.2" rx="1.29" ry="0.86" transform="rotate(-23 203.9 870.2)" fill="#5f5690" fill-opacity="0.6"/><ellipse cx="218.2" cy="875.3" rx="1.29" ry="0.86" transform="rotate(-56 218.2 875.3)" fill="#5f5690" fill-opacity="0.6"/><ellipse cx="183.9" cy="877.1" rx="1.28" ry="0.85" transform="rotate(-51 183.9 877.1)" fill="#5f5690" fill-opacity="0.6"/><ellipse cx="201.8" cy="899.1" rx="0.99" ry="0.66" transform="rotate(-57 201.8 899.1)" fill="#5f5690" fill-opacity="0.6"/><ellipse cx="173.7" cy="881.8" rx="1.48" ry="0.98" transform="rotate(-41 173.7 881.8)" fill="#5f5690" fill-opacity="0.6"/><ellipse cx="219.8" cy="909.6" rx="1.49" ry="1.00" transform="rotate(-65 219.8 909.6)" fill="#5f5690" fill-opacity="0.6"/><ellipse cx="175.4" cy="869.8" rx="0.94" ry="0.62" transform="rotate(-72 175.4 869.8)" fill="#5f5690" fill-opacity="0.6"/><ellipse cx="223.4" cy="913.1" rx="1.21" ry="0.81" transform="rotate(-63 223.4 913.1)" fill="#5f5690" fill-opacity="0.6"/><ellipse cx="199.1" cy="886.1" rx="1.39" ry="0.93" transform="rotate(-24 199.1 886.1)" fill="#5f5690" fill-opacity="0.6"/><ellipse cx="176.5" cy="885.3" rx="0.94" ry="0.62" transform="rotate(-68 176.5 885.3)" fill="#5f5690" fill-opacity="0.6"/><ellipse cx="198.1" cy="906.3" rx="1.12" ry="0.75" transform="rotate(-31 198.1 906.3)" fill="#5f5690" fill-opacity="0.6"/><ellipse cx="218.7" cy="883.9" rx="1.32" ry="0.88" transform="rotate(-57 218.7 883.9)" fill="#5f5690" fill-opacity="0.6"/><ellipse cx="174.2" cy="884.0" rx="1.18" ry="0.79" transform="rotate(-64 174.2 884.0)" fill="#5f5690" fill-opacity="0.6"/><ellipse cx="206.2" cy="909.0" rx="1.39" ry="0.92" transform="rotate(-25 206.2 909.0)" fill="#5f5690" fill-opacity="0.6"/><ellipse cx="210.3" cy="912.7" rx="1.06" ry="0.70" transform="rotate(-71 210.3 912.7)" fill="#5f5690" fill-opacity="0.6"/><ellipse cx="194.3" cy="897.3" rx="1.23" ry="0.82" transform="rotate(-76 194.3 897.3)" fill="#5f5690" fill-opacity="0.6"/><ellipse cx="178.9" cy="883.1" rx="1.01" ry="0.67" transform="rotate(-63 178.9 883.1)" fill="#5f5690" fill-opacity="0.6"/><ellipse cx="190.0" cy="888.1" rx="1.06" ry="0.71" transform="rotate(-40 190.0 888.1)" fill="#5f5690" fill-opacity="0.6"/><ellipse cx="183.7" cy="896.6" rx="1.03" ry="0.69" transform="rotate(-65 183.7 896.6)" fill="#5f5690" fill-opacity="0.6"/><ellipse cx="204.6" cy="874.0" rx="1.24" ry="0.83" transform="rotate(-73 204.6 874.0)" fill="#5f5690" fill-opacity="0.6"/><ellipse cx="208.6" cy="883.8" rx="0.96" ry="0.64" transform="rotate(-72 208.6 883.8)" fill="#5f5690" fill-opacity="0.6"/><ellipse cx="230.1" cy="867.7" rx="1.09" ry="0.73" transform="rotate(-24 230.1 867.7)" fill="#5f5690" fill-opacity="0.6"/><ellipse cx="193.7" cy="891.3" rx="1.39" ry="0.93" transform="rotate(-32 193.7 891.3)" fill="#5f5690" fill-opacity="0.6"/><ellipse cx="181.9" cy="889.4" rx="1.29" ry="0.86" transform="rotate(-73 181.9 889.4)" fill="#5f5690" fill-opacity="0.6"/><ellipse cx="215.5" cy="882.4" rx="1.31" ry="0.87" transform="rotate(-69 215.5 882.4)" fill="#5f5690" fill-opacity="0.6"/><ellipse cx="180.0" cy="902.9" rx="1.19" ry="0.79" transform="rotate(-52 180.0 902.9)" fill="#5f5690" fill-opacity="0.6"/></g>
</g>
<rect x="169.40" y="867.30" width="64.40" height="47.80" fill="none" stroke="#9a9a9a" stroke-width="0.4"/>
<rect x="170.20" y="907.70" width="15.39" height="6.40" fill="#ffffff" fill-opacity="0.55"/>
<text x="171.20" y="912.70" font-size="5.9" fill="#c4531d" stroke="#c4531d" stroke-width="0.2" paint-order="stroke">CD44</text>
<clipPath id="clipT8"><rect x="244.60" y="867.30" width="64.90" height="47.80"/></clipPath>
<g clip-path="url(#clipT8)">
<rect x="244.60" y="867.30" width="64.90" height="47.80" fill="#c98f82"/>
<rect x="244.60" y="867.30" width="64.90" height="47.80" fill="#fff" filter="url(#nzP)"/>
<g filter="url(#b2)"><ellipse cx="290.3" cy="871.1" rx="2.07" ry="0.92" transform="rotate(-35 290.3 871.1)" fill="#f0d4cc" fill-opacity="0.6"/><ellipse cx="302.0" cy="901.9" rx="2.32" ry="1.03" transform="rotate(-39 302.0 901.9)" fill="#f0d4cc" fill-opacity="0.6"/><ellipse cx="262.3" cy="908.5" rx="1.95" ry="0.87" transform="rotate(-56 262.3 908.5)" fill="#f0d4cc" fill-opacity="0.6"/><ellipse cx="285.9" cy="868.9" rx="1.51" ry="0.67" transform="rotate(-49 285.9 868.9)" fill="#f0d4cc" fill-opacity="0.6"/><ellipse cx="296.1" cy="892.4" rx="1.42" ry="0.63" transform="rotate(-27 296.1 892.4)" fill="#f0d4cc" fill-opacity="0.6"/><ellipse cx="288.1" cy="901.5" rx="1.26" ry="0.56" transform="rotate(-79 288.1 901.5)" fill="#f0d4cc" fill-opacity="0.6"/><ellipse cx="290.0" cy="874.0" rx="1.53" ry="0.68" transform="rotate(-21 290.0 874.0)" fill="#f0d4cc" fill-opacity="0.6"/><ellipse cx="287.8" cy="879.2" rx="1.53" ry="0.68" transform="rotate(-65 287.8 879.2)" fill="#f0d4cc" fill-opacity="0.6"/><ellipse cx="278.2" cy="870.1" rx="1.98" ry="0.88" transform="rotate(-26 278.2 870.1)" fill="#f0d4cc" fill-opacity="0.6"/><ellipse cx="275.6" cy="905.7" rx="1.82" ry="0.81" transform="rotate(-73 275.6 905.7)" fill="#f0d4cc" fill-opacity="0.6"/><ellipse cx="245.3" cy="874.3" rx="1.44" ry="0.64" transform="rotate(-50 245.3 874.3)" fill="#f0d4cc" fill-opacity="0.6"/><ellipse cx="265.9" cy="871.1" rx="1.80" ry="0.80" transform="rotate(-54 265.9 871.1)" fill="#f0d4cc" fill-opacity="0.6"/><ellipse cx="302.6" cy="880.2" rx="1.94" ry="0.86" transform="rotate(-57 302.6 880.2)" fill="#f0d4cc" fill-opacity="0.6"/><ellipse cx="306.1" cy="868.8" rx="1.90" ry="0.84" transform="rotate(-73 306.1 868.8)" fill="#f0d4cc" fill-opacity="0.6"/><ellipse cx="265.7" cy="891.3" rx="1.63" ry="0.72" transform="rotate(-37 265.7 891.3)" fill="#f0d4cc" fill-opacity="0.6"/><ellipse cx="265.5" cy="872.6" rx="2.04" ry="0.91" transform="rotate(-68 265.5 872.6)" fill="#f0d4cc" fill-opacity="0.6"/><ellipse cx="266.7" cy="899.2" rx="2.24" ry="1.00" transform="rotate(-69 266.7 899.2)" fill="#f0d4cc" fill-opacity="0.6"/><ellipse cx="297.1" cy="899.7" rx="1.57" ry="0.70" transform="rotate(-61 297.1 899.7)" fill="#f0d4cc" fill-opacity="0.6"/><ellipse cx="263.0" cy="875.6" rx="2.20" ry="0.98" transform="rotate(-62 263.0 875.6)" fill="#f0d4cc" fill-opacity="0.6"/><ellipse cx="263.5" cy="914.1" rx="1.42" ry="0.63" transform="rotate(-27 263.5 914.1)" fill="#f0d4cc" fill-opacity="0.6"/><ellipse cx="304.3" cy="879.8" rx="2.25" ry="1.00" transform="rotate(-33 304.3 879.8)" fill="#f0d4cc" fill-opacity="0.6"/><ellipse cx="266.6" cy="899.9" rx="1.63" ry="0.72" transform="rotate(-66 266.6 899.9)" fill="#f0d4cc" fill-opacity="0.6"/><ellipse cx="288.6" cy="900.4" rx="1.96" ry="0.87" transform="rotate(-50 288.6 900.4)" fill="#f0d4cc" fill-opacity="0.6"/><ellipse cx="269.2" cy="869.1" rx="2.21" ry="0.98" transform="rotate(-48 269.2 869.1)" fill="#f0d4cc" fill-opacity="0.6"/><ellipse cx="301.1" cy="908.6" rx="1.44" ry="0.64" transform="rotate(-69 301.1 908.6)" fill="#f0d4cc" fill-opacity="0.6"/><ellipse cx="280.2" cy="895.5" rx="2.11" ry="0.94" transform="rotate(-43 280.2 895.5)" fill="#f0d4cc" fill-opacity="0.6"/><ellipse cx="295.8" cy="907.4" rx="2.26" ry="1.00" transform="rotate(-72 295.8 907.4)" fill="#f0d4cc" fill-opacity="0.6"/><ellipse cx="263.7" cy="898.5" rx="1.40" ry="0.62" transform="rotate(-28 263.7 898.5)" fill="#f0d4cc" fill-opacity="0.6"/><ellipse cx="278.0" cy="871.1" rx="1.82" ry="0.81" transform="rotate(-73 278.0 871.1)" fill="#f0d4cc" fill-opacity="0.6"/><ellipse cx="277.3" cy="893.7" rx="2.12" ry="0.94" transform="rotate(-64 277.3 893.7)" fill="#f0d4cc" fill-opacity="0.6"/><ellipse cx="309.0" cy="887.8" rx="1.31" ry="0.58" transform="rotate(-30 309.0 887.8)" fill="#f0d4cc" fill-opacity="0.6"/><ellipse cx="262.7" cy="881.1" rx="2.10" ry="0.93" transform="rotate(-63 262.7 881.1)" fill="#f0d4cc" fill-opacity="0.6"/><ellipse cx="287.6" cy="897.5" rx="2.25" ry="1.00" transform="rotate(-65 287.6 897.5)" fill="#f0d4cc" fill-opacity="0.6"/><ellipse cx="284.1" cy="913.9" rx="2.08" ry="0.92" transform="rotate(-46 284.1 913.9)" fill="#f0d4cc" fill-opacity="0.6"/><ellipse cx="287.9" cy="897.4" rx="2.04" ry="0.90" transform="rotate(-60 287.9 897.4)" fill="#f0d4cc" fill-opacity="0.6"/><ellipse cx="274.1" cy="896.8" rx="1.86" ry="0.83" transform="rotate(-58 274.1 896.8)" fill="#f0d4cc" fill-opacity="0.6"/><ellipse cx="292.8" cy="911.0" rx="2.24" ry="1.00" transform="rotate(-51 292.8 911.0)" fill="#f0d4cc" fill-opacity="0.6"/><ellipse cx="247.7" cy="893.6" rx="1.92" ry="0.85" transform="rotate(-57 247.7 893.6)" fill="#f0d4cc" fill-opacity="0.6"/><ellipse cx="298.4" cy="869.9" rx="1.75" ry="0.78" transform="rotate(-38 298.4 869.9)" fill="#f0d4cc" fill-opacity="0.6"/><ellipse cx="296.9" cy="906.6" rx="2.33" ry="1.04" transform="rotate(-51 296.9 906.6)" fill="#f0d4cc" fill-opacity="0.6"/><ellipse cx="296.3" cy="895.2" rx="1.64" ry="0.73" transform="rotate(-72 296.3 895.2)" fill="#f0d4cc" fill-opacity="0.6"/><ellipse cx="291.9" cy="909.4" rx="1.60" ry="0.71" transform="rotate(-43 291.9 909.4)" fill="#f0d4cc" fill-opacity="0.6"/><ellipse cx="276.8" cy="880.4" rx="2.21" ry="0.98" transform="rotate(-50 276.8 880.4)" fill="#f0d4cc" fill-opacity="0.6"/><ellipse cx="254.3" cy="898.1" rx="2.26" ry="1.00" transform="rotate(-50 254.3 898.1)" fill="#f0d4cc" fill-opacity="0.6"/><ellipse cx="294.1" cy="909.4" rx="1.73" ry="0.77" transform="rotate(-80 294.1 909.4)" fill="#f0d4cc" fill-opacity="0.6"/><ellipse cx="299.5" cy="876.4" rx="1.82" ry="0.81" transform="rotate(-44 299.5 876.4)" fill="#f0d4cc" fill-opacity="0.6"/><ellipse cx="285.6" cy="914.5" rx="2.04" ry="0.91" transform="rotate(-24 285.6 914.5)" fill="#f0d4cc" fill-opacity="0.6"/><ellipse cx="247.4" cy="868.8" rx="1.97" ry="0.88" transform="rotate(-42 247.4 868.8)" fill="#f0d4cc" fill-opacity="0.6"/><ellipse cx="281.4" cy="915.0" rx="2.01" ry="0.89" transform="rotate(-72 281.4 915.0)" fill="#f0d4cc" fill-opacity="0.6"/><ellipse cx="262.7" cy="897.9" rx="1.64" ry="0.73" transform="rotate(-61 262.7 897.9)" fill="#f0d4cc" fill-opacity="0.6"/><ellipse cx="274.5" cy="885.1" rx="1.46" ry="0.65" transform="rotate(-52 274.5 885.1)" fill="#f0d4cc" fill-opacity="0.6"/><ellipse cx="284.7" cy="909.5" rx="2.32" ry="1.03" transform="rotate(-27 284.7 909.5)" fill="#f0d4cc" fill-opacity="0.6"/><ellipse cx="277.1" cy="883.8" rx="1.51" ry="0.67" transform="rotate(-24 277.1 883.8)" fill="#f0d4cc" fill-opacity="0.6"/><ellipse cx="307.7" cy="877.9" rx="1.91" ry="0.85" transform="rotate(-48 307.7 877.9)" fill="#f0d4cc" fill-opacity="0.6"/><ellipse cx="276.6" cy="887.2" rx="2.33" ry="1.03" transform="rotate(-43 276.6 887.2)" fill="#f0d4cc" fill-opacity="0.6"/><ellipse cx="296.6" cy="909.5" rx="1.94" ry="0.86" transform="rotate(-57 296.6 909.5)" fill="#f0d4cc" fill-opacity="0.6"/><ellipse cx="284.1" cy="904.9" rx="1.75" ry="0.78" transform="rotate(-25 284.1 904.9)" fill="#f0d4cc" fill-opacity="0.6"/><ellipse cx="287.9" cy="883.3" rx="1.91" ry="0.85" transform="rotate(-67 287.9 883.3)" fill="#f0d4cc" fill-opacity="0.6"/><ellipse cx="268.4" cy="877.4" rx="1.28" ry="0.57" transform="rotate(-20 268.4 877.4)" fill="#f0d4cc" fill-opacity="0.6"/><ellipse cx="279.8" cy="900.1" rx="1.66" ry="0.74" transform="rotate(-72 279.8 900.1)" fill="#f0d4cc" fill-opacity="0.6"/><ellipse cx="305.8" cy="912.5" rx="1.75" ry="0.78" transform="rotate(-22 305.8 912.5)" fill="#f0d4cc" fill-opacity="0.6"/><ellipse cx="297.4" cy="867.8" rx="1.81" ry="0.81" transform="rotate(-29 297.4 867.8)" fill="#f0d4cc" fill-opacity="0.6"/><ellipse cx="278.4" cy="880.1" rx="1.54" ry="0.69" transform="rotate(-35 278.4 880.1)" fill="#f0d4cc" fill-opacity="0.6"/><ellipse cx="284.1" cy="896.3" rx="2.18" ry="0.97" transform="rotate(-50 284.1 896.3)" fill="#f0d4cc" fill-opacity="0.6"/><ellipse cx="253.8" cy="911.1" rx="1.66" ry="0.74" transform="rotate(-78 253.8 911.1)" fill="#f0d4cc" fill-opacity="0.6"/><ellipse cx="246.4" cy="913.5" rx="2.16" ry="0.96" transform="rotate(-52 246.4 913.5)" fill="#f0d4cc" fill-opacity="0.6"/><ellipse cx="251.4" cy="907.2" rx="1.55" ry="0.69" transform="rotate(-32 251.4 907.2)" fill="#f0d4cc" fill-opacity="0.6"/><ellipse cx="297.2" cy="894.2" rx="1.55" ry="0.69" transform="rotate(-49 297.2 894.2)" fill="#f0d4cc" fill-opacity="0.6"/><ellipse cx="297.2" cy="897.8" rx="1.29" ry="0.57" transform="rotate(-35 297.2 897.8)" fill="#f0d4cc" fill-opacity="0.6"/><ellipse cx="255.0" cy="877.4" rx="1.26" ry="0.56" transform="rotate(-65 255.0 877.4)" fill="#f0d4cc" fill-opacity="0.6"/><ellipse cx="301.8" cy="911.5" rx="1.93" ry="0.86" transform="rotate(-59 301.8 911.5)" fill="#f0d4cc" fill-opacity="0.6"/><ellipse cx="305.8" cy="908.3" rx="1.38" ry="0.61" transform="rotate(-58 305.8 908.3)" fill="#f0d4cc" fill-opacity="0.6"/><ellipse cx="248.7" cy="887.6" rx="1.33" ry="0.59" transform="rotate(-57 248.7 887.6)" fill="#f0d4cc" fill-opacity="0.6"/><ellipse cx="270.1" cy="886.7" rx="2.27" ry="1.01" transform="rotate(-25 270.1 886.7)" fill="#f0d4cc" fill-opacity="0.6"/><ellipse cx="305.9" cy="896.8" rx="2.31" ry="1.03" transform="rotate(-33 305.9 896.8)" fill="#f0d4cc" fill-opacity="0.6"/><ellipse cx="292.2" cy="874.9" rx="1.38" ry="0.62" transform="rotate(-58 292.2 874.9)" fill="#f0d4cc" fill-opacity="0.6"/><ellipse cx="308.9" cy="874.1" rx="2.29" ry="1.02" transform="rotate(-69 308.9 874.1)" fill="#f0d4cc" fill-opacity="0.6"/><ellipse cx="300.6" cy="870.4" rx="1.93" ry="0.86" transform="rotate(-59 300.6 870.4)" fill="#f0d4cc" fill-opacity="0.6"/><ellipse cx="255.1" cy="891.3" rx="2.21" ry="0.98" transform="rotate(-46 255.1 891.3)" fill="#f0d4cc" fill-opacity="0.6"/><ellipse cx="261.9" cy="875.4" rx="1.89" ry="0.84" transform="rotate(-50 261.9 875.4)" fill="#f0d4cc" fill-opacity="0.6"/><ellipse cx="288.1" cy="911.0" rx="2.29" ry="1.02" transform="rotate(-35 288.1 911.0)" fill="#f0d4cc" fill-opacity="0.6"/><ellipse cx="261.6" cy="908.8" rx="1.48" ry="0.66" transform="rotate(-58 261.6 908.8)" fill="#f0d4cc" fill-opacity="0.6"/><ellipse cx="287.7" cy="880.1" rx="1.79" ry="0.80" transform="rotate(-72 287.7 880.1)" fill="#f0d4cc" fill-opacity="0.6"/><ellipse cx="303.3" cy="873.4" rx="1.29" ry="0.57" transform="rotate(-36 303.3 873.4)" fill="#f0d4cc" fill-opacity="0.6"/><ellipse cx="294.0" cy="899.3" rx="1.31" ry="0.58" transform="rotate(-40 294.0 899.3)" fill="#f0d4cc" fill-opacity="0.6"/><ellipse cx="298.3" cy="886.0" rx="2.23" ry="0.99" transform="rotate(-67 298.3 886.0)" fill="#f0d4cc" fill-opacity="0.6"/><ellipse cx="261.6" cy="894.7" rx="1.31" ry="0.58" transform="rotate(-26 261.6 894.7)" fill="#f0d4cc" fill-opacity="0.6"/><ellipse cx="268.9" cy="884.8" rx="2.11" ry="0.94" transform="rotate(-77 268.9 884.8)" fill="#f0d4cc" fill-opacity="0.6"/><ellipse cx="277.5" cy="878.7" rx="2.26" ry="1.01" transform="rotate(-59 277.5 878.7)" fill="#f0d4cc" fill-opacity="0.6"/><ellipse cx="247.9" cy="888.9" rx="1.77" ry="0.79" transform="rotate(-71 247.9 888.9)" fill="#f0d4cc" fill-opacity="0.6"/><ellipse cx="273.6" cy="882.7" rx="2.02" ry="0.90" transform="rotate(-46 273.6 882.7)" fill="#f0d4cc" fill-opacity="0.6"/><ellipse cx="273.7" cy="907.7" rx="2.16" ry="0.96" transform="rotate(-59 273.7 907.7)" fill="#f0d4cc" fill-opacity="0.6"/><ellipse cx="286.0" cy="877.4" rx="1.59" ry="0.71" transform="rotate(-61 286.0 877.4)" fill="#f0d4cc" fill-opacity="0.6"/><ellipse cx="274.4" cy="903.0" rx="1.62" ry="0.72" transform="rotate(-39 274.4 903.0)" fill="#f0d4cc" fill-opacity="0.6"/><ellipse cx="254.2" cy="892.7" rx="1.97" ry="0.88" transform="rotate(-39 254.2 892.7)" fill="#f0d4cc" fill-opacity="0.6"/><ellipse cx="300.7" cy="910.7" rx="1.29" ry="0.57" transform="rotate(-60 300.7 910.7)" fill="#f0d4cc" fill-opacity="0.6"/><ellipse cx="290.9" cy="879.0" rx="1.62" ry="0.72" transform="rotate(-30 290.9 879.0)" fill="#f0d4cc" fill-opacity="0.6"/><ellipse cx="248.0" cy="900.5" rx="2.32" ry="1.03" transform="rotate(-70 248.0 900.5)" fill="#f0d4cc" fill-opacity="0.6"/><ellipse cx="245.9" cy="899.2" rx="1.40" ry="0.62" transform="rotate(-22 245.9 899.2)" fill="#f0d4cc" fill-opacity="0.6"/><ellipse cx="286.1" cy="894.2" rx="1.60" ry="0.71" transform="rotate(-75 286.1 894.2)" fill="#f0d4cc" fill-opacity="0.6"/><ellipse cx="299.9" cy="914.9" rx="2.27" ry="1.01" transform="rotate(-31 299.9 914.9)" fill="#f0d4cc" fill-opacity="0.6"/><ellipse cx="249.6" cy="913.0" rx="1.62" ry="0.72" transform="rotate(-21 249.6 913.0)" fill="#f0d4cc" fill-opacity="0.6"/><ellipse cx="248.8" cy="876.9" rx="1.72" ry="0.77" transform="rotate(-33 248.8 876.9)" fill="#f0d4cc" fill-opacity="0.6"/><ellipse cx="280.2" cy="873.6" rx="2.05" ry="0.91" transform="rotate(-65 280.2 873.6)" fill="#f0d4cc" fill-opacity="0.6"/><ellipse cx="268.8" cy="911.0" rx="1.38" ry="0.61" transform="rotate(-65 268.8 911.0)" fill="#f0d4cc" fill-opacity="0.6"/><ellipse cx="301.7" cy="893.6" rx="2.03" ry="0.90" transform="rotate(-78 301.7 893.6)" fill="#f0d4cc" fill-opacity="0.6"/><ellipse cx="244.8" cy="878.9" rx="1.82" ry="0.81" transform="rotate(-39 244.8 878.9)" fill="#f0d4cc" fill-opacity="0.6"/><ellipse cx="279.0" cy="891.4" rx="2.09" ry="0.93" transform="rotate(-67 279.0 891.4)" fill="#f0d4cc" fill-opacity="0.6"/><ellipse cx="303.1" cy="912.8" rx="1.63" ry="0.72" transform="rotate(-55 303.1 912.8)" fill="#f0d4cc" fill-opacity="0.6"/><ellipse cx="262.1" cy="872.3" rx="1.35" ry="0.60" transform="rotate(-73 262.1 872.3)" fill="#f0d4cc" fill-opacity="0.6"/><ellipse cx="287.1" cy="902.3" rx="1.28" ry="0.57" transform="rotate(-65 287.1 902.3)" fill="#f0d4cc" fill-opacity="0.6"/><ellipse cx="272.4" cy="905.6" rx="2.01" ry="0.89" transform="rotate(-53 272.4 905.6)" fill="#f0d4cc" fill-opacity="0.6"/><ellipse cx="249.8" cy="871.7" rx="1.92" ry="0.85" transform="rotate(-43 249.8 871.7)" fill="#f0d4cc" fill-opacity="0.6"/><ellipse cx="268.9" cy="898.2" rx="1.56" ry="0.69" transform="rotate(-21 268.9 898.2)" fill="#f0d4cc" fill-opacity="0.6"/><ellipse cx="251.2" cy="872.3" rx="2.17" ry="0.97" transform="rotate(-32 251.2 872.3)" fill="#f0d4cc" fill-opacity="0.6"/><ellipse cx="302.4" cy="912.4" rx="1.37" ry="0.61" transform="rotate(-37 302.4 912.4)" fill="#f0d4cc" fill-opacity="0.6"/><ellipse cx="256.5" cy="907.4" rx="1.68" ry="0.74" transform="rotate(-75 256.5 907.4)" fill="#f0d4cc" fill-opacity="0.6"/><ellipse cx="302.3" cy="893.8" rx="1.80" ry="0.80" transform="rotate(-77 302.3 893.8)" fill="#f0d4cc" fill-opacity="0.6"/><ellipse cx="248.7" cy="899.9" rx="1.68" ry="0.75" transform="rotate(-62 248.7 899.9)" fill="#f0d4cc" fill-opacity="0.6"/><ellipse cx="307.4" cy="887.1" rx="1.51" ry="0.67" transform="rotate(-41 307.4 887.1)" fill="#f0d4cc" fill-opacity="0.6"/><ellipse cx="272.0" cy="883.9" rx="1.84" ry="0.82" transform="rotate(-57 272.0 883.9)" fill="#f0d4cc" fill-opacity="0.6"/><ellipse cx="300.7" cy="902.0" rx="2.04" ry="0.91" transform="rotate(-78 300.7 902.0)" fill="#f0d4cc" fill-opacity="0.6"/><ellipse cx="282.3" cy="889.3" rx="1.26" ry="0.56" transform="rotate(-74 282.3 889.3)" fill="#f0d4cc" fill-opacity="0.6"/><ellipse cx="299.0" cy="879.7" rx="1.90" ry="0.84" transform="rotate(-53 299.0 879.7)" fill="#f0d4cc" fill-opacity="0.6"/><ellipse cx="247.8" cy="903.4" rx="1.54" ry="0.68" transform="rotate(-65 247.8 903.4)" fill="#f0d4cc" fill-opacity="0.6"/><ellipse cx="279.8" cy="880.8" rx="1.75" ry="0.78" transform="rotate(-49 279.8 880.8)" fill="#f0d4cc" fill-opacity="0.6"/><ellipse cx="271.8" cy="879.4" rx="1.79" ry="0.79" transform="rotate(-44 271.8 879.4)" fill="#f0d4cc" fill-opacity="0.6"/><ellipse cx="308.2" cy="877.4" rx="1.71" ry="0.76" transform="rotate(-70 308.2 877.4)" fill="#f0d4cc" fill-opacity="0.6"/><ellipse cx="306.7" cy="903.9" rx="1.54" ry="0.68" transform="rotate(-77 306.7 903.9)" fill="#f0d4cc" fill-opacity="0.6"/><ellipse cx="296.9" cy="914.4" rx="1.84" ry="0.82" transform="rotate(-50 296.9 914.4)" fill="#f0d4cc" fill-opacity="0.6"/><ellipse cx="248.1" cy="876.3" rx="1.78" ry="0.79" transform="rotate(-26 248.1 876.3)" fill="#f0d4cc" fill-opacity="0.6"/><ellipse cx="299.0" cy="885.8" rx="1.85" ry="0.82" transform="rotate(-27 299.0 885.8)" fill="#f0d4cc" fill-opacity="0.6"/><ellipse cx="264.9" cy="895.7" rx="2.34" ry="1.04" transform="rotate(-22 264.9 895.7)" fill="#f0d4cc" fill-opacity="0.6"/><ellipse cx="250.9" cy="898.9" rx="1.89" ry="0.84" transform="rotate(-65 250.9 898.9)" fill="#f0d4cc" fill-opacity="0.6"/><ellipse cx="274.2" cy="890.7" rx="1.59" ry="0.71" transform="rotate(-79 274.2 890.7)" fill="#f0d4cc" fill-opacity="0.6"/><ellipse cx="263.5" cy="899.8" rx="1.59" ry="0.71" transform="rotate(-56 263.5 899.8)" fill="#f0d4cc" fill-opacity="0.6"/><ellipse cx="266.0" cy="908.5" rx="2.22" ry="0.99" transform="rotate(-70 266.0 908.5)" fill="#f0d4cc" fill-opacity="0.6"/><ellipse cx="284.2" cy="887.2" rx="2.23" ry="0.99" transform="rotate(-24 284.2 887.2)" fill="#f0d4cc" fill-opacity="0.6"/><ellipse cx="280.0" cy="902.1" rx="1.98" ry="0.88" transform="rotate(-47 280.0 902.1)" fill="#f0d4cc" fill-opacity="0.6"/><ellipse cx="300.0" cy="881.1" rx="1.75" ry="0.78" transform="rotate(-62 300.0 881.1)" fill="#f0d4cc" fill-opacity="0.6"/><ellipse cx="250.6" cy="886.3" rx="2.30" ry="1.02" transform="rotate(-64 250.6 886.3)" fill="#f0d4cc" fill-opacity="0.6"/><ellipse cx="307.5" cy="877.3" rx="1.69" ry="0.75" transform="rotate(-64 307.5 877.3)" fill="#f0d4cc" fill-opacity="0.6"/><ellipse cx="302.7" cy="868.9" rx="2.17" ry="0.96" transform="rotate(-32 302.7 868.9)" fill="#f0d4cc" fill-opacity="0.6"/><ellipse cx="271.3" cy="891.3" rx="1.77" ry="0.79" transform="rotate(-23 271.3 891.3)" fill="#f0d4cc" fill-opacity="0.6"/><ellipse cx="305.2" cy="885.1" rx="1.89" ry="0.84" transform="rotate(-66 305.2 885.1)" fill="#f0d4cc" fill-opacity="0.6"/><ellipse cx="289.1" cy="904.6" rx="1.94" ry="0.86" transform="rotate(-22 289.1 904.6)" fill="#f0d4cc" fill-opacity="0.6"/><ellipse cx="268.4" cy="914.0" rx="1.61" ry="0.72" transform="rotate(-41 268.4 914.0)" fill="#f0d4cc" fill-opacity="0.6"/><ellipse cx="252.6" cy="879.8" rx="1.76" ry="0.78" transform="rotate(-35 252.6 879.8)" fill="#f0d4cc" fill-opacity="0.6"/><ellipse cx="276.9" cy="886.6" rx="2.15" ry="0.96" transform="rotate(-44 276.9 886.6)" fill="#f0d4cc" fill-opacity="0.6"/><ellipse cx="264.0" cy="904.2" rx="1.66" ry="0.74" transform="rotate(-29 264.0 904.2)" fill="#f0d4cc" fill-opacity="0.6"/><ellipse cx="245.4" cy="912.5" rx="1.36" ry="0.60" transform="rotate(-63 245.4 912.5)" fill="#f0d4cc" fill-opacity="0.6"/><ellipse cx="254.6" cy="888.3" rx="1.66" ry="0.74" transform="rotate(-68 254.6 888.3)" fill="#f0d4cc" fill-opacity="0.6"/><ellipse cx="301.5" cy="910.0" rx="1.77" ry="0.79" transform="rotate(-72 301.5 910.0)" fill="#f0d4cc" fill-opacity="0.6"/><ellipse cx="295.8" cy="902.3" rx="1.26" ry="0.56" transform="rotate(-74 295.8 902.3)" fill="#f0d4cc" fill-opacity="0.6"/><ellipse cx="247.4" cy="870.6" rx="1.58" ry="0.70" transform="rotate(-42 247.4 870.6)" fill="#f0d4cc" fill-opacity="0.6"/><ellipse cx="308.2" cy="891.2" rx="1.39" ry="0.62" transform="rotate(-69 308.2 891.2)" fill="#f0d4cc" fill-opacity="0.6"/><ellipse cx="308.1" cy="893.0" rx="1.49" ry="0.66" transform="rotate(-66 308.1 893.0)" fill="#f0d4cc" fill-opacity="0.6"/><ellipse cx="293.1" cy="881.4" rx="1.42" ry="0.63" transform="rotate(-76 293.1 881.4)" fill="#f0d4cc" fill-opacity="0.6"/><ellipse cx="271.7" cy="903.7" rx="1.90" ry="0.84" transform="rotate(-25 271.7 903.7)" fill="#f0d4cc" fill-opacity="0.6"/><ellipse cx="303.6" cy="869.2" rx="2.33" ry="1.04" transform="rotate(-61 303.6 869.2)" fill="#f0d4cc" fill-opacity="0.6"/><ellipse cx="280.0" cy="891.5" rx="2.06" ry="0.92" transform="rotate(-55 280.0 891.5)" fill="#f0d4cc" fill-opacity="0.6"/><ellipse cx="280.0" cy="908.0" rx="1.61" ry="0.71" transform="rotate(-55 280.0 908.0)" fill="#f0d4cc" fill-opacity="0.6"/><ellipse cx="266.9" cy="880.5" rx="1.97" ry="0.88" transform="rotate(-39 266.9 880.5)" fill="#f0d4cc" fill-opacity="0.6"/><ellipse cx="297.7" cy="869.6" rx="1.85" ry="0.82" transform="rotate(-40 297.7 869.6)" fill="#f0d4cc" fill-opacity="0.6"/><ellipse cx="282.4" cy="872.1" rx="1.58" ry="0.70" transform="rotate(-55 282.4 872.1)" fill="#f0d4cc" fill-opacity="0.6"/><ellipse cx="256.2" cy="907.3" rx="2.09" ry="0.93" transform="rotate(-68 256.2 907.3)" fill="#f0d4cc" fill-opacity="0.6"/><ellipse cx="294.6" cy="895.8" rx="2.13" ry="0.95" transform="rotate(-33 294.6 895.8)" fill="#f0d4cc" fill-opacity="0.6"/><ellipse cx="280.4" cy="901.1" rx="1.87" ry="0.83" transform="rotate(-74 280.4 901.1)" fill="#f0d4cc" fill-opacity="0.6"/><ellipse cx="304.3" cy="902.3" rx="1.47" ry="0.66" transform="rotate(-46 304.3 902.3)" fill="#f0d4cc" fill-opacity="0.6"/><ellipse cx="273.2" cy="892.1" rx="1.93" ry="0.86" transform="rotate(-40 273.2 892.1)" fill="#f0d4cc" fill-opacity="0.6"/><ellipse cx="247.2" cy="890.4" rx="1.54" ry="0.68" transform="rotate(-37 247.2 890.4)" fill="#f0d4cc" fill-opacity="0.6"/><ellipse cx="308.1" cy="914.3" rx="1.95" ry="0.87" transform="rotate(-74 308.1 914.3)" fill="#f0d4cc" fill-opacity="0.6"/><ellipse cx="305.6" cy="904.0" rx="2.20" ry="0.98" transform="rotate(-47 305.6 904.0)" fill="#f0d4cc" fill-opacity="0.6"/><ellipse cx="278.9" cy="906.5" rx="1.82" ry="0.81" transform="rotate(-20 278.9 906.5)" fill="#f0d4cc" fill-opacity="0.6"/><ellipse cx="299.7" cy="890.8" rx="1.73" ry="0.77" transform="rotate(-21 299.7 890.8)" fill="#f0d4cc" fill-opacity="0.6"/><ellipse cx="260.2" cy="908.9" rx="1.50" ry="0.67" transform="rotate(-60 260.2 908.9)" fill="#f0d4cc" fill-opacity="0.6"/><ellipse cx="288.2" cy="899.8" rx="1.35" ry="0.60" transform="rotate(-52 288.2 899.8)" fill="#f0d4cc" fill-opacity="0.6"/><ellipse cx="265.3" cy="913.6" rx="2.11" ry="0.94" transform="rotate(-66 265.3 913.6)" fill="#f0d4cc" fill-opacity="0.6"/><ellipse cx="284.7" cy="869.5" rx="2.02" ry="0.90" transform="rotate(-24 284.7 869.5)" fill="#f0d4cc" fill-opacity="0.6"/><ellipse cx="272.6" cy="897.6" rx="2.24" ry="1.00" transform="rotate(-40 272.6 897.6)" fill="#f0d4cc" fill-opacity="0.6"/><ellipse cx="306.8" cy="868.5" rx="1.73" ry="0.55" transform="rotate(-70 306.8 868.5)" fill="#9e5540" fill-opacity="0.5"/><ellipse cx="290.3" cy="888.1" rx="1.35" ry="0.43" transform="rotate(-36 290.3 888.1)" fill="#9e5540" fill-opacity="0.5"/><ellipse cx="267.4" cy="871.6" rx="1.82" ry="0.57" transform="rotate(-65 267.4 871.6)" fill="#9e5540" fill-opacity="0.5"/><ellipse cx="250.7" cy="893.6" rx="1.96" ry="0.62" transform="rotate(-39 250.7 893.6)" fill="#9e5540" fill-opacity="0.5"/><ellipse cx="289.1" cy="914.6" rx="2.34" ry="0.74" transform="rotate(-45 289.1 914.6)" fill="#9e5540" fill-opacity="0.5"/><ellipse cx="280.1" cy="909.8" rx="2.20" ry="0.70" transform="rotate(-27 280.1 909.8)" fill="#9e5540" fill-opacity="0.5"/><ellipse cx="293.1" cy="871.9" rx="2.41" ry="0.76" transform="rotate(-21 293.1 871.9)" fill="#9e5540" fill-opacity="0.5"/><ellipse cx="245.1" cy="886.0" rx="1.38" ry="0.44" transform="rotate(-78 245.1 886.0)" fill="#9e5540" fill-opacity="0.5"/><ellipse cx="263.7" cy="908.9" rx="1.40" ry="0.44" transform="rotate(-40 263.7 908.9)" fill="#9e5540" fill-opacity="0.5"/><ellipse cx="305.9" cy="909.6" rx="1.56" ry="0.49" transform="rotate(-79 305.9 909.6)" fill="#9e5540" fill-opacity="0.5"/><ellipse cx="288.7" cy="877.2" rx="1.82" ry="0.57" transform="rotate(-66 288.7 877.2)" fill="#9e5540" fill-opacity="0.5"/><ellipse cx="281.3" cy="892.6" rx="2.12" ry="0.67" transform="rotate(-72 281.3 892.6)" fill="#9e5540" fill-opacity="0.5"/><ellipse cx="263.3" cy="882.2" rx="1.71" ry="0.54" transform="rotate(-29 263.3 882.2)" fill="#9e5540" fill-opacity="0.5"/><ellipse cx="301.9" cy="879.3" rx="1.72" ry="0.54" transform="rotate(-65 301.9 879.3)" fill="#9e5540" fill-opacity="0.5"/><ellipse cx="289.4" cy="899.0" rx="2.47" ry="0.78" transform="rotate(-28 289.4 899.0)" fill="#9e5540" fill-opacity="0.5"/><ellipse cx="290.1" cy="873.0" rx="1.53" ry="0.48" transform="rotate(-58 290.1 873.0)" fill="#9e5540" fill-opacity="0.5"/><ellipse cx="300.4" cy="892.2" rx="2.07" ry="0.65" transform="rotate(-27 300.4 892.2)" fill="#9e5540" fill-opacity="0.5"/><ellipse cx="289.5" cy="896.3" rx="1.97" ry="0.62" transform="rotate(-58 289.5 896.3)" fill="#9e5540" fill-opacity="0.5"/><ellipse cx="303.0" cy="898.9" rx="2.07" ry="0.65" transform="rotate(-31 303.0 898.9)" fill="#9e5540" fill-opacity="0.5"/><ellipse cx="265.9" cy="899.1" rx="2.36" ry="0.74" transform="rotate(-61 265.9 899.1)" fill="#9e5540" fill-opacity="0.5"/><ellipse cx="302.8" cy="884.2" rx="2.41" ry="0.76" transform="rotate(-60 302.8 884.2)" fill="#9e5540" fill-opacity="0.5"/><ellipse cx="269.7" cy="905.7" rx="2.20" ry="0.70" transform="rotate(-38 269.7 905.7)" fill="#9e5540" fill-opacity="0.5"/><ellipse cx="258.0" cy="906.4" rx="1.94" ry="0.61" transform="rotate(-71 258.0 906.4)" fill="#9e5540" fill-opacity="0.5"/><ellipse cx="280.9" cy="913.9" rx="1.34" ry="0.42" transform="rotate(-53 280.9 913.9)" fill="#9e5540" fill-opacity="0.5"/><ellipse cx="288.0" cy="910.6" rx="2.44" ry="0.77" transform="rotate(-75 288.0 910.6)" fill="#9e5540" fill-opacity="0.5"/><ellipse cx="279.4" cy="897.5" rx="1.44" ry="0.46" transform="rotate(-65 279.4 897.5)" fill="#9e5540" fill-opacity="0.5"/><ellipse cx="247.1" cy="873.3" rx="2.46" ry="0.78" transform="rotate(-31 247.1 873.3)" fill="#9e5540" fill-opacity="0.5"/><ellipse cx="262.2" cy="893.2" rx="2.35" ry="0.74" transform="rotate(-37 262.2 893.2)" fill="#9e5540" fill-opacity="0.5"/><ellipse cx="291.4" cy="870.9" rx="2.24" ry="0.71" transform="rotate(-40 291.4 870.9)" fill="#9e5540" fill-opacity="0.5"/><ellipse cx="247.4" cy="887.6" rx="2.17" ry="0.68" transform="rotate(-46 247.4 887.6)" fill="#9e5540" fill-opacity="0.5"/><ellipse cx="298.4" cy="909.0" rx="2.30" ry="0.72" transform="rotate(-52 298.4 909.0)" fill="#9e5540" fill-opacity="0.5"/><ellipse cx="291.4" cy="900.0" rx="1.59" ry="0.50" transform="rotate(-25 291.4 900.0)" fill="#9e5540" fill-opacity="0.5"/><ellipse cx="254.4" cy="883.1" rx="2.29" ry="0.72" transform="rotate(-48 254.4 883.1)" fill="#9e5540" fill-opacity="0.5"/><ellipse cx="262.0" cy="887.4" rx="2.06" ry="0.65" transform="rotate(-38 262.0 887.4)" fill="#9e5540" fill-opacity="0.5"/><ellipse cx="266.9" cy="882.4" rx="2.33" ry="0.74" transform="rotate(-20 266.9 882.4)" fill="#9e5540" fill-opacity="0.5"/><ellipse cx="294.0" cy="911.8" rx="2.38" ry="0.75" transform="rotate(-32 294.0 911.8)" fill="#9e5540" fill-opacity="0.5"/><ellipse cx="269.7" cy="900.0" rx="2.22" ry="0.70" transform="rotate(-27 269.7 900.0)" fill="#9e5540" fill-opacity="0.5"/><ellipse cx="302.0" cy="910.9" rx="1.98" ry="0.62" transform="rotate(-69 302.0 910.9)" fill="#9e5540" fill-opacity="0.5"/><ellipse cx="273.5" cy="873.3" rx="1.39" ry="0.44" transform="rotate(-21 273.5 873.3)" fill="#9e5540" fill-opacity="0.5"/><ellipse cx="259.1" cy="888.5" rx="1.64" ry="0.52" transform="rotate(-66 259.1 888.5)" fill="#9e5540" fill-opacity="0.5"/><ellipse cx="295.6" cy="903.6" rx="1.97" ry="0.62" transform="rotate(-78 295.6 903.6)" fill="#9e5540" fill-opacity="0.5"/><ellipse cx="259.4" cy="905.3" rx="1.89" ry="0.60" transform="rotate(-53 259.4 905.3)" fill="#9e5540" fill-opacity="0.5"/><ellipse cx="277.6" cy="902.2" rx="2.21" ry="0.70" transform="rotate(-41 277.6 902.2)" fill="#9e5540" fill-opacity="0.5"/><ellipse cx="270.2" cy="875.3" rx="2.16" ry="0.68" transform="rotate(-75 270.2 875.3)" fill="#9e5540" fill-opacity="0.5"/><ellipse cx="266.3" cy="868.5" rx="1.40" ry="0.44" transform="rotate(-64 266.3 868.5)" fill="#9e5540" fill-opacity="0.5"/><ellipse cx="282.8" cy="908.4" rx="1.92" ry="0.61" transform="rotate(-39 282.8 908.4)" fill="#9e5540" fill-opacity="0.5"/><ellipse cx="290.5" cy="894.9" rx="1.76" ry="0.56" transform="rotate(-63 290.5 894.9)" fill="#9e5540" fill-opacity="0.5"/><ellipse cx="256.3" cy="905.4" rx="1.48" ry="0.47" transform="rotate(-75 256.3 905.4)" fill="#9e5540" fill-opacity="0.5"/><ellipse cx="305.4" cy="902.5" rx="1.34" ry="0.42" transform="rotate(-32 305.4 902.5)" fill="#9e5540" fill-opacity="0.5"/><ellipse cx="245.7" cy="914.0" rx="2.12" ry="0.67" transform="rotate(-68 245.7 914.0)" fill="#9e5540" fill-opacity="0.5"/><ellipse cx="249.7" cy="889.7" rx="2.47" ry="0.78" transform="rotate(-73 249.7 889.7)" fill="#9e5540" fill-opacity="0.5"/><ellipse cx="259.6" cy="872.3" rx="1.80" ry="0.57" transform="rotate(-79 259.6 872.3)" fill="#9e5540" fill-opacity="0.5"/><ellipse cx="266.6" cy="895.7" rx="2.10" ry="0.66" transform="rotate(-32 266.6 895.7)" fill="#9e5540" fill-opacity="0.5"/><ellipse cx="280.1" cy="871.9" rx="2.29" ry="0.72" transform="rotate(-39 280.1 871.9)" fill="#9e5540" fill-opacity="0.5"/><ellipse cx="246.2" cy="881.3" rx="1.55" ry="0.49" transform="rotate(-74 246.2 881.3)" fill="#9e5540" fill-opacity="0.5"/><ellipse cx="265.3" cy="910.2" rx="1.88" ry="0.59" transform="rotate(-52 265.3 910.2)" fill="#9e5540" fill-opacity="0.5"/><ellipse cx="279.1" cy="897.6" rx="1.75" ry="0.55" transform="rotate(-49 279.1 897.6)" fill="#9e5540" fill-opacity="0.5"/><ellipse cx="285.0" cy="873.5" rx="1.60" ry="0.50" transform="rotate(-75 285.0 873.5)" fill="#9e5540" fill-opacity="0.5"/><ellipse cx="288.2" cy="902.1" rx="1.91" ry="0.60" transform="rotate(-76 288.2 902.1)" fill="#9e5540" fill-opacity="0.5"/><ellipse cx="276.7" cy="879.2" rx="2.07" ry="0.65" transform="rotate(-46 276.7 879.2)" fill="#9e5540" fill-opacity="0.5"/><ellipse cx="270.4" cy="870.2" rx="1.48" ry="0.47" transform="rotate(-71 270.4 870.2)" fill="#9e5540" fill-opacity="0.5"/><ellipse cx="264.0" cy="886.2" rx="1.41" ry="0.45" transform="rotate(-33 264.0 886.2)" fill="#9e5540" fill-opacity="0.5"/><ellipse cx="283.3" cy="906.8" rx="1.58" ry="0.50" transform="rotate(-48 283.3 906.8)" fill="#9e5540" fill-opacity="0.5"/><ellipse cx="282.6" cy="868.6" rx="2.00" ry="0.63" transform="rotate(-61 282.6 868.6)" fill="#9e5540" fill-opacity="0.5"/><ellipse cx="298.3" cy="887.3" rx="1.44" ry="0.46" transform="rotate(-48 298.3 887.3)" fill="#9e5540" fill-opacity="0.5"/><ellipse cx="280.3" cy="893.1" rx="2.32" ry="0.73" transform="rotate(-21 280.3 893.1)" fill="#9e5540" fill-opacity="0.5"/><ellipse cx="247.6" cy="886.6" rx="1.82" ry="0.57" transform="rotate(-38 247.6 886.6)" fill="#9e5540" fill-opacity="0.5"/><ellipse cx="249.6" cy="914.9" rx="1.71" ry="0.54" transform="rotate(-76 249.6 914.9)" fill="#9e5540" fill-opacity="0.5"/><ellipse cx="263.5" cy="888.5" rx="2.34" ry="0.74" transform="rotate(-55 263.5 888.5)" fill="#9e5540" fill-opacity="0.5"/><ellipse cx="268.3" cy="884.2" rx="1.64" ry="0.52" transform="rotate(-68 268.3 884.2)" fill="#9e5540" fill-opacity="0.5"/><ellipse cx="300.3" cy="887.0" rx="2.15" ry="0.68" transform="rotate(-77 300.3 887.0)" fill="#9e5540" fill-opacity="0.5"/><ellipse cx="307.5" cy="886.5" rx="2.20" ry="0.70" transform="rotate(-38 307.5 886.5)" fill="#9e5540" fill-opacity="0.5"/><ellipse cx="294.5" cy="885.5" rx="2.04" ry="0.64" transform="rotate(-22 294.5 885.5)" fill="#9e5540" fill-opacity="0.5"/><ellipse cx="283.2" cy="867.8" rx="1.55" ry="0.49" transform="rotate(-44 283.2 867.8)" fill="#9e5540" fill-opacity="0.5"/><ellipse cx="275.4" cy="892.9" rx="2.11" ry="0.67" transform="rotate(-60 275.4 892.9)" fill="#9e5540" fill-opacity="0.5"/><ellipse cx="286.9" cy="905.4" rx="2.16" ry="0.68" transform="rotate(-51 286.9 905.4)" fill="#9e5540" fill-opacity="0.5"/><ellipse cx="297.7" cy="902.2" rx="1.72" ry="0.54" transform="rotate(-61 297.7 902.2)" fill="#9e5540" fill-opacity="0.5"/><ellipse cx="254.3" cy="903.1" rx="1.87" ry="0.59" transform="rotate(-36 254.3 903.1)" fill="#9e5540" fill-opacity="0.5"/><ellipse cx="264.2" cy="899.2" rx="1.83" ry="0.58" transform="rotate(-58 264.2 899.2)" fill="#9e5540" fill-opacity="0.5"/><ellipse cx="245.1" cy="910.3" rx="2.17" ry="0.69" transform="rotate(-79 245.1 910.3)" fill="#9e5540" fill-opacity="0.5"/><ellipse cx="254.9" cy="877.3" rx="1.40" ry="0.44" transform="rotate(-72 254.9 877.3)" fill="#9e5540" fill-opacity="0.5"/><ellipse cx="284.3" cy="899.2" rx="1.68" ry="0.53" transform="rotate(-58 284.3 899.2)" fill="#9e5540" fill-opacity="0.5"/><ellipse cx="301.9" cy="899.1" rx="1.86" ry="0.59" transform="rotate(-47 301.9 899.1)" fill="#9e5540" fill-opacity="0.5"/><ellipse cx="249.0" cy="890.7" rx="2.43" ry="0.77" transform="rotate(-55 249.0 890.7)" fill="#9e5540" fill-opacity="0.5"/><ellipse cx="283.6" cy="886.2" rx="1.99" ry="0.63" transform="rotate(-66 283.6 886.2)" fill="#9e5540" fill-opacity="0.5"/><ellipse cx="283.9" cy="888.8" rx="1.88" ry="0.60" transform="rotate(-34 283.9 888.8)" fill="#9e5540" fill-opacity="0.5"/><ellipse cx="257.6" cy="870.4" rx="2.07" ry="0.65" transform="rotate(-68 257.6 870.4)" fill="#9e5540" fill-opacity="0.5"/><ellipse cx="269.6" cy="891.7" rx="2.44" ry="0.77" transform="rotate(-27 269.6 891.7)" fill="#9e5540" fill-opacity="0.5"/><ellipse cx="284.0" cy="884.3" rx="1.94" ry="0.61" transform="rotate(-73 284.0 884.3)" fill="#9e5540" fill-opacity="0.5"/><ellipse cx="259.1" cy="887.3" rx="2.43" ry="0.77" transform="rotate(-48 259.1 887.3)" fill="#9e5540" fill-opacity="0.5"/><ellipse cx="249.2" cy="888.3" rx="2.08" ry="0.66" transform="rotate(-25 249.2 888.3)" fill="#9e5540" fill-opacity="0.5"/><ellipse cx="259.7" cy="901.5" rx="2.34" ry="0.74" transform="rotate(-76 259.7 901.5)" fill="#9e5540" fill-opacity="0.5"/><ellipse cx="277.9" cy="909.4" rx="2.00" ry="0.63" transform="rotate(-67 277.9 909.4)" fill="#9e5540" fill-opacity="0.5"/><ellipse cx="308.2" cy="882.8" rx="2.21" ry="0.70" transform="rotate(-28 308.2 882.8)" fill="#9e5540" fill-opacity="0.5"/><ellipse cx="275.9" cy="904.1" rx="2.39" ry="0.76" transform="rotate(-72 275.9 904.1)" fill="#9e5540" fill-opacity="0.5"/><ellipse cx="300.7" cy="897.7" rx="2.37" ry="0.75" transform="rotate(-72 300.7 897.7)" fill="#9e5540" fill-opacity="0.5"/><ellipse cx="261.4" cy="908.8" rx="2.40" ry="0.76" transform="rotate(-72 261.4 908.8)" fill="#9e5540" fill-opacity="0.5"/><ellipse cx="262.8" cy="895.7" rx="2.35" ry="0.74" transform="rotate(-79 262.8 895.7)" fill="#9e5540" fill-opacity="0.5"/><ellipse cx="292.3" cy="888.4" rx="2.38" ry="0.75" transform="rotate(-50 292.3 888.4)" fill="#9e5540" fill-opacity="0.5"/><ellipse cx="250.8" cy="868.8" rx="1.42" ry="0.45" transform="rotate(-78 250.8 868.8)" fill="#9e5540" fill-opacity="0.5"/><ellipse cx="255.0" cy="891.0" rx="2.21" ry="0.70" transform="rotate(-29 255.0 891.0)" fill="#9e5540" fill-opacity="0.5"/><ellipse cx="266.8" cy="896.1" rx="2.47" ry="0.78" transform="rotate(-65 266.8 896.1)" fill="#9e5540" fill-opacity="0.5"/><ellipse cx="250.2" cy="913.6" rx="2.03" ry="0.64" transform="rotate(-26 250.2 913.6)" fill="#9e5540" fill-opacity="0.5"/><ellipse cx="296.7" cy="867.7" rx="2.26" ry="0.71" transform="rotate(-40 296.7 867.7)" fill="#9e5540" fill-opacity="0.5"/><ellipse cx="301.7" cy="914.3" rx="1.37" ry="0.43" transform="rotate(-70 301.7 914.3)" fill="#9e5540" fill-opacity="0.5"/><ellipse cx="245.6" cy="897.1" rx="2.04" ry="0.64" transform="rotate(-52 245.6 897.1)" fill="#9e5540" fill-opacity="0.5"/><ellipse cx="304.3" cy="883.8" rx="1.72" ry="0.54" transform="rotate(-20 304.3 883.8)" fill="#9e5540" fill-opacity="0.5"/><ellipse cx="254.5" cy="872.4" rx="1.74" ry="0.55" transform="rotate(-69 254.5 872.4)" fill="#9e5540" fill-opacity="0.5"/><ellipse cx="287.3" cy="913.3" rx="2.02" ry="0.64" transform="rotate(-71 287.3 913.3)" fill="#9e5540" fill-opacity="0.5"/><ellipse cx="282.9" cy="895.7" rx="2.33" ry="0.73" transform="rotate(-21 282.9 895.7)" fill="#9e5540" fill-opacity="0.5"/><ellipse cx="308.0" cy="895.3" rx="2.16" ry="0.68" transform="rotate(-28 308.0 895.3)" fill="#9e5540" fill-opacity="0.5"/><ellipse cx="303.9" cy="904.6" rx="1.98" ry="0.63" transform="rotate(-33 303.9 904.6)" fill="#9e5540" fill-opacity="0.5"/><ellipse cx="283.5" cy="888.8" rx="1.45" ry="0.46" transform="rotate(-61 283.5 888.8)" fill="#9e5540" fill-opacity="0.5"/><ellipse cx="302.5" cy="892.3" rx="2.18" ry="0.69" transform="rotate(-53 302.5 892.3)" fill="#9e5540" fill-opacity="0.5"/><ellipse cx="278.3" cy="874.9" rx="1.54" ry="0.49" transform="rotate(-63 278.3 874.9)" fill="#9e5540" fill-opacity="0.5"/><ellipse cx="283.3" cy="897.9" rx="2.32" ry="0.73" transform="rotate(-76 283.3 897.9)" fill="#9e5540" fill-opacity="0.5"/><ellipse cx="250.3" cy="898.0" rx="2.35" ry="0.74" transform="rotate(-49 250.3 898.0)" fill="#9e5540" fill-opacity="0.5"/><ellipse cx="272.8" cy="878.6" rx="1.84" ry="0.58" transform="rotate(-35 272.8 878.6)" fill="#9e5540" fill-opacity="0.5"/><ellipse cx="294.7" cy="895.3" rx="2.22" ry="0.70" transform="rotate(-24 294.7 895.3)" fill="#9e5540" fill-opacity="0.5"/><ellipse cx="275.1" cy="903.2" rx="1.48" ry="0.47" transform="rotate(-52 275.1 903.2)" fill="#9e5540" fill-opacity="0.5"/><ellipse cx="265.8" cy="895.6" rx="2.18" ry="0.69" transform="rotate(-48 265.8 895.6)" fill="#9e5540" fill-opacity="0.5"/><ellipse cx="258.7" cy="901.1" rx="1.62" ry="0.51" transform="rotate(-50 258.7 901.1)" fill="#9e5540" fill-opacity="0.5"/><ellipse cx="277.8" cy="876.1" rx="1.41" ry="0.44" transform="rotate(-67 277.8 876.1)" fill="#9e5540" fill-opacity="0.5"/><ellipse cx="279.5" cy="914.2" rx="2.18" ry="0.69" transform="rotate(-22 279.5 914.2)" fill="#9e5540" fill-opacity="0.5"/><ellipse cx="284.2" cy="871.6" rx="2.41" ry="0.76" transform="rotate(-37 284.2 871.6)" fill="#9e5540" fill-opacity="0.5"/><ellipse cx="291.1" cy="880.1" rx="2.45" ry="0.77" transform="rotate(-41 291.1 880.1)" fill="#9e5540" fill-opacity="0.5"/><ellipse cx="272.6" cy="892.6" rx="2.43" ry="0.77" transform="rotate(-33 272.6 892.6)" fill="#9e5540" fill-opacity="0.5"/><ellipse cx="303.7" cy="868.2" rx="1.56" ry="0.49" transform="rotate(-33 303.7 868.2)" fill="#9e5540" fill-opacity="0.5"/><ellipse cx="264.4" cy="880.6" rx="1.49" ry="0.47" transform="rotate(-39 264.4 880.6)" fill="#9e5540" fill-opacity="0.5"/><ellipse cx="309.4" cy="893.6" rx="2.19" ry="0.69" transform="rotate(-35 309.4 893.6)" fill="#9e5540" fill-opacity="0.5"/><ellipse cx="271.1" cy="881.3" rx="1.05" ry="0.93" transform="rotate(-43 271.1 881.3)" fill="#9a6070" fill-opacity="0.4"/><ellipse cx="282.7" cy="913.1" rx="1.02" ry="0.91" transform="rotate(79 282.7 913.1)" fill="#9a6070" fill-opacity="0.4"/><ellipse cx="275.9" cy="891.9" rx="0.79" ry="0.71" transform="rotate(7 275.9 891.9)" fill="#9a6070" fill-opacity="0.4"/><ellipse cx="272.8" cy="913.7" rx="0.89" ry="0.79" transform="rotate(49 272.8 913.7)" fill="#9a6070" fill-opacity="0.4"/><ellipse cx="273.1" cy="872.6" rx="1.02" ry="0.91" transform="rotate(30 273.1 872.6)" fill="#9a6070" fill-opacity="0.4"/><ellipse cx="248.2" cy="882.8" rx="0.78" ry="0.69" transform="rotate(-13 248.2 882.8)" fill="#9a6070" fill-opacity="0.4"/><ellipse cx="276.5" cy="889.4" rx="0.97" ry="0.86" transform="rotate(26 276.5 889.4)" fill="#9a6070" fill-opacity="0.4"/><ellipse cx="264.7" cy="900.6" rx="0.80" ry="0.71" transform="rotate(43 264.7 900.6)" fill="#9a6070" fill-opacity="0.4"/><ellipse cx="283.6" cy="897.2" rx="1.06" ry="0.95" transform="rotate(43 283.6 897.2)" fill="#9a6070" fill-opacity="0.4"/><ellipse cx="294.0" cy="909.4" rx="0.83" ry="0.74" transform="rotate(-72 294.0 909.4)" fill="#9a6070" fill-opacity="0.4"/><ellipse cx="295.4" cy="899.7" rx="0.86" ry="0.76" transform="rotate(58 295.4 899.7)" fill="#9a6070" fill-opacity="0.4"/><ellipse cx="262.7" cy="871.3" rx="0.80" ry="0.71" transform="rotate(82 262.7 871.3)" fill="#9a6070" fill-opacity="0.4"/><ellipse cx="292.4" cy="875.9" rx="1.05" ry="0.93" transform="rotate(45 292.4 875.9)" fill="#9a6070" fill-opacity="0.4"/><ellipse cx="299.9" cy="868.5" rx="1.04" ry="0.92" transform="rotate(75 299.9 868.5)" fill="#9a6070" fill-opacity="0.4"/><ellipse cx="293.9" cy="893.1" rx="0.86" ry="0.77" transform="rotate(43 293.9 893.1)" fill="#9a6070" fill-opacity="0.4"/><ellipse cx="260.2" cy="874.4" rx="0.79" ry="0.71" transform="rotate(-36 260.2 874.4)" fill="#9a6070" fill-opacity="0.4"/><ellipse cx="271.1" cy="914.8" rx="0.84" ry="0.74" transform="rotate(8 271.1 914.8)" fill="#9a6070" fill-opacity="0.4"/><ellipse cx="294.7" cy="901.1" rx="1.02" ry="0.91" transform="rotate(-17 294.7 901.1)" fill="#9a6070" fill-opacity="0.4"/><ellipse cx="299.8" cy="868.8" rx="1.11" ry="0.99" transform="rotate(-30 299.8 868.8)" fill="#9a6070" fill-opacity="0.4"/><ellipse cx="283.1" cy="877.7" rx="0.69" ry="0.61" transform="rotate(-7 283.1 877.7)" fill="#9a6070" fill-opacity="0.4"/><ellipse cx="286.4" cy="888.0" rx="0.78" ry="0.69" transform="rotate(66 286.4 888.0)" fill="#9a6070" fill-opacity="0.4"/><ellipse cx="270.6" cy="911.9" rx="1.07" ry="0.95" transform="rotate(-73 270.6 911.9)" fill="#9a6070" fill-opacity="0.4"/><ellipse cx="308.9" cy="908.5" rx="1.01" ry="0.90" transform="rotate(15 308.9 908.5)" fill="#9a6070" fill-opacity="0.4"/><ellipse cx="252.3" cy="892.3" rx="0.93" ry="0.83" transform="rotate(11 252.3 892.3)" fill="#9a6070" fill-opacity="0.4"/><ellipse cx="305.6" cy="899.2" rx="0.75" ry="0.66" transform="rotate(-2 305.6 899.2)" fill="#9a6070" fill-opacity="0.4"/><ellipse cx="254.4" cy="879.9" rx="0.84" ry="0.75" transform="rotate(-52 254.4 879.9)" fill="#9a6070" fill-opacity="0.4"/><ellipse cx="247.7" cy="872.2" rx="0.84" ry="0.75" transform="rotate(-51 247.7 872.2)" fill="#9a6070" fill-opacity="0.4"/><ellipse cx="286.2" cy="876.1" rx="1.06" ry="0.94" transform="rotate(-42 286.2 876.1)" fill="#9a6070" fill-opacity="0.4"/><ellipse cx="282.9" cy="900.3" rx="0.74" ry="0.66" transform="rotate(68 282.9 900.3)" fill="#9a6070" fill-opacity="0.4"/><ellipse cx="277.8" cy="903.6" rx="0.99" ry="0.88" transform="rotate(58 277.8 903.6)" fill="#9a6070" fill-opacity="0.4"/><ellipse cx="307.3" cy="914.2" rx="0.79" ry="0.71" transform="rotate(50 307.3 914.2)" fill="#9a6070" fill-opacity="0.4"/><ellipse cx="309.0" cy="872.2" rx="1.04" ry="0.92" transform="rotate(-50 309.0 872.2)" fill="#9a6070" fill-opacity="0.4"/><ellipse cx="262.9" cy="869.8" rx="0.99" ry="0.88" transform="rotate(-85 262.9 869.8)" fill="#9a6070" fill-opacity="0.4"/><ellipse cx="287.1" cy="895.4" rx="1.11" ry="0.99" transform="rotate(-86 287.1 895.4)" fill="#9a6070" fill-opacity="0.4"/><ellipse cx="307.2" cy="900.2" rx="0.87" ry="0.78" transform="rotate(30 307.2 900.2)" fill="#9a6070" fill-opacity="0.4"/><ellipse cx="286.9" cy="910.6" rx="0.79" ry="0.70" transform="rotate(71 286.9 910.6)" fill="#9a6070" fill-opacity="0.4"/><ellipse cx="266.5" cy="906.4" rx="0.79" ry="0.70" transform="rotate(-64 266.5 906.4)" fill="#9a6070" fill-opacity="0.4"/><ellipse cx="281.0" cy="893.7" rx="0.89" ry="0.79" transform="rotate(30 281.0 893.7)" fill="#9a6070" fill-opacity="0.4"/><ellipse cx="299.3" cy="868.0" rx="0.88" ry="0.78" transform="rotate(19 299.3 868.0)" fill="#9a6070" fill-opacity="0.4"/><ellipse cx="286.4" cy="883.5" rx="0.98" ry="0.87" transform="rotate(86 286.4 883.5)" fill="#9a6070" fill-opacity="0.4"/></g>
</g>
<rect x="244.60" y="867.30" width="64.90" height="47.80" fill="none" stroke="#9a9a9a" stroke-width="0.4"/>
<text transform="translate(11.40,839.70) rotate(-90)" font-size="5.4" text-anchor="middle" fill="#1a1a1a">L0605</text>
<text transform="translate(11.40,891.20) rotate(-90)" font-size="5.4" text-anchor="middle" fill="#1a1a1a">L0605</text>
<text transform="translate(87.80,839.70) rotate(-90)" font-size="5.4" text-anchor="middle" fill="#1a1a1a">L0125</text>
<text transform="translate(87.80,891.20) rotate(-90)" font-size="5.4" text-anchor="middle" fill="#1a1a1a">L0125</text>
<text transform="translate(166.20,839.70) rotate(-90)" font-size="5.4" text-anchor="middle" fill="#1a1a1a">L0420</text>
<text transform="translate(166.20,891.20) rotate(-90)" font-size="5.4" text-anchor="middle" fill="#1a1a1a">L0420</text>
<text transform="translate(243.00,839.70) rotate(-90)" font-size="5.4" text-anchor="middle" fill="#1a1a1a">L0315</text>
<text transform="translate(243.00,891.20) rotate(-90)" font-size="5.4" text-anchor="middle" fill="#1a1a1a">L0315</text>
<g class="sb">
<text x="321.60" y="802.20" font-size="12.5" font-weight="bold" fill="#000">G</text>
<text x="389.70" y="798.20" font-size="6.6" text-anchor="middle">MES GSCs</text>
<text x="389.70" y="804.00" font-size="4.5" text-anchor="middle">(input - no LCA enrichment)</text>
<text x="457.20" y="798.20" font-size="6.6" text-anchor="middle">MES GSCs</text>
<text x="457.20" y="804.00" font-size="4.5" text-anchor="middle">(LCA enrichment)</text>
<line x1="358.50" y1="806.90" x2="421.50" y2="806.90" stroke="#777" stroke-width="0.8"/>
<line x1="425.50" y1="806.90" x2="490.20" y2="806.90" stroke="#777" stroke-width="0.8"/>
<text transform="translate(360.00,821.8) rotate(-48)" font-size="5.3" fill="#1a1a1a">CTR</text>
<text transform="translate(371.00,821.8) rotate(-48)" font-size="5.3" fill="#1a1a1a">2FF</text>
<text transform="translate(381.60,821.8) rotate(-48)" font-size="5.3" fill="#1a1a1a">CTR</text>
<text transform="translate(392.00,821.8) rotate(-48)" font-size="5.3" fill="#1a1a1a">2FF</text>
<text transform="translate(403.00,821.8) rotate(-48)" font-size="5.3" fill="#1a1a1a">CTR</text>
<text transform="translate(413.60,821.8) rotate(-48)" font-size="5.3" fill="#1a1a1a">2FF</text>
<text transform="translate(428.60,821.8) rotate(-48)" font-size="5.3" fill="#1a1a1a">CTR</text>
<text transform="translate(439.00,821.8) rotate(-48)" font-size="5.3" fill="#1a1a1a">2FF</text>
<text transform="translate(449.60,821.8) rotate(-48)" font-size="5.3" fill="#1a1a1a">CTR</text>
<text transform="translate(459.80,821.8) rotate(-48)" font-size="5.3" fill="#1a1a1a">2FF</text>
<text transform="translate(469.60,821.8) rotate(-48)" font-size="5.3" fill="#1a1a1a">CTR</text>
<text transform="translate(480.00,821.8) rotate(-48)" font-size="5.3" fill="#1a1a1a">2FF</text>
<rect x="358.10" y="824.40" width="63.00" height="8.60" fill="#e4e4e4" stroke="#bcbcbc" stroke-width="0.4"/>
<rect x="358.10" y="833.50" width="63.00" height="8.10" fill="#e4e4e4" stroke="#bcbcbc" stroke-width="0.4"/>
<rect x="358.10" y="842.50" width="63.00" height="7.80" fill="#e4e4e4" stroke="#bcbcbc" stroke-width="0.4"/>
<rect x="424.70" y="824.40" width="63.60" height="8.60" fill="#e4e4e4" stroke="#bcbcbc" stroke-width="0.4"/>
<rect x="424.70" y="833.50" width="63.60" height="8.10" fill="#e4e4e4" stroke="#bcbcbc" stroke-width="0.4"/>
<rect x="424.70" y="842.50" width="63.60" height="7.80" fill="#e4e4e4" stroke="#bcbcbc" stroke-width="0.4"/>
<rect x="358.60" y="825.60" width="9.20" height="6.00" rx="1.60" fill="#151515" filter="url(#b1)"/>
<rect x="358.60" y="835.10" width="9.20" height="5.00" rx="1.60" fill="#151515" filter="url(#b1)"/>
<rect x="358.60" y="844.90" width="9.20" height="3.00" rx="1.00" fill="#202020" filter="url(#b1)"/>
<rect x="369.60" y="825.50" width="9.20" height="6.20" rx="1.60" fill="#0a0a0a" filter="url(#b1)"/>
<rect x="369.60" y="834.80" width="9.20" height="5.60" rx="1.60" fill="#0a0a0a" filter="url(#b1)"/>
<rect x="369.60" y="844.90" width="9.20" height="3.00" rx="1.00" fill="#202020" filter="url(#b1)"/>
<rect x="380.20" y="827.10" width="9.20" height="3.00" rx="1.00" fill="#a7a7a7" filter="url(#b1)"/>
<rect x="380.20" y="835.90" width="9.20" height="3.40" rx="1.13" fill="#2b2b2b" filter="url(#b1)"/>
<rect x="380.20" y="844.90" width="9.20" height="3.00" rx="1.00" fill="#202020" filter="url(#b1)"/>
<rect x="390.60" y="827.10" width="9.20" height="3.00" rx="1.00" fill="#b9b9b9" filter="url(#b1)"/>
<rect x="390.60" y="835.90" width="9.20" height="3.40" rx="1.13" fill="#373737" filter="url(#b1)"/>
<rect x="390.60" y="844.90" width="9.20" height="3.00" rx="1.00" fill="#202020" filter="url(#b1)"/>
<rect x="401.60" y="826.60" width="9.20" height="4.00" rx="1.33" fill="#2b2b2b" filter="url(#b1)"/>
<rect x="401.60" y="835.40" width="9.20" height="4.40" rx="1.47" fill="#151515" filter="url(#b1)"/>
<rect x="401.60" y="844.90" width="9.20" height="3.00" rx="1.00" fill="#202020" filter="url(#b1)"/>
<rect x="412.20" y="826.40" width="9.20" height="4.40" rx="1.47" fill="#373737" filter="url(#b1)"/>
<rect x="412.20" y="835.40" width="9.20" height="4.40" rx="1.47" fill="#151515" filter="url(#b1)"/>
<rect x="412.20" y="844.90" width="9.20" height="3.00" rx="1.00" fill="#202020" filter="url(#b1)"/>
<rect x="427.20" y="826.90" width="9.20" height="3.40" rx="1.13" fill="#4d4d4d" filter="url(#b1)"/>
<rect x="427.20" y="835.40" width="9.20" height="4.40" rx="1.47" fill="#151515" filter="url(#b1)"/>
<rect x="427.20" y="844.40" width="9.20" height="4.00" rx="1.33" fill="#151515" filter="url(#b1)"/>
<rect x="437.60" y="827.10" width="9.20" height="3.00" rx="1.00" fill="#b2b2b2" filter="url(#b1)"/>
<rect x="437.60" y="836.10" width="9.20" height="3.00" rx="1.00" fill="#7a7a7a" filter="url(#b1)"/>
<rect x="437.60" y="844.40" width="9.20" height="4.00" rx="1.33" fill="#151515" filter="url(#b1)"/>
<rect x="448.20" y="826.60" width="9.20" height="4.00" rx="1.33" fill="#424242" filter="url(#b1)"/>
<rect x="448.20" y="835.30" width="9.20" height="4.60" rx="1.53" fill="#101010" filter="url(#b1)"/>
<rect x="448.20" y="843.90" width="9.20" height="5.00" rx="1.60" fill="#0e0e0e" filter="url(#b1)"/>
<rect x="458.40" y="827.10" width="9.20" height="3.00" rx="1.00" fill="#d0d0d0" filter="url(#b1)"/>
<rect x="458.40" y="836.10" width="9.20" height="3.00" rx="1.00" fill="#646464" filter="url(#b1)"/>
<rect x="458.40" y="843.90" width="9.20" height="5.00" rx="1.60" fill="#0e0e0e" filter="url(#b1)"/>
<rect x="468.20" y="826.40" width="9.20" height="4.40" rx="1.47" fill="#151515" filter="url(#b1)"/>
<rect x="468.20" y="835.30" width="9.20" height="4.60" rx="1.53" fill="#101010" filter="url(#b1)"/>
<rect x="468.20" y="843.90" width="9.20" height="5.00" rx="1.60" fill="#0e0e0e" filter="url(#b1)"/>
<rect x="478.60" y="826.90" width="9.20" height="3.40" rx="1.13" fill="#9c9c9c" filter="url(#b1)"/>
<rect x="478.60" y="835.80" width="9.20" height="3.60" rx="1.20" fill="#2b2b2b" filter="url(#b1)"/>
<rect x="478.60" y="843.90" width="9.20" height="5.00" rx="1.60" fill="#0e0e0e" filter="url(#b1)"/>
<text x="354.60" y="831.20" font-size="6.9" text-anchor="end">ITGA3</text>
<text x="354.60" y="840.40" font-size="6.9" text-anchor="end">CD44</text>
<text x="354.60" y="849.60" font-size="7.2" text-anchor="end">β-Tubulin</text>
<text x="490.60" y="829.60" font-size="4.6">- 119 KDa</text>
<text x="490.60" y="838.70" font-size="4.6">- 80 KDa</text>
<text x="490.60" y="848.40" font-size="4.6">- 55 KDa</text>
<line x1="358.50" y1="852.80" x2="376.00" y2="852.80" stroke="#777" stroke-width="0.7"/>
<text x="367.70" y="858.40" font-size="5.9" text-anchor="middle">U87</text>
<line x1="380.00" y1="852.80" x2="399.00" y2="852.80" stroke="#777" stroke-width="0.7"/>
<text x="390.20" y="858.40" font-size="5.9" text-anchor="middle">L1312</text>
<line x1="401.50" y1="852.80" x2="421.00" y2="852.80" stroke="#777" stroke-width="0.7"/>
<text x="411.40" y="858.40" font-size="5.9" text-anchor="middle">L0315</text>
<line x1="425.00" y1="852.80" x2="445.00" y2="852.80" stroke="#777" stroke-width="0.7"/>
<text x="435.20" y="858.40" font-size="5.9" text-anchor="middle">U87</text>
<line x1="447.50" y1="852.80" x2="467.00" y2="852.80" stroke="#777" stroke-width="0.7"/>
<text x="457.80" y="858.40" font-size="5.9" text-anchor="middle">L1312</text>
<line x1="468.00" y1="852.80" x2="488.00" y2="852.80" stroke="#777" stroke-width="0.7"/>
<text x="478.00" y="858.40" font-size="5.9" text-anchor="middle">L0315</text>
</g><g class="sb3">
<text x="387.50" y="869.20" font-size="5.3" text-anchor="middle">ITGA3</text>
<line x1="357.70" y1="876.55" x2="357.70" y2="915.40" stroke="#444" stroke-width="0.8"/>
<line x1="356.40" y1="876.55" x2="357.70" y2="876.55" stroke="#444" stroke-width="0.7"/>
<text x="355.80" y="878.13" font-size="4.4" text-anchor="end" fill="#444">1.5</text>
<line x1="356.40" y1="889.50" x2="357.70" y2="889.50" stroke="#444" stroke-width="0.7"/>
<text x="355.80" y="891.08" font-size="4.4" text-anchor="end" fill="#444">1.0</text>
<line x1="356.40" y1="902.45" x2="357.70" y2="902.45" stroke="#444" stroke-width="0.7"/>
<text x="355.80" y="904.03" font-size="4.4" text-anchor="end" fill="#444">0.5</text>
<line x1="356.40" y1="915.40" x2="357.70" y2="915.40" stroke="#444" stroke-width="0.7"/>
<text x="355.80" y="916.98" font-size="4.4" text-anchor="end" fill="#444">0.0</text>
<line x1="357.70" y1="915.40" x2="416.90" y2="915.40" stroke="#444" stroke-width="0.7"/>
<line x1="365.75" y1="893.38" x2="365.75" y2="893.38" stroke="#222" stroke-width="0.55"/>
<line x1="365.75" y1="907.63" x2="365.75" y2="907.63" stroke="#222" stroke-width="0.55"/>
<line x1="364.02" y1="893.38" x2="367.48" y2="893.38" stroke="#222" stroke-width="0.55"/>
<line x1="364.02" y1="907.63" x2="367.48" y2="907.63" stroke="#222" stroke-width="0.55"/>
<rect x="362.30" y="893.38" width="6.90" height="14.25" fill="#ffffff" stroke="#222" stroke-width="0.6"/>
<line x1="362.30" y1="902.45" x2="369.20" y2="902.45" stroke="#222" stroke-width="0.6"/>
<line x1="380.40" y1="891.57" x2="380.40" y2="893.38" stroke="#222" stroke-width="0.55"/>
<line x1="380.40" y1="907.63" x2="380.40" y2="907.63" stroke="#222" stroke-width="0.55"/>
<line x1="378.30" y1="891.57" x2="382.50" y2="891.57" stroke="#222" stroke-width="0.55"/>
<line x1="378.30" y1="907.63" x2="382.50" y2="907.63" stroke="#222" stroke-width="0.55"/>
<rect x="376.20" y="893.38" width="8.40" height="14.25" fill="#c8c8c8" stroke="#222" stroke-width="0.6"/>
<line x1="376.20" y1="902.45" x2="384.60" y2="902.45" stroke="#222" stroke-width="0.6"/>
<line x1="376.20" y1="903.75" x2="384.60" y2="903.75" stroke="#444" stroke-width="0.45"/>
<line x1="393.85" y1="886.91" x2="393.85" y2="889.50" stroke="#222" stroke-width="0.55"/>
<line x1="393.85" y1="898.56" x2="393.85" y2="902.45" stroke="#222" stroke-width="0.55"/>
<line x1="391.52" y1="886.91" x2="396.17" y2="886.91" stroke="#222" stroke-width="0.55"/>
<line x1="391.52" y1="902.45" x2="396.17" y2="902.45" stroke="#222" stroke-width="0.55"/>
<rect x="389.20" y="889.50" width="9.30" height="9.06" fill="#ffffff" stroke="#222" stroke-width="0.6"/>
<line x1="389.20" y1="894.68" x2="398.50" y2="894.68" stroke="#222" stroke-width="0.6"/>
<line x1="407.90" y1="901.15" x2="407.90" y2="903.75" stroke="#222" stroke-width="0.55"/>
<line x1="407.90" y1="908.92" x2="407.90" y2="910.74" stroke="#222" stroke-width="0.55"/>
<line x1="406.10" y1="901.15" x2="409.70" y2="901.15" stroke="#222" stroke-width="0.55"/>
<line x1="406.10" y1="910.74" x2="409.70" y2="910.74" stroke="#222" stroke-width="0.55"/>
<rect x="404.30" y="903.75" width="7.20" height="5.18" fill="#c8c8c8" stroke="#222" stroke-width="0.6"/>
<line x1="404.30" y1="906.33" x2="411.50" y2="906.33" stroke="#222" stroke-width="0.6"/>
<line x1="404.30" y1="905.04" x2="411.50" y2="905.04" stroke="#444" stroke-width="0.45"/>
<text x="373.30" y="880.60" font-size="4.4" text-anchor="middle">ns</text>
<path d="M365.8 891V882.3H380.3V889.5" stroke="#777" stroke-width="0.5" fill="none"/>
<text x="400.80" y="881.40" font-size="5.8" text-anchor="middle" font-weight="bold">**</text>
<path d="M393.8 885.8V882.3H407.7V899.6" stroke="#777" stroke-width="0.5" fill="none"/>
<line x1="363.00" y1="917.30" x2="383.80" y2="917.30" stroke="#aaa" stroke-width="1.1"/>
<line x1="390.80" y1="917.30" x2="410.80" y2="917.30" stroke="#aaa" stroke-width="1.1"/>
<text x="373.80" y="923.10" font-size="4.4" text-anchor="middle">No LCA</text>
<text x="373.80" y="928.00" font-size="4.4" text-anchor="middle">enrichment</text>
<text x="401.00" y="923.10" font-size="4.4" text-anchor="middle">LCA</text>
<text x="401.00" y="928.00" font-size="4.4" text-anchor="middle">enrichment</text>
<text transform="translate(344.60,895.40) rotate(-90)" font-size="4.6" text-anchor="middle" fill="#1a1a1a">ITGA3/β-tubulin</text>
<text x="462.30" y="869.20" font-size="5.3" text-anchor="middle">CD44</text>
<line x1="435.40" y1="876.00" x2="435.40" y2="915.80" stroke="#444" stroke-width="0.8"/>
<line x1="434.10" y1="876.00" x2="435.40" y2="876.00" stroke="#444" stroke-width="0.7"/>
<text x="433.50" y="877.58" font-size="4.4" text-anchor="end" fill="#444">2.0</text>
<line x1="434.10" y1="885.95" x2="435.40" y2="885.95" stroke="#444" stroke-width="0.7"/>
<text x="433.50" y="887.53" font-size="4.4" text-anchor="end" fill="#444">1.5</text>
<line x1="434.10" y1="895.90" x2="435.40" y2="895.90" stroke="#444" stroke-width="0.7"/>
<text x="433.50" y="897.48" font-size="4.4" text-anchor="end" fill="#444">1.0</text>
<line x1="434.10" y1="905.85" x2="435.40" y2="905.85" stroke="#444" stroke-width="0.7"/>
<text x="433.50" y="907.43" font-size="4.4" text-anchor="end" fill="#444">0.5</text>
<line x1="434.10" y1="915.80" x2="435.40" y2="915.80" stroke="#444" stroke-width="0.7"/>
<text x="433.50" y="917.38" font-size="4.4" text-anchor="end" fill="#444">0.0</text>
<line x1="435.40" y1="915.80" x2="492.10" y2="915.80" stroke="#444" stroke-width="0.7"/>
<line x1="444.35" y1="891.92" x2="444.35" y2="892.91" stroke="#222" stroke-width="0.55"/>
<line x1="444.35" y1="896.89" x2="444.35" y2="897.89" stroke="#222" stroke-width="0.55"/>
<line x1="442.27" y1="891.92" x2="446.42" y2="891.92" stroke="#222" stroke-width="0.55"/>
<line x1="442.27" y1="897.89" x2="446.42" y2="897.89" stroke="#222" stroke-width="0.55"/>
<rect x="440.20" y="892.91" width="8.30" height="3.98" fill="#ffffff" stroke="#222" stroke-width="0.6"/>
<line x1="440.20" y1="894.90" x2="448.50" y2="894.90" stroke="#222" stroke-width="0.6"/>
<line x1="457.80" y1="891.52" x2="457.80" y2="892.91" stroke="#222" stroke-width="0.55"/>
<line x1="457.80" y1="896.89" x2="457.80" y2="897.49" stroke="#222" stroke-width="0.55"/>
<line x1="455.75" y1="891.52" x2="459.85" y2="891.52" stroke="#222" stroke-width="0.55"/>
<line x1="455.75" y1="897.49" x2="459.85" y2="897.49" stroke="#222" stroke-width="0.55"/>
<rect x="453.70" y="892.91" width="8.20" height="3.98" fill="#c8c8c8" stroke="#222" stroke-width="0.6"/>
<line x1="453.70" y1="894.90" x2="461.90" y2="894.90" stroke="#222" stroke-width="0.6"/>
<line x1="471.45" y1="885.95" x2="471.45" y2="886.94" stroke="#222" stroke-width="0.55"/>
<line x1="471.45" y1="895.90" x2="471.45" y2="896.30" stroke="#222" stroke-width="0.55"/>
<line x1="469.28" y1="885.95" x2="473.63" y2="885.95" stroke="#222" stroke-width="0.55"/>
<line x1="469.28" y1="896.30" x2="473.63" y2="896.30" stroke="#222" stroke-width="0.55"/>
<rect x="467.10" y="886.94" width="8.70" height="8.96" fill="#ffffff" stroke="#222" stroke-width="0.6"/>
<line x1="467.10" y1="895.50" x2="475.80" y2="895.50" stroke="#222" stroke-width="0.6"/>
<line x1="485.20" y1="901.87" x2="485.20" y2="905.85" stroke="#222" stroke-width="0.55"/>
<line x1="485.20" y1="908.83" x2="485.20" y2="909.83" stroke="#222" stroke-width="0.55"/>
<line x1="483.20" y1="901.87" x2="487.20" y2="901.87" stroke="#222" stroke-width="0.55"/>
<line x1="483.20" y1="909.83" x2="487.20" y2="909.83" stroke="#222" stroke-width="0.55"/>
<rect x="481.20" y="905.85" width="8.00" height="2.99" fill="#c8c8c8" stroke="#222" stroke-width="0.6"/>
<line x1="481.20" y1="907.44" x2="489.20" y2="907.44" stroke="#222" stroke-width="0.6"/>
<text x="451.70" y="879.80" font-size="4.4" text-anchor="middle">ns</text>
<path d="M444 891.5V881.2H458V891" stroke="#777" stroke-width="0.5" fill="none"/>
<text x="479.60" y="880.50" font-size="5.4" text-anchor="middle" font-weight="bold">****</text>
<path d="M471.5 884.5V881.2H485.4V901" stroke="#777" stroke-width="0.5" fill="none"/>
<line x1="440.80" y1="917.30" x2="461.30" y2="917.30" stroke="#aaa" stroke-width="1.1"/>
<line x1="468.00" y1="917.30" x2="488.30" y2="917.30" stroke="#aaa" stroke-width="1.1"/>
<text x="450.80" y="923.10" font-size="4.4" text-anchor="middle">No LCA</text>
<text x="450.80" y="928.00" font-size="4.4" text-anchor="middle">enrichment</text>
<text x="478.70" y="923.10" font-size="4.4" text-anchor="middle">LCA</text>
<text x="478.70" y="928.00" font-size="4.4" text-anchor="middle">enrichment</text>
<text transform="translate(425.40,896.50) rotate(-90)" font-size="4.6" text-anchor="middle" fill="#1a1a1a">CD44/β-tubulin</text>
<rect x="499.40" y="877.30" width="3.80" height="3.00" fill="#fff" stroke="#222" stroke-width="0.55"/>
<text x="504.80" y="880.60" font-size="4.8">CTR</text>
<rect x="499.40" y="883.70" width="3.80" height="3.00" fill="#c8c8c8" stroke="#222" stroke-width="0.55"/>
<text x="504.80" y="887.00" font-size="4.8">2FF</text>
</g>
<g>
<text x="3.60" y="944.00" font-size="12.5" font-weight="bold" fill="#000">H</text>
<text x="59.50" y="951.00" font-size="6.1" text-anchor="middle" font-weight="bold">MES GSCs</text>
<text x="60.30" y="956.30" font-size="4.6" text-anchor="middle" font-weight="bold">(input - no LCA enrichment)</text>
<text x="126.30" y="951.00" font-size="6.1" text-anchor="middle" font-weight="bold">MES GSCs</text>
<text x="126.50" y="956.30" font-size="4.6" text-anchor="middle" font-weight="bold">(LCA enrichment)</text>
<line x1="29.20" y1="958.60" x2="91.30" y2="958.60" stroke="#777" stroke-width="0.9"/>
<line x1="95.50" y1="958.90" x2="157.60" y2="958.90" stroke="#777" stroke-width="0.9"/>
<text transform="translate(37.80,984.0) rotate(-60)" font-size="5.4" font-weight="bold" fill="#1a1a1a">sh<tspan font-style="italic">EV</tspan></text>
<text transform="translate(55.60,984.0) rotate(-60)" font-size="5.4" font-weight="bold" fill="#1a1a1a">sh<tspan font-style="italic">FUT8_1</tspan></text>
<text transform="translate(73.80,984.0) rotate(-60)" font-size="5.4" font-weight="bold" fill="#1a1a1a">sh<tspan font-style="italic">FUT8_2</tspan></text>
<text transform="translate(104.00,984.0) rotate(-60)" font-size="5.4" font-weight="bold" fill="#1a1a1a">sh<tspan font-style="italic">EV</tspan></text>
<text transform="translate(124.20,984.0) rotate(-60)" font-size="5.4" font-weight="bold" fill="#1a1a1a">sh<tspan font-style="italic">FUT8_1</tspan></text>
<text transform="translate(143.40,984.0) rotate(-60)" font-size="5.4" font-weight="bold" fill="#1a1a1a">sh<tspan font-style="italic">FUT8_2</tspan></text>
<rect x="30.10" y="985.70" width="58.50" height="9.10" fill="#e4e4e4" stroke="#b9b9b9" stroke-width="0.4"/>
<rect x="30.10" y="995.90" width="58.50" height="9.40" fill="#e4e4e4" stroke="#b9b9b9" stroke-width="0.4"/>
<rect x="30.10" y="1006.20" width="58.50" height="8.50" fill="#e4e4e4" stroke="#b9b9b9" stroke-width="0.4"/>
<rect x="95.50" y="985.70" width="59.40" height="9.10" fill="#e4e4e4" stroke="#b9b9b9" stroke-width="0.4"/>
<rect x="95.50" y="995.90" width="59.40" height="9.40" fill="#e4e4e4" stroke="#b9b9b9" stroke-width="0.4"/>
<rect x="95.50" y="1006.20" width="59.40" height="8.50" fill="#e4e4e4" stroke="#b9b9b9" stroke-width="0.4"/>
<rect x="32.60" y="988.60" width="16.00" height="2.60" rx="0.87" fill="#4d4d4d" filter="url(#b1)"/>
<rect x="32.60" y="997.80" width="16.00" height="5.20" rx="1.60" fill="#0e0e0e" filter="url(#b1)"/>
<rect x="32.60" y="1008.60" width="16.00" height="3.60" rx="1.20" fill="#151515" filter="url(#b1)"/>
<rect x="50.40" y="987.80" width="16.00" height="5.00" rx="1.60" fill="#101010" filter="url(#b1)"/>
<rect x="50.40" y="997.80" width="16.00" height="5.20" rx="1.60" fill="#101010" filter="url(#b1)"/>
<rect x="50.40" y="1008.60" width="16.00" height="3.60" rx="1.20" fill="#151515" filter="url(#b1)"/>
<rect x="68.60" y="987.80" width="16.00" height="5.00" rx="1.60" fill="#151515" filter="url(#b1)"/>
<rect x="68.60" y="997.80" width="16.00" height="5.20" rx="1.60" fill="#101010" filter="url(#b1)"/>
<rect x="68.60" y="1008.60" width="16.00" height="3.60" rx="1.20" fill="#151515" filter="url(#b1)"/>
<rect x="98.80" y="988.60" width="16.00" height="2.60" rx="0.87" fill="#494949" filter="url(#b1)"/>
<rect x="98.80" y="997.80" width="16.00" height="5.20" rx="1.60" fill="#151515" filter="url(#b1)"/>
<rect x="98.80" y="1008.60" width="16.00" height="3.60" rx="1.20" fill="#151515" filter="url(#b1)"/>
<rect x="119.00" y="988.60" width="16.00" height="2.60" rx="0.87" fill="#a3a3a3" filter="url(#b1)"/>
<rect x="119.00" y="999.00" width="16.00" height="3.00" rx="1.00" fill="#aeaeae" filter="url(#b1)"/>
<rect x="119.00" y="1008.60" width="16.00" height="3.60" rx="1.20" fill="#101010" filter="url(#b1)"/>
<rect x="138.20" y="988.60" width="16.00" height="2.60" rx="0.87" fill="#8c8c8c" filter="url(#b1)"/>
<rect x="138.20" y="999.00" width="16.00" height="3.00" rx="1.00" fill="#a3a3a3" filter="url(#b1)"/>
<rect x="138.20" y="1008.60" width="16.00" height="3.60" rx="1.20" fill="#0e0e0e" filter="url(#b1)"/>
<text x="29.40" y="993.00" font-size="7.3" text-anchor="end" font-weight="bold">ITGA3</text>
<text x="29.40" y="1003.20" font-size="7.3" text-anchor="end" font-weight="bold">CD44</text>
<text x="29.40" y="1012.80" font-size="6.7" text-anchor="end" font-weight="bold">β-tubulin</text>
<text x="156.50" y="991.80" font-size="4.7" font-weight="bold">- 119 KDa</text>
<text x="156.50" y="1002.30" font-size="4.7" font-weight="bold">- 80 KDa</text>
<text x="156.50" y="1012.90" font-size="4.7" font-weight="bold">- 55 KDa</text>
<line x1="42.90" y1="1018.40" x2="146.60" y2="1018.40" stroke="#777" stroke-width="0.9"/>
<text x="91.00" y="1025.60" font-size="6.0" text-anchor="middle" font-weight="bold">L1312</text>
</g><g class="sb3">
<text x="53.90" y="1035.60" font-size="5.6" text-anchor="middle">ITGA3</text>
<line x1="24.30" y1="1048.75" x2="24.30" y2="1087.90" stroke="#444" stroke-width="0.8"/>
<line x1="23.00" y1="1048.75" x2="24.30" y2="1048.75" stroke="#444" stroke-width="0.7"/>
<text x="22.40" y="1050.37" font-size="4.5" text-anchor="end" fill="#444">1.5</text>
<line x1="23.00" y1="1061.80" x2="24.30" y2="1061.80" stroke="#444" stroke-width="0.7"/>
<text x="22.40" y="1063.42" font-size="4.5" text-anchor="end" fill="#444">1.0</text>
<line x1="23.00" y1="1074.85" x2="24.30" y2="1074.85" stroke="#444" stroke-width="0.7"/>
<text x="22.40" y="1076.47" font-size="4.5" text-anchor="end" fill="#444">0.5</text>
<line x1="23.00" y1="1087.90" x2="24.30" y2="1087.90" stroke="#444" stroke-width="0.7"/>
<text x="22.40" y="1089.52" font-size="4.5" text-anchor="end" fill="#444">0.0</text>
<line x1="24.30" y1="1087.90" x2="80.20" y2="1087.90" stroke="#444" stroke-width="0.7"/>
<rect x="27.90" y="1061.80" width="5.20" height="1.30" fill="#dcdcdc" stroke="#444" stroke-width="0.5"/>
<line x1="36.00" y1="1059.19" x2="41.80" y2="1059.19" stroke="#aaa" stroke-width="1.0"/>
<rect x="45.00" y="1060.50" width="6.60" height="1.83" fill="#555" stroke="#222" stroke-width="0.5"/>
<line x1="54.90" y1="1062.32" x2="60.60" y2="1062.32" stroke="#333" stroke-width="1.2"/>
<line x1="64.70" y1="1070.94" x2="70.40" y2="1070.94" stroke="#111" stroke-width="1.2"/>
<line x1="74.50" y1="1069.11" x2="79.40" y2="1069.11" stroke="#bbb" stroke-width="0.9"/>
<text x="39.30" y="1042.50" font-size="4.4" text-anchor="middle">ns</text>
<path d="M29.8 1048.4V1044.6H48.8V1059.6" stroke="#999" stroke-width="0.5" fill="none"/>
<text x="34.40" y="1052.20" font-size="4.4" text-anchor="middle">ns</text>
<path d="M29.8 1057.5V1053.6H39.3V1056.6" stroke="#999" stroke-width="0.5" fill="none"/>
<text x="67.90" y="1043.60" font-size="6.0" text-anchor="middle" font-weight="bold">*</text>
<path d="M57.6 1048.4V1044.6H76.9V1066.4" stroke="#999" stroke-width="0.5" fill="none"/>
<text x="63.00" y="1052.80" font-size="6.0" text-anchor="middle" font-weight="bold">**</text>
<path d="M57.6 1057.5V1053.6H67.1V1068.8" stroke="#999" stroke-width="0.5" fill="none"/>
<line x1="32.00" y1="1089.30" x2="47.20" y2="1089.30" stroke="#aaa" stroke-width="1.0"/>
<line x1="58.90" y1="1089.30" x2="75.00" y2="1089.30" stroke="#aaa" stroke-width="1.0"/>
<text x="39.30" y="1095.20" font-size="4.6" text-anchor="middle">No LCA</text>
<text x="39.30" y="1100.60" font-size="4.6" text-anchor="middle">enrichment</text>
<text x="67.10" y="1095.20" font-size="4.6" text-anchor="middle">LCA</text>
<text x="67.10" y="1100.60" font-size="4.6" text-anchor="middle">enrichment</text>
<text transform="translate(12.40,1069.10) rotate(-90)" font-size="4.7" text-anchor="middle" fill="#1a1a1a">ITGA3/β-tubulin</text>
<text x="136.50" y="1035.60" font-size="5.6" text-anchor="middle">CD44</text>
<line x1="106.80" y1="1046.20" x2="106.80" y2="1087.90" stroke="#444" stroke-width="0.8"/>
<line x1="105.50" y1="1046.20" x2="106.80" y2="1046.20" stroke="#444" stroke-width="0.7"/>
<text x="104.90" y="1047.82" font-size="4.5" text-anchor="end" fill="#444">1.5</text>
<line x1="105.50" y1="1060.10" x2="106.80" y2="1060.10" stroke="#444" stroke-width="0.7"/>
<text x="104.90" y="1061.72" font-size="4.5" text-anchor="end" fill="#444">1.0</text>
<line x1="105.50" y1="1074.00" x2="106.80" y2="1074.00" stroke="#444" stroke-width="0.7"/>
<text x="104.90" y="1075.62" font-size="4.5" text-anchor="end" fill="#444">0.5</text>
<line x1="105.50" y1="1087.90" x2="106.80" y2="1087.90" stroke="#444" stroke-width="0.7"/>
<text x="104.90" y="1089.52" font-size="4.5" text-anchor="end" fill="#444">0.0</text>
<line x1="106.80" y1="1087.90" x2="164.80" y2="1087.90" stroke="#444" stroke-width="0.7"/>
<line x1="110.10" y1="1060.66" x2="116.60" y2="1060.66" stroke="#333" stroke-width="1.1"/>
<rect x="119.90" y="1057.32" width="6.50" height="2.78" fill="#cfcfcf" stroke="#555" stroke-width="0.5"/>
<rect x="128.90" y="1063.44" width="6.50" height="3.61" fill="#5a5a5a" stroke="#222" stroke-width="0.5"/>
<rect x="139.50" y="1057.88" width="5.70" height="2.22" fill="#d6d6d6" stroke="#555" stroke-width="0.5"/>
<rect x="149.30" y="1071.22" width="5.70" height="5.00" fill="#cfcfcf" stroke="#555" stroke-width="0.5"/>
<line x1="158.60" y1="1073.17" x2="164.60" y2="1073.17" stroke="#222" stroke-width="1.1"/>
<text x="122.30" y="1042.50" font-size="4.4" text-anchor="middle">ns</text>
<path d="M112.8 1048.4V1044.6H131.8V1062.5" stroke="#999" stroke-width="0.5" fill="none"/>
<text x="118.20" y="1052.20" font-size="4.4" text-anchor="middle">ns</text>
<path d="M112.8 1057.5V1053.6H122.3V1057.7" stroke="#999" stroke-width="0.5" fill="none"/>
<text x="152.60" y="1043.60" font-size="6.0" text-anchor="middle" font-weight="bold">*</text>
<path d="M142.8 1048.4V1044.6H162.4V1072.4" stroke="#999" stroke-width="0.5" fill="none"/>
<text x="147.70" y="1052.20" font-size="6.0" text-anchor="middle" font-weight="bold">**</text>
<path d="M142.8 1055.5V1051.2H153.1V1069.1" stroke="#999" stroke-width="0.5" fill="none"/>
<line x1="115.80" y1="1089.30" x2="130.80" y2="1089.30" stroke="#aaa" stroke-width="1.0"/>
<line x1="142.80" y1="1089.30" x2="158.30" y2="1089.30" stroke="#aaa" stroke-width="1.0"/>
<text x="123.10" y="1095.20" font-size="4.6" text-anchor="middle">No LCA</text>
<text x="123.10" y="1100.60" font-size="4.6" text-anchor="middle">enrichment</text>
<text x="151.70" y="1095.20" font-size="4.6" text-anchor="middle">LCA</text>
<text x="151.70" y="1100.60" font-size="4.6" text-anchor="middle">enrichment</text>
<text transform="translate(93.60,1069.10) rotate(-90)" font-size="4.7" text-anchor="middle" fill="#1a1a1a">CD44/β-tubulin</text>
<rect x="43.80" y="1107.40" width="5.30" height="4.60" fill="#fff" stroke="#444" stroke-width="0.5"/>
<text x="51.20" y="1111.90" font-size="5.6">sh<tspan font-style="italic">EV</tspan></text>
<rect x="76.70" y="1107.40" width="5.30" height="4.60" fill="#cfcfcf" stroke="#444" stroke-width="0.5"/>
<text x="84.00" y="1111.90" font-size="5.6">sh<tspan font-style="italic">FUT8_1</tspan></text>
<rect x="113.30" y="1107.40" width="5.30" height="4.60" fill="#555" stroke="#222" stroke-width="0.5"/>
<text x="120.60" y="1111.90" font-size="5.6">sh<tspan font-style="italic">FUT8_2</tspan></text>
</g>
<g class="sb2">
<text x="196.20" y="944.00" font-size="12.5" font-weight="bold" fill="#000">I</text>
<clipPath id="clipI1"><rect x="216.10" y="945.40" width="60.40" height="82.30"/></clipPath>
<g clip-path="url(#clipI1)">
<rect x="216.10" y="945.40" width="60.40" height="82.30" fill="#5f5f5f"/>
<rect x="216.10" y="945.40" width="60.40" height="82.30" fill="#fff" filter="url(#gL)"/>
<rect x="216.10" y="945.40" width="60.40" height="82.30" fill="#fff" filter="url(#gD)"/>
</g>
<rect x="268.00" y="1025.30" width="7.50" height="1.80" fill="#e8e8e8"/>
<clipPath id="clipI2"><rect x="279.20" y="945.40" width="61.10" height="82.30"/></clipPath>
<g clip-path="url(#clipI2)">
<rect x="279.20" y="945.40" width="61.10" height="82.30" fill="#646464"/>
<rect x="279.20" y="945.40" width="61.10" height="82.30" fill="#fff" filter="url(#gL2)"/>
<rect x="279.20" y="945.40" width="61.10" height="82.30" fill="#fff" filter="url(#gD)"/>
</g>
<rect x="331.80" y="1025.30" width="7.50" height="1.80" fill="#e8e8e8"/>
<clipPath id="clipI3"><rect x="349.70" y="945.40" width="61.20" height="82.30"/></clipPath>
<g clip-path="url(#clipI3)">
<rect x="349.70" y="945.40" width="61.20" height="82.30" fill="#5f5f5f"/>
<rect x="349.70" y="945.40" width="61.20" height="82.30" fill="#fff" filter="url(#gL)"/>
<rect x="349.70" y="945.40" width="61.20" height="82.30" fill="#fff" filter="url(#gD)"/>
</g>
<rect x="402.40" y="1025.30" width="7.50" height="1.80" fill="#e8e8e8"/>
<clipPath id="clipI4"><rect x="413.40" y="945.40" width="60.90" height="82.30"/></clipPath>
<g clip-path="url(#clipI4)">
<rect x="413.40" y="945.40" width="60.90" height="82.30" fill="#646464"/>
<rect x="413.40" y="945.40" width="60.90" height="82.30" fill="#fff" filter="url(#gL2)"/>
<rect x="413.40" y="945.40" width="60.90" height="82.30" fill="#fff" filter="url(#gD)"/>
</g>
<rect x="465.80" y="1025.30" width="7.50" height="1.80" fill="#e8e8e8"/>
<clipPath id="clipI5"><rect x="216.10" y="1030.00" width="60.40" height="82.30"/></clipPath>
<g clip-path="url(#clipI5)">
<rect x="216.10" y="1030.00" width="60.40" height="82.30" fill="#5f5f5f"/>
<rect x="216.10" y="1030.00" width="60.40" height="82.30" fill="#fff" filter="url(#gL)"/>
<rect x="216.10" y="1030.00" width="60.40" height="82.30" fill="#fff" filter="url(#gD)"/>
</g>
<rect x="268.00" y="1109.90" width="7.50" height="1.80" fill="#e8e8e8"/>
<clipPath id="clipI6"><rect x="279.20" y="1030.00" width="61.10" height="82.30"/></clipPath>
<g clip-path="url(#clipI6)">
<rect x="279.20" y="1030.00" width="61.10" height="82.30" fill="#646464"/>
<rect x="279.20" y="1030.00" width="61.10" height="82.30" fill="#fff" filter="url(#gL2)"/>
<rect x="279.20" y="1030.00" width="61.10" height="82.30" fill="#fff" filter="url(#gD)"/>
</g>
<rect x="331.80" y="1109.90" width="7.50" height="1.80" fill="#e8e8e8"/>
<text x="240.00" y="943.00" font-size="6.4" text-anchor="middle">0 h</text>
<text x="307.00" y="943.00" font-size="6.4" text-anchor="middle">72 h</text>
<text x="378.00" y="943.00" font-size="6.4" text-anchor="middle">0 h</text>
<text x="441.00" y="943.00" font-size="6.4" text-anchor="middle">72 h</text>
<text transform="translate(214.60,986.50) rotate(-90)" font-size="5.9" text-anchor="middle" font-weight="bold" fill="#1a1a1a">sh<tspan font-style="italic">EV</tspan></text>
<text transform="translate(347.90,986.50) rotate(-90)" font-size="5.9" text-anchor="middle" font-weight="bold" fill="#1a1a1a">sh<tspan font-style="italic">FUT8_1</tspan></text>
<text transform="translate(214.60,1071.00) rotate(-90)" font-size="5.9" text-anchor="middle" font-weight="bold" fill="#1a1a1a">sh<tspan font-style="italic">FUT8_2</tspan></text>
<text x="400.80" y="1041.00" font-size="5.8" text-anchor="middle" font-style="italic">L1312</text>
<line x1="365.80" y1="1048.30" x2="365.80" y2="1094.50" stroke="#222" stroke-width="0.8"/>
<line x1="365.80" y1="1094.50" x2="436.90" y2="1094.50" stroke="#222" stroke-width="0.8"/>
<line x1="364.20" y1="1094.50" x2="365.80" y2="1094.50" stroke="#222" stroke-width="0.6"/>
<text x="363.60" y="1096.30" font-size="5.0" text-anchor="end" fill="#333">0</text>
<line x1="364.20" y1="1071.40" x2="365.80" y2="1071.40" stroke="#222" stroke-width="0.6"/>
<text x="363.60" y="1073.20" font-size="5.0" text-anchor="end" fill="#333">50</text>
<line x1="364.20" y1="1048.30" x2="365.80" y2="1048.30" stroke="#222" stroke-width="0.6"/>
<text x="363.60" y="1050.10" font-size="5.0" text-anchor="end" fill="#333">100</text>
<line x1="366.50" y1="1094.50" x2="366.50" y2="1096.00" stroke="#222" stroke-width="0.6"/>
<text x="366.50" y="1101.80" font-size="5.4" text-anchor="middle" fill="#333">0</text>
<line x1="400.95" y1="1094.50" x2="400.95" y2="1096.00" stroke="#222" stroke-width="0.6"/>
<text x="400.95" y="1101.80" font-size="5.4" text-anchor="middle" fill="#333">36</text>
<line x1="435.40" y1="1094.50" x2="435.40" y2="1096.00" stroke="#222" stroke-width="0.6"/>
<text x="435.40" y="1101.80" font-size="5.4" text-anchor="middle" fill="#333">72</text>
<text x="401.00" y="1108.00" font-size="4.9" text-anchor="middle">Hours after wound</text>
<text transform="translate(351.60,1071.50) rotate(-90)" font-size="4.95" text-anchor="middle" fill="#1a1a1a">Relative wound density (%)</text>
<path d="M366.50 1094.50L369.37 1093.88L372.24 1093.26L375.11 1092.40L377.98 1091.19L380.86 1089.98L383.73 1088.14L386.60 1086.12L389.47 1084.00L392.34 1081.40L395.21 1078.81L398.08 1076.07L400.95 1073.23L403.82 1070.39L406.69 1067.78L409.56 1065.18L412.44 1062.79L415.31 1060.79L418.18 1058.79L421.05 1057.10L423.92 1055.56L426.79 1054.06L429.66 1052.94L432.53 1051.82L435.40 1050.70" stroke="#111111" stroke-width="0.75" fill="none"/>
<circle cx="366.50" cy="1094.50" r="0.85" fill="#111111"/>
<circle cx="369.37" cy="1093.88" r="0.85" fill="#111111"/>
<circle cx="372.24" cy="1093.26" r="0.85" fill="#111111"/>
<circle cx="375.11" cy="1092.40" r="0.85" fill="#111111"/>
<circle cx="377.98" cy="1091.19" r="0.85" fill="#111111"/>
<circle cx="380.86" cy="1089.98" r="0.85" fill="#111111"/>
<circle cx="383.73" cy="1088.14" r="0.85" fill="#111111"/>
<circle cx="386.60" cy="1086.12" r="0.85" fill="#111111"/>
<circle cx="389.47" cy="1084.00" r="0.85" fill="#111111"/>
<circle cx="392.34" cy="1081.40" r="0.85" fill="#111111"/>
<circle cx="395.21" cy="1078.81" r="0.85" fill="#111111"/>
<circle cx="398.08" cy="1076.07" r="0.85" fill="#111111"/>
<circle cx="400.95" cy="1073.23" r="0.85" fill="#111111"/>
<circle cx="403.82" cy="1070.39" r="0.85" fill="#111111"/>
<circle cx="406.69" cy="1067.78" r="0.85" fill="#111111"/>
<circle cx="409.56" cy="1065.18" r="0.85" fill="#111111"/>
<circle cx="412.44" cy="1062.79" r="0.85" fill="#111111"/>
<circle cx="415.31" cy="1060.79" r="0.85" fill="#111111"/>
<circle cx="418.18" cy="1058.79" r="0.85" fill="#111111"/>
<circle cx="421.05" cy="1057.10" r="0.85" fill="#111111"/>
<circle cx="423.92" cy="1055.56" r="0.85" fill="#111111"/>
<circle cx="426.79" cy="1054.06" r="0.85" fill="#111111"/>
<circle cx="429.66" cy="1052.94" r="0.85" fill="#111111"/>
<circle cx="432.53" cy="1051.82" r="0.85" fill="#111111"/>
<circle cx="435.40" cy="1050.70" r="0.85" fill="#111111"/>
<path d="M366.50 1094.50L369.37 1093.98L372.24 1093.47L375.11 1092.77L377.98 1091.78L380.86 1090.80L383.73 1089.44L386.60 1087.97L389.47 1086.45L392.34 1084.73L395.21 1083.00L398.08 1081.27L400.95 1079.54L403.82 1077.80L406.69 1076.34L409.56 1074.90L412.44 1073.47L415.31 1072.05L418.18 1070.63L421.05 1069.19L423.92 1067.75L426.79 1066.35L429.66 1065.28L432.53 1064.20L435.40 1063.13" stroke="#e3262a" stroke-width="0.75" fill="none"/>
<circle cx="366.50" cy="1094.50" r="0.85" fill="#e3262a"/>
<circle cx="369.37" cy="1093.98" r="0.85" fill="#e3262a"/>
<circle cx="372.24" cy="1093.47" r="0.85" fill="#e3262a"/>
<circle cx="375.11" cy="1092.77" r="0.85" fill="#e3262a"/>
<circle cx="377.98" cy="1091.78" r="0.85" fill="#e3262a"/>
<circle cx="380.86" cy="1090.80" r="0.85" fill="#e3262a"/>
<circle cx="383.73" cy="1089.44" r="0.85" fill="#e3262a"/>
<circle cx="386.60" cy="1087.97" r="0.85" fill="#e3262a"/>
<circle cx="389.47" cy="1086.45" r="0.85" fill="#e3262a"/>
<circle cx="392.34" cy="1084.73" r="0.85" fill="#e3262a"/>
<circle cx="395.21" cy="1083.00" r="0.85" fill="#e3262a"/>
<circle cx="398.08" cy="1081.27" r="0.85" fill="#e3262a"/>
<circle cx="400.95" cy="1079.54" r="0.85" fill="#e3262a"/>
<circle cx="403.82" cy="1077.80" r="0.85" fill="#e3262a"/>
<circle cx="406.69" cy="1076.34" r="0.85" fill="#e3262a"/>
<circle cx="409.56" cy="1074.90" r="0.85" fill="#e3262a"/>
<circle cx="412.44" cy="1073.47" r="0.85" fill="#e3262a"/>
<circle cx="415.31" cy="1072.05" r="0.85" fill="#e3262a"/>
<circle cx="418.18" cy="1070.63" r="0.85" fill="#e3262a"/>
<circle cx="421.05" cy="1069.19" r="0.85" fill="#e3262a"/>
<circle cx="423.92" cy="1067.75" r="0.85" fill="#e3262a"/>
<circle cx="426.79" cy="1066.35" r="0.85" fill="#e3262a"/>
<circle cx="429.66" cy="1065.28" r="0.85" fill="#e3262a"/>
<circle cx="432.53" cy="1064.20" r="0.85" fill="#e3262a"/>
<circle cx="435.40" cy="1063.13" r="0.85" fill="#e3262a"/>
<path d="M366.50 1094.50L369.37 1093.98L372.24 1093.47L375.11 1092.79L377.98 1091.86L380.86 1090.93L383.73 1089.68L386.60 1088.33L389.47 1086.95L392.34 1085.44L395.21 1083.93L398.08 1082.41L400.95 1080.88L403.82 1079.36L406.69 1078.01L409.56 1076.68L412.44 1075.47L415.31 1074.50L418.18 1073.54L421.05 1072.64L423.92 1071.77L426.79 1070.93L429.66 1070.34L432.53 1069.76L435.40 1069.18" stroke="#d8262e" stroke-width="0.75" fill="none"/>
<rect x="365.70" y="1093.70" width="1.60" height="1.60" fill="#d8262e"/>
<rect x="368.57" y="1093.18" width="1.60" height="1.60" fill="#d8262e"/>
<rect x="371.44" y="1092.67" width="1.60" height="1.60" fill="#d8262e"/>
<rect x="374.31" y="1091.99" width="1.60" height="1.60" fill="#d8262e"/>
<rect x="377.18" y="1091.06" width="1.60" height="1.60" fill="#d8262e"/>
<rect x="380.06" y="1090.13" width="1.60" height="1.60" fill="#d8262e"/>
<rect x="382.93" y="1088.88" width="1.60" height="1.60" fill="#d8262e"/>
<rect x="385.80" y="1087.53" width="1.60" height="1.60" fill="#d8262e"/>
<rect x="388.67" y="1086.15" width="1.60" height="1.60" fill="#d8262e"/>
<rect x="391.54" y="1084.64" width="1.60" height="1.60" fill="#d8262e"/>
<rect x="394.41" y="1083.13" width="1.60" height="1.60" fill="#d8262e"/>
<rect x="397.28" y="1081.61" width="1.60" height="1.60" fill="#d8262e"/>
<rect x="400.15" y="1080.08" width="1.60" height="1.60" fill="#d8262e"/>
<rect x="403.02" y="1078.56" width="1.60" height="1.60" fill="#d8262e"/>
<rect x="405.89" y="1077.21" width="1.60" height="1.60" fill="#d8262e"/>
<rect x="408.76" y="1075.88" width="1.60" height="1.60" fill="#d8262e"/>
<rect x="411.64" y="1074.67" width="1.60" height="1.60" fill="#d8262e"/>
<rect x="414.51" y="1073.70" width="1.60" height="1.60" fill="#d8262e"/>
<rect x="417.38" y="1072.74" width="1.60" height="1.60" fill="#d8262e"/>
<rect x="420.25" y="1071.84" width="1.60" height="1.60" fill="#d8262e"/>
<rect x="423.12" y="1070.97" width="1.60" height="1.60" fill="#d8262e"/>
<rect x="425.99" y="1070.13" width="1.60" height="1.60" fill="#d8262e"/>
<rect x="428.86" y="1069.54" width="1.60" height="1.60" fill="#d8262e"/>
<rect x="431.73" y="1068.96" width="1.60" height="1.60" fill="#d8262e"/>
<rect x="434.60" y="1068.38" width="1.60" height="1.60" fill="#d8262e"/>
<line x1="444.40" y1="1057.50" x2="448.80" y2="1057.50" stroke="#111" stroke-width="0.7"/>
<circle cx="446.6" cy="1057.5" r="0.7" fill="#111"/>
<text x="451.90" y="1059.30" font-size="5.1">sh<tspan font-style="italic">EV</tspan></text>
<line x1="444.40" y1="1064.75" x2="448.80" y2="1064.75" stroke="#e02020" stroke-width="0.7"/>
<circle cx="446.6" cy="1064.75" r="0.7" fill="#e02020"/>
<text x="451.90" y="1066.55" font-size="5.1">sh<tspan font-style="italic">FUT8_1</tspan></text>
<line x1="444.40" y1="1071.60" x2="448.80" y2="1071.60" stroke="#d42a2a" stroke-width="0.7"/>
<circle cx="446.6" cy="1071.6" r="0.7" fill="#d42a2a"/>
<text x="451.90" y="1073.40" font-size="5.1">sh<tspan font-style="italic">FUT8_2</tspan></text>
</g>
</svg>
</body></html>
